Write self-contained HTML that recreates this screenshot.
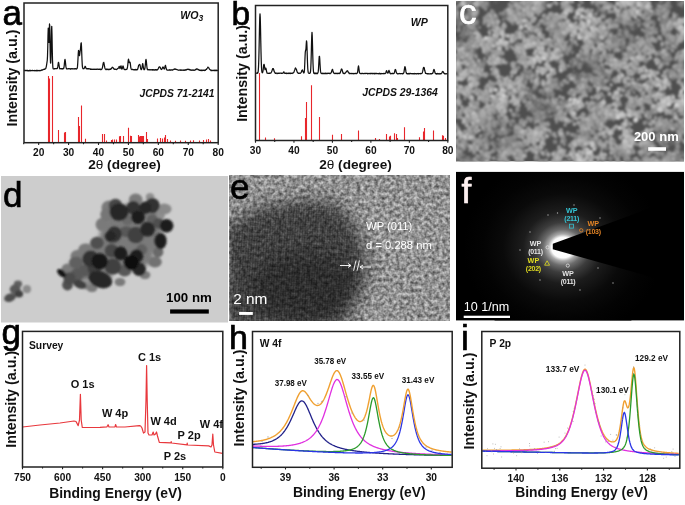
<!DOCTYPE html>
<html><head><meta charset="utf-8"><title>Figure</title>
<style>html,body{margin:0;padding:0;background:#fff;}svg{display:block;}text{font-family:"Liberation Sans", Arial, sans-serif;}</style></head>
<body><svg width="685" height="505" viewBox="0 0 685 505">
<rect width="685" height="505" fill="#fff"/>
<path d="M24.00,70.51 L24.25,70.43 L24.50,70.68 L24.75,70.39 L25.00,70.62 L25.25,70.53 L25.50,70.38 L25.75,70.60 L26.00,70.37 L26.25,70.57 L26.50,70.38 L26.75,70.40 L27.00,70.56 L27.25,70.76 L27.50,70.41 L27.75,70.46 L28.00,70.66 L28.25,70.82 L28.50,70.64 L28.75,70.55 L29.00,70.84 L29.25,70.37 L29.50,70.78 L29.75,70.49 L30.00,70.42 L30.25,70.41 L30.50,70.50 L30.75,70.76 L31.00,70.44 L31.25,70.64 L31.50,70.67 L31.75,70.54 L32.00,70.62 L32.25,70.38 L32.50,70.38 L32.75,70.45 L33.00,70.69 L33.25,70.56 L33.50,70.51 L33.75,70.64 L34.00,70.58 L34.25,70.50 L34.50,70.75 L34.75,70.70 L35.00,70.47 L35.25,70.64 L35.50,70.61 L35.75,70.79 L36.00,70.71 L36.25,70.49 L36.50,70.84 L36.75,70.41 L37.00,70.56 L37.25,70.73 L37.50,70.43 L37.75,70.59 L38.00,70.37 L38.25,70.68 L38.50,70.73 L38.75,70.64 L39.00,70.79 L39.25,70.51 L39.50,70.70 L39.75,70.65 L40.00,70.64 L40.25,70.50 L40.50,70.62 L40.75,70.60 L41.00,70.29 L41.25,70.31 L41.50,69.93 L41.75,70.18 L42.00,70.07 L42.25,70.17 L42.50,70.01 L42.75,69.67 L43.00,69.64 L43.25,69.71 L43.50,69.31 L43.75,69.46 L44.00,69.23 L44.25,69.13 L44.50,69.03 L44.75,69.31 L45.00,68.91 L45.25,68.86 L45.50,68.77 L45.75,68.69 L46.00,67.67 L46.25,66.83 L46.50,65.38 L46.75,63.82 L47.00,62.20 L47.25,60.47 L47.50,56.27 L47.75,47.57 L48.00,35.37 L48.25,28.14 L48.50,31.73 L48.75,40.35 L49.00,42.41 L49.25,33.58 L49.50,23.96 L49.75,26.19 L50.00,40.02 L50.25,54.76 L50.50,62.77 L50.75,63.08 L51.00,55.80 L51.25,42.85 L51.50,30.25 L51.75,26.36 L52.00,34.54 L52.25,48.58 L52.50,60.07 L52.75,65.76 L53.00,68.34 L53.25,68.83 L53.50,68.97 L53.75,68.95 L54.00,68.75 L54.25,68.75 L54.50,68.60 L54.75,68.87 L55.00,68.58 L55.25,68.58 L55.50,68.65 L55.75,68.63 L56.00,68.72 L56.25,68.58 L56.50,68.55 L56.75,68.61 L57.00,68.53 L57.25,68.45 L57.50,67.70 L57.75,66.91 L58.00,64.98 L58.25,62.98 L58.50,62.28 L58.75,63.08 L59.00,64.85 L59.25,66.53 L59.50,68.11 L59.75,68.77 L60.00,68.71 L60.25,68.78 L60.50,68.59 L60.75,68.60 L61.00,68.72 L61.25,68.68 L61.50,68.96 L61.75,68.63 L62.00,68.56 L62.25,69.03 L62.50,68.81 L62.75,68.62 L63.00,68.81 L63.25,68.51 L63.50,68.59 L63.75,68.34 L64.00,67.22 L64.25,65.27 L64.50,62.59 L64.75,60.44 L65.00,59.43 L65.25,60.64 L65.50,62.73 L65.75,65.31 L66.00,66.95 L66.25,67.97 L66.50,68.73 L66.75,68.98 L67.00,68.96 L67.25,68.95 L67.50,68.96 L67.75,68.92 L68.00,68.66 L68.25,68.81 L68.50,68.73 L68.75,68.56 L69.00,68.56 L69.25,68.69 L69.50,68.68 L69.75,68.90 L70.00,69.03 L70.25,68.77 L70.50,69.02 L70.75,69.04 L71.00,69.03 L71.25,68.73 L71.50,68.66 L71.75,68.66 L72.00,68.65 L72.25,68.65 L72.50,68.86 L72.75,69.00 L73.00,68.97 L73.25,68.79 L73.50,68.88 L73.75,68.95 L74.00,68.59 L74.25,68.88 L74.50,69.00 L74.75,68.94 L75.00,68.93 L75.25,68.79 L75.50,68.64 L75.75,68.94 L76.00,68.72 L76.25,68.95 L76.50,69.02 L76.75,68.68 L77.00,68.48 L77.25,68.11 L77.50,66.41 L77.75,63.03 L78.00,58.41 L78.25,53.49 L78.50,50.65 L78.75,50.52 L79.00,52.55 L79.25,55.23 L79.50,55.61 L79.75,53.83 L80.00,51.84 L80.25,50.70 L80.50,48.85 L80.75,45.82 L81.00,43.30 L81.25,42.87 L81.50,46.68 L81.75,53.52 L82.00,59.91 L82.25,64.86 L82.50,67.40 L82.75,68.17 L83.00,68.56 L83.25,68.67 L83.50,68.66 L83.75,68.81 L84.00,68.54 L84.25,68.35 L84.50,67.68 L84.75,67.34 L85.00,66.42 L85.25,66.29 L85.50,66.75 L85.75,67.64 L86.00,68.07 L86.25,68.73 L86.50,68.72 L86.75,68.80 L87.00,68.81 L87.25,68.56 L87.50,68.77 L87.75,68.64 L88.00,68.55 L88.25,68.95 L88.50,68.64 L88.75,68.79 L89.00,68.91 L89.25,68.83 L89.50,68.71 L89.75,68.81 L90.00,68.83 L90.25,69.34 L90.50,69.01 L90.75,69.24 L91.00,69.08 L91.25,69.10 L91.50,69.35 L91.75,69.22 L92.00,69.25 L92.25,69.35 L92.50,69.43 L92.75,69.20 L93.00,69.29 L93.25,69.24 L93.50,69.24 L93.75,69.33 L94.00,69.22 L94.25,69.26 L94.50,69.23 L94.75,69.47 L95.00,69.35 L95.25,69.44 L95.50,69.48 L95.75,69.14 L96.00,69.29 L96.25,69.48 L96.50,69.43 L96.75,69.09 L97.00,69.08 L97.25,69.24 L97.50,69.06 L97.75,69.15 L98.00,69.07 L98.25,69.37 L98.50,69.43 L98.75,69.49 L99.00,69.12 L99.25,69.40 L99.50,69.38 L99.75,69.12 L100.00,69.49 L100.25,69.54 L100.50,69.16 L100.75,69.53 L101.00,69.25 L101.25,69.28 L101.50,69.48 L101.75,69.27 L102.00,68.64 L102.25,68.21 L102.50,67.31 L102.75,65.93 L103.00,64.37 L103.25,63.12 L103.50,62.58 L103.75,62.32 L104.00,63.48 L104.25,64.81 L104.50,66.07 L104.75,67.46 L105.00,68.47 L105.25,68.93 L105.50,68.96 L105.75,69.54 L106.00,69.48 L106.25,69.59 L106.50,69.17 L106.75,69.25 L107.00,69.14 L107.25,69.51 L107.50,69.26 L107.75,69.19 L108.00,69.34 L108.25,69.59 L108.50,69.54 L108.75,69.27 L109.00,69.21 L109.25,69.60 L109.50,69.42 L109.75,69.48 L110.00,69.15 L110.25,69.09 L110.50,69.33 L110.75,69.06 L111.00,68.69 L111.25,68.86 L111.50,68.39 L111.75,68.14 L112.00,67.48 L112.25,67.65 L112.50,67.18 L112.75,67.66 L113.00,67.67 L113.25,67.92 L113.50,68.37 L113.75,68.88 L114.00,68.82 L114.25,68.95 L114.50,69.29 L114.75,69.23 L115.00,69.21 L115.25,69.26 L115.50,69.22 L115.75,69.31 L116.00,69.36 L116.25,69.36 L116.50,69.58 L116.75,69.29 L117.00,69.28 L117.25,68.89 L117.50,68.69 L117.75,68.28 L118.00,68.31 L118.25,68.15 L118.50,68.23 L118.75,67.47 L119.00,66.54 L119.25,66.48 L119.50,67.28 L119.75,67.74 L120.00,68.54 L120.25,67.97 L120.50,66.96 L120.75,66.16 L121.00,65.84 L121.25,66.77 L121.50,68.07 L121.75,69.06 L122.00,68.96 L122.25,68.77 L122.50,67.72 L122.75,66.57 L123.00,65.95 L123.25,66.43 L123.50,67.41 L123.75,68.47 L124.00,69.03 L124.25,69.59 L124.50,69.41 L124.75,69.38 L125.00,69.34 L125.25,69.72 L125.50,69.74 L125.75,69.64 L126.00,69.45 L126.25,69.42 L126.50,69.42 L126.75,69.40 L127.00,68.95 L127.25,68.37 L127.50,66.89 L127.75,65.10 L128.00,62.55 L128.25,60.16 L128.50,59.09 L128.75,60.08 L129.00,61.27 L129.25,62.51 L129.50,62.47 L129.75,62.10 L130.00,62.04 L130.25,63.19 L130.50,65.11 L130.75,67.30 L131.00,68.40 L131.25,69.18 L131.50,69.33 L131.75,69.55 L132.00,69.39 L132.25,69.38 L132.50,69.53 L132.75,69.49 L133.00,69.67 L133.25,69.65 L133.50,69.76 L133.75,69.72 L134.00,69.75 L134.25,69.83 L134.50,69.59 L134.75,69.56 L135.00,69.89 L135.25,69.48 L135.50,69.77 L135.75,69.73 L136.00,69.43 L136.25,69.83 L136.50,69.86 L136.75,69.73 L137.00,69.77 L137.25,69.77 L137.50,69.26 L137.75,69.00 L138.00,68.10 L138.25,67.02 L138.50,65.81 L138.75,65.14 L139.00,64.87 L139.25,64.93 L139.50,64.53 L139.75,64.46 L140.00,64.90 L140.25,66.17 L140.50,67.68 L140.75,68.83 L141.00,69.22 L141.25,69.72 L141.50,69.40 L141.75,68.80 L142.00,67.56 L142.25,65.86 L142.50,64.25 L142.75,63.58 L143.00,64.93 L143.25,66.62 L143.50,68.09 L143.75,69.10 L144.00,69.60 L144.25,69.41 L144.50,69.60 L144.75,68.83 L145.00,67.53 L145.25,65.51 L145.50,62.95 L145.75,60.18 L146.00,59.42 L146.25,60.57 L146.50,62.84 L146.75,65.58 L147.00,67.76 L147.25,69.07 L147.50,69.65 L147.75,69.77 L148.00,69.84 L148.25,69.57 L148.50,69.61 L148.75,69.66 L149.00,69.91 L149.25,69.69 L149.50,69.83 L149.75,69.55 L150.00,69.58 L150.25,69.69 L150.50,69.89 L150.75,69.90 L151.00,69.90 L151.25,69.71 L151.50,69.82 L151.75,69.80 L152.00,69.80 L152.25,69.63 L152.50,70.02 L152.75,69.68 L153.00,70.07 L153.25,70.05 L153.50,69.59 L153.75,69.82 L154.00,70.00 L154.25,70.08 L154.50,69.82 L154.75,69.73 L155.00,69.70 L155.25,70.08 L155.50,69.71 L155.75,69.90 L156.00,69.68 L156.25,69.87 L156.50,70.08 L156.75,69.65 L157.00,69.96 L157.25,69.74 L157.50,69.81 L157.75,69.51 L158.00,68.97 L158.25,68.90 L158.50,68.21 L158.75,67.46 L159.00,66.99 L159.25,66.91 L159.50,66.78 L159.75,66.82 L160.00,67.07 L160.25,67.64 L160.50,68.14 L160.75,68.88 L161.00,68.84 L161.25,69.44 L161.50,69.53 L161.75,69.00 L162.00,69.01 L162.25,68.35 L162.50,67.84 L162.75,67.07 L163.00,66.93 L163.25,67.13 L163.50,67.91 L163.75,68.31 L164.00,68.72 L164.25,68.99 L164.50,68.64 L164.75,67.64 L165.00,66.39 L165.25,65.75 L165.50,65.38 L165.75,66.61 L166.00,67.62 L166.25,68.77 L166.50,69.57 L166.75,69.69 L167.00,69.88 L167.25,70.20 L167.50,70.17 L167.75,70.13 L168.00,70.05 L168.25,70.19 L168.50,70.21 L168.75,70.01 L169.00,70.10 L169.25,69.77 L169.50,70.11 L169.75,69.97 L170.00,70.13 L170.25,70.07 L170.50,69.90 L170.75,69.78 L171.00,70.22 L171.25,69.82 L171.50,69.99 L171.75,69.91 L172.00,69.87 L172.25,70.07 L172.50,70.14 L172.75,69.73 L173.00,69.85 L173.25,69.57 L173.50,69.58 L173.75,69.37 L174.00,69.13 L174.25,69.01 L174.50,68.94 L174.75,69.22 L175.00,69.00 L175.25,68.89 L175.50,69.30 L175.75,69.44 L176.00,69.29 L176.25,69.27 L176.50,69.43 L176.75,69.50 L177.00,69.73 L177.25,69.69 L177.50,69.82 L177.75,69.88 L178.00,70.07 L178.25,70.25 L178.50,70.19 L178.75,70.04 L179.00,70.04 L179.25,70.10 L179.50,70.03 L179.75,70.02 L180.00,69.88 L180.25,69.99 L180.50,70.34 L180.75,69.92 L181.00,70.11 L181.25,70.18 L181.50,70.30 L181.75,69.98 L182.00,70.01 L182.25,70.00 L182.50,70.07 L182.75,70.10 L183.00,70.35 L183.25,70.30 L183.50,70.31 L183.75,69.88 L184.00,69.88 L184.25,70.21 L184.50,70.29 L184.75,70.05 L185.00,70.07 L185.25,69.74 L185.50,69.88 L185.75,70.09 L186.00,69.96 L186.25,69.89 L186.50,69.87 L186.75,69.42 L187.00,69.27 L187.25,69.22 L187.50,69.35 L187.75,69.40 L188.00,69.52 L188.25,69.43 L188.50,69.43 L188.75,69.54 L189.00,69.46 L189.25,69.60 L189.50,69.43 L189.75,69.89 L190.00,69.70 L190.25,70.13 L190.50,70.06 L190.75,69.95 L191.00,69.90 L191.25,70.00 L191.50,70.23 L191.75,70.28 L192.00,70.00 L192.25,69.99 L192.50,70.23 L192.75,70.26 L193.00,70.17 L193.25,70.08 L193.50,70.27 L193.75,69.96 L194.00,70.08 L194.25,70.13 L194.50,70.33 L194.75,70.10 L195.00,70.13 L195.25,69.80 L195.50,69.54 L195.75,69.39 L196.00,69.59 L196.25,69.32 L196.50,69.00 L196.75,68.79 L197.00,69.00 L197.25,69.12 L197.50,69.07 L197.75,69.11 L198.00,69.47 L198.25,69.76 L198.50,69.57 L198.75,69.62 L199.00,69.89 L199.25,70.03 L199.50,70.24 L199.75,70.05 L200.00,70.39 L200.25,70.39 L200.50,70.29 L200.75,70.15 L201.00,70.54 L201.25,70.22 L201.50,70.47 L201.75,70.18 L202.00,70.18 L202.25,70.45 L202.50,70.22 L202.75,70.55 L203.00,70.33 L203.25,70.18 L203.50,70.20 L203.75,70.29 L204.00,70.42 L204.25,70.56 L204.50,70.15 L204.75,70.25 L205.00,70.13 L205.25,70.45 L205.50,69.94 L205.75,69.74 L206.00,69.53 L206.25,69.41 L206.50,69.31 L206.75,68.89 L207.00,68.38 L207.25,68.10 L207.50,67.72 L207.75,67.19 L208.00,67.04 L208.25,67.50 L208.50,67.64 L208.75,67.63 L209.00,68.37 L209.25,68.66 L209.50,69.08 L209.75,69.42 L210.00,69.63 L210.25,69.76 L210.50,70.05 L210.75,70.19 L211.00,70.56 L211.25,70.18 L211.50,70.63 L211.75,70.26 L212.00,70.34 L212.25,70.58 L212.50,70.59 L212.75,70.39 L213.00,70.20 L213.25,70.42 L213.50,70.37 L213.75,70.65 L214.00,70.29 L214.25,70.37 L214.50,70.64 L214.75,70.21 L215.00,70.41 L215.25,70.61 L215.50,70.59 L215.75,70.23 L216.00,70.23 L216.25,70.24 L216.50,70.68 L216.75,70.35 L217.00,70.59 L217.25,70.67 L217.50,70.39 L217.75,70.36 L218.00,70.71" fill="none" stroke="#111" stroke-width="1.25" stroke-linejoin="round"/>
<path d="M48.5,142.7 V76.1 M49.5,142.7 V78.5 M52.5,142.7 V76.1 M58.5,142.7 V130 M64.5,142.7 V132.4 M65.5,142.7 V131.9 M78.5,142.7 V117 M79.5,142.7 V126 M81.5,142.7 V105.4 M85.5,142.7 V138.7 M102.5,142.7 V133.9 M104.5,142.7 V133.9 M106.5,142.7 V140.5 M111.5,142.7 V140 M112.5,142.7 V139.5 M114.5,142.7 V139.5 M116.5,142.7 V139.5 M119.5,142.7 V136.3 M120.5,142.7 V136 M123.5,142.7 V136 M128.5,142.7 V127.7 M130.5,142.7 V135.7 M131.5,142.7 V136 M138.5,142.7 V135 M139.5,142.7 V136.5 M140.5,142.7 V136 M141.5,142.7 V136 M142.5,142.7 V136 M143.5,142.7 V136 M146.5,142.7 V132.1 M147.5,142.7 V139 M157.5,142.7 V138.5 M160.5,142.7 V138 M162.5,142.7 V138.5 M164.5,142.7 V137.5 M165.5,142.7 V135 M167.5,142.7 V139 M170.5,142.7 V140.5 M175.5,142.7 V140.8 M180.5,142.7 V140.5 M185.5,142.7 V140.8 M190.5,142.7 V140.5 M193.5,142.7 V140.2 M199.5,142.7 V140.5 M203.5,142.7 V140 M206.5,142.7 V139.5 M208.5,142.7 V139 M210.5,142.7 V140.5 " stroke="#e8262b" stroke-width="1.1" fill="none"/>
<rect x="24" y="3" width="194.2" height="139.7" fill="none" stroke="#222" stroke-width="1.5"/>
<path d="M38.66,142.7 v2.2 M68.58,142.7 v2.2 M98.50,142.7 v2.2 M128.42,142.7 v2.2 M158.34,142.7 v2.2 M188.26,142.7 v2.2 M218.18,142.7 v2.2 M23.70,142.7 v1.54 M53.62,142.7 v1.54 M83.54,142.7 v1.54 M113.46,142.7 v1.54 M143.38,142.7 v1.54 M173.30,142.7 v1.54 M203.22,142.7 v1.54 " stroke="#222" stroke-width="1.1" fill="none"/>
<text x="38.7" y="156" font-size="10.2" font-weight="bold" fill="#111" text-anchor="middle" >20</text>
<text x="68.6" y="156" font-size="10.2" font-weight="bold" fill="#111" text-anchor="middle" >30</text>
<text x="98.5" y="156" font-size="10.2" font-weight="bold" fill="#111" text-anchor="middle" >40</text>
<text x="128.4" y="156" font-size="10.2" font-weight="bold" fill="#111" text-anchor="middle" >50</text>
<text x="158.3" y="156" font-size="10.2" font-weight="bold" fill="#111" text-anchor="middle" >60</text>
<text x="188.3" y="156" font-size="10.2" font-weight="bold" fill="#111" text-anchor="middle" >70</text>
<text x="218.2" y="156" font-size="10.2" font-weight="bold" fill="#111" text-anchor="middle" >80</text>
<text x="124.5" y="168.5" font-size="13.6" font-weight="bold" fill="#111" text-anchor="middle">2<tspan font-weight="normal">θ</tspan> (degree)</text>
<text x="180.3" y="18.8" font-size="10.6" font-weight="bold" fill="#111" text-anchor="start" font-style="italic" >WO<tspan font-size="8.5" dy="2.2">3</tspan></text>
<text x="139.6" y="97" font-size="10.3" font-weight="bold" fill="#111" text-anchor="start" font-style="italic" >JCPDS 71-2141</text>
<text transform="translate(16.8,78) rotate(-90)" font-size="14.3" font-weight="bold" fill="#111" text-anchor="middle">Intensity (a.u.)</text>
<text x="2.6" y="24.9" font-size="35" fill="#000" stroke="#000" stroke-width="0.7">a</text>
<path d="M256.00,73.26 L256.25,73.08 L256.50,73.31 L256.75,73.11 L257.00,73.09 L257.25,72.93 L257.50,73.23 L257.75,73.08 L258.00,72.27 L258.25,70.83 L258.50,67.00 L258.75,61.04 L259.00,51.82 L259.25,40.03 L259.50,27.48 L259.75,17.51 L260.00,13.78 L260.25,17.53 L260.50,27.25 L260.75,40.02 L261.00,51.68 L261.25,61.33 L261.50,67.37 L261.75,70.77 L262.00,72.32 L262.25,72.81 L262.50,72.64 L262.75,72.08 L263.00,70.90 L263.25,69.23 L263.50,66.64 L263.75,64.80 L264.00,64.32 L264.25,64.78 L264.50,66.45 L264.75,68.29 L265.00,69.55 L265.25,69.26 L265.50,68.70 L265.75,68.09 L266.00,68.61 L266.25,69.62 L266.50,71.06 L266.75,72.17 L267.00,72.94 L267.25,73.26 L267.50,73.19 L267.75,73.10 L268.00,73.20 L268.25,73.30 L268.50,73.33 L268.75,73.37 L269.00,73.42 L269.25,73.32 L269.50,73.05 L269.75,73.41 L270.00,73.12 L270.25,73.23 L270.50,73.08 L270.75,73.16 L271.00,72.70 L271.25,72.40 L271.50,71.94 L271.75,71.26 L272.00,70.88 L272.25,69.93 L272.50,69.09 L272.75,68.63 L273.00,68.75 L273.25,68.68 L273.50,69.05 L273.75,70.05 L274.00,70.77 L274.25,71.69 L274.50,71.87 L274.75,72.53 L275.00,73.02 L275.25,73.22 L275.50,73.37 L275.75,72.99 L276.00,73.14 L276.25,73.07 L276.50,73.11 L276.75,73.50 L277.00,73.31 L277.25,73.48 L277.50,73.20 L277.75,73.45 L278.00,73.24 L278.25,73.15 L278.50,73.41 L278.75,73.49 L279.00,73.07 L279.25,73.32 L279.50,73.33 L279.75,73.13 L280.00,73.21 L280.25,73.10 L280.50,73.13 L280.75,73.15 L281.00,73.33 L281.25,73.35 L281.50,73.13 L281.75,73.04 L282.00,73.19 L282.25,73.37 L282.50,73.12 L282.75,73.15 L283.00,72.98 L283.25,72.97 L283.50,72.41 L283.75,71.89 L284.00,72.04 L284.25,72.61 L284.50,73.06 L284.75,73.29 L285.00,73.07 L285.25,73.12 L285.50,73.39 L285.75,73.25 L286.00,73.18 L286.25,73.20 L286.50,73.52 L286.75,73.20 L287.00,73.33 L287.25,73.23 L287.50,73.26 L287.75,73.48 L288.00,73.55 L288.25,73.23 L288.50,73.15 L288.75,73.42 L289.00,73.15 L289.25,73.06 L289.50,73.50 L289.75,73.27 L290.00,73.47 L290.25,73.26 L290.50,73.50 L290.75,73.29 L291.00,73.14 L291.25,73.07 L291.50,73.33 L291.75,73.38 L292.00,73.51 L292.25,73.09 L292.50,73.33 L292.75,73.16 L293.00,73.14 L293.25,72.81 L293.50,72.63 L293.75,72.38 L294.00,72.08 L294.25,71.02 L294.50,70.46 L294.75,69.83 L295.00,69.19 L295.25,68.26 L295.50,67.94 L295.75,68.38 L296.00,68.74 L296.25,69.09 L296.50,69.62 L296.75,70.84 L297.00,71.31 L297.25,72.19 L297.50,72.53 L297.75,72.97 L298.00,72.87 L298.25,73.32 L298.50,73.11 L298.75,73.25 L299.00,73.49 L299.25,73.49 L299.50,73.17 L299.75,73.19 L300.00,73.27 L300.25,73.30 L300.50,73.16 L300.75,72.86 L301.00,72.62 L301.25,72.37 L301.50,71.80 L301.75,70.66 L302.00,70.32 L302.25,70.14 L302.50,69.90 L302.75,70.79 L303.00,71.13 L303.25,72.06 L303.50,72.60 L303.75,72.97 L304.00,72.79 L304.25,72.02 L304.50,69.52 L304.75,64.33 L305.00,57.81 L305.25,52.51 L305.50,50.67 L305.75,50.12 L306.00,48.32 L306.25,44.08 L306.50,40.79 L306.75,42.03 L307.00,47.57 L307.25,55.34 L307.50,62.69 L307.75,68.19 L308.00,71.04 L308.25,72.44 L308.50,73.11 L308.75,73.10 L309.00,73.32 L309.25,73.36 L309.50,73.13 L309.75,73.40 L310.00,73.00 L310.25,72.90 L310.50,71.71 L310.75,68.71 L311.00,62.95 L311.25,54.66 L311.50,44.43 L311.75,36.12 L312.00,32.32 L312.25,36.08 L312.50,44.74 L312.75,54.78 L313.00,63.34 L313.25,68.56 L313.50,71.82 L313.75,72.79 L314.00,73.45 L314.25,73.55 L314.50,73.20 L314.75,73.52 L315.00,73.60 L315.25,73.16 L315.50,73.31 L315.75,73.51 L316.00,73.21 L316.25,73.58 L316.50,73.27 L316.75,73.54 L317.00,73.21 L317.25,73.38 L317.50,73.55 L317.75,73.05 L318.00,72.58 L318.25,71.42 L318.50,68.69 L318.75,64.41 L319.00,59.73 L319.25,56.27 L319.50,56.31 L319.75,59.12 L320.00,63.89 L320.25,67.90 L320.50,71.16 L320.75,72.34 L321.00,73.16 L321.25,73.41 L321.50,73.32 L321.75,73.58 L322.00,73.43 L322.25,73.44 L322.50,73.59 L322.75,73.21 L323.00,73.65 L323.25,73.47 L323.50,73.35 L323.75,73.56 L324.00,73.29 L324.25,73.65 L324.50,73.45 L324.75,73.34 L325.00,73.54 L325.25,73.38 L325.50,73.25 L325.75,73.53 L326.00,73.19 L326.25,73.57 L326.50,73.29 L326.75,73.48 L327.00,73.66 L327.25,73.46 L327.50,73.50 L327.75,73.32 L328.00,73.17 L328.25,73.19 L328.50,73.25 L328.75,73.48 L329.00,73.39 L329.25,73.43 L329.50,73.62 L329.75,73.24 L330.00,73.29 L330.25,73.50 L330.50,73.16 L330.75,73.09 L331.00,73.09 L331.25,72.59 L331.50,72.05 L331.75,71.05 L332.00,70.24 L332.25,69.57 L332.50,69.31 L332.75,70.09 L333.00,70.98 L333.25,71.77 L333.50,72.90 L333.75,72.99 L334.00,73.15 L334.25,73.20 L334.50,73.50 L334.75,73.62 L335.00,73.58 L335.25,73.39 L335.50,73.32 L335.75,73.20 L336.00,73.52 L336.25,73.47 L336.50,73.37 L336.75,73.52 L337.00,73.42 L337.25,73.67 L337.50,73.56 L337.75,73.32 L338.00,73.65 L338.25,73.22 L338.50,73.47 L338.75,73.40 L339.00,73.32 L339.25,73.22 L339.50,73.54 L339.75,73.07 L340.00,73.15 L340.25,72.97 L340.50,71.95 L340.75,71.13 L341.00,70.35 L341.25,69.44 L341.50,69.02 L341.75,69.16 L342.00,69.43 L342.25,70.40 L342.50,71.37 L342.75,72.05 L343.00,73.04 L343.25,73.32 L343.50,73.46 L343.75,73.18 L344.00,73.62 L344.25,73.57 L344.50,73.42 L344.75,73.52 L345.00,73.31 L345.25,73.07 L345.50,72.81 L345.75,72.58 L346.00,72.10 L346.25,71.80 L346.50,71.55 L346.75,71.12 L347.00,70.94 L347.25,70.81 L347.50,70.73 L347.75,71.20 L348.00,71.58 L348.25,72.22 L348.50,72.51 L348.75,72.73 L349.00,73.18 L349.25,73.51 L349.50,73.24 L349.75,73.62 L350.00,73.22 L350.25,73.36 L350.50,73.35 L350.75,73.61 L351.00,73.71 L351.25,73.61 L351.50,73.40 L351.75,73.68 L352.00,73.41 L352.25,73.36 L352.50,73.70 L352.75,73.56 L353.00,73.59 L353.25,73.58 L353.50,73.74 L353.75,73.48 L354.00,73.67 L354.25,73.60 L354.50,73.68 L354.75,73.47 L355.00,73.61 L355.25,73.54 L355.50,73.41 L355.75,73.36 L356.00,73.56 L356.25,73.29 L356.50,73.71 L356.75,73.31 L357.00,73.19 L357.25,72.99 L357.50,72.73 L357.75,71.06 L358.00,68.90 L358.25,66.82 L358.50,65.97 L358.75,67.16 L359.00,69.14 L359.25,71.24 L359.50,72.64 L359.75,72.98 L360.00,73.48 L360.25,73.43 L360.50,73.67 L360.75,73.68 L361.00,73.71 L361.25,73.30 L361.50,73.70 L361.75,73.73 L362.00,73.74 L362.25,73.33 L362.50,73.38 L362.75,73.33 L363.00,73.29 L363.25,73.70 L363.50,73.68 L363.75,73.59 L364.00,73.69 L364.25,73.59 L364.50,73.42 L364.75,73.33 L365.00,73.33 L365.25,73.66 L365.50,73.38 L365.75,73.44 L366.00,73.49 L366.25,73.29 L366.50,73.41 L366.75,73.43 L367.00,73.64 L367.25,73.47 L367.50,73.45 L367.75,73.77 L368.00,73.54 L368.25,73.72 L368.50,73.60 L368.75,73.31 L369.00,73.50 L369.25,73.51 L369.50,73.68 L369.75,73.47 L370.00,73.65 L370.25,73.56 L370.50,73.40 L370.75,73.73 L371.00,73.34 L371.25,73.71 L371.50,73.38 L371.75,73.30 L372.00,73.40 L372.25,73.68 L372.50,73.79 L372.75,73.31 L373.00,73.55 L373.25,73.55 L373.50,73.70 L373.75,73.40 L374.00,73.55 L374.25,73.48 L374.50,73.72 L374.75,73.44 L375.00,73.78 L375.25,73.45 L375.50,73.42 L375.75,73.66 L376.00,73.56 L376.25,73.37 L376.50,73.63 L376.75,73.36 L377.00,73.71 L377.25,73.67 L377.50,73.71 L377.75,73.63 L378.00,73.50 L378.25,73.52 L378.50,73.52 L378.75,73.77 L379.00,73.37 L379.25,73.77 L379.50,73.34 L379.75,73.43 L380.00,73.46 L380.25,73.78 L380.50,73.58 L380.75,73.52 L381.00,73.77 L381.25,73.45 L381.50,73.56 L381.75,73.60 L382.00,73.71 L382.25,73.71 L382.50,73.66 L382.75,73.51 L383.00,73.50 L383.25,73.41 L383.50,73.76 L383.75,73.67 L384.00,73.71 L384.25,73.42 L384.50,73.56 L384.75,73.72 L385.00,73.61 L385.25,73.33 L385.50,73.32 L385.75,73.10 L386.00,72.05 L386.25,71.17 L386.50,70.66 L386.75,70.93 L387.00,71.66 L387.25,72.17 L387.50,72.82 L387.75,73.13 L388.00,73.04 L388.25,72.59 L388.50,71.55 L388.75,70.78 L389.00,70.34 L389.25,71.10 L389.50,71.84 L389.75,72.40 L390.00,73.42 L390.25,73.27 L390.50,73.51 L390.75,73.84 L391.00,73.75 L391.25,73.73 L391.50,73.58 L391.75,73.46 L392.00,73.68 L392.25,73.42 L392.50,73.47 L392.75,73.56 L393.00,73.38 L393.25,73.56 L393.50,73.73 L393.75,73.62 L394.00,73.34 L394.25,73.01 L394.50,72.23 L394.75,71.09 L395.00,70.29 L395.25,69.48 L395.50,69.58 L395.75,70.27 L396.00,71.03 L396.25,72.11 L396.50,72.96 L396.75,73.25 L397.00,73.37 L397.25,73.70 L397.50,73.81 L397.75,73.76 L398.00,73.73 L398.25,73.81 L398.50,73.72 L398.75,73.70 L399.00,73.61 L399.25,73.54 L399.50,73.70 L399.75,73.43 L400.00,73.59 L400.25,73.78 L400.50,73.74 L400.75,73.70 L401.00,73.51 L401.25,73.60 L401.50,73.62 L401.75,73.70 L402.00,73.60 L402.25,73.73 L402.50,73.86 L402.75,73.48 L403.00,73.69 L403.25,73.68 L403.50,73.28 L403.75,72.84 L404.00,72.13 L404.25,70.19 L404.50,68.69 L404.75,67.02 L405.00,66.74 L405.25,67.41 L405.50,68.68 L405.75,70.23 L406.00,71.93 L406.25,72.87 L406.50,73.45 L406.75,73.56 L407.00,73.70 L407.25,73.82 L407.50,73.67 L407.75,73.61 L408.00,73.88 L408.25,73.51 L408.50,73.75 L408.75,73.61 L409.00,73.79 L409.25,73.47 L409.50,73.91 L409.75,73.59 L410.00,73.44 L410.25,73.55 L410.50,73.62 L410.75,73.42 L411.00,73.63 L411.25,73.63 L411.50,73.77 L411.75,73.60 L412.00,73.55 L412.25,73.53 L412.50,73.79 L412.75,73.89 L413.00,73.69 L413.25,73.53 L413.50,73.83 L413.75,73.62 L414.00,73.53 L414.25,73.49 L414.50,73.82 L414.75,73.83 L415.00,73.75 L415.25,73.67 L415.50,73.71 L415.75,73.55 L416.00,73.91 L416.25,73.61 L416.50,73.75 L416.75,73.84 L417.00,73.84 L417.25,73.67 L417.50,73.58 L417.75,73.71 L418.00,73.50 L418.25,73.86 L418.50,73.62 L418.75,73.87 L419.00,73.58 L419.25,73.63 L419.50,73.57 L419.75,73.66 L420.00,73.54 L420.25,73.45 L420.50,73.81 L420.75,73.58 L421.00,73.56 L421.25,73.56 L421.50,73.58 L421.75,73.42 L422.00,73.24 L422.25,72.77 L422.50,71.87 L422.75,71.13 L423.00,69.87 L423.25,68.27 L423.50,67.71 L423.75,67.32 L424.00,67.45 L424.25,67.89 L424.50,69.37 L424.75,70.51 L425.00,71.32 L425.25,72.19 L425.50,73.25 L425.75,73.45 L426.00,73.44 L426.25,73.45 L426.50,73.51 L426.75,73.57 L427.00,73.85 L427.25,73.64 L427.50,73.54 L427.75,73.92 L428.00,73.86 L428.25,73.55 L428.50,73.92 L428.75,73.78 L429.00,73.86 L429.25,73.81 L429.50,73.92 L429.75,73.87 L430.00,73.89 L430.25,73.57 L430.50,73.82 L430.75,73.74 L431.00,73.85 L431.25,73.70 L431.50,73.92 L431.75,73.75 L432.00,73.60 L432.25,73.54 L432.50,73.36 L432.75,73.23 L433.00,72.43 L433.25,71.73 L433.50,70.49 L433.75,69.76 L434.00,69.40 L434.25,69.78 L434.50,70.86 L434.75,71.51 L435.00,72.83 L435.25,73.23 L435.50,73.58 L435.75,73.76 L436.00,73.90 L436.25,73.68 L436.50,73.70 L436.75,73.98 L437.00,73.53 L437.25,73.82 L437.50,73.82 L437.75,73.51 L438.00,73.80 L438.25,73.84 L438.50,73.97 L438.75,73.67 L439.00,73.99 L439.25,73.76 L439.50,73.75 L439.75,73.95 L440.00,73.52 L440.25,73.86 L440.50,73.81 L440.75,73.65 L441.00,73.86 L441.25,73.50 L441.50,73.34 L441.75,73.04 L442.00,72.72 L442.25,71.95 L442.50,71.67 L442.75,71.47 L443.00,71.62 L443.25,72.09 L443.50,72.29 L443.75,73.03 L444.00,73.20 L444.25,73.50 L444.50,73.54 L444.75,73.73 L445.00,73.99 L445.25,73.84 L445.50,73.92 L445.75,73.69 L446.00,73.68 L446.25,73.67 L446.50,73.82 L446.75,73.84 L447.00,73.92 L447.25,73.55 L447.50,73.89" fill="none" stroke="#111" stroke-width="1.25" stroke-linejoin="round"/>
<path d="M259.5,140.5 V72.9 M265.5,140.5 V137.6 M274.5,140.5 V138.2 M301.5,140.5 V136.3 M305.5,140.5 V118.1 M306.5,140.5 V101.9 M311.5,140.5 V85.3 M319.5,140.5 V117 M332.5,140.5 V134.7 M341.5,140.5 V134.1 M358.5,140.5 V130.5 M375.5,140.5 V138.1 M379.5,140.5 V139 M386.5,140.5 V134.1 M389.5,140.5 V136.5 M390.5,140.5 V135.7 M394.5,140.5 V133.3 M396.5,140.5 V134.1 M397.5,140.5 V138 M404.5,140.5 V127.3 M419.5,140.5 V137.3 M423.5,140.5 V131.6 M424.5,140.5 V128.1 M433.5,140.5 V130.5 M442.5,140.5 V135.2 M443.5,140.5 V135.7 M445.5,140.5 V138 " stroke="#e8262b" stroke-width="1.1" fill="none"/>
<rect x="255.5" y="5.5" width="192.3" height="135.0" fill="none" stroke="#222" stroke-width="1.5"/>
<path d="M255.50,140.5 v2.2 M293.96,140.5 v2.2 M332.42,140.5 v2.2 M370.88,140.5 v2.2 M409.34,140.5 v2.2 M447.80,140.5 v2.2 M274.73,140.5 v1.54 M313.19,140.5 v1.54 M351.65,140.5 v1.54 M390.11,140.5 v1.54 M428.57,140.5 v1.54 " stroke="#222" stroke-width="1.1" fill="none"/>
<text x="255.5" y="153.5" font-size="10.2" font-weight="bold" fill="#111" text-anchor="middle" >30</text>
<text x="294.0" y="153.5" font-size="10.2" font-weight="bold" fill="#111" text-anchor="middle" >40</text>
<text x="332.4" y="153.5" font-size="10.2" font-weight="bold" fill="#111" text-anchor="middle" >50</text>
<text x="370.9" y="153.5" font-size="10.2" font-weight="bold" fill="#111" text-anchor="middle" >60</text>
<text x="409.3" y="153.5" font-size="10.2" font-weight="bold" fill="#111" text-anchor="middle" >70</text>
<text x="447.8" y="153.5" font-size="10.2" font-weight="bold" fill="#111" text-anchor="middle" >80</text>
<text x="355.5" y="168.5" font-size="13.6" font-weight="bold" fill="#111" text-anchor="middle">2<tspan font-weight="normal">θ</tspan> (degree)</text>
<text x="410.7" y="25.7" font-size="10.6" font-weight="bold" fill="#111" text-anchor="start" font-style="italic" >WP</text>
<text x="362.2" y="95.5" font-size="10.4" font-weight="bold" fill="#111" text-anchor="start" font-style="italic" >JCPDS 29-1364</text>
<text transform="translate(247,73.4) rotate(-90)" font-size="14.3" font-weight="bold" fill="#111" text-anchor="middle">Intensity (a.u.)</text>
<text x="231.4" y="25.3" font-size="33.5" fill="#000" stroke="#000" stroke-width="0.7">b</text>
<defs>
<filter id="semf" x="0" y="0" width="100%" height="100%" color-interpolation-filters="sRGB">
<feTurbulence type="fractalNoise" baseFrequency="0.16" numOctaves="3" seed="8" result="n"/>
<feColorMatrix in="n" type="matrix" values="1 0 0 0 0  1 0 0 0 0  1 0 0 0 0  0 0 0 0 1" result="g"/>
<feComponentTransfer in="g"><feFuncR type="linear" slope="1.6" intercept="-0.3"/><feFuncG type="linear" slope="1.6" intercept="-0.3"/><feFuncB type="linear" slope="1.6" intercept="-0.3"/></feComponentTransfer>
<feGaussianBlur stdDeviation="0.8"/>
</filter>
<filter id="lowf" x="0" y="0" width="100%" height="100%" color-interpolation-filters="sRGB">
<feTurbulence type="fractalNoise" baseFrequency="0.035" numOctaves="2" seed="21" result="n"/>
<feColorMatrix in="n" type="matrix" values="0 0 0 0 0  0 0 0 0 0  0 0 0 0 0  -2.2 0 0 0 1.25"/>
</filter>
<filter id="temf" x="0" y="0" width="100%" height="100%" color-interpolation-filters="sRGB">
<feTurbulence type="fractalNoise" baseFrequency="0.28" numOctaves="2" seed="5" result="n"/>
<feColorMatrix in="n" type="matrix" values="1 0 0 0 0  1 0 0 0 0  1 0 0 0 0  0 0 0 0 1" result="g"/>
<feComponentTransfer in="g"><feFuncR type="linear" slope="0.75" intercept="0.2"/><feFuncG type="linear" slope="0.75" intercept="0.2"/><feFuncB type="linear" slope="0.75" intercept="0.2"/></feComponentTransfer>
<feGaussianBlur stdDeviation="0.6"/>
</filter>
<filter id="semblur" x="0" y="0" width="100%" height="100%"><feGaussianBlur stdDeviation="0.9"/></filter>
<filter id="latblur" x="-5%" y="-5%" width="110%" height="110%"><feGaussianBlur stdDeviation="0.45"/></filter>
<filter id="blur1" x="-20%" y="-20%" width="140%" height="140%"><feGaussianBlur stdDeviation="1.2"/></filter>
<filter id="blur6" x="-50%" y="-50%" width="200%" height="200%"><feGaussianBlur stdDeviation="9"/></filter>
<filter id="blur3" x="-50%" y="-50%" width="200%" height="200%"><feGaussianBlur stdDeviation="2"/></filter>
<radialGradient id="glow" cx="563" cy="247.5" r="100" gradientUnits="userSpaceOnUse" gradientTransform="translate(563 247.5) scale(1 0.9) translate(-563 -247.5)">
<stop offset="0" stop-color="#fff"/><stop offset="0.115" stop-color="#fbfbfb"/><stop offset="0.15" stop-color="#a8a8a8"/>
<stop offset="0.2" stop-color="#6c6c6c"/><stop offset="0.28" stop-color="#3c3c3c"/><stop offset="0.4" stop-color="#1c1c1c"/><stop offset="0.6" stop-color="#0a0a0a"/><stop offset="0.8" stop-color="#030303"/><stop offset="1" stop-color="#000"/>
</radialGradient>
<pattern id="latt" x="0" y="0" width="2.5" height="2.2" patternUnits="userSpaceOnUse" patternTransform="rotate(4)">
<rect x="0" y="0" width="0.9" height="2.2" fill="#000" opacity="0.35"/><rect x="0" y="0" width="2.5" height="0.7" fill="#000" opacity="0.15"/></pattern>
<clipPath id="clipc"><rect x="456" y="1" width="228" height="160.5"/></clipPath>
<clipPath id="clipd"><rect x="1" y="176" width="227" height="146.5"/></clipPath>
<clipPath id="clipe"><rect x="229.5" y="175.9" width="219.9" height="145"/></clipPath>
<clipPath id="clipf"><rect x="456" y="171.9" width="228" height="148.5"/></clipPath>
</defs>
<g clip-path="url(#clipc)"><rect x="456" y="1" width="228" height="160.5" fill="#4e4e4e"/><g filter="url(#semblur)" stroke-linecap="round" fill="none"><path stroke="rgb(90,90,90)" stroke-width="4.8" d="M659.7 139.5h0M671.0 144.0h0M537.5 105.5h0M536.3 100.4h0M498.8 143.3h0M613.9 41.9h0M626.0 48.4h0M486.2 123.8h0M685.9 3.1h0M650.8 160.8h0M503.6 133.1h0M581.5 63.1h0M508.4 109.9h0M632.8 24.2h0M572.2 45.1h0M469.3 19.4h0M463.3 161.8h0M524.0 89.1h0M517.7 86.6h0M595.8 64.0h0M546.3 110.5h0M594.2 62.7h0M548.8 109.2h0M495.7 1.7h0M490.8 -3.5h0M494.0 142.5h0M491.5 127.0h0M682.7 63.2h0M683.0 156.2h0M544.1 103.5h0M674.6 137.7h0M623.1 166.7h0M627.4 161.6h0M628.4 161.8h0M629.8 162.9h0M492.4 121.7h0M496.0 131.7h0M486.2 132.5h0M570.6 104.2h0M464.2 162.5h0M580.4 75.0h0M581.3 74.7h0"/><path stroke="rgb(90,90,90)" stroke-width="3.4" d="M585.8 62.6h0M547.5 100.5h0M550.5 116.3h0M498.2 143.0h0M624.2 48.2h0M620.0 45.6h0M624.5 47.5h0M685.3 -2.3h0M504.6 132.4h0M588.4 65.5h0M605.5 76.6h0M453.8 20.8h0M537.1 113.6h0M536.9 111.2h0M620.5 39.2h0M539.4 98.7h0M541.4 99.5h0M540.6 100.3h0M656.1 4.1h0M500.9 119.9h0M501.2 123.1h0M547.6 112.1h0M659.1 11.6h0M670.3 0.5h0M549.1 108.6h0M510.3 139.0h0M597.5 69.5h0M586.6 78.1h0M581.7 74.1h0M582.7 76.0h0M583.2 76.0h0M483.7 137.7h0M674.7 142.1h0M670.7 141.2h0M615.8 40.0h0M463.3 159.2h0M557.1 119.6h0M477.0 1.6h0M473.9 158.9h0M541.8 99.5h0M496.4 126.3h0M577.1 74.1h0M577.6 75.9h0"/><path stroke="rgb(90,90,90)" stroke-width="4.0" d="M671.8 135.4h0M671.8 144.2h0M560.9 98.5h0M479.3 123.6h0M494.7 147.2h0M502.0 146.3h0M499.0 145.1h0M621.3 42.7h0M603.2 73.0h0M687.6 -1.8h0M492.0 133.3h0M640.4 86.9h0M612.6 42.4h0M540.3 100.3h0M539.0 102.2h0M498.0 129.3h0M540.8 78.8h0M465.0 21.5h0M590.6 66.7h0M550.5 104.0h0M509.7 155.9h0M516.9 97.5h0M680.8 69.2h0M675.6 69.1h0M483.7 143.4h0M543.9 108.1h0M635.7 28.3h0M667.5 142.0h0M670.7 140.3h0M493.0 131.4h0M478.1 -0.6h0M462.2 162.1h0M536.3 89.8h0M494.0 126.9h0M577.2 76.3h0M576.9 74.3h0M574.1 71.6h0M573.2 73.5h0"/><path stroke="rgb(100,100,100)" stroke-width="4.8" d="M468.5 44.2h0M594.2 42.1h0M664.0 130.7h0M530.5 102.0h0M454.0 150.7h0M677.6 129.1h0M551.0 93.5h0M597.3 123.4h0M621.6 32.3h0M624.7 25.8h0M626.2 36.6h0M515.1 0.8h0M572.5 59.4h0M549.6 108.5h0M678.2 121.8h0M682.8 131.5h0M688.4 51.6h0M684.2 51.8h0M612.5 24.3h0M556.1 103.4h0M594.8 71.7h0M688.4 2.2h0M687.3 -2.8h0M484.8 134.7h0M590.2 59.6h0M649.3 39.3h0M643.0 39.2h0M650.5 13.4h0M605.8 74.0h0M605.1 73.4h0M568.3 104.0h0M650.5 164.9h0M581.4 62.7h0M578.9 59.1h0M666.2 73.7h0M621.6 41.8h0M579.9 77.8h0M509.6 130.3h0M658.0 8.1h0M632.8 29.2h0M632.5 22.6h0M669.3 6.8h0M463.4 12.1h0M533.1 90.4h0M487.2 141.2h0M661.8 21.9h0M689.0 -2.5h0M457.6 46.1h0M460.8 158.5h0M547.5 101.5h0M542.7 107.6h0M503.6 118.1h0M501.8 117.2h0M504.2 145.1h0M508.4 142.3h0M676.7 67.4h0M501.8 150.1h0M476.1 44.6h0M485.0 142.0h0M481.8 145.8h0M481.5 136.4h0M541.3 99.9h0M544.5 102.9h0M543.3 4.8h0M640.1 23.5h0M507.1 146.1h0M623.0 38.5h0M621.2 31.2h0M611.2 33.4h0M551.7 34.5h0M663.1 55.7h0M508.2 143.0h0M649.4 116.5h0M462.4 169.4h0M488.1 129.6h0M471.8 32.6h0M486.9 128.9h0M648.6 15.4h0M617.5 19.9h0M544.0 100.8h0M542.5 99.8h0M540.9 90.5h0M636.0 161.5h0M500.8 141.6h0M491.9 24.8h0M609.3 166.9h0M525.3 87.7h0"/><path stroke="rgb(100,100,100)" stroke-width="4.0" d="M470.1 43.2h0M666.6 130.8h0M667.5 137.6h0M669.1 141.3h0M680.6 132.5h0M579.7 79.1h0M512.6 -7.8h0M562.5 44.9h0M453.2 94.9h0M496.8 144.0h0M617.4 40.3h0M611.5 38.1h0M448.6 110.6h0M624.0 47.4h0M487.6 123.2h0M685.9 0.5h0M685.3 0.8h0M484.9 137.2h0M676.5 125.2h0M649.3 16.3h0M621.3 19.5h0M661.8 45.4h0M586.5 83.6h0M461.2 151.5h0M634.1 172.9h0M490.9 95.2h0M505.8 130.1h0M630.2 26.9h0M587.4 129.7h0M456.9 46.1h0M659.3 16.5h0M533.5 83.3h0M460.8 159.8h0M629.5 45.4h0M589.5 58.3h0M595.6 64.0h0M595.1 58.9h0M598.2 11.0h0M606.1 12.6h0M514.2 -0.2h0M453.2 4.2h0M545.1 111.5h0M604.2 124.6h0M661.9 137.3h0M589.4 59.0h0M551.6 106.8h0M550.2 111.2h0M490.3 -3.6h0M517.7 127.3h0M549.1 16.3h0M543.8 94.4h0M512.1 142.0h0M504.4 120.0h0M679.0 71.6h0M583.4 74.3h0M687.2 -7.6h0M687.3 153.0h0M472.7 140.4h0M539.7 101.2h0M674.7 142.8h0M674.0 155.3h0M667.4 58.1h0M471.1 28.7h0M470.1 35.4h0M571.7 100.6h0M632.7 82.3h0M494.3 125.6h0M509.7 142.7h0M510.9 139.4h0M501.4 143.2h0M503.6 151.4h0M609.5 47.7h0"/><path stroke="rgb(100,100,100)" stroke-width="3.4" d="M555.3 34.0h0M489.2 5.8h0M507.6 141.3h0M535.2 84.5h0M597.6 84.7h0M459.3 28.7h0M577.9 80.4h0M548.1 90.4h0M550.1 94.8h0M621.8 31.2h0M517.9 0.5h0M556.7 107.0h0M655.3 123.3h0M572.1 53.0h0M644.2 31.9h0M645.7 30.6h0M593.5 68.4h0M661.6 122.0h0M506.2 132.5h0M500.3 132.1h0M588.7 60.2h0M675.4 150.4h0M549.1 18.6h0M478.7 61.1h0M602.7 73.1h0M674.3 66.9h0M676.8 -7.5h0M682.4 7.6h0M590.5 86.5h0M577.4 58.4h0M583.1 62.7h0M535.9 112.0h0M616.4 41.2h0M617.2 37.6h0M612.7 147.7h0M589.5 75.9h0M586.3 115.3h0M633.9 25.3h0M580.2 130.2h0M457.8 31.1h0M631.2 43.4h0M464.9 38.1h0M582.1 56.6h0M532.6 90.0h0M570.4 48.6h0M458.3 23.1h0M453.1 19.1h0M556.5 105.7h0M456.9 44.6h0M665.0 143.9h0M458.0 158.6h0M593.7 62.6h0M593.5 59.6h0M596.3 58.3h0M622.6 18.6h0M548.5 105.6h0M546.2 105.2h0M599.4 8.4h0M595.2 125.6h0M504.8 121.8h0M512.5 130.1h0M507.2 128.8h0M662.7 131.7h0M492.0 -2.6h0M490.0 58.1h0M487.3 135.4h0M466.2 107.6h0M484.2 142.7h0M485.2 147.8h0M469.1 158.7h0M512.3 145.3h0M644.3 47.1h0M538.9 115.0h0M671.3 143.6h0M675.4 143.2h0M498.9 149.5h0M665.1 32.6h0M492.5 121.8h0M491.7 123.5h0M471.6 32.2h0M564.9 100.9h0M471.0 17.5h0M469.8 157.5h0M540.9 89.8h0M654.6 129.5h0M630.2 163.0h0M500.0 140.2h0M487.6 26.6h0M625.8 21.0h0"/><path stroke="rgb(110,110,110)" stroke-width="4.8" d="M580.6 123.8h0M469.4 39.7h0M559.6 35.3h0M536.8 155.1h0M537.5 155.8h0M586.4 58.3h0M473.6 19.7h0M512.5 144.8h0M480.9 140.2h0M547.0 87.3h0M597.6 86.3h0M463.7 32.7h0M618.0 151.5h0M533.3 109.3h0M600.5 57.4h0M626.1 31.4h0M625.9 29.9h0M552.9 93.4h0M596.0 122.7h0M619.8 30.6h0M619.7 31.6h0M513.7 114.5h0M576.4 62.3h0M554.0 110.5h0M671.6 120.8h0M452.0 104.9h0M688.5 127.4h0M685.9 134.7h0M530.3 3.7h0M610.9 20.1h0M614.4 39.1h0M451.7 100.5h0M620.8 49.8h0M473.2 125.3h0M520.5 168.8h0M645.0 25.0h0M559.3 53.6h0M661.2 118.0h0M544.8 87.7h0M487.6 134.4h0M660.6 135.2h0M506.3 132.5h0M529.8 102.1h0M678.5 146.8h0M677.4 147.4h0M647.5 13.7h0M516.6 114.1h0M605.2 74.2h0M678.6 69.7h0M668.8 47.8h0M666.4 51.7h0M632.3 88.3h0M564.1 104.2h0M589.9 90.4h0M504.9 133.0h0M634.8 88.3h0M659.1 136.2h0M658.0 135.0h0M535.8 109.3h0M579.5 86.2h0M585.2 87.0h0M583.2 82.8h0M680.8 156.5h0M617.8 39.0h0M653.2 22.2h0M664.9 26.3h0M577.8 81.8h0M637.2 168.4h0M638.8 166.9h0M648.6 41.1h0M583.7 82.1h0M626.8 163.4h0M488.4 91.5h0M666.3 36.1h0M624.6 149.6h0M510.6 122.6h0M498.4 112.6h0M616.0 24.0h0M658.4 6.9h0M656.8 14.0h0M656.0 9.9h0M561.0 41.2h0M466.9 121.3h0M457.2 20.9h0M530.8 119.6h0M533.4 118.6h0M460.7 43.9h0M576.9 58.8h0M665.1 16.6h0M658.7 13.6h0M668.3 10.6h0M536.2 85.6h0M645.6 163.8h0M669.0 54.5h0M458.4 23.2h0M458.4 17.3h0M631.8 26.9h0M453.6 45.3h0M660.7 52.1h0M634.5 38.8h0M649.8 29.4h0M572.6 66.1h0M571.1 61.9h0M684.0 -4.9h0M594.9 65.9h0M658.3 156.3h0M501.6 125.5h0M592.5 63.2h0M594.3 60.4h0M602.4 9.8h0M602.9 9.5h0M502.2 121.8h0M499.5 122.6h0M518.5 144.8h0M597.9 -6.8h0M584.5 59.4h0M511.1 125.1h0M484.9 141.7h0M488.6 142.6h0M547.5 116.4h0M597.2 128.1h0M666.8 6.6h0M552.6 40.8h0M670.0 6.6h0M635.9 104.7h0M588.3 57.4h0M561.6 49.8h0M520.7 146.9h0M489.2 55.7h0M667.8 38.7h0M463.8 33.5h0M463.2 36.0h0M577.2 60.9h0M544.4 91.1h0M682.1 63.5h0M679.8 63.7h0M503.9 122.4h0M528.5 119.0h0M473.7 44.6h0M474.5 49.8h0M689.0 155.1h0M563.7 139.4h0M478.3 156.3h0M491.4 118.4h0M479.9 140.0h0M539.5 109.1h0M539.3 105.2h0M631.2 53.7h0M508.0 152.1h0M502.3 110.6h0M618.9 33.6h0M619.7 34.1h0M526.7 77.6h0M531.5 76.7h0M523.1 133.1h0M523.4 132.6h0M596.0 67.5h0M577.2 140.1h0M509.4 146.5h0M646.1 122.1h0M650.1 118.9h0M661.2 154.1h0M467.5 33.3h0M470.8 32.9h0M674.4 72.5h0M672.1 71.9h0M516.7 68.4h0M683.0 59.9h0M490.0 -2.0h0M686.7 129.9h0M588.1 139.3h0M491.5 123.1h0M629.4 164.8h0M506.2 137.8h0M511.5 138.4h0M493.6 28.7h0M609.5 43.0h0M527.4 93.2h0M539.2 -3.8h0"/><path stroke="rgb(110,110,110)" stroke-width="3.4" d="M505.5 147.0h0M556.1 33.9h0M488.3 2.2h0M486.0 3.2h0M486.7 7.6h0M491.5 131.1h0M516.2 140.2h0M450.3 160.3h0M682.9 61.0h0M671.6 140.8h0M541.9 81.8h0M547.8 79.8h0M489.5 129.6h0M534.7 100.4h0M535.8 103.5h0M537.0 103.5h0M529.3 107.1h0M563.5 101.6h0M656.8 28.9h0M653.5 27.5h0M625.3 30.6h0M593.2 121.8h0M672.9 138.4h0M517.0 0.2h0M515.4 2.5h0M515.9 -2.4h0M561.0 41.9h0M481.0 115.9h0M622.5 78.9h0M688.3 128.0h0M683.3 129.4h0M553.7 102.1h0M612.6 23.0h0M460.0 153.7h0M608.8 37.6h0M642.7 -0.3h0M647.7 29.6h0M645.6 31.8h0M524.4 13.9h0M486.5 122.8h0M594.7 67.9h0M597.2 69.8h0M659.5 120.0h0M688.5 0.3h0M662.0 137.2h0M673.1 115.4h0M589.2 62.6h0M650.5 44.7h0M453.9 158.5h0M452.9 157.8h0M626.0 150.5h0M672.6 162.3h0M668.0 156.4h0M606.3 72.1h0M641.2 89.5h0M640.7 91.9h0M676.4 68.3h0M646.7 54.2h0M644.7 166.1h0M662.1 7.2h0M454.9 17.2h0M488.7 122.8h0M659.6 133.3h0M674.0 125.6h0M535.8 112.7h0M585.0 82.8h0M582.0 89.5h0M665.2 25.5h0M666.7 33.3h0M664.4 25.5h0M460.6 155.8h0M601.1 70.3h0M654.6 23.0h0M598.9 84.3h0M665.3 24.7h0M575.3 77.9h0M485.0 53.2h0M586.4 74.3h0M588.9 74.3h0M505.3 125.2h0M489.8 18.2h0M610.3 45.7h0M613.4 28.0h0M659.1 5.1h0M596.8 55.9h0M590.0 54.5h0M653.2 79.4h0M630.1 42.7h0M633.1 23.8h0M583.4 132.5h0M553.0 79.3h0M466.1 15.6h0M464.9 17.0h0M465.2 16.3h0M539.4 113.8h0M537.7 120.8h0M551.7 19.4h0M505.1 139.7h0M490.6 119.0h0M482.1 4.1h0M483.9 126.3h0M577.3 57.0h0M665.7 11.7h0M573.0 52.2h0M519.0 157.9h0M687.9 0.6h0M566.1 48.1h0M639.0 163.0h0M662.8 59.7h0M460.7 19.9h0M454.4 43.3h0M663.5 62.7h0M630.1 89.3h0M664.1 149.8h0M660.7 144.9h0M459.2 158.9h0M625.7 34.7h0M635.2 40.8h0M577.3 65.2h0M685.3 1.1h0M685.1 -1.0h0M477.4 40.5h0M585.1 133.3h0M524.0 81.3h0M525.4 84.8h0M597.2 63.7h0M593.1 60.6h0M596.4 60.7h0M596.0 60.7h0M547.4 102.9h0M502.2 122.0h0M505.9 120.0h0M518.1 6.4h0M498.2 134.1h0M516.0 147.7h0M535.9 99.1h0M504.5 139.3h0M504.6 142.2h0M542.3 112.9h0M555.8 29.4h0M623.7 18.0h0M634.0 105.7h0M631.3 97.9h0M662.2 165.3h0M589.3 60.6h0M604.4 96.8h0M550.8 103.3h0M560.6 44.7h0M655.2 31.0h0M499.2 148.4h0M505.0 150.6h0M520.1 133.8h0M493.9 51.9h0M489.9 49.8h0M460.3 35.8h0M466.3 31.9h0M597.4 147.3h0M515.1 95.2h0M521.6 99.4h0M543.5 93.0h0M676.9 67.9h0M680.2 65.5h0M534.9 123.8h0M487.2 128.2h0M597.7 69.3h0M581.4 74.3h0M616.2 164.1h0M621.0 105.2h0M685.0 -2.9h0M473.2 44.8h0M685.4 156.2h0M595.5 73.2h0M663.6 147.4h0M655.2 147.9h0M578.2 85.3h0M590.1 89.6h0M680.2 76.5h0M467.8 167.3h0M491.5 109.4h0M661.7 47.8h0M513.4 138.7h0M510.2 143.0h0M635.6 45.1h0M538.1 107.1h0M534.4 107.3h0M542.7 102.1h0M636.6 19.9h0M581.7 85.8h0M581.6 89.0h0M627.8 159.5h0M627.7 164.0h0M627.8 164.0h0M677.5 156.5h0M676.9 152.5h0M624.7 23.6h0M581.8 90.1h0M578.5 89.2h0M622.4 35.6h0M528.5 77.6h0M524.9 81.1h0M648.0 -0.5h0M522.2 134.9h0M660.6 53.6h0M593.7 64.9h0M660.9 38.4h0M577.3 102.0h0M509.7 10.3h0M463.2 165.9h0M493.1 124.5h0M468.6 33.6h0M470.7 33.1h0M638.7 99.0h0M489.8 124.7h0M562.5 102.9h0M470.4 11.2h0M469.6 8.8h0M689.6 71.6h0M484.6 0.7h0M466.8 160.4h0M464.3 155.1h0M481.3 70.3h0M479.3 74.6h0M540.0 0.9h0M673.9 126.9h0M657.2 129.6h0M495.4 131.2h0M633.4 163.6h0M628.9 159.6h0M634.0 163.4h0M499.8 145.0h0M500.2 142.6h0M622.0 15.7h0M620.1 20.5h0M679.2 59.5h0M616.9 68.0h0M620.7 60.2h0M499.9 118.6h0M499.3 119.2h0M500.6 119.1h0M613.5 120.1h0"/><path stroke="rgb(110,110,110)" stroke-width="4.0" d="M557.2 32.9h0M559.9 39.7h0M486.2 2.0h0M544.3 160.2h0M555.4 19.1h0M631.7 54.2h0M679.9 80.0h0M455.6 155.8h0M561.0 89.6h0M595.8 128.9h0M458.8 29.7h0M534.4 104.1h0M530.2 105.4h0M532.4 111.8h0M449.2 156.9h0M456.1 155.6h0M451.9 157.7h0M515.6 12.9h0M582.3 82.1h0M582.3 78.8h0M563.9 104.1h0M649.2 29.1h0M599.3 59.6h0M501.5 54.9h0M619.6 32.5h0M513.2 120.5h0M553.1 104.8h0M519.6 160.5h0M551.1 110.3h0M680.7 113.1h0M664.3 7.4h0M681.2 125.4h0M534.7 12.6h0M556.0 104.8h0M548.1 98.9h0M455.4 101.5h0M624.2 46.1h0M483.4 141.5h0M485.2 140.2h0M555.7 102.6h0M476.1 112.2h0M631.8 51.6h0M485.2 121.1h0M593.7 71.2h0M659.9 120.1h0M671.7 72.6h0M664.0 139.5h0M507.5 132.6h0M676.8 145.7h0M460.9 161.5h0M552.4 135.0h0M618.8 146.4h0M473.4 147.9h0M674.4 66.8h0M677.0 68.2h0M678.4 68.7h0M662.9 42.3h0M502.8 131.8h0M664.5 -0.2h0M570.5 46.5h0M663.0 143.2h0M659.8 136.9h0M679.3 124.9h0M462.1 150.9h0M601.8 70.7h0M678.7 18.8h0M663.6 22.6h0M586.0 84.0h0M611.1 151.0h0M636.8 163.9h0M636.2 162.9h0M583.2 73.1h0M589.4 79.2h0M587.6 79.3h0M506.8 132.9h0M530.5 91.8h0M501.3 116.8h0M616.7 27.2h0M610.0 157.7h0M602.1 161.1h0M608.8 159.0h0M629.2 153.4h0M632.8 51.9h0M539.4 117.7h0M531.5 119.6h0M463.9 141.2h0M498.0 139.2h0M504.6 142.4h0M506.2 146.5h0M675.5 22.2h0M565.6 51.3h0M665.4 58.5h0M666.7 60.6h0M455.1 23.7h0M576.7 87.9h0M470.4 66.6h0M457.5 43.2h0M550.7 104.4h0M553.0 107.8h0M665.6 142.6h0M464.2 159.1h0M630.6 35.4h0M632.6 36.8h0M506.0 11.1h0M557.6 103.5h0M486.5 18.6h0M643.3 100.4h0M594.4 62.5h0M494.5 124.3h0M499.1 124.0h0M546.8 103.3h0M601.9 15.3h0M516.9 2.2h0M467.7 23.8h0M498.2 132.7h0M461.4 40.3h0M484.2 139.6h0M482.0 140.4h0M601.1 75.8h0M503.7 139.3h0M592.8 124.9h0M599.6 132.4h0M660.0 10.8h0M661.1 9.2h0M661.5 137.0h0M599.4 78.8h0M624.7 15.0h0M680.3 130.4h0M474.9 39.9h0M473.1 39.5h0M516.2 13.7h0M507.2 132.8h0M559.3 46.0h0M650.8 34.6h0M543.9 164.3h0M486.8 54.5h0M548.6 21.0h0M525.1 97.9h0M546.3 90.3h0M680.6 67.8h0M551.2 24.3h0M557.7 23.0h0M558.1 29.6h0M597.8 69.6h0M582.2 75.3h0M529.4 -4.0h0M686.8 -2.8h0M686.1 -2.4h0M472.9 43.0h0M682.5 152.4h0M565.2 140.4h0M579.3 90.1h0M638.4 47.3h0M540.7 36.0h0M537.1 103.8h0M537.6 106.2h0M541.7 103.2h0M625.4 55.9h0M635.5 16.1h0M627.4 164.2h0M501.8 114.0h0M677.7 33.2h0M582.7 81.5h0M644.9 3.7h0M555.2 29.8h0M491.2 142.7h0M506.9 146.1h0M540.8 29.7h0M460.3 165.5h0M462.6 169.3h0M463.3 165.3h0M490.0 128.9h0M551.3 116.6h0M683.2 69.1h0M480.5 -0.4h0M467.8 157.8h0M588.8 134.3h0M542.5 101.0h0M540.1 102.2h0M544.7 8.4h0M658.8 127.0h0M509.5 142.5h0M628.8 162.4h0M501.6 144.9h0M497.4 32.0h0M556.7 116.9h0M561.2 110.9h0M618.3 160.0h0M522.1 87.8h0M528.7 89.3h0M527.8 88.8h0M602.4 34.1h0"/><path stroke="rgb(120,120,120)" stroke-width="4.8" d="M505.4 150.4h0M597.6 35.5h0M596.3 36.1h0M597.7 36.7h0M599.4 36.3h0M471.0 41.9h0M670.8 137.3h0M559.9 32.7h0M605.5 5.6h0M455.4 126.2h0M535.7 157.6h0M539.8 161.1h0M538.0 158.1h0M552.0 21.4h0M585.6 56.8h0M580.3 64.7h0M486.7 152.7h0M660.2 122.7h0M489.4 132.7h0M492.1 133.3h0M477.0 21.6h0M473.2 17.0h0M583.7 90.0h0M583.7 93.4h0M603.0 122.1h0M448.2 163.7h0M452.3 160.1h0M556.2 83.9h0M588.5 48.4h0M681.9 61.2h0M603.6 86.4h0M471.3 81.5h0M683.8 129.5h0M570.6 78.9h0M619.1 154.9h0M633.3 103.6h0M527.0 105.7h0M646.5 156.6h0M508.5 17.6h0M467.7 27.0h0M653.4 29.4h0M681.8 33.6h0M626.6 34.8h0M628.0 36.1h0M548.0 95.3h0M517.1 125.6h0M513.6 -1.6h0M526.3 73.5h0M574.3 90.8h0M557.3 105.0h0M556.5 105.7h0M481.2 121.6h0M519.0 99.8h0M451.8 103.4h0M477.4 81.4h0M630.5 109.1h0M534.4 10.9h0M514.9 38.0h0M517.1 90.2h0M649.1 22.7h0M450.4 105.7h0M453.3 105.4h0M623.5 46.1h0M513.9 166.5h0M516.4 164.4h0M648.0 28.7h0M506.4 161.6h0M673.0 43.5h0M516.8 14.9h0M484.9 123.2h0M596.6 71.0h0M595.4 71.4h0M598.1 71.3h0M659.9 119.0h0M467.9 5.2h0M686.1 -1.7h0M661.7 162.3h0M486.2 137.9h0M527.1 102.7h0M552.6 15.1h0M677.5 143.2h0M553.6 41.3h0M451.5 156.8h0M492.1 108.0h0M489.3 110.8h0M484.5 60.8h0M652.3 14.0h0M595.5 0.0h0M584.8 52.2h0M669.0 152.7h0M467.4 51.0h0M597.7 135.5h0M606.4 74.0h0M604.2 74.9h0M552.3 87.9h0M556.1 85.6h0M639.2 87.6h0M667.8 48.0h0M632.2 107.9h0M471.4 46.9h0M566.9 110.9h0M502.1 131.3h0M573.5 38.3h0M453.1 14.8h0M451.7 18.1h0M456.8 18.1h0M639.2 88.1h0M490.1 119.0h0M593.7 121.0h0M656.9 135.6h0M529.2 39.1h0M551.5 133.5h0M670.8 72.5h0M599.2 66.8h0M535.0 118.9h0M674.8 19.0h0M590.5 108.4h0M599.4 81.1h0M667.3 24.0h0M617.2 46.1h0M584.7 75.3h0M619.1 162.2h0M617.2 164.6h0M489.9 84.0h0M675.3 40.8h0M514.4 4.4h0M508.4 8.6h0M664.8 130.6h0M664.0 130.7h0M664.0 129.4h0M522.1 95.3h0M484.8 101.3h0M660.9 1.2h0M650.2 81.5h0M559.5 38.9h0M557.0 36.2h0M511.5 7.4h0M611.0 158.4h0M467.2 120.6h0M468.2 117.2h0M623.8 154.1h0M626.3 151.7h0M626.8 156.6h0M629.8 44.7h0M634.7 47.4h0M504.0 127.2h0M500.4 133.3h0M504.2 130.7h0M585.2 132.4h0M580.3 131.9h0M462.0 23.6h0M461.3 23.0h0M630.9 42.6h0M612.1 150.6h0M615.1 149.8h0M472.4 64.0h0M623.4 38.9h0M666.2 5.5h0M582.3 142.7h0M582.8 133.3h0M462.4 140.5h0M535.5 86.0h0M550.9 25.5h0M552.4 31.0h0M464.3 44.0h0M485.7 4.9h0M485.3 5.1h0M484.3 5.0h0M671.2 21.5h0M661.1 16.4h0M473.4 149.3h0M568.9 50.6h0M567.3 53.6h0M631.4 89.5h0M688.7 -0.6h0M570.3 48.6h0M637.7 161.8h0M639.4 162.0h0M639.6 162.6h0M545.0 23.3h0M669.2 59.8h0M660.4 54.4h0M598.0 57.3h0M599.1 58.5h0M599.2 55.8h0M536.7 118.4h0M534.9 114.2h0M626.7 152.9h0M626.8 153.0h0M578.7 89.9h0M578.2 87.9h0M627.2 22.6h0M455.0 45.6h0M455.4 48.3h0M523.8 145.8h0M543.7 129.9h0M543.5 127.5h0M553.2 104.9h0M456.6 43.0h0M469.2 94.3h0M470.6 97.9h0M607.8 107.9h0M600.1 110.8h0M523.8 35.8h0M525.1 152.0h0M648.5 36.8h0M476.1 31.6h0M503.3 14.6h0M481.8 112.6h0M479.3 115.4h0M485.4 108.4h0M552.7 95.8h0M492.7 18.9h0M488.1 18.9h0M627.7 48.1h0M630.6 46.9h0M634.8 46.3h0M655.8 32.4h0M571.4 98.7h0M556.2 29.5h0M472.6 10.3h0M620.9 17.3h0M545.0 101.4h0M601.8 10.0h0M591.8 23.5h0M593.0 24.8h0M502.4 121.3h0M500.8 134.0h0M498.9 130.9h0M514.3 146.2h0M510.8 148.9h0M454.2 38.6h0M656.1 111.9h0M602.1 79.3h0M600.7 74.4h0M533.9 75.3h0M504.2 141.3h0M600.8 46.7h0M453.1 11.1h0M564.2 36.2h0M554.2 35.7h0M660.7 10.2h0M659.6 138.0h0M684.3 125.8h0M682.6 123.2h0M684.2 125.4h0M457.1 59.9h0M669.8 29.2h0M515.8 134.7h0M688.5 151.2h0M655.4 31.0h0M523.1 146.1h0M679.9 62.0h0M678.7 138.5h0M503.6 150.0h0M632.3 73.0h0M495.2 59.4h0M671.4 48.0h0M607.2 21.2h0M462.8 33.7h0M467.0 34.4h0M558.5 53.4h0M600.3 140.8h0M605.9 148.3h0M681.7 68.4h0M508.3 141.1h0M507.5 141.0h0M505.1 120.3h0M667.3 156.1h0M679.1 156.5h0M673.5 164.4h0M647.9 24.6h0M562.8 2.0h0M556.0 26.4h0M562.8 62.2h0M557.5 60.5h0M483.0 149.7h0M481.5 161.4h0M666.3 18.5h0M664.3 19.7h0M593.6 78.0h0M591.4 77.5h0M530.0 148.7h0M468.9 161.5h0M568.4 76.6h0M559.2 146.7h0M561.2 152.3h0M501.6 145.9h0M638.7 23.7h0M544.0 113.5h0M497.2 149.4h0M502.3 155.0h0M502.3 151.8h0M675.3 158.1h0M549.9 41.7h0M579.4 85.8h0M618.8 34.8h0M531.3 73.7h0M564.1 4.4h0M521.4 135.6h0M550.5 30.6h0M665.2 56.7h0M530.5 71.5h0M464.3 2.7h0M664.0 31.9h0M603.5 56.1h0M508.7 11.8h0M509.2 147.2h0M657.7 125.9h0M658.8 127.1h0M658.8 128.7h0M647.8 113.0h0M684.9 58.0h0M682.4 59.7h0M638.8 100.8h0M672.9 78.1h0M487.5 124.9h0M489.6 127.3h0M650.4 144.6h0M647.8 143.6h0M469.0 14.0h0M625.9 86.5h0M633.2 86.1h0M644.9 18.1h0M479.2 3.7h0M686.4 122.9h0M617.6 19.7h0M611.2 21.8h0M586.6 135.2h0M588.9 133.2h0M540.8 91.5h0M494.5 126.5h0M633.2 163.1h0M557.1 45.9h0M500.1 140.1h0M511.3 137.9h0M616.5 64.0h0M606.5 41.7h0M623.5 21.9h0M626.9 18.4h0M596.5 114.0h0M616.2 116.2h0"/><path stroke="rgb(120,120,120)" stroke-width="4.0" d="M507.2 153.0h0M470.2 45.0h0M464.8 46.5h0M479.7 142.9h0M485.4 0.4h0M588.7 57.0h0M585.7 92.7h0M602.3 123.7h0M664.7 11.5h0M558.5 44.4h0M548.4 92.9h0M549.3 91.3h0M491.5 132.0h0M487.8 131.1h0M564.5 65.4h0M563.7 81.3h0M632.7 152.7h0M576.7 82.7h0M565.7 102.9h0M653.3 27.8h0M684.0 130.0h0M683.4 130.3h0M681.9 128.6h0M626.9 32.9h0M627.6 31.8h0M550.7 93.4h0M515.6 126.2h0M620.1 31.1h0M520.8 76.4h0M522.4 76.3h0M572.0 90.3h0M512.6 114.2h0M528.1 117.8h0M608.3 115.7h0M623.7 2.9h0M574.4 59.7h0M522.3 120.3h0M661.7 26.1h0M483.6 118.0h0M484.5 116.9h0M483.4 117.5h0M557.8 108.7h0M479.7 118.4h0M477.3 119.5h0M476.9 114.7h0M478.2 119.5h0M559.0 119.0h0M455.8 105.3h0M473.7 85.5h0M484.1 23.4h0M686.4 131.0h0M630.0 17.7h0M530.9 7.1h0M631.4 56.7h0M508.4 16.6h0M467.4 120.6h0M463.8 121.1h0M467.4 119.8h0M645.5 31.8h0M481.9 73.3h0M684.1 128.5h0M554.2 104.6h0M485.4 120.7h0M559.1 52.8h0M457.7 7.0h0M665.8 78.3h0M491.9 137.4h0M506.1 132.6h0M529.0 104.8h0M677.5 146.5h0M677.7 146.4h0M538.4 25.6h0M480.7 98.2h0M479.0 65.3h0M648.2 13.1h0M600.8 2.5h0M598.4 6.8h0M512.7 113.9h0M527.7 135.8h0M639.1 89.6h0M666.3 46.9h0M462.2 43.9h0M467.0 44.6h0M569.9 106.0h0M572.6 40.6h0M638.7 87.8h0M490.7 121.4h0M667.2 163.1h0M472.3 161.5h0M474.9 158.6h0M537.2 46.6h0M549.1 16.5h0M547.8 17.2h0M536.1 111.8h0M537.3 115.0h0M583.1 91.2h0M673.2 73.7h0M598.7 68.7h0M499.5 101.9h0M608.3 80.3h0M617.3 42.9h0M577.7 83.1h0M619.0 150.3h0M483.5 40.2h0M485.2 42.2h0M643.4 167.1h0M635.8 166.2h0M588.2 76.4h0M615.6 165.0h0M486.7 89.8h0M514.3 5.0h0M500.5 13.8h0M528.0 96.7h0M525.5 91.5h0M500.0 116.4h0M595.2 59.0h0M489.8 112.8h0M508.8 9.6h0M592.3 110.3h0M467.4 118.0h0M467.3 117.3h0M621.9 149.2h0M503.7 130.2h0M461.2 23.7h0M631.6 45.9h0M556.8 82.7h0M667.5 4.9h0M668.0 1.9h0M678.9 4.2h0M680.8 5.1h0M555.4 156.0h0M589.4 136.9h0M462.0 134.8h0M464.0 141.4h0M556.3 20.2h0M462.5 44.4h0M462.1 43.9h0M508.2 138.2h0M483.4 124.4h0M582.1 56.4h0M663.3 10.0h0M568.4 49.4h0M522.0 150.2h0M569.7 46.4h0M639.2 162.5h0M547.2 23.7h0M667.2 58.0h0M538.6 112.1h0M543.4 145.5h0M631.3 22.1h0M601.6 81.1h0M472.0 60.2h0M664.0 63.7h0M547.4 122.7h0M542.2 129.3h0M553.1 106.0h0M456.6 44.4h0M456.6 44.9h0M474.3 27.4h0M648.5 43.7h0M631.5 39.7h0M653.2 48.6h0M505.5 10.6h0M488.8 15.2h0M578.3 136.3h0M669.6 29.8h0M615.3 151.5h0M596.0 65.6h0M472.5 14.2h0M472.9 14.4h0M472.2 14.2h0M599.2 128.4h0M516.0 -0.4h0M659.6 97.8h0M478.3 83.5h0M446.3 43.4h0M590.9 61.1h0M683.7 164.2h0M512.1 120.9h0M479.9 145.3h0M486.2 142.4h0M601.4 74.4h0M535.4 97.6h0M530.8 98.2h0M504.4 142.0h0M599.8 127.2h0M599.8 126.4h0M551.0 35.4h0M658.5 52.7h0M537.9 11.5h0M656.5 40.0h0M681.0 71.0h0M667.9 6.3h0M624.7 11.4h0M632.0 97.3h0M685.4 122.5h0M472.2 36.8h0M475.0 38.6h0M473.8 37.8h0M528.8 13.2h0M514.4 136.1h0M517.3 136.3h0M520.5 145.3h0M546.9 160.0h0M681.5 60.8h0M459.3 44.3h0M556.2 48.4h0M561.9 59.8h0M562.9 54.2h0M633.5 110.9h0M602.0 145.1h0M513.9 121.8h0M575.5 63.1h0M575.3 63.8h0M680.1 69.0h0M508.1 141.9h0M503.7 120.4h0M578.7 100.8h0M588.3 15.1h0M488.0 130.7h0M556.4 26.4h0M557.9 26.4h0M560.6 62.2h0M561.8 62.8h0M529.8 139.3h0M619.0 103.4h0M667.6 19.7h0M664.9 18.9h0M593.4 38.7h0M499.4 157.0h0M465.2 108.8h0M684.0 154.9h0M564.4 144.5h0M683.1 74.1h0M570.5 75.4h0M514.1 139.0h0M513.4 140.1h0M515.7 150.1h0M520.0 147.5h0M480.0 138.6h0M634.9 45.7h0M555.3 152.1h0M504.3 143.5h0M504.2 144.6h0M503.6 144.6h0M504.0 143.3h0M593.4 97.9h0M629.6 57.2h0M639.1 25.8h0M505.3 142.0h0M535.2 9.8h0M603.1 11.7h0M584.4 86.9h0M489.1 122.9h0M493.6 118.2h0M566.3 -4.9h0M645.7 8.1h0M621.6 150.1h0M531.6 77.4h0M601.9 147.5h0M466.0 -0.1h0M664.2 31.4h0M483.8 140.3h0M575.4 137.0h0M576.9 139.2h0M576.0 140.6h0M511.7 8.9h0M586.5 51.4h0M675.9 39.6h0M657.2 152.8h0M513.8 0.6h0M512.5 -0.5h0M546.1 150.7h0M638.8 104.6h0M669.2 81.5h0M672.6 77.0h0M675.3 77.6h0M491.8 125.8h0M490.2 124.7h0M593.6 130.5h0M455.3 108.2h0M558.4 119.2h0M650.4 147.1h0M512.9 71.1h0M519.0 67.5h0M673.6 118.8h0M468.8 9.1h0M686.6 69.1h0M481.0 -1.1h0M611.4 21.7h0M591.0 139.5h0M587.5 133.9h0M584.4 135.9h0M542.6 101.3h0M616.0 41.8h0M666.9 127.6h0M501.3 143.2h0M478.3 124.3h0M612.3 40.7h0M473.3 54.6h0M499.1 119.0h0M521.7 88.6h0M613.1 118.3h0"/><path stroke="rgb(120,120,120)" stroke-width="3.4" d="M661.4 126.5h0M665.5 125.5h0M469.8 46.2h0M559.9 -1.4h0M472.5 34.5h0M474.5 131.3h0M605.1 3.3h0M537.8 158.9h0M556.2 20.1h0M581.5 59.1h0M583.9 58.2h0M497.8 159.6h0M495.0 126.1h0M602.9 121.5h0M567.5 42.0h0M513.6 143.8h0M684.0 83.4h0M456.1 161.4h0M527.4 71.7h0M556.8 88.6h0M680.6 63.7h0M548.2 91.0h0M464.0 30.7h0M452.3 6.7h0M619.7 153.6h0M629.8 154.7h0M528.4 109.7h0M450.5 153.0h0M453.8 157.2h0M685.5 130.3h0M687.2 26.8h0M518.8 125.6h0M595.9 122.6h0M600.0 119.9h0M620.0 30.2h0M678.5 137.1h0M679.5 139.2h0M678.6 136.3h0M515.9 -0.3h0M555.8 44.5h0M520.0 130.3h0M691.8 37.7h0M659.6 123.5h0M657.5 124.7h0M574.5 60.2h0M524.7 126.0h0M662.6 25.8h0M672.9 124.8h0M480.5 120.4h0M675.6 112.7h0M615.4 82.6h0M620.8 76.2h0M630.0 111.3h0M632.1 109.5h0M660.0 6.0h0M663.0 8.6h0M685.2 130.2h0M537.0 130.6h0M553.6 99.1h0M674.4 27.0h0M612.3 24.0h0M643.0 8.7h0M644.2 -0.4h0M464.7 122.6h0M519.9 15.4h0M514.9 16.5h0M685.6 128.4h0M610.3 113.9h0M556.9 105.7h0M473.1 108.3h0M627.7 50.1h0M647.5 17.8h0M644.9 17.7h0M673.7 73.7h0M574.6 90.0h0M579.9 92.8h0M660.0 166.8h0M484.7 134.6h0M487.7 134.5h0M682.4 125.7h0M678.9 121.8h0M566.9 5.8h0M503.0 123.1h0M646.3 37.8h0M528.6 104.5h0M528.6 103.5h0M476.6 102.5h0M669.7 33.1h0M518.6 115.7h0M528.1 61.8h0M604.0 76.2h0M653.3 159.9h0M654.8 157.3h0M560.9 82.4h0M640.9 88.3h0M640.0 89.8h0M640.3 89.8h0M681.7 69.2h0M557.3 120.1h0M645.1 166.3h0M663.5 6.1h0M665.7 4.5h0M450.9 15.4h0M451.8 16.1h0M561.4 20.3h0M680.7 121.8h0M536.2 114.7h0M584.7 86.1h0M457.2 154.1h0M494.2 53.1h0M677.0 15.2h0M668.0 23.5h0M669.4 23.1h0M578.4 81.9h0M578.0 81.6h0M576.0 82.9h0M621.6 151.7h0M619.8 149.2h0M482.2 39.1h0M481.5 39.9h0M485.7 42.3h0M491.4 84.9h0M665.7 60.3h0M473.9 14.8h0M502.5 126.9h0M663.5 132.1h0M663.9 129.0h0M617.2 24.9h0M614.4 24.3h0M592.9 52.6h0M655.4 116.8h0M490.7 115.1h0M508.2 12.6h0M593.9 110.1h0M590.1 113.4h0M465.4 53.4h0M610.4 160.6h0M611.0 157.4h0M467.9 117.5h0M632.6 44.8h0M629.7 45.8h0M615.5 150.7h0M680.6 2.8h0M537.5 117.4h0M530.8 120.0h0M458.1 139.5h0M536.0 83.0h0M536.5 82.4h0M550.4 25.0h0M550.5 26.1h0M551.2 24.9h0M551.5 26.6h0M558.6 21.4h0M460.5 43.0h0M639.6 4.0h0M674.9 20.8h0M674.5 18.6h0M486.1 126.4h0M662.8 17.0h0M474.4 147.9h0M537.3 45.9h0M663.5 13.5h0M519.7 148.1h0M520.0 154.5h0M640.2 161.5h0M599.9 57.3h0M594.0 60.5h0M601.4 63.5h0M625.8 157.1h0M459.0 26.2h0M474.5 66.6h0M466.5 61.7h0M479.7 67.9h0M667.4 54.6h0M607.7 118.2h0M604.2 103.5h0M601.1 109.5h0M662.6 145.0h0M462.4 160.4h0M668.6 153.4h0M647.8 51.4h0M649.5 31.4h0M649.8 29.9h0M644.3 42.2h0M507.5 14.6h0M506.8 12.7h0M632.0 47.1h0M646.5 30.7h0M571.5 7.7h0M570.6 8.0h0M617.1 158.7h0M615.6 158.1h0M658.2 165.2h0M655.4 170.3h0M559.5 32.3h0M495.6 122.8h0M473.8 12.6h0M461.5 50.4h0M603.7 10.8h0M602.0 132.3h0M514.7 3.9h0M520.6 153.7h0M507.1 150.6h0M528.7 40.0h0M459.6 42.0h0M552.1 14.5h0M599.1 74.2h0M530.2 74.6h0M453.5 9.3h0M456.9 6.5h0M486.5 116.2h0M539.4 7.9h0M680.2 72.0h0M661.6 139.6h0M600.1 81.7h0M528.1 5.1h0M631.8 98.7h0M685.1 126.4h0M597.2 96.5h0M470.6 32.8h0M557.4 46.9h0M654.0 31.1h0M680.5 60.1h0M676.1 59.7h0M681.8 58.0h0M510.8 124.4h0M669.8 48.6h0M549.9 80.1h0M551.7 22.1h0M467.6 33.8h0M561.2 52.8h0M558.3 56.0h0M601.7 144.5h0M521.7 98.4h0M523.1 98.8h0M520.1 98.9h0M575.5 63.0h0M574.8 64.4h0M675.4 158.3h0M578.8 106.1h0M557.6 25.5h0M665.2 15.4h0M590.9 43.8h0M498.2 150.5h0M687.4 153.5h0M591.1 74.7h0M589.9 77.2h0M482.9 143.2h0M653.4 144.4h0M472.1 160.1h0M585.6 39.4h0M491.2 112.6h0M517.5 146.7h0M480.1 140.3h0M475.8 142.3h0M537.9 27.5h0M642.8 86.2h0M644.0 86.8h0M558.5 149.3h0M472.8 55.2h0M544.1 101.7h0M509.3 144.8h0M597.6 103.3h0M634.7 56.3h0M629.7 55.8h0M631.7 54.9h0M635.5 22.1h0M503.3 142.7h0M540.9 112.4h0M505.5 116.4h0M568.6 3.9h0M626.4 153.6h0M469.1 2.1h0M483.7 143.3h0M484.2 118.3h0M473.7 42.0h0M510.7 9.3h0M509.2 10.1h0M462.5 166.8h0M656.3 152.0h0M657.3 153.9h0M534.6 146.8h0M639.8 100.3h0M668.0 79.0h0M672.4 77.6h0M616.0 43.2h0M453.9 142.9h0M489.2 130.3h0M490.3 124.7h0M593.4 133.4h0M644.9 148.2h0M514.4 70.9h0M518.1 66.9h0M621.6 0.8h0M562.2 103.4h0M480.9 71.8h0M479.4 78.0h0M560.0 118.0h0M616.8 19.3h0M518.7 17.0h0M542.6 101.2h0M619.3 44.6h0M669.3 127.2h0M653.0 128.8h0M482.3 118.3h0M621.3 14.9h0M622.9 18.1h0M614.3 166.1h0M614.2 164.0h0M473.4 60.5h0M601.8 30.6h0M605.9 31.7h0M611.3 118.6h0"/><path stroke="rgb(130,130,130)" stroke-width="4.8" d="M604.7 2.6h0M658.4 9.6h0M654.4 92.6h0M597.0 39.6h0M470.5 40.5h0M457.0 102.9h0M509.1 153.6h0M455.4 124.9h0M474.7 143.1h0M472.8 139.6h0M473.4 146.2h0M486.7 3.7h0M540.4 131.2h0M667.5 63.7h0M667.4 70.6h0M485.9 141.0h0M630.1 57.3h0M634.4 61.8h0M663.2 128.7h0M658.3 129.0h0M627.0 66.1h0M538.6 42.0h0M584.8 92.1h0M663.8 163.2h0M588.7 35.1h0M679.4 82.3h0M679.5 81.8h0M689.0 147.2h0M482.4 144.5h0M547.9 85.5h0M548.2 92.4h0M548.9 91.1h0M595.2 83.7h0M600.2 84.2h0M458.7 29.8h0M495.4 61.6h0M535.6 45.3h0M528.0 41.6h0M616.1 149.7h0M619.8 154.2h0M631.1 106.8h0M529.6 108.3h0M514.1 40.3h0M641.2 154.5h0M645.1 152.7h0M648.7 159.7h0M453.5 154.3h0M521.1 51.6h0M683.1 124.5h0M605.7 56.8h0M490.9 57.6h0M513.1 86.1h0M515.7 127.8h0M534.1 1.6h0M508.1 46.1h0M679.6 135.3h0M522.9 75.5h0M557.9 44.2h0M619.7 62.1h0M613.2 111.1h0M608.5 112.9h0M521.0 120.6h0M522.1 123.4h0M471.4 108.1h0M612.1 45.9h0M521.5 164.8h0M518.6 159.0h0M519.2 160.1h0M663.9 21.6h0M484.0 120.3h0M465.8 137.4h0M468.1 132.9h0M564.1 120.1h0M561.6 118.7h0M663.9 97.4h0M485.9 17.6h0M627.5 104.4h0M664.3 6.2h0M684.9 54.2h0M625.9 12.8h0M458.4 143.8h0M457.4 148.3h0M453.4 104.9h0M644.1 1.2h0M646.4 -0.6h0M640.0 117.0h0M470.8 91.2h0M676.2 44.5h0M681.0 129.7h0M528.6 128.5h0M611.4 111.9h0M556.3 103.2h0M556.1 79.6h0M552.4 81.7h0M473.7 114.9h0M469.7 110.4h0M472.1 105.3h0M630.5 51.3h0M555.9 48.9h0M549.1 88.6h0M465.5 71.1h0M462.0 4.2h0M675.3 74.7h0M510.4 92.9h0M572.7 93.6h0M653.8 164.7h0M552.3 26.6h0M549.5 23.2h0M504.9 106.0h0M504.8 103.9h0M565.4 4.3h0M495.1 124.7h0M649.3 113.5h0M652.0 112.9h0M648.1 114.2h0M562.3 23.7h0M532.3 106.6h0M557.8 38.4h0M453.4 156.0h0M460.7 154.5h0M453.0 154.6h0M486.8 168.3h0M540.4 22.1h0M479.6 117.3h0M679.9 68.7h0M679.9 65.8h0M620.0 151.6h0M479.4 69.0h0M482.5 64.5h0M482.1 66.3h0M571.2 25.3h0M514.3 115.2h0M582.8 78.9h0M587.1 79.7h0M525.6 64.4h0M674.6 160.4h0M487.6 126.2h0M482.7 124.0h0M668.9 153.7h0M671.0 154.4h0M466.9 55.2h0M524.6 132.8h0M561.8 84.9h0M684.0 -2.3h0M517.5 86.9h0M519.8 86.4h0M610.8 5.1h0M602.8 2.6h0M587.7 87.4h0M475.0 28.8h0M672.7 125.9h0M647.3 166.3h0M504.0 132.9h0M455.8 15.9h0M670.1 160.6h0M669.3 162.3h0M477.9 156.3h0M533.0 37.3h0M529.6 36.0h0M582.4 87.7h0M663.6 25.9h0M664.5 27.7h0M495.0 33.7h0M643.4 17.6h0M496.2 55.6h0M497.1 53.0h0M679.2 160.4h0M538.6 118.7h0M516.1 46.1h0M521.0 54.0h0M496.9 101.9h0M501.3 98.2h0M494.3 110.3h0M494.0 112.7h0M617.5 45.0h0M615.1 152.0h0M638.5 166.0h0M635.0 165.2h0M672.3 20.8h0M671.0 19.9h0M650.3 39.5h0M628.6 158.6h0M670.6 43.1h0M667.2 54.4h0M525.6 141.8h0M601.1 87.0h0M595.4 85.8h0M671.1 98.2h0M672.6 96.2h0M505.3 130.9h0M550.5 31.0h0M492.9 12.5h0M496.0 39.8h0M585.5 85.3h0M585.9 82.6h0M616.8 49.2h0M636.4 6.6h0M483.1 152.7h0M489.8 115.1h0M636.5 47.0h0M595.3 53.3h0M635.8 46.3h0M637.9 160.9h0M677.3 149.6h0M447.8 95.1h0M455.6 93.9h0M614.2 150.2h0M550.1 80.6h0M608.6 38.4h0M613.7 141.6h0M465.3 16.5h0M543.9 117.4h0M540.8 118.7h0M487.9 95.4h0M483.4 99.4h0M498.5 29.7h0M555.1 141.8h0M465.2 140.7h0M550.1 27.0h0M634.1 106.4h0M557.6 110.2h0M558.9 107.3h0M480.4 124.6h0M484.5 6.9h0M578.9 56.0h0M659.5 19.3h0M474.3 152.6h0M473.0 149.0h0M604.3 32.0h0M607.5 30.4h0M604.4 32.3h0M611.4 37.5h0M687.6 -0.1h0M534.8 87.0h0M641.2 163.0h0M510.5 81.4h0M473.2 64.9h0M473.1 68.5h0M476.1 68.6h0M457.5 46.6h0M457.6 44.5h0M670.6 58.7h0M665.1 53.0h0M456.0 46.0h0M602.4 120.0h0M643.4 50.1h0M468.0 92.5h0M464.5 92.1h0M666.7 146.6h0M475.9 91.1h0M476.8 93.9h0M464.2 148.4h0M460.0 144.8h0M648.8 33.2h0M648.8 33.0h0M579.6 67.3h0M457.8 66.1h0M475.4 38.7h0M507.9 10.8h0M490.4 17.2h0M685.2 -1.9h0M684.5 -1.5h0M689.5 -0.8h0M646.4 98.5h0M545.7 88.1h0M487.4 85.4h0M492.2 87.5h0M478.0 44.3h0M651.5 28.3h0M646.9 31.0h0M582.8 133.8h0M686.1 115.4h0M688.7 113.4h0M521.1 86.8h0M657.6 161.2h0M658.1 166.1h0M559.3 32.4h0M557.1 37.2h0M473.4 11.8h0M464.0 47.3h0M625.0 6.7h0M618.3 18.9h0M593.6 23.9h0M465.2 18.8h0M597.0 0.4h0M595.5 0.4h0M510.6 149.3h0M510.5 149.6h0M475.8 84.7h0M587.0 59.5h0M493.8 158.4h0M483.7 141.0h0M597.5 72.2h0M534.9 98.5h0M452.8 12.6h0M504.1 141.6h0M603.6 47.2h0M484.8 118.2h0M682.1 64.9h0M681.7 65.9h0M660.8 139.1h0M668.2 3.0h0M628.0 19.0h0M601.7 107.0h0M603.2 112.6h0M464.5 62.5h0M471.3 33.2h0M518.2 134.8h0M555.2 47.8h0M522.8 57.5h0M654.5 32.1h0M653.4 32.1h0M546.2 162.8h0M502.2 150.2h0M651.4 82.4h0M455.3 112.1h0M452.3 113.6h0M562.0 29.4h0M677.5 54.7h0M459.2 52.9h0M458.6 58.7h0M459.3 57.2h0M551.8 85.5h0M549.8 78.6h0M553.8 23.7h0M611.8 24.6h0M609.8 27.2h0M521.5 98.2h0M575.5 63.0h0M676.4 68.6h0M672.8 154.0h0M645.9 24.9h0M563.4 3.9h0M635.6 11.0h0M559.0 24.4h0M598.0 68.1h0M526.7 -3.7h0M617.4 160.8h0M619.2 103.5h0M622.8 149.7h0M487.3 154.9h0M478.7 157.4h0M588.7 41.6h0M644.5 87.7h0M591.3 77.9h0M563.1 141.4h0M651.6 142.7h0M657.8 152.9h0M686.2 72.5h0M491.1 118.0h0M475.3 121.9h0M562.1 152.4h0M561.9 151.7h0M467.3 53.8h0M503.8 145.2h0M502.5 146.7h0M630.4 65.0h0M543.0 8.6h0M587.6 27.6h0M664.1 33.3h0M608.9 59.2h0M613.6 58.6h0M598.7 41.5h0M578.1 89.1h0M685.5 109.4h0M561.2 44.8h0M562.8 43.2h0M558.2 44.9h0M502.4 150.7h0M624.4 12.0h0M668.6 122.8h0M582.5 85.7h0M583.9 85.7h0M645.6 61.5h0M488.2 114.2h0M527.1 78.3h0M566.9 -0.0h0M516.0 131.9h0M625.7 150.3h0M625.5 145.2h0M590.8 62.4h0M531.6 76.7h0M531.2 78.3h0M600.0 141.7h0M662.6 30.4h0M473.5 38.4h0M574.8 135.3h0M572.3 134.8h0M587.7 54.1h0M485.5 75.5h0M657.7 124.7h0M656.9 123.2h0M647.3 112.5h0M623.9 54.0h0M685.4 57.1h0M643.8 99.9h0M517.4 45.8h0M609.0 40.3h0M608.6 47.8h0M649.0 143.6h0M577.1 26.6h0M670.8 110.8h0M628.2 84.4h0M631.1 83.5h0M628.0 84.3h0M559.5 106.9h0M644.4 137.1h0M688.8 126.5h0M616.1 21.2h0M644.8 123.1h0M670.7 125.3h0M670.8 121.7h0M659.5 126.0h0M545.5 -0.0h0M623.3 67.8h0M484.0 121.3h0M614.4 41.4h0M611.9 144.8h0M474.4 124.2h0M473.4 122.0h0M472.4 127.3h0M556.7 119.1h0M470.3 148.6h0M473.5 148.2h0M467.5 145.0h0M475.2 55.1h0M625.0 115.5h0M456.0 127.4h0M617.8 68.1h0M613.5 118.5h0M531.6 -0.4h0M535.0 2.5h0"/><path stroke="rgb(130,130,130)" stroke-width="3.4" d="M606.8 2.0h0M607.3 4.3h0M572.4 120.9h0M577.5 122.9h0M508.0 151.4h0M663.4 120.5h0M557.6 -3.0h0M599.3 36.0h0M520.5 58.3h0M472.2 37.2h0M454.3 102.0h0M510.2 147.6h0M598.3 159.9h0M599.8 2.8h0M455.8 117.9h0M542.9 129.2h0M638.0 79.9h0M535.5 159.8h0M670.1 74.8h0M635.0 65.7h0M642.4 41.2h0M502.7 159.7h0M562.6 29.6h0M555.3 26.1h0M661.7 125.3h0M657.5 125.9h0M530.8 44.6h0M637.8 51.7h0M492.2 131.4h0M477.2 23.8h0M514.1 145.1h0M512.1 143.8h0M679.6 78.8h0M682.8 129.9h0M603.7 108.4h0M601.6 114.6h0M480.7 143.8h0M478.4 144.2h0M525.3 70.6h0M525.3 70.8h0M553.1 85.6h0M581.9 47.5h0M548.5 90.6h0M548.3 90.9h0M630.1 150.0h0M476.1 84.0h0M565.1 68.5h0M621.5 152.9h0M623.4 156.3h0M629.7 100.7h0M514.1 36.6h0M451.8 154.3h0M564.4 103.8h0M467.0 24.1h0M523.1 61.2h0M525.2 54.4h0M526.0 58.0h0M653.7 28.1h0M651.2 28.4h0M653.9 25.1h0M602.3 56.2h0M515.4 128.7h0M596.0 123.8h0M511.4 46.1h0M507.6 48.5h0M523.9 13.0h0M522.0 73.3h0M513.4 115.9h0M602.9 154.7h0M684.4 38.0h0M608.7 47.0h0M608.1 43.5h0M572.9 148.8h0M572.9 156.2h0M519.0 160.6h0M515.6 162.7h0M460.6 102.4h0M457.3 99.0h0M660.4 125.5h0M488.1 51.9h0M524.1 123.9h0M523.9 122.8h0M524.6 0.9h0M628.9 52.0h0M632.6 47.4h0M569.0 -1.7h0M669.2 127.2h0M473.9 134.1h0M562.3 117.0h0M454.1 103.2h0M529.0 17.3h0M474.4 85.8h0M466.4 88.3h0M662.5 6.4h0M533.7 133.7h0M623.8 18.0h0M628.9 24.1h0M528.2 9.9h0M528.7 6.8h0M553.8 101.9h0M552.9 101.9h0M670.3 29.6h0M612.1 25.7h0M644.1 24.3h0M533.3 21.2h0M506.5 18.0h0M503.4 19.4h0M646.5 0.4h0M579.8 162.0h0M470.5 122.1h0M578.8 54.7h0M645.0 30.9h0M457.6 92.1h0M670.2 42.7h0M519.6 14.9h0M515.1 145.3h0M513.3 142.5h0M548.5 80.3h0M552.1 79.3h0M474.6 117.5h0M631.6 54.1h0M535.9 130.7h0M648.2 17.5h0M557.0 49.2h0M556.2 47.9h0M659.4 120.2h0M659.0 118.6h0M549.2 89.1h0M459.5 68.5h0M460.2 5.5h0M670.0 74.1h0M656.5 163.3h0M487.7 134.6h0M659.2 138.2h0M505.6 133.4h0M554.6 23.4h0M496.1 122.1h0M649.2 38.4h0M564.8 22.3h0M601.4 115.5h0M597.1 110.7h0M533.7 88.3h0M538.4 82.3h0M531.7 31.8h0M545.6 18.1h0M541.1 21.6h0M544.4 17.4h0M550.9 24.5h0M675.5 65.4h0M677.7 67.0h0M621.1 153.3h0M670.4 36.7h0M480.3 66.6h0M628.3 93.3h0M483.8 148.2h0M672.2 159.3h0M465.7 50.0h0M592.2 138.7h0M531.1 135.4h0M622.1 18.9h0M619.6 21.7h0M620.3 18.1h0M512.9 94.7h0M644.9 54.4h0M643.0 50.8h0M634.0 92.6h0M518.7 89.9h0M470.8 47.2h0M468.6 47.1h0M556.6 122.3h0M506.5 152.0h0M567.6 108.4h0M604.5 1.1h0M674.2 128.2h0M572.2 43.2h0M575.3 42.5h0M489.8 121.4h0M489.6 122.2h0M489.4 122.6h0M591.5 116.8h0M591.2 119.2h0M471.7 118.9h0M655.8 135.7h0M642.7 6.5h0M475.0 162.5h0M544.8 14.8h0M543.7 16.6h0M609.9 50.2h0M608.1 44.5h0M670.8 73.3h0M671.1 70.5h0M603.3 68.3h0M640.7 12.4h0M680.5 160.3h0M497.3 28.1h0M539.3 119.0h0M500.4 104.2h0M612.7 80.1h0M647.7 21.6h0M610.8 72.9h0M516.1 19.9h0M647.1 40.7h0M468.8 92.9h0M485.4 87.4h0M568.8 5.0h0M564.4 4.0h0M523.4 142.3h0M641.1 101.0h0M597.2 87.7h0M627.3 144.3h0M605.7 120.7h0M504.7 126.9h0M551.0 32.5h0M497.2 18.0h0M492.5 18.4h0M495.8 22.7h0M492.2 43.1h0M530.5 94.4h0M591.1 88.1h0M658.3 9.8h0M618.1 25.5h0M489.8 97.1h0M486.2 101.6h0M488.0 100.7h0M660.0 6.9h0M593.1 55.4h0M660.8 125.3h0M559.1 38.4h0M590.9 107.8h0M513.3 84.5h0M470.2 119.5h0M626.6 154.4h0M504.2 130.2h0M574.0 142.3h0M633.7 159.1h0M677.6 152.6h0M489.4 17.0h0M582.1 128.5h0M582.8 130.7h0M464.1 27.6h0M461.3 23.5h0M452.6 95.0h0M631.6 43.0h0M613.8 149.0h0M537.3 3.4h0M623.0 39.6h0M620.4 41.4h0M609.9 131.1h0M682.1 4.2h0M464.7 16.4h0M528.1 119.2h0M531.0 121.2h0M643.9 146.4h0M644.0 151.7h0M491.6 74.0h0M492.6 72.3h0M497.4 75.9h0M495.1 68.3h0M496.3 70.9h0M492.9 142.1h0M494.3 146.7h0M555.9 17.7h0M554.4 19.4h0M553.7 15.7h0M637.3 103.7h0M518.8 38.1h0M639.9 1.6h0M483.0 129.0h0M483.3 127.0h0M485.6 9.5h0M558.5 45.0h0M663.2 10.7h0M649.1 162.4h0M484.9 58.5h0M606.6 30.2h0M560.8 32.3h0M534.9 87.7h0M496.8 83.2h0M544.5 21.3h0M601.1 61.0h0M537.5 114.4h0M629.9 20.3h0M454.4 44.0h0M620.6 14.3h0M632.0 14.3h0M666.8 58.9h0M623.6 90.7h0M547.6 124.2h0M543.5 122.5h0M479.5 27.4h0M465.0 98.7h0M468.4 57.9h0M663.5 153.4h0M521.9 33.5h0M630.4 38.2h0M482.9 93.0h0M458.4 143.2h0M461.7 147.2h0M645.5 70.3h0M652.9 47.2h0M652.1 50.5h0M455.5 58.8h0M506.8 17.9h0M477.9 110.7h0M479.8 109.1h0M480.8 112.3h0M477.5 113.0h0M489.9 15.9h0M491.7 14.0h0M687.0 1.4h0M517.7 5.2h0M543.4 81.6h0M687.3 119.6h0M572.5 8.2h0M529.6 15.8h0M612.7 66.5h0M611.6 66.2h0M495.5 124.0h0M615.1 -0.4h0M570.7 28.0h0M517.2 149.8h0M517.4 155.9h0M519.4 150.4h0M501.6 61.6h0M511.4 150.9h0M532.0 40.9h0M531.0 39.0h0M531.7 40.1h0M534.7 42.9h0M656.6 98.8h0M655.6 122.6h0M473.2 85.0h0M453.7 40.3h0M684.4 160.6h0M491.7 166.4h0M487.2 158.5h0M484.4 140.2h0M485.5 140.2h0M535.2 99.0h0M532.6 74.0h0M452.8 7.0h0M602.5 48.0h0M453.8 9.8h0M567.6 33.0h0M599.1 124.6h0M600.3 126.3h0M559.6 34.5h0M554.6 43.3h0M680.8 77.6h0M600.3 80.3h0M600.3 80.9h0M530.9 2.1h0M469.8 91.9h0M668.9 162.7h0M607.5 110.8h0M597.9 99.2h0M597.3 96.3h0M472.6 36.6h0M521.0 16.4h0M513.9 18.2h0M656.9 32.4h0M522.4 145.6h0M670.3 88.3h0M542.3 160.9h0M492.0 44.2h0M492.5 53.3h0M552.3 83.8h0M551.8 23.4h0M581.9 90.3h0M681.6 67.3h0M504.5 120.5h0M673.6 156.7h0M579.9 103.5h0M525.5 121.0h0M645.0 23.6h0M645.3 23.1h0M645.5 26.2h0M590.3 16.2h0M587.2 17.5h0M561.1 61.7h0M528.5 -1.1h0M616.6 158.8h0M617.3 102.9h0M486.7 156.3h0M666.0 19.8h0M591.8 44.3h0M498.1 155.5h0M685.3 -2.0h0M463.6 111.4h0M477.8 43.8h0M561.4 142.2h0M584.5 87.1h0M685.8 75.6h0M574.7 77.4h0M538.6 32.6h0M536.4 37.8h0M641.8 87.4h0M642.0 87.2h0M644.8 88.5h0M471.6 131.4h0M518.0 43.2h0M649.2 145.7h0M626.4 65.1h0M631.6 65.7h0M594.5 102.8h0M542.1 10.4h0M629.5 55.4h0M602.8 47.5h0M502.7 143.3h0M504.0 152.1h0M675.5 155.3h0M674.3 155.1h0M674.3 159.1h0M623.5 23.1h0M537.2 42.2h0M674.1 41.2h0M582.4 85.9h0M619.9 34.2h0M488.1 116.7h0M531.6 78.6h0M564.2 5.4h0M602.7 38.3h0M636.7 87.4h0M642.5 86.4h0M592.8 65.6h0M602.4 147.5h0M601.9 149.5h0M668.1 29.3h0M483.8 144.4h0M471.1 38.8h0M471.1 42.4h0M576.6 136.8h0M575.7 135.9h0M483.0 75.9h0M539.5 33.0h0M473.6 78.1h0M630.0 56.8h0M686.4 58.0h0M537.4 150.6h0M640.9 102.5h0M521.6 54.0h0M616.3 39.8h0M455.8 141.2h0M589.8 131.1h0M454.1 113.5h0M647.5 146.9h0M595.7 42.1h0M468.8 9.7h0M505.1 106.2h0M689.1 67.1h0M686.0 66.7h0M651.6 40.8h0M465.8 161.1h0M480.2 95.2h0M481.8 94.4h0M687.1 123.7h0M516.3 14.4h0M520.6 16.4h0M668.9 124.4h0M662.8 155.7h0M507.8 139.3h0M485.1 116.6h0M600.3 26.1h0M594.9 22.3h0M471.6 121.8h0M612.1 163.8h0M469.9 150.8h0M617.8 70.3h0M497.3 121.9h0M527.8 88.6h0M601.7 30.0h0"/><path stroke="rgb(130,130,130)" stroke-width="4.0" d="M602.1 -2.4h0M506.2 149.5h0M661.0 7.9h0M662.0 122.7h0M473.5 45.4h0M554.6 2.0h0M469.6 39.4h0M457.9 100.3h0M558.1 34.9h0M451.5 123.9h0M476.3 139.4h0M533.4 8.9h0M540.1 133.6h0M541.1 123.6h0M634.1 69.2h0M499.1 159.9h0M666.4 130.2h0M638.5 55.8h0M474.7 22.1h0M585.0 92.8h0M585.1 95.0h0M602.7 122.7h0M664.3 163.3h0M515.1 142.5h0M512.2 142.9h0M687.6 145.2h0M479.1 141.8h0M527.9 72.0h0M525.0 70.4h0M554.4 84.9h0M591.3 129.9h0M544.5 83.0h0M545.8 83.8h0M475.2 85.4h0M687.3 136.1h0M471.7 84.1h0M492.8 60.2h0M456.7 10.9h0M568.4 66.1h0M562.8 69.5h0M565.3 82.4h0M619.6 154.3h0M632.6 102.2h0M573.9 75.9h0M512.9 39.5h0M515.0 36.1h0M514.6 63.4h0M503.5 13.1h0M468.0 30.3h0M518.0 57.1h0M602.3 59.2h0M520.1 128.4h0M596.1 122.7h0M680.9 139.0h0M618.3 117.9h0M575.8 92.2h0M610.3 109.9h0M608.9 109.8h0M523.3 124.4h0M609.5 44.2h0M613.4 46.6h0M571.2 151.5h0M522.4 161.4h0M516.8 160.4h0M517.8 162.5h0M661.3 24.6h0M662.6 25.6h0M483.6 118.1h0M482.3 117.1h0M483.3 119.1h0M677.7 125.9h0M468.8 136.7h0M457.0 104.0h0M623.9 80.9h0M484.4 18.3h0M487.5 19.9h0M682.7 54.4h0M530.6 6.4h0M529.4 8.6h0M529.5 7.5h0M553.3 101.6h0M519.7 36.7h0M521.0 84.0h0M609.8 19.6h0M463.3 143.1h0M623.8 58.8h0M535.6 27.1h0M507.9 19.4h0M643.4 2.0h0M569.5 159.8h0M575.2 168.7h0M641.5 111.9h0M643.5 108.5h0M646.5 31.6h0M690.7 27.1h0M502.4 158.7h0M515.8 14.6h0M471.0 69.4h0M680.1 128.5h0M511.7 146.6h0M511.8 148.1h0M516.7 150.7h0M470.0 119.6h0M629.2 51.4h0M582.1 2.2h0M648.4 19.5h0M649.1 16.9h0M555.5 46.7h0M555.7 50.1h0M559.6 49.6h0M461.9 2.5h0M673.3 75.0h0M671.1 74.3h0M509.2 149.9h0M572.7 94.9h0M660.5 142.2h0M660.7 135.3h0M657.7 140.2h0M649.4 103.2h0M553.8 24.4h0M682.4 119.9h0M497.1 122.7h0M648.1 113.3h0M651.7 111.0h0M553.3 17.7h0M557.2 14.8h0M479.0 98.7h0M678.0 146.5h0M559.0 41.3h0M534.6 80.9h0M453.6 156.7h0M634.8 66.4h0M542.2 20.6h0M538.5 24.5h0M551.1 22.4h0M548.7 19.6h0M544.1 128.6h0M667.2 40.8h0M483.9 63.9h0M483.8 64.7h0M596.7 4.6h0M575.4 82.2h0M605.9 70.9h0M661.1 153.2h0M465.1 56.3h0M531.3 136.8h0M557.6 86.4h0M547.9 42.6h0M677.5 -0.5h0M689.1 1.7h0M638.6 85.9h0M503.5 158.2h0M570.0 109.5h0M572.4 109.0h0M485.9 106.9h0M609.1 4.4h0M590.4 89.8h0M454.2 13.7h0M557.4 21.0h0M681.6 125.7h0M533.1 37.0h0M610.3 46.4h0M666.5 30.4h0M537.6 38.5h0M599.9 73.5h0M497.1 55.5h0M676.1 157.3h0M502.1 104.5h0M497.9 101.8h0M609.1 76.5h0M674.7 14.9h0M595.3 107.0h0M594.7 81.9h0M619.8 44.4h0M674.0 14.3h0M648.4 41.2h0M627.1 157.6h0M625.6 160.1h0M624.9 159.7h0M669.1 56.5h0M666.6 54.6h0M519.1 5.1h0M527.6 140.9h0M632.6 149.2h0M630.2 143.9h0M513.0 7.3h0M544.0 58.1h0M555.0 29.3h0M660.5 134.1h0M523.0 91.3h0M525.8 92.5h0M581.8 84.6h0M615.1 49.2h0M659.7 14.1h0M655.8 13.0h0M498.7 116.5h0M616.9 26.7h0M493.4 102.5h0M543.7 154.5h0M592.9 56.5h0M649.8 85.5h0M497.7 103.6h0M530.6 44.4h0M489.6 115.5h0M646.0 43.9h0M640.5 39.9h0M562.8 39.3h0M593.5 109.0h0M524.6 99.9h0M565.2 124.9h0M470.2 119.8h0M620.0 9.8h0M627.5 153.8h0M628.3 152.1h0M637.0 162.0h0M678.4 152.2h0M590.2 120.6h0M583.1 131.1h0M448.8 98.2h0M647.9 8.6h0M556.9 85.5h0M609.4 34.0h0M606.3 136.7h0M681.7 4.3h0M464.9 16.7h0M542.8 118.7h0M483.2 91.6h0M484.1 98.7h0M483.2 97.1h0M492.7 144.0h0M548.5 26.5h0M551.1 26.5h0M555.0 19.2h0M556.8 24.4h0M640.5 100.4h0M644.0 3.6h0M605.6 133.2h0M589.5 116.8h0M533.1 45.4h0M661.6 11.4h0M665.4 8.7h0M569.5 49.2h0M477.2 39.1h0M502.7 52.7h0M552.9 53.8h0M601.3 27.3h0M606.2 34.2h0M633.8 85.8h0M637.5 87.4h0M634.2 86.2h0M555.3 28.3h0M537.9 112.4h0M628.6 149.0h0M577.7 84.6h0M626.8 20.7h0M604.9 82.5h0M599.1 75.7h0M551.4 53.2h0M455.7 46.4h0M621.6 88.5h0M544.6 124.9h0M600.0 106.7h0M525.1 31.6h0M518.0 36.5h0M631.5 38.5h0M649.5 48.3h0M519.4 159.1h0M646.3 98.5h0M644.1 97.8h0M631.9 45.0h0M475.7 45.6h0M651.0 33.0h0M687.9 112.6h0M686.1 115.8h0M572.3 9.7h0M525.7 15.5h0M576.7 106.8h0M578.9 102.9h0M616.8 60.1h0M559.1 33.1h0M471.7 18.2h0M473.7 14.3h0M465.9 48.9h0M618.6 3.5h0M617.7 20.3h0M545.1 102.4h0M604.1 9.1h0M524.8 44.8h0M464.1 16.9h0M470.3 20.2h0M514.5 157.2h0M518.4 151.3h0M506.4 62.8h0M592.5 2.9h0M658.5 97.4h0M475.7 78.0h0M587.9 61.0h0M587.2 59.9h0M686.3 157.0h0M490.3 164.3h0M552.7 20.9h0M554.1 15.6h0M660.1 106.8h0M599.7 74.5h0M538.3 100.4h0M495.8 34.0h0M456.7 10.6h0M603.6 48.6h0M453.1 9.1h0M583.8 46.1h0M565.2 34.6h0M538.6 -2.3h0M598.3 125.9h0M553.7 40.5h0M489.4 117.3h0M546.3 39.9h0M539.2 9.3h0M663.3 139.5h0M661.0 141.1h0M680.0 77.7h0M599.2 78.6h0M599.9 81.4h0M625.4 14.5h0M666.3 166.0h0M667.5 163.4h0M583.3 85.3h0M602.7 107.8h0M595.4 96.2h0M602.4 95.6h0M598.6 96.9h0M596.2 96.5h0M471.4 37.0h0M644.1 6.6h0M512.8 23.6h0M525.3 65.1h0M689.8 154.6h0M687.6 151.3h0M512.3 66.0h0M501.9 152.9h0M457.7 113.4h0M456.8 56.4h0M675.4 47.5h0M672.3 50.4h0M672.3 45.6h0M555.2 21.3h0M636.3 113.3h0M596.6 137.3h0M506.2 121.9h0M542.7 91.2h0M576.3 99.4h0M530.8 118.8h0M526.2 122.3h0M650.8 22.8h0M563.1 3.4h0M562.5 7.8h0M486.3 125.9h0M562.7 62.6h0M561.2 62.5h0M527.8 -1.5h0M619.4 162.3h0M617.3 160.5h0M617.2 147.8h0M476.4 163.4h0M483.3 159.0h0M504.0 149.6h0M501.8 149.3h0M464.3 110.1h0M651.6 88.0h0M592.1 81.7h0M563.9 137.1h0M666.5 43.0h0M570.5 75.0h0M474.4 115.7h0M637.8 47.5h0M537.8 32.6h0M642.3 86.9h0M471.7 55.0h0M641.2 78.5h0M643.3 70.2h0M629.6 64.7h0M593.6 33.8h0M631.9 54.7h0M660.2 36.9h0M545.2 -2.8h0M642.0 99.3h0M637.6 104.4h0M607.5 59.9h0M580.4 89.1h0M542.2 112.4h0M536.3 7.7h0M502.2 150.9h0M627.8 164.0h0M501.9 77.5h0M673.7 160.0h0M504.2 113.2h0M504.1 114.5h0M600.1 28.2h0M623.7 20.3h0M568.1 22.8h0M668.3 35.5h0M645.3 60.6h0M489.3 120.7h0M645.8 2.7h0M526.0 133.2h0M629.2 150.9h0M626.5 147.8h0M605.3 35.6h0M495.3 108.5h0M594.5 -0.9h0M467.7 -0.0h0M469.8 5.9h0M481.7 120.8h0M605.3 54.3h0M473.9 44.7h0M472.1 42.5h0M474.5 40.2h0M509.6 4.6h0M540.1 29.3h0M656.2 126.7h0M647.7 116.3h0M469.2 75.7h0M596.4 140.7h0M541.6 152.2h0M587.6 121.3h0M578.2 131.0h0M598.2 128.6h0M594.5 127.7h0M456.4 108.1h0M555.2 115.2h0M556.0 118.8h0M557.5 117.2h0M473.8 -1.4h0M647.2 147.3h0M538.1 137.0h0M570.0 111.7h0M644.4 17.6h0M646.5 19.5h0M561.4 114.0h0M510.1 92.9h0M481.5 91.7h0M616.4 20.5h0M615.7 21.0h0M537.0 6.2h0M619.6 40.7h0M621.7 39.7h0M668.8 127.5h0M656.5 130.0h0M509.9 141.4h0M510.4 140.7h0M561.1 42.9h0M488.2 110.2h0M480.9 118.1h0M607.9 41.0h0M609.8 43.2h0M602.5 146.3h0M610.2 146.2h0M601.2 22.8h0M621.5 21.8h0M675.4 59.4h0M559.1 116.4h0M613.6 165.5h0M614.2 165.3h0M472.0 53.4h0M453.3 128.9h0M601.5 32.7h0M609.4 118.6h0"/><path stroke="rgb(140,140,140)" stroke-width="3.4" d="M602.9 1.5h0M604.8 1.8h0M579.6 125.1h0M506.4 150.2h0M664.0 11.6h0M658.4 9.7h0M661.9 122.5h0M647.7 96.3h0M650.2 92.4h0M554.5 1.4h0M521.5 57.5h0M472.3 38.5h0M592.6 104.3h0M590.0 104.4h0M559.3 34.7h0M556.7 36.4h0M599.3 1.2h0M453.5 121.9h0M650.5 148.6h0M641.6 71.4h0M535.7 129.5h0M535.3 129.5h0M554.2 19.6h0M555.1 18.6h0M559.0 18.3h0M582.7 59.5h0M488.2 144.6h0M642.9 44.3h0M638.6 43.9h0M622.7 63.9h0M458.3 157.8h0M493.5 135.4h0M566.3 47.4h0M565.3 44.7h0M682.8 126.3h0M601.4 115.6h0M599.1 115.1h0M480.6 135.7h0M586.0 51.6h0M566.0 3.2h0M589.0 124.6h0M547.6 90.7h0M543.6 81.0h0M476.1 83.1h0M686.7 135.1h0M490.7 58.1h0M530.4 46.0h0M533.5 47.2h0M637.0 103.3h0M628.8 150.7h0M645.4 157.1h0M626.3 10.2h0M629.6 11.0h0M608.2 90.1h0M528.2 6.7h0M520.3 6.7h0M497.0 54.2h0M495.3 50.7h0M515.7 128.7h0M531.9 2.4h0M506.6 46.0h0M676.8 140.8h0M523.1 15.9h0M523.3 74.9h0M608.1 109.4h0M605.1 158.7h0M601.1 152.4h0M610.6 39.3h0M475.8 75.6h0M573.0 151.4h0M556.6 106.8h0M624.8 0.8h0M623.7 -3.3h0M520.5 2.2h0M634.5 52.8h0M515.4 103.0h0M515.6 103.8h0M567.3 0.6h0M493.8 73.4h0M497.8 70.7h0M513.0 13.6h0M561.2 16.2h0M472.0 137.2h0M680.7 114.4h0M531.5 20.3h0M535.0 136.3h0M625.5 20.6h0M553.1 102.1h0M520.9 34.2h0M653.3 159.4h0M670.2 25.0h0M623.9 61.4h0M533.8 21.6h0M532.8 20.3h0M644.4 2.4h0M574.1 160.7h0M467.8 121.8h0M474.0 90.7h0M473.4 92.6h0M578.6 57.3h0M581.8 53.5h0M578.9 54.7h0M529.2 57.3h0M562.0 138.2h0M504.4 156.3h0M469.5 65.7h0M680.6 28.9h0M682.4 33.4h0M521.5 128.1h0M555.3 103.4h0M549.3 79.6h0M536.0 12.8h0M578.9 -2.9h0M510.2 17.9h0M679.4 22.7h0M673.9 13.8h0M493.7 27.2h0M545.7 89.4h0M461.6 3.0h0M596.0 50.9h0M496.6 95.5h0M595.5 108.1h0M597.6 108.1h0M592.7 109.3h0M595.8 106.1h0M572.2 95.0h0M658.0 163.0h0M655.2 164.3h0M647.9 97.5h0M646.1 96.4h0M549.6 27.3h0M502.4 62.6h0M529.2 40.9h0M556.4 16.4h0M519.8 150.6h0M520.0 156.1h0M599.8 112.5h0M598.5 108.0h0M537.5 83.3h0M522.8 163.9h0M602.7 123.6h0M530.5 23.2h0M645.5 54.2h0M640.1 144.7h0M560.9 164.5h0M560.7 161.3h0M489.0 113.1h0M666.4 35.8h0M628.0 91.7h0M518.3 109.7h0M516.7 110.3h0M516.7 108.4h0M606.7 71.0h0M610.2 72.3h0M527.0 67.2h0M483.5 127.4h0M594.2 138.2h0M530.3 134.1h0M654.1 157.6h0M558.6 88.1h0M565.4 -1.5h0M519.4 92.6h0M548.6 42.7h0M684.5 -2.1h0M636.2 83.3h0M520.2 85.9h0M628.9 109.1h0M557.9 119.3h0M567.7 8.8h0M503.2 157.8h0M489.0 118.1h0M486.3 113.0h0M619.6 104.5h0M672.8 125.5h0M674.0 127.0h0M575.1 42.6h0M577.1 44.6h0M493.2 122.6h0M477.3 156.1h0M475.2 158.7h0M680.2 122.8h0M681.9 122.5h0M532.7 37.3h0M602.9 146.5h0M603.3 146.5h0M549.0 129.5h0M643.3 16.7h0M494.1 56.0h0M675.8 24.4h0M614.5 81.1h0M590.9 110.8h0M596.6 80.8h0M675.4 22.0h0M647.6 42.4h0M501.0 86.8h0M572.4 -1.2h0M639.7 60.0h0M616.8 163.6h0M585.1 119.4h0M584.9 120.3h0M588.3 120.7h0M665.2 55.2h0M666.8 55.0h0M562.4 4.4h0M566.0 5.5h0M637.9 100.1h0M475.9 16.1h0M474.7 16.8h0M473.7 11.5h0M598.7 86.9h0M600.3 87.9h0M597.4 87.8h0M598.0 124.8h0M616.8 49.4h0M658.7 13.9h0M485.1 99.6h0M678.6 24.5h0M537.2 134.0h0M542.7 136.5h0M494.7 102.5h0M494.7 103.8h0M488.7 100.2h0M641.9 43.0h0M559.3 38.9h0M593.7 110.2h0M514.6 84.9h0M465.5 53.6h0M635.7 46.1h0M576.9 142.9h0M638.2 160.5h0M676.8 152.8h0M576.0 101.5h0M587.2 126.6h0M645.4 11.6h0M650.9 14.5h0M465.9 69.2h0M550.1 79.7h0M549.9 80.3h0M615.1 36.2h0M610.4 36.9h0M485.0 163.2h0M682.9 2.1h0M481.1 97.1h0M482.5 97.3h0M553.0 161.4h0M554.7 133.1h0M554.2 134.7h0M555.4 136.4h0M494.0 73.7h0M495.5 73.4h0M559.5 17.1h0M584.5 160.2h0M589.0 159.5h0M459.2 -4.2h0M481.6 124.4h0M488.2 126.3h0M589.8 119.1h0M586.7 126.1h0M531.4 42.7h0M601.6 93.5h0M645.2 159.9h0M568.4 50.6h0M497.6 55.0h0M491.7 63.2h0M493.0 61.1h0M604.0 30.8h0M635.8 85.8h0M504.6 119.2h0M542.6 22.0h0M543.9 21.2h0M629.0 153.1h0M626.5 149.5h0M540.8 145.8h0M601.9 77.1h0M469.9 106.6h0M519.1 96.9h0M472.8 66.2h0M616.7 12.5h0M632.2 14.4h0M621.6 89.2h0M544.1 139.7h0M473.1 24.6h0M473.7 24.1h0M596.0 118.3h0M603.0 117.4h0M602.0 116.0h0M600.6 118.4h0M598.8 118.7h0M471.1 45.0h0M642.9 42.8h0M469.6 94.7h0M599.6 110.9h0M669.3 157.1h0M518.0 31.2h0M476.7 94.0h0M459.9 145.4h0M459.0 145.4h0M463.2 143.8h0M493.8 106.1h0M648.8 46.9h0M650.1 44.9h0M522.6 158.8h0M478.2 36.9h0M606.6 63.3h0M518.0 5.7h0M542.6 82.7h0M684.4 120.1h0M569.6 8.6h0M614.0 61.9h0M612.7 64.2h0M655.9 168.8h0M665.2 79.8h0M664.5 79.6h0M477.5 9.6h0M642.8 57.3h0M525.7 47.9h0M593.0 22.7h0M465.5 18.6h0M464.7 20.0h0M679.8 38.2h0M658.4 92.3h0M655.4 123.2h0M489.7 30.5h0M587.2 133.6h0M643.9 112.7h0M551.9 15.1h0M455.2 8.3h0M470.1 60.8h0M454.0 11.1h0M629.9 11.1h0M538.2 12.3h0M655.0 39.7h0M655.3 41.4h0M599.4 80.1h0M555.0 155.3h0M581.1 81.4h0M528.5 149.9h0M537.4 149.8h0M557.7 49.0h0M641.9 4.4h0M686.7 148.9h0M521.5 143.0h0M545.9 160.8h0M680.4 60.6h0M681.9 59.8h0M489.1 50.2h0M632.9 71.2h0M516.6 128.8h0M519.5 127.0h0M473.0 78.5h0M476.6 89.0h0M493.5 54.0h0M678.9 52.2h0M678.1 53.8h0M673.0 50.8h0M634.3 111.1h0M651.3 45.2h0M503.4 116.4h0M647.6 136.8h0M582.4 92.5h0M642.4 29.9h0M637.1 14.1h0M562.3 62.4h0M526.4 144.6h0M527.4 137.3h0M526.7 140.4h0M618.4 158.4h0M616.0 164.6h0M591.8 41.5h0M503.4 147.4h0M650.6 93.8h0M652.4 85.4h0M563.8 141.9h0M654.9 146.5h0M582.0 87.8h0M585.8 41.8h0M661.6 43.8h0M570.4 77.6h0M517.3 146.7h0M515.6 150.6h0M474.4 120.7h0M534.6 29.4h0M562.3 151.8h0M468.0 53.8h0M470.6 52.9h0M646.3 149.5h0M646.0 148.9h0M597.8 94.6h0M595.4 97.5h0M601.4 36.7h0M642.2 105.3h0M614.0 61.0h0M612.9 55.0h0M638.6 19.9h0M526.4 60.7h0M602.6 48.9h0M513.9 38.4h0M532.1 -2.8h0M517.5 87.8h0M692.2 107.7h0M537.4 12.3h0M533.3 11.4h0M538.4 14.6h0M528.2 5.6h0M528.6 9.1h0M562.2 43.0h0M602.7 17.2h0M508.4 78.9h0M507.9 77.0h0M496.0 61.6h0M500.5 63.2h0M494.5 61.3h0M493.3 65.5h0M626.6 18.6h0M670.3 39.6h0M615.9 68.5h0M491.5 116.5h0M516.2 80.7h0M512.4 70.9h0M645.8 2.1h0M517.9 132.7h0M493.7 110.0h0M640.7 90.3h0M464.2 0.9h0M662.8 29.0h0M499.9 40.1h0M486.0 73.6h0M678.4 39.9h0M612.5 11.8h0M600.8 142.6h0M654.6 152.3h0M641.0 99.0h0M609.3 41.0h0M612.9 43.6h0M611.3 37.8h0M455.8 142.8h0M454.1 109.7h0M452.7 107.6h0M516.9 69.9h0M590.4 43.2h0M672.2 110.6h0M469.2 13.1h0M469.3 9.7h0M613.3 148.4h0M485.7 76.4h0M509.9 94.4h0M685.9 123.2h0M516.7 14.9h0M650.6 117.1h0M582.1 16.1h0M576.1 15.4h0M631.5 163.0h0M560.8 43.6h0M552.1 4.1h0M663.3 158.6h0M510.2 138.1h0M651.9 70.8h0M595.9 19.2h0M678.6 56.7h0M641.8 85.8h0M678.3 119.4h0M671.4 120.7h0M560.0 114.2h0M559.6 115.6h0M651.2 73.5h0M604.5 114.1h0M613.1 166.5h0M538.4 140.2h0M629.4 115.7h0M455.7 127.5h0M579.1 140.1h0M536.0 0.4h0"/><path stroke="rgb(140,140,140)" stroke-width="4.8" d="M599.4 0.4h0M579.2 123.2h0M581.7 127.1h0M585.1 119.3h0M581.1 117.0h0M528.4 39.4h0M649.8 98.8h0M660.3 89.9h0M450.6 67.4h0M521.2 62.7h0M666.4 140.6h0M587.2 103.3h0M459.4 101.2h0M467.6 133.7h0M472.9 136.1h0M542.9 127.2h0M545.3 124.4h0M544.1 128.9h0M642.8 78.1h0M538.4 127.6h0M486.8 147.9h0M632.4 63.6h0M633.5 57.9h0M637.8 37.7h0M497.9 164.9h0M563.4 27.8h0M564.7 31.6h0M664.9 126.2h0M664.3 123.5h0M637.3 50.3h0M638.8 48.3h0M638.1 50.2h0M459.8 151.6h0M455.6 155.4h0M456.0 150.3h0M491.4 131.6h0M665.6 16.5h0M686.7 128.5h0M684.0 141.1h0M688.7 143.6h0M479.1 141.0h0M553.7 86.3h0M584.1 48.2h0M565.4 17.4h0M519.8 30.7h0M587.8 124.6h0M628.2 148.6h0M475.9 83.1h0M564.5 68.6h0M662.0 85.0h0M656.0 83.8h0M529.9 44.4h0M630.2 104.2h0M624.0 147.6h0M626.1 148.3h0M507.9 84.4h0M502.6 86.5h0M648.7 153.9h0M643.7 159.1h0M452.0 155.3h0M586.4 29.3h0M583.1 33.0h0M513.5 65.9h0M509.4 14.3h0M512.4 11.6h0M483.4 93.4h0M625.9 13.5h0M626.3 13.1h0M683.4 131.9h0M605.9 81.0h0M630.9 146.3h0M601.6 57.0h0M684.7 33.0h0M523.6 1.3h0M525.0 7.1h0M626.4 32.8h0M541.1 7.7h0M506.9 48.6h0M524.0 15.7h0M613.4 117.5h0M614.9 113.9h0M571.4 90.7h0M523.0 123.2h0M479.0 72.9h0M477.7 73.1h0M602.1 156.6h0M689.6 38.3h0M507.1 154.3h0M473.4 76.7h0M573.5 150.7h0M661.3 122.2h0M489.2 48.1h0M626.3 2.2h0M626.8 4.0h0M525.0 3.3h0M634.4 52.4h0M629.0 50.3h0M617.1 96.1h0M468.0 131.2h0M563.3 -1.2h0M516.4 11.5h0M565.9 13.5h0M471.3 136.4h0M524.5 132.0h0M561.4 119.5h0M567.0 121.6h0M620.4 73.6h0M552.9 73.0h0M552.3 73.9h0M662.4 98.3h0M667.5 102.2h0M458.0 129.0h0M477.2 83.4h0M474.3 85.2h0M484.9 21.6h0M633.5 107.8h0M628.6 18.5h0M552.6 103.5h0M522.0 34.9h0M521.2 84.1h0M464.1 144.3h0M628.8 123.6h0M624.4 60.2h0M624.6 66.0h0M625.3 60.4h0M533.8 20.0h0M683.8 73.8h0M690.2 79.3h0M680.1 72.3h0M590.0 41.5h0M468.3 119.8h0M638.3 112.1h0M641.3 111.5h0M515.5 164.4h0M455.1 90.4h0M456.2 89.6h0M660.8 161.4h0M486.3 145.5h0M503.6 164.8h0M561.0 130.3h0M567.8 133.3h0M475.3 68.1h0M476.5 71.2h0M673.2 40.3h0M480.0 64.7h0M514.4 146.2h0M515.3 144.5h0M527.3 134.1h0M608.5 110.8h0M473.7 116.8h0M530.7 12.8h0M511.3 153.0h0M513.2 14.2h0M492.4 19.2h0M488.7 21.9h0M491.7 21.2h0M548.6 89.0h0M549.5 88.9h0M595.6 50.1h0M512.1 153.0h0M509.1 151.8h0M575.3 92.6h0M645.2 101.3h0M520.4 21.8h0M548.8 26.4h0M567.1 5.2h0M648.4 39.9h0M573.1 116.1h0M530.2 103.2h0M529.0 104.6h0M600.0 114.2h0M562.2 41.3h0M601.7 124.6h0M637.4 64.4h0M535.1 28.0h0M639.3 58.4h0M642.5 141.1h0M566.0 165.4h0M480.4 117.4h0M480.9 116.0h0M548.5 23.4h0M477.7 103.6h0M676.2 65.8h0M679.5 68.4h0M664.1 33.2h0M670.3 36.0h0M569.0 27.2h0M499.5 82.4h0M506.3 82.8h0M671.6 155.1h0M673.4 159.3h0M587.9 47.8h0M586.8 51.1h0M577.0 158.1h0M599.3 156.4h0M460.9 91.6h0M674.2 66.9h0M675.6 68.1h0M566.3 -2.3h0M683.9 -3.1h0M472.1 28.1h0M675.8 124.9h0M559.0 18.0h0M493.6 122.0h0M668.5 162.7h0M669.3 160.6h0M470.2 88.4h0M562.8 107.1h0M561.6 111.5h0M472.3 119.5h0M509.8 87.7h0M532.9 36.3h0M549.3 16.3h0M543.8 16.0h0M602.3 145.1h0M582.2 88.4h0M672.9 72.8h0M663.4 28.2h0M663.5 26.2h0M504.2 25.3h0M502.8 29.1h0M495.1 57.7h0M538.5 121.2h0M498.9 102.5h0M673.9 18.1h0M589.8 109.3h0M597.2 79.5h0M595.6 80.7h0M667.1 24.5h0M491.8 108.3h0M674.9 23.4h0M677.0 26.9h0M677.6 28.0h0M501.5 90.2h0M627.3 154.0h0M567.5 -2.6h0M667.1 43.1h0M472.8 16.6h0M659.8 67.6h0M661.3 65.0h0M495.5 16.5h0M494.6 18.3h0M492.7 19.2h0M616.4 50.0h0M616.7 26.0h0M548.6 155.0h0M594.8 58.0h0M539.1 50.6h0M493.0 151.0h0M643.9 41.3h0M460.3 53.6h0M462.9 54.3h0M628.0 18.9h0M636.2 158.9h0M635.3 44.6h0M623.6 42.7h0M611.4 133.0h0M607.4 142.1h0M556.5 155.5h0M515.5 90.2h0M586.5 136.8h0M642.2 151.4h0M639.7 152.4h0M643.3 150.3h0M494.8 72.7h0M463.5 141.7h0M520.0 36.4h0M642.9 5.3h0M643.5 5.2h0M584.8 159.4h0M559.2 147.9h0M462.9 1.6h0M601.6 128.1h0M604.4 136.8h0M483.0 6.0h0M554.4 55.0h0M582.9 120.3h0M578.9 55.6h0M473.7 149.3h0M664.7 9.6h0M500.1 51.4h0M520.0 155.9h0M639.7 85.1h0M634.4 85.2h0M498.8 83.2h0M637.3 165.2h0M545.1 23.2h0M548.2 16.9h0M540.0 147.9h0M508.6 81.2h0M504.8 80.7h0M505.1 82.0h0M584.0 138.2h0M547.1 54.7h0M549.6 45.7h0M471.3 105.3h0M616.4 11.9h0M520.9 144.2h0M517.8 144.1h0M546.8 136.0h0M543.1 138.5h0M473.5 24.2h0M588.3 13.3h0M682.6 20.2h0M466.4 94.9h0M600.8 107.3h0M471.6 55.5h0M518.7 34.1h0M494.9 103.6h0M644.9 68.9h0M645.2 71.5h0M651.7 51.5h0M553.0 99.8h0M685.0 -2.7h0M518.5 7.7h0M517.7 6.9h0M643.4 99.7h0M493.8 84.0h0M653.1 30.6h0M685.5 119.2h0M529.1 9.9h0M582.5 9.0h0M523.6 86.1h0M580.8 103.6h0M612.9 59.1h0M609.4 63.9h0M465.2 47.8h0M641.8 58.2h0M639.6 52.4h0M538.2 70.2h0M547.9 101.3h0M593.3 22.1h0M517.0 152.4h0M500.7 60.2h0M459.3 87.0h0M530.9 40.4h0M655.8 99.8h0M654.3 122.2h0M650.4 124.0h0M451.6 36.5h0M585.1 124.7h0M685.1 163.5h0M686.3 164.4h0M682.3 161.8h0M519.8 136.5h0M567.3 21.7h0M588.6 47.2h0M561.5 36.8h0M556.3 35.2h0M653.1 51.4h0M652.9 50.7h0M542.5 37.3h0M538.2 11.1h0M538.2 12.2h0M654.5 40.7h0M678.1 76.5h0M679.5 77.9h0M574.7 117.6h0M605.1 110.5h0M684.6 127.0h0M671.2 24.7h0M520.7 14.8h0M523.7 14.7h0M521.0 13.7h0M454.4 142.0h0M511.1 21.1h0M520.9 19.2h0M665.9 83.8h0M513.0 63.6h0M492.5 41.4h0M630.4 74.2h0M460.5 113.6h0M460.5 111.2h0M456.1 113.6h0M626.9 108.8h0M564.3 150.8h0M562.7 154.7h0M456.4 55.3h0M613.1 26.3h0M610.6 24.7h0M593.0 132.8h0M602.3 144.9h0M504.1 123.6h0M507.1 120.4h0M680.2 27.6h0M680.4 23.6h0M642.7 133.7h0M646.8 133.9h0M573.1 143.3h0M580.8 105.7h0M582.9 105.9h0M483.8 109.3h0M614.4 128.4h0M634.0 13.1h0M618.2 101.0h0M623.9 151.4h0M487.4 153.4h0M487.4 156.6h0M664.4 16.9h0M647.4 82.5h0M593.1 78.9h0M562.9 140.7h0M654.1 147.6h0M654.3 147.2h0M582.7 86.9h0M580.5 89.4h0M583.8 35.8h0M640.5 86.7h0M641.4 86.4h0M559.6 151.5h0M559.5 151.4h0M640.6 71.6h0M596.3 96.8h0M548.4 56.9h0M543.1 3.8h0M629.9 55.4h0M558.2 30.9h0M603.6 110.6h0M641.9 105.4h0M642.0 102.1h0M611.6 57.4h0M612.1 59.7h0M611.2 57.6h0M518.7 61.6h0M523.8 61.2h0M598.0 50.9h0M504.3 141.9h0M503.3 141.6h0M520.4 84.2h0M689.1 106.7h0M523.7 9.5h0M560.4 45.4h0M556.4 44.7h0M603.7 16.4h0M673.7 155.3h0M494.7 61.0h0M495.8 57.6h0M624.6 23.1h0M625.5 20.2h0M467.7 120.8h0M514.5 69.5h0M530.3 6.4h0M621.9 148.3h0M626.8 150.3h0M552.5 30.7h0M589.3 48.1h0M589.5 45.3h0M465.9 4.8h0M470.0 1.5h0M623.7 -2.8h0M478.2 118.0h0M609.5 55.5h0M603.8 54.0h0M468.7 42.9h0M580.7 97.4h0M585.5 52.7h0M678.6 40.6h0M678.5 40.3h0M647.8 116.6h0M614.8 7.0h0M606.4 141.8h0M626.3 54.5h0M618.1 63.7h0M627.0 57.0h0M512.3 0.3h0M538.1 150.1h0M641.7 99.9h0M517.3 53.4h0M516.0 51.7h0M453.5 112.1h0M644.5 144.3h0M567.7 27.5h0M629.1 84.1h0M647.8 41.6h0M560.1 118.1h0M511.8 92.9h0M480.0 96.8h0M688.6 124.6h0M687.9 121.7h0M569.4 92.8h0M536.8 3.9h0M670.9 127.5h0M664.4 160.9h0M511.0 138.4h0M619.9 64.0h0M613.6 61.5h0M485.6 107.9h0M487.2 104.4h0M482.8 121.2h0M607.7 41.5h0M611.4 146.5h0M604.9 22.8h0M468.6 119.8h0M678.0 57.3h0M676.5 57.8h0M474.7 121.1h0M678.8 120.7h0M558.5 114.5h0M472.0 148.9h0M456.9 128.2h0M570.1 30.3h0M614.5 65.4h0M580.0 144.4h0M524.3 87.4h0M474.7 4.0h0M616.9 93.6h0M537.7 3.8h0"/><path stroke="rgb(140,140,140)" stroke-width="4.0" d="M524.7 42.6h0M664.0 94.1h0M556.6 3.8h0M472.2 39.1h0M665.7 136.2h0M511.4 150.4h0M502.8 106.8h0M599.3 2.8h0M603.9 1.3h0M645.5 76.0h0M487.2 147.7h0M635.2 63.9h0M639.3 45.0h0M639.7 40.3h0M499.5 159.2h0M500.5 160.0h0M453.5 157.4h0M457.0 153.1h0M584.6 92.9h0M664.9 162.2h0M662.5 162.4h0M664.8 164.1h0M667.0 15.2h0M668.2 12.3h0M565.0 49.7h0M563.5 48.6h0M565.6 42.7h0M681.1 83.9h0M682.2 84.5h0M481.9 143.5h0M554.4 85.2h0M552.8 86.9h0M584.6 48.2h0M468.4 108.1h0M588.3 127.5h0M686.7 134.2h0M489.4 129.7h0M493.0 60.0h0M492.8 54.7h0M457.7 12.9h0M455.5 12.6h0M454.7 14.3h0M452.5 13.8h0M655.1 84.0h0M528.9 44.4h0M567.6 82.6h0M513.9 63.6h0M520.1 60.9h0M469.3 25.2h0M525.4 58.0h0M524.7 4.4h0M527.5 2.1h0M513.1 86.8h0M597.6 122.2h0M678.5 137.5h0M613.1 115.6h0M522.0 77.4h0M527.4 76.8h0M572.1 90.0h0M605.2 109.2h0M524.3 123.2h0M471.5 105.9h0M474.1 107.8h0M475.5 104.3h0M609.7 45.2h0M495.9 56.6h0M493.5 57.9h0M497.8 57.4h0M472.6 78.3h0M458.2 98.1h0M631.1 46.9h0M488.5 118.8h0M467.7 132.1h0M549.2 111.4h0M496.6 70.1h0M515.6 14.2h0M515.6 13.2h0M620.9 76.7h0M488.2 20.4h0M520.0 84.7h0M525.7 82.2h0M670.7 23.0h0M625.6 61.5h0M532.3 20.2h0M465.6 120.6h0M469.5 96.6h0M578.3 55.6h0M580.8 51.6h0M534.2 54.0h0M624.1 134.4h0M454.3 91.2h0M458.6 92.7h0M653.6 162.8h0M502.9 159.8h0M505.6 158.1h0M651.2 11.3h0M647.8 5.6h0M646.5 7.1h0M681.6 129.7h0M680.8 128.9h0M513.2 144.6h0M509.6 141.7h0M528.1 133.8h0M544.8 133.3h0M473.9 117.2h0M475.5 115.2h0M470.5 103.5h0M649.1 18.0h0M558.2 47.2h0M679.0 20.0h0M551.2 90.8h0M549.6 87.6h0M546.8 88.9h0M464.2 5.1h0M597.0 50.5h0M513.3 152.4h0M514.8 150.5h0M574.1 95.2h0M578.8 91.8h0M659.6 139.9h0M553.8 23.6h0M552.5 26.7h0M530.9 4.0h0M519.8 7.4h0M565.3 4.4h0M563.3 2.2h0M564.8 1.9h0M502.8 53.4h0M554.8 14.4h0M504.1 100.7h0M558.8 41.3h0M536.7 83.8h0M535.1 86.3h0M514.7 152.8h0M601.5 126.6h0M605.0 127.3h0M635.1 71.8h0M527.4 31.8h0M639.2 58.9h0M641.1 146.5h0M636.4 144.3h0M540.6 21.6h0M491.5 110.5h0M477.3 103.1h0M474.4 102.2h0M679.3 71.6h0M620.6 151.4h0M671.8 37.2h0M647.5 13.3h0M628.4 91.6h0M579.9 85.4h0M608.4 72.6h0M607.9 71.3h0M511.8 76.5h0M510.8 82.6h0M481.8 153.7h0M485.2 154.5h0M482.3 155.1h0M585.6 50.0h0M467.5 53.5h0M468.2 54.2h0M598.6 18.9h0M595.6 134.5h0M529.5 137.1h0M604.3 158.3h0M569.7 -4.2h0M520.1 94.8h0M644.0 50.3h0M635.9 86.2h0M518.4 83.5h0M520.8 84.7h0M630.7 105.4h0M468.8 44.9h0M556.9 116.9h0M503.6 158.7h0M663.6 51.1h0M590.6 116.0h0M572.0 40.2h0M668.3 162.4h0M474.7 119.2h0M644.2 3.9h0M533.9 37.1h0M611.1 47.6h0M603.1 144.1h0M598.3 143.2h0M663.2 28.5h0M539.3 35.3h0M585.7 148.8h0M583.0 146.6h0M644.6 15.0h0M641.3 15.1h0M680.1 20.4h0M498.8 102.8h0M499.4 98.0h0M616.8 81.3h0M651.1 21.9h0M609.3 72.1h0M595.1 86.1h0M492.2 111.0h0M492.0 109.6h0M654.4 82.6h0M516.3 17.6h0M514.3 19.8h0M673.3 22.6h0M633.6 152.2h0M469.4 89.3h0M487.1 86.8h0M517.3 8.2h0M563.3 3.8h0M565.3 6.9h0M525.3 142.6h0M597.6 87.5h0M596.6 119.5h0M599.4 120.7h0M508.5 13.9h0M669.0 101.8h0M494.4 19.6h0M533.7 96.0h0M614.9 51.0h0M658.4 11.0h0M548.4 155.4h0M539.3 132.3h0M659.3 6.2h0M650.3 81.5h0M486.0 155.9h0M594.7 50.8h0M468.8 119.2h0M635.8 46.7h0M636.2 45.9h0M633.4 45.7h0M631.7 24.1h0M675.6 152.4h0M491.7 11.0h0M489.7 18.9h0M589.8 121.8h0M614.6 149.8h0M554.2 80.1h0M488.0 160.0h0M486.0 160.7h0M612.8 139.5h0M611.2 137.9h0M541.6 113.8h0M483.8 98.5h0M558.5 155.5h0M553.4 160.1h0M499.3 31.3h0M555.6 136.6h0M495.0 74.7h0M562.6 104.0h0M555.2 105.6h0M520.7 37.2h0M465.2 1.5h0M600.1 134.7h0M483.0 128.6h0M483.8 129.4h0M552.0 54.0h0M489.5 124.3h0M474.1 151.5h0M530.8 43.4h0M648.4 160.6h0M645.7 160.5h0M647.8 158.7h0M549.9 60.6h0M556.2 31.7h0M555.5 34.3h0M537.3 74.9h0M547.3 23.6h0M663.4 57.3h0M666.0 58.0h0M538.2 116.3h0M626.3 155.3h0M486.6 50.4h0M580.8 144.4h0M633.2 11.5h0M623.8 90.5h0M619.4 89.9h0M623.0 90.6h0M456.3 46.1h0M474.2 22.0h0M602.1 116.3h0M477.4 47.1h0M472.1 50.7h0M640.9 45.8h0M468.6 92.4h0M466.6 94.5h0M469.0 53.0h0M669.2 157.7h0M516.4 33.0h0M518.5 31.9h0M460.5 144.9h0M643.9 68.1h0M642.2 69.0h0M607.7 59.1h0M602.5 65.0h0M481.5 111.5h0M556.8 99.6h0M516.4 2.8h0M648.6 97.5h0M543.4 82.8h0M492.9 83.5h0M651.3 33.8h0M646.5 35.7h0M649.8 32.9h0M667.9 29.3h0M587.0 11.4h0M575.5 108.2h0M568.3 101.6h0M610.9 60.3h0M663.6 80.8h0M625.5 82.4h0M545.4 64.5h0M569.8 28.2h0M601.0 124.7h0M593.5 26.6h0M500.8 62.8h0M497.8 63.1h0M593.1 0.7h0M674.6 38.1h0M680.9 41.2h0M676.7 44.3h0M652.9 122.6h0M453.2 37.4h0M584.6 126.6h0M686.4 166.7h0M683.1 162.0h0M488.3 161.1h0M519.3 84.2h0M532.9 75.9h0M455.1 8.4h0M517.9 8.1h0M511.2 6.0h0M453.7 7.1h0M629.6 10.1h0M556.6 36.2h0M486.8 118.4h0M488.1 117.6h0M545.4 40.9h0M537.4 10.6h0M537.9 11.5h0M654.6 39.6h0M655.7 40.8h0M683.3 72.5h0M596.2 77.9h0M488.7 85.3h0M582.8 85.7h0M607.2 112.4h0M460.5 55.2h0M633.6 58.5h0M460.0 139.0h0M451.8 143.1h0M515.0 136.9h0M642.2 3.9h0M642.8 3.4h0M515.4 19.5h0M617.9 147.7h0M628.6 74.4h0M454.9 112.7h0M522.0 135.3h0M520.6 122.7h0M517.2 127.6h0M554.9 157.2h0M560.8 26.8h0M459.5 54.8h0M551.2 23.7h0M551.7 23.0h0M609.6 24.2h0M556.7 57.0h0M637.1 114.3h0M580.0 88.0h0M672.0 155.0h0M577.6 107.8h0M481.9 121.0h0M590.1 16.7h0M595.9 13.9h0M591.6 18.6h0M586.5 17.6h0M562.1 4.0h0M529.4 -2.3h0M620.9 146.0h0M486.2 156.1h0M666.3 14.6h0M466.1 61.2h0M592.4 43.4h0M499.8 152.4h0M499.1 150.7h0M462.6 109.9h0M650.6 91.2h0M686.7 155.2h0M562.8 141.3h0M582.3 85.2h0M584.3 40.5h0M589.0 37.9h0M570.3 75.8h0M474.0 122.5h0M474.9 121.1h0M482.0 125.8h0M476.9 126.3h0M639.7 69.0h0M648.4 145.0h0M627.5 66.2h0M627.4 64.6h0M597.6 97.8h0M591.9 97.6h0M549.3 57.2h0M594.8 37.4h0M606.8 111.6h0M520.1 87.2h0M522.0 84.5h0M523.2 7.7h0M523.5 8.7h0M559.4 39.9h0M602.2 15.9h0M508.7 80.3h0M501.6 45.5h0M624.6 19.2h0M559.9 31.6h0M543.1 35.5h0M544.3 42.0h0M672.9 38.0h0M648.0 59.2h0M611.8 70.0h0M489.8 120.0h0M560.3 67.3h0M565.1 1.3h0M527.5 9.2h0M640.3 90.6h0M491.5 41.6h0M590.6 44.6h0M589.9 44.8h0M590.0 46.9h0M598.0 2.0h0M595.6 -1.9h0M485.3 143.5h0M577.2 101.4h0M585.7 50.5h0M484.0 74.1h0M484.6 75.3h0M473.4 78.7h0M624.5 59.1h0M526.5 150.7h0M639.9 101.6h0M619.1 113.4h0M456.4 143.4h0M592.9 132.1h0M516.4 69.4h0M636.7 96.7h0M631.4 101.1h0M670.6 113.3h0M542.3 138.7h0M537.6 137.0h0M649.4 40.6h0M651.0 129.8h0M480.7 75.3h0M560.0 118.2h0M508.9 92.9h0M687.0 123.5h0M618.7 42.0h0M618.0 40.0h0M669.3 126.2h0M579.7 18.7h0M580.8 11.0h0M578.5 12.9h0M547.9 5.2h0M667.2 160.2h0M667.6 163.4h0M667.7 163.1h0M503.6 139.5h0M493.6 108.0h0M478.7 123.7h0M599.8 20.4h0M647.1 83.9h0M596.8 115.9h0M534.1 132.8h0M471.8 147.7h0M476.2 57.1h0M455.1 125.5h0M614.9 68.4h0M584.0 144.7h0M618.5 94.1h0M603.5 30.9h0M534.9 4.1h0M535.5 0.6h0M536.5 0.2h0"/><path stroke="rgb(150,150,150)" stroke-width="4.8" d="M604.1 -1.7h0M656.3 60.8h0M583.1 114.4h0M528.9 40.1h0M554.9 167.9h0M554.2 -2.2h0M521.4 57.4h0M588.7 107.1h0M467.0 125.5h0M507.6 152.4h0M683.8 107.6h0M683.9 113.7h0M682.4 109.3h0M505.9 117.8h0M502.0 114.7h0M582.6 90.6h0M472.0 68.4h0M470.2 69.0h0M542.9 127.1h0M647.4 143.6h0M536.2 128.5h0M572.2 27.8h0M479.1 39.2h0M635.3 61.8h0M562.0 29.4h0M624.0 66.8h0M622.6 63.8h0M534.1 39.0h0M531.1 42.6h0M666.6 157.5h0M585.2 41.1h0M480.4 142.4h0M500.4 99.7h0M466.2 112.7h0M468.9 110.4h0M562.8 14.6h0M547.3 90.3h0M628.7 152.9h0M476.2 85.1h0M492.7 55.8h0M456.6 14.2h0M632.4 102.0h0M585.9 33.2h0M510.8 11.8h0M482.8 93.7h0M468.8 24.4h0M463.5 63.1h0M606.9 89.0h0M686.5 28.8h0M537.6 5.4h0M678.0 140.4h0M603.0 154.5h0M687.5 35.8h0M686.3 37.5h0M475.5 81.5h0M611.7 115.2h0M523.9 -0.3h0M624.9 141.0h0M620.5 137.2h0M532.3 16.8h0M550.2 75.1h0M663.8 98.2h0M458.6 131.8h0M458.7 131.4h0M533.6 134.4h0M653.8 163.7h0M655.5 165.0h0M518.1 82.0h0M670.5 23.6h0M647.6 25.5h0M462.5 145.3h0M682.5 71.8h0M591.6 35.2h0M516.0 165.3h0M626.7 138.4h0M684.7 31.6h0M503.7 156.7h0M645.9 1.8h0M473.4 62.2h0M475.1 66.6h0M478.8 61.0h0M524.2 131.5h0M608.9 111.4h0M542.2 138.5h0M540.9 136.4h0M554.6 102.3h0M473.7 116.7h0M531.9 134.8h0M528.7 135.5h0M514.9 153.7h0M655.8 107.3h0M656.4 108.3h0M491.4 21.2h0M459.5 68.4h0M594.1 52.7h0M499.7 94.4h0M499.6 93.7h0M594.4 108.4h0M507.8 153.3h0M647.5 99.5h0M648.0 98.8h0M521.2 24.0h0M506.0 104.7h0M567.1 0.7h0M503.0 60.3h0M530.0 45.5h0M503.7 98.4h0M482.2 98.2h0M517.7 150.6h0M599.6 113.2h0M598.5 106.5h0M601.8 124.8h0M601.9 123.7h0M577.3 13.0h0M535.9 31.3h0M562.9 163.5h0M564.0 164.0h0M482.8 117.0h0M476.8 106.6h0M679.7 70.5h0M573.2 25.1h0M626.7 95.1h0M583.0 80.6h0M607.4 71.2h0M508.4 81.3h0M525.5 66.7h0M523.0 63.2h0M477.1 122.8h0M468.6 55.4h0M531.5 135.0h0M555.0 53.6h0M559.1 16.9h0M514.5 90.2h0M643.9 51.0h0M505.4 100.6h0M637.6 88.1h0M566.1 6.5h0M571.3 10.9h0M545.3 43.5h0M551.1 14.0h0M668.3 163.1h0M668.4 162.2h0M560.8 112.0h0M473.1 118.6h0M511.8 86.2h0M511.7 86.3h0M630.4 71.0h0M548.2 19.0h0M632.5 79.7h0M607.3 46.7h0M548.0 124.3h0M672.3 73.2h0M539.5 35.1h0M490.8 110.5h0M656.8 84.4h0M635.7 68.9h0M639.7 69.5h0M516.4 18.9h0M498.1 82.9h0M570.7 0.9h0M572.4 -1.8h0M585.3 120.2h0M448.0 71.6h0M476.8 12.7h0M543.4 70.1h0M498.6 46.8h0M584.9 84.5h0M524.5 40.5h0M524.4 42.8h0M542.9 153.3h0M659.7 121.7h0M558.2 40.5h0M556.0 38.3h0M508.3 10.9h0M593.3 110.6h0M511.5 84.8h0M564.2 117.3h0M595.0 49.9h0M618.1 15.4h0M502.8 129.6h0M583.5 143.1h0M591.0 124.9h0M535.6 4.4h0M558.3 153.7h0M499.9 29.9h0M585.7 138.6h0M577.3 109.1h0M463.6 142.7h0M558.9 107.8h0M512.8 100.9h0M510.9 101.7h0M488.2 126.2h0M488.6 127.3h0M593.9 118.4h0M530.7 44.1h0M488.7 61.9h0M489.8 63.6h0M626.1 120.3h0M503.5 108.8h0M499.4 81.5h0M487.3 47.0h0M580.1 141.0h0M580.2 141.0h0M548.7 50.2h0M470.7 103.6h0M475.9 107.8h0M475.1 107.5h0M518.5 105.5h0M617.4 11.3h0M639.9 10.1h0M478.9 35.3h0M519.3 142.9h0M587.9 10.6h0M591.2 14.7h0M682.7 20.1h0M553.7 70.2h0M604.0 119.7h0M640.6 45.5h0M603.2 110.5h0M622.0 4.3h0M467.7 55.3h0M573.7 29.5h0M572.9 33.2h0M479.0 99.1h0M631.0 141.8h0M642.4 69.4h0M643.1 68.1h0M675.0 108.2h0M460.3 70.1h0M518.0 8.0h0M518.3 7.5h0M520.0 7.4h0M463.9 77.2h0M482.1 41.3h0M481.3 44.1h0M580.4 137.5h0M663.4 75.9h0M627.1 78.2h0M476.7 11.9h0M580.9 163.2h0M580.4 163.5h0M639.3 57.3h0M570.8 28.2h0M570.2 26.7h0M530.5 42.3h0M457.4 78.5h0M682.2 102.0h0M467.4 17.7h0M467.4 18.2h0M653.9 95.8h0M488.8 25.6h0M589.2 128.7h0M487.4 165.8h0M570.0 25.1h0M568.2 21.1h0M588.8 163.4h0M666.7 112.9h0M503.4 36.0h0M502.6 31.2h0M471.2 58.4h0M470.0 59.1h0M516.3 5.2h0M585.3 46.3h0M587.2 46.6h0M587.2 52.0h0M654.0 51.6h0M683.2 75.9h0M556.8 160.1h0M463.7 90.1h0M467.9 95.3h0M460.2 89.8h0M667.8 166.5h0M489.9 84.3h0M568.9 121.0h0M462.7 57.9h0M462.7 57.4h0M521.2 45.0h0M669.5 28.2h0M519.3 14.0h0M642.0 4.0h0M519.0 22.8h0M523.4 58.5h0M556.6 160.6h0M618.5 147.0h0M679.2 133.4h0M679.7 133.5h0M680.2 136.0h0M491.0 39.4h0M455.1 111.8h0M562.9 155.0h0M562.9 27.3h0M681.2 56.1h0M549.1 82.4h0M613.0 25.4h0M596.3 138.2h0M496.7 59.8h0M646.3 135.8h0M570.3 145.5h0M527.2 63.6h0M578.6 106.2h0M480.1 114.3h0M589.1 16.4h0M631.0 11.9h0M631.1 9.8h0M633.2 14.9h0M470.7 111.5h0M527.5 143.9h0M526.8 141.0h0M529.3 141.4h0M625.1 148.6h0M623.3 147.8h0M624.3 147.0h0M487.4 155.3h0M486.8 156.0h0M649.2 88.7h0M688.6 153.3h0M478.1 118.3h0M547.7 53.8h0M594.4 30.5h0M594.0 26.0h0M606.0 33.0h0M659.3 37.3h0M566.2 32.5h0M516.2 37.8h0M616.3 115.3h0M559.6 43.9h0M505.1 79.3h0M564.8 24.8h0M468.0 116.3h0M666.4 122.8h0M517.1 80.0h0M527.9 8.1h0M528.7 5.1h0M586.8 143.1h0M527.2 46.7h0M575.7 104.5h0M642.7 94.5h0M490.4 46.0h0M468.9 138.4h0M593.1 47.3h0M599.0 -3.2h0M503.0 41.3h0M620.8 -2.8h0M477.5 118.7h0M486.3 74.6h0M610.2 7.1h0M606.1 5.3h0M469.1 80.3h0M533.2 151.0h0M536.7 147.4h0M534.6 150.3h0M523.7 52.1h0M648.1 75.4h0M454.4 110.1h0M454.8 109.0h0M640.5 144.3h0M644.5 144.4h0M478.8 4.3h0M630.8 98.5h0M632.3 99.3h0M573.4 35.6h0M534.1 140.0h0M630.7 -1.0h0M630.3 -0.9h0M567.6 106.2h0M650.5 52.8h0M612.6 152.4h0M607.8 21.4h0M498.3 104.7h0M649.7 39.4h0M480.2 74.0h0M560.5 116.4h0M514.8 16.3h0M586.8 150.1h0M536.8 2.2h0M471.5 146.6h0M477.5 147.2h0M616.0 44.9h0M579.4 12.8h0M579.7 12.0h0M558.2 39.0h0M666.1 159.9h0M614.2 64.6h0M575.0 141.4h0M575.4 144.9h0M650.5 102.3h0M459.2 116.8h0M602.5 111.7h0M604.9 109.0h0M536.0 133.1h0M627.8 114.6h0M454.6 126.5h0M617.1 66.5h0M477.9 0.8h0M609.7 94.2h0"/><path stroke="rgb(150,150,150)" stroke-width="3.4" d="M602.5 0.8h0M658.6 60.0h0M579.7 117.7h0M526.3 40.9h0M650.2 95.3h0M553.9 161.5h0M556.1 2.3h0M592.5 145.6h0M590.1 104.3h0M464.8 131.2h0M468.8 126.6h0M684.1 107.4h0M597.6 162.2h0M586.7 95.7h0M476.6 141.7h0M529.7 11.2h0M649.1 145.8h0M659.9 109.1h0M657.0 126.3h0M625.2 66.2h0M535.3 42.1h0M637.1 50.4h0M585.6 140.8h0M588.6 38.8h0M666.2 13.1h0M500.8 104.3h0M496.5 102.4h0M499.4 102.4h0M585.3 54.1h0M585.2 48.5h0M588.3 50.6h0M467.5 109.6h0M680.3 63.4h0M683.1 39.5h0M520.7 20.9h0M547.8 89.7h0M504.0 34.1h0M657.8 96.1h0M476.6 84.3h0M493.8 55.4h0M493.9 58.6h0M530.8 43.8h0M529.2 40.0h0M565.0 80.4h0M572.4 79.2h0M628.3 149.6h0M639.1 55.5h0M511.8 38.7h0M505.0 81.9h0M507.2 83.2h0M510.6 10.5h0M566.0 104.9h0M458.3 67.8h0M625.5 14.3h0M609.1 88.6h0M629.7 142.9h0M521.8 3.0h0M510.4 86.5h0M538.2 0.5h0M561.2 47.2h0M620.4 67.6h0M608.6 110.3h0M524.0 125.5h0M615.3 110.3h0M492.1 96.4h0M493.0 98.1h0M473.3 110.0h0M606.1 42.3h0M498.8 60.9h0M501.1 156.0h0M475.5 79.1h0M522.1 -4.4h0M625.5 136.3h0M621.7 95.5h0M619.3 97.3h0M514.1 104.6h0M514.2 104.0h0M567.6 -2.2h0M523.2 132.8h0M561.4 118.7h0M680.5 111.8h0M679.5 109.1h0M532.5 16.0h0M458.4 130.3h0M486.0 17.6h0M485.2 19.1h0M486.8 15.7h0M466.9 95.7h0M466.3 92.6h0M529.4 40.1h0M536.3 135.4h0M627.7 16.0h0M655.6 159.5h0M521.0 83.9h0M602.2 49.6h0M602.0 43.5h0M647.7 25.9h0M629.1 128.3h0M631.2 124.3h0M654.9 83.1h0M532.6 21.5h0M533.1 20.5h0M533.4 20.7h0M636.9 0.1h0M593.0 36.8h0M594.0 34.6h0M594.3 36.5h0M645.6 2.1h0M641.7 108.4h0M578.0 55.2h0M526.2 57.0h0M627.5 136.9h0M486.5 147.8h0M503.1 155.5h0M560.8 134.0h0M477.2 77.8h0M482.8 69.1h0M645.0 7.3h0M475.2 66.8h0M677.5 35.7h0M537.1 134.7h0M550.0 79.3h0M475.0 120.6h0M532.6 130.7h0M536.7 140.4h0M515.3 153.3h0M510.3 20.2h0M510.6 15.2h0M512.1 14.5h0M511.6 15.8h0M651.5 107.1h0M456.9 65.9h0M596.0 50.0h0M597.4 48.1h0M512.2 152.8h0M526.1 21.9h0M505.2 62.5h0M553.9 15.8h0M519.3 150.6h0M536.0 83.1h0M519.3 158.9h0M486.5 50.9h0M453.7 154.8h0M635.2 66.3h0M531.7 30.2h0M533.5 29.8h0M641.3 142.5h0M640.0 145.3h0M541.5 20.4h0M481.2 116.6h0M683.4 70.6h0M489.7 91.1h0M573.7 27.1h0M574.0 27.6h0M629.2 93.8h0M507.6 80.0h0M586.6 46.8h0M468.4 55.2h0M596.5 20.5h0M593.1 20.0h0M596.2 20.7h0M556.4 48.8h0M557.7 15.8h0M500.6 99.0h0M462.6 92.4h0M458.6 96.1h0M516.0 92.3h0M626.8 2.0h0M506.4 98.8h0M507.0 101.4h0M627.5 -3.1h0M469.7 47.9h0M555.7 119.1h0M535.1 46.0h0M540.6 48.5h0M540.7 48.3h0M661.9 52.1h0M604.9 2.4h0M473.1 23.1h0M470.5 27.2h0M673.9 129.3h0M672.0 126.6h0M575.7 41.7h0M593.4 157.3h0M581.5 124.0h0M471.2 84.9h0M469.6 87.7h0M560.3 111.9h0M594.8 118.5h0M595.2 117.6h0M474.6 120.1h0M511.5 86.0h0M642.1 9.2h0M477.5 161.9h0M476.4 161.5h0M681.7 121.2h0M678.7 119.6h0M533.2 40.7h0M603.8 100.2h0M600.0 103.5h0M601.3 102.6h0M548.1 129.9h0M672.4 73.4h0M498.4 27.1h0M535.9 121.8h0M516.5 47.5h0M512.1 47.7h0M610.9 70.5h0M551.4 57.6h0M553.7 55.6h0M553.1 58.9h0M598.4 83.5h0M484.4 44.6h0M641.5 68.9h0M513.1 17.7h0M500.9 87.8h0M640.1 60.5h0M638.8 59.7h0M664.0 53.8h0M566.9 4.6h0M659.4 61.9h0M671.6 97.6h0M493.5 44.6h0M663.9 130.4h0M526.7 93.1h0M486.5 101.2h0M539.3 134.5h0M537.1 129.4h0M592.7 58.6h0M491.5 100.8h0M641.9 38.3h0M639.9 45.4h0M509.4 9.2h0M519.3 99.3h0M506.4 83.1h0M624.7 18.4h0M488.7 13.8h0M490.2 14.0h0M490.1 23.8h0M589.4 124.9h0M590.5 124.9h0M651.1 7.0h0M535.8 6.9h0M681.5 83.8h0M683.1 85.3h0M683.9 88.8h0M522.0 91.0h0M497.5 24.3h0M501.1 31.8h0M554.3 134.4h0M463.5 140.8h0M520.5 34.3h0M523.8 37.5h0M642.8 4.8h0M560.4 151.7h0M456.7 0.6h0M550.7 52.7h0M590.5 121.1h0M471.5 147.4h0M528.2 42.4h0M599.2 95.2h0M598.3 95.9h0M647.9 163.2h0M499.4 53.8h0M494.3 68.0h0M646.0 144.2h0M646.1 138.6h0M643.3 142.8h0M504.2 79.7h0M506.2 82.5h0M579.8 136.4h0M585.6 141.6h0M495.5 59.1h0M493.0 59.9h0M602.2 77.1h0M548.3 49.4h0M470.6 105.5h0M617.5 11.9h0M639.4 13.1h0M635.2 7.2h0M478.5 34.5h0M477.6 38.2h0M542.5 139.2h0M575.6 28.5h0M492.3 105.6h0M675.5 105.2h0M460.5 67.8h0M480.8 111.8h0M646.3 98.3h0M490.0 81.6h0M483.1 42.1h0M477.9 46.4h0M671.4 27.9h0M615.1 156.0h0M526.2 11.1h0M586.2 12.8h0M657.4 166.7h0M666.0 76.1h0M579.4 156.0h0M642.2 56.6h0M644.2 56.8h0M621.2 4.6h0M541.6 51.0h0M466.1 4.4h0M678.5 38.8h0M654.5 95.1h0M655.4 118.4h0M489.0 32.2h0M584.4 127.8h0M682.2 160.4h0M639.4 112.1h0M635.5 112.7h0M637.3 114.1h0M570.9 39.2h0M549.8 13.6h0M665.5 111.2h0M469.8 58.8h0M586.0 48.2h0M628.9 10.0h0M543.8 39.0h0M563.3 154.7h0M556.0 158.1h0M462.7 92.1h0M488.5 86.4h0M488.5 85.0h0M634.2 58.5h0M673.0 24.8h0M533.5 144.5h0M534.1 145.2h0M454.1 140.4h0M455.9 141.7h0M641.7 4.0h0M520.8 53.0h0M514.7 63.4h0M677.9 131.9h0M627.7 73.0h0M647.2 90.4h0M566.6 27.5h0M560.4 26.1h0M540.0 57.6h0M673.3 46.4h0M543.4 81.4h0M610.7 26.8h0M558.1 54.7h0M646.3 46.2h0M648.2 48.8h0M645.7 47.1h0M621.1 138.6h0M582.1 88.1h0M581.2 89.4h0M529.7 60.4h0M611.4 131.7h0M613.0 130.1h0M632.4 12.7h0M632.7 12.9h0M609.8 131.9h0M610.2 138.7h0M525.9 -2.2h0M625.6 149.8h0M469.7 63.2h0M466.8 65.6h0M591.3 80.0h0M536.0 156.7h0M475.5 121.2h0M539.6 32.1h0M475.2 126.9h0M477.0 131.4h0M646.9 149.6h0M646.9 149.6h0M660.7 39.1h0M667.3 36.6h0M599.6 111.5h0M521.8 62.5h0M624.6 67.6h0M626.0 64.2h0M602.7 16.4h0M510.2 82.1h0M505.9 79.7h0M500.3 43.3h0M561.9 26.2h0M562.8 25.2h0M468.0 114.1h0M667.0 123.0h0M650.1 56.5h0M562.3 67.0h0M511.3 73.0h0M606.7 106.7h0M522.7 131.7h0M592.9 141.3h0M588.6 143.9h0M524.0 45.4h0M605.6 34.9h0M638.6 89.1h0M492.0 38.8h0M489.5 37.9h0M597.0 -3.8h0M476.7 117.9h0M605.0 53.6h0M472.1 41.9h0M657.2 152.6h0M624.5 57.1h0M581.4 130.3h0M651.7 75.6h0M652.8 75.0h0M609.5 40.7h0M652.1 146.5h0M453.0 111.0h0M643.5 142.7h0M644.7 144.1h0M478.7 1.6h0M646.0 147.7h0M586.1 44.5h0M636.2 100.5h0M569.5 28.7h0M572.6 28.8h0M670.9 112.6h0M538.8 138.1h0M635.3 -1.5h0M570.1 103.5h0M496.4 107.9h0M498.8 104.8h0M652.0 40.6h0M456.2 47.6h0M465.4 45.3h0M653.3 128.7h0M479.4 92.0h0M560.8 102.0h0M647.9 117.2h0M648.8 115.5h0M579.6 10.5h0M579.2 5.2h0M559.3 41.8h0M610.5 141.2h0M614.7 143.6h0M597.7 21.5h0M599.5 21.2h0M678.8 57.7h0M644.8 85.0h0M675.9 117.8h0M676.5 115.8h0M572.3 31.4h0M575.9 26.8h0M543.1 -1.5h0"/><path stroke="rgb(150,150,150)" stroke-width="4.0" d="M656.1 61.1h0M568.9 26.3h0M473.8 80.8h0M471.8 77.5h0M526.9 41.2h0M554.2 165.6h0M451.9 66.5h0M522.4 57.4h0M593.3 103.7h0M462.0 107.1h0M590.5 164.2h0M471.0 131.9h0M510.9 110.6h0M503.1 109.6h0M601.9 2.3h0M533.3 10.2h0M535.2 130.9h0M541.4 124.9h0M540.1 127.7h0M664.7 72.2h0M477.1 39.0h0M660.2 107.3h0M490.1 152.8h0M633.7 63.9h0M638.3 42.8h0M561.7 28.6h0M562.5 30.6h0M619.7 65.6h0M622.7 64.1h0M532.6 42.8h0M537.0 43.3h0M455.1 153.6h0M454.2 154.6h0M665.2 162.0h0M588.2 37.1h0M564.0 49.6h0M683.7 122.0h0M685.9 142.6h0M686.1 36.0h0M629.1 152.8h0M633.5 151.7h0M477.5 84.0h0M686.9 136.0h0M649.1 92.2h0M635.5 104.7h0M572.1 79.3h0M573.8 79.7h0M589.8 32.5h0M513.9 36.3h0M510.6 10.0h0M524.9 53.3h0M630.3 12.3h0M626.4 14.1h0M606.6 88.0h0M600.4 60.6h0M684.9 32.9h0M683.2 34.3h0M523.9 3.9h0M496.1 54.4h0M524.7 15.0h0M613.8 117.4h0M612.1 113.6h0M474.9 69.8h0M611.7 116.3h0M617.3 110.7h0M601.5 154.3h0M602.9 155.0h0M687.4 36.8h0M687.6 42.0h0M609.6 42.7h0M500.3 59.7h0M572.8 148.5h0M611.3 115.1h0M610.5 115.6h0M459.1 101.0h0M662.0 121.0h0M662.0 121.5h0M486.4 44.8h0M625.2 0.4h0M613.9 98.6h0M570.1 7.0h0M495.5 72.5h0M570.6 153.1h0M566.9 156.1h0M573.1 157.2h0M562.5 16.8h0M561.2 16.1h0M561.3 17.6h0M519.4 132.8h0M519.8 132.5h0M561.7 118.7h0M679.2 111.1h0M453.4 104.6h0M664.5 100.4h0M458.5 131.6h0M525.9 42.7h0M628.1 18.6h0M609.7 115.2h0M519.1 36.0h0M519.9 35.1h0M652.4 158.2h0M521.4 85.5h0M547.4 65.3h0M670.3 22.5h0M615.0 78.4h0M598.2 43.3h0M684.6 73.5h0M642.1 111.3h0M627.5 136.6h0M559.4 132.3h0M508.3 161.2h0M505.0 158.7h0M476.5 72.2h0M647.3 3.7h0M475.2 64.2h0M475.4 65.8h0M681.3 34.2h0M526.4 131.0h0M526.4 131.5h0M555.0 103.6h0M549.6 78.8h0M631.6 50.0h0M534.8 18.2h0M577.7 -4.2h0M509.3 19.1h0M648.9 17.8h0M491.2 24.1h0M508.4 149.9h0M658.7 138.6h0M528.7 7.3h0M527.0 9.9h0M560.1 23.8h0M562.1 27.8h0M565.2 114.1h0M482.6 99.9h0M633.5 67.4h0M537.7 30.4h0M492.3 165.0h0M640.2 57.8h0M639.0 55.6h0M643.2 143.8h0M564.9 163.0h0M490.0 113.7h0M546.8 136.4h0M549.7 131.1h0M487.2 93.2h0M488.2 95.6h0M484.0 46.0h0M487.1 47.1h0M667.5 35.2h0M569.6 29.0h0M616.6 95.3h0M583.1 79.2h0M606.7 70.5h0M508.2 80.8h0M506.7 80.7h0M673.3 158.9h0M541.7 69.4h0M537.6 70.4h0M462.5 88.2h0M567.6 -7.7h0M550.3 43.1h0M505.5 106.2h0M629.3 2.0h0M518.9 87.3h0M627.5 107.0h0M473.8 46.6h0M489.6 110.6h0M615.8 105.3h0M472.5 27.7h0M491.4 122.4h0M468.2 90.1h0M594.9 118.6h0M471.3 118.6h0M474.8 159.4h0M633.0 67.1h0M626.1 65.3h0M680.5 122.3h0M636.1 83.9h0M603.6 146.2h0M540.6 35.5h0M503.1 26.5h0M494.5 26.2h0M521.9 47.8h0M616.0 81.0h0M609.9 72.7h0M560.9 65.4h0M560.1 51.5h0M493.5 108.6h0M494.0 111.1h0M657.5 81.2h0M656.4 78.6h0M516.0 20.5h0M515.4 17.6h0M501.8 85.5h0M627.1 152.8h0M571.5 -2.5h0M635.9 58.2h0M639.6 58.8h0M638.9 59.6h0M588.5 122.1h0M588.5 120.0h0M518.4 9.9h0M520.1 8.5h0M597.8 91.1h0M661.1 65.9h0M629.5 147.4h0M510.7 7.7h0M547.2 29.1h0M602.1 24.7h0M600.9 33.2h0M618.2 50.6h0M680.0 23.9h0M538.8 134.7h0M542.5 49.1h0M543.8 44.7h0M485.2 155.3h0M487.0 155.3h0M512.7 11.8h0M510.4 9.6h0M592.8 109.5h0M566.7 119.1h0M647.6 129.7h0M647.7 131.0h0M535.9 130.4h0M580.1 139.4h0M495.3 15.2h0M592.4 124.9h0M592.0 122.6h0M648.9 9.5h0M650.8 11.5h0M539.2 5.7h0M611.1 35.2h0M685.8 80.6h0M557.2 154.9h0M558.5 155.3h0M635.5 98.6h0M519.2 35.3h0M643.6 7.8h0M592.1 157.9h0M562.0 149.8h0M562.1 151.4h0M514.6 98.0h0M459.8 4.7h0M602.1 132.9h0M602.3 132.2h0M482.9 127.5h0M589.7 119.1h0M473.0 148.6h0M652.4 158.8h0M495.1 51.6h0M645.8 142.2h0M531.8 81.3h0M687.4 -1.6h0M503.6 109.1h0M499.4 81.0h0M500.4 81.5h0M663.8 86.9h0M488.0 46.7h0M486.2 49.8h0M579.0 87.3h0M509.6 82.4h0M580.9 140.2h0M494.7 60.1h0M552.0 46.1h0M472.0 102.3h0M524.0 101.6h0M515.7 100.1h0M639.4 12.8h0M477.0 33.6h0M543.2 138.6h0M473.3 23.8h0M591.9 10.5h0M685.6 21.8h0M680.2 19.6h0M685.1 22.0h0M468.7 43.9h0M639.2 46.8h0M621.6 7.1h0M468.6 57.0h0M520.0 32.8h0M459.9 145.1h0M494.9 108.1h0M678.7 104.2h0M525.1 156.1h0M521.9 159.0h0M477.8 37.8h0M606.2 63.5h0M466.1 73.5h0M459.1 72.5h0M461.6 78.3h0M543.3 83.2h0M583.5 140.2h0M685.5 116.3h0M684.9 119.4h0M667.3 27.3h0M585.3 11.3h0M557.5 33.9h0M625.3 130.9h0M473.2 9.6h0M475.7 14.2h0M644.1 57.9h0M621.8 3.6h0M623.8 2.4h0M538.2 67.5h0M596.8 23.8h0M679.9 105.7h0M555.5 58.4h0M462.3 87.6h0M530.3 39.5h0M680.6 38.4h0M677.3 43.0h0M659.4 95.9h0M651.1 124.6h0M535.9 59.8h0M539.2 59.6h0M523.5 134.5h0M522.9 138.0h0M523.7 132.9h0M486.4 162.3h0M637.6 113.2h0M635.9 114.3h0M588.0 164.1h0M454.9 8.5h0M629.0 133.7h0M604.1 46.6h0M630.2 14.4h0M554.9 37.3h0M656.2 54.3h0M656.5 52.9h0M539.9 10.0h0M678.4 81.9h0M527.4 4.2h0M529.3 -1.9h0M463.7 91.5h0M488.7 85.2h0M583.6 85.0h0M569.0 120.5h0M460.6 57.1h0M670.6 24.7h0M641.1 4.5h0M519.6 18.7h0M519.4 18.4h0M553.8 155.8h0M514.1 63.4h0M617.0 148.2h0M616.4 146.1h0M488.4 42.2h0M494.9 40.3h0M491.8 50.4h0M471.3 84.9h0M634.4 112.8h0M562.6 151.5h0M562.5 26.9h0M681.1 56.7h0M682.6 55.1h0M549.4 80.9h0M611.2 25.5h0M639.0 113.7h0M645.2 51.8h0M646.7 49.0h0M620.1 148.3h0M622.1 145.4h0M644.1 132.5h0M646.0 134.9h0M581.2 89.1h0M572.4 144.2h0M574.2 144.8h0M532.4 63.8h0M674.2 154.2h0M479.8 120.7h0M563.1 4.8h0M607.8 131.0h0M664.4 16.7h0M465.1 61.9h0M592.1 43.7h0M582.5 87.7h0M585.2 40.8h0M662.5 44.2h0M476.9 121.5h0M473.6 123.4h0M539.9 33.4h0M644.8 85.6h0M475.1 130.2h0M640.5 152.4h0M627.7 66.8h0M561.5 31.7h0M608.4 112.1h0M607.5 111.2h0M539.2 6.5h0M601.1 47.5h0M534.5 0.4h0M687.3 107.0h0M523.7 11.5h0M562.7 46.9h0M467.6 118.1h0M666.1 120.0h0M541.0 44.5h0M673.5 36.7h0M516.0 80.9h0M513.6 71.4h0M612.0 105.2h0M584.5 11.0h0M682.1 51.4h0M628.0 149.8h0M590.4 142.6h0M522.6 49.0h0M530.7 46.8h0M605.9 34.6h0M570.8 105.2h0M492.1 107.5h0M639.9 90.5h0M463.3 136.2h0M464.1 134.5h0M596.5 -0.2h0M596.8 -1.9h0M664.2 30.6h0M622.6 -0.8h0M604.0 54.1h0M486.4 74.5h0M609.6 11.8h0M608.2 8.5h0M625.8 55.0h0M511.7 -0.0h0M683.8 58.7h0M582.8 124.9h0M658.7 104.9h0M651.8 146.6h0M644.0 139.5h0M588.4 41.4h0M632.0 98.9h0M629.6 101.5h0M629.3 97.6h0M568.9 31.1h0M669.6 112.3h0M630.1 1.9h0M628.9 84.8h0M567.1 106.6h0M652.8 38.0h0M651.9 39.6h0M649.7 41.5h0M651.6 129.5h0M650.8 132.2h0M563.7 118.6h0M512.9 94.5h0M479.2 90.3h0M485.6 92.3h0M685.8 125.8h0M518.9 15.5h0M563.0 98.1h0M471.7 146.7h0M474.4 145.1h0M558.7 41.2h0M620.9 63.0h0M621.2 64.0h0M491.4 24.1h0M486.8 107.2h0M656.1 105.4h0M610.5 142.9h0M674.8 113.4h0M603.0 109.4h0M599.5 110.6h0M603.1 109.0h0M602.9 109.5h0M631.9 112.3h0M617.1 93.3h0M602.0 31.1h0M540.0 -0.7h0M539.8 2.1h0"/><path stroke="rgb(160,160,160)" stroke-width="3.4" d="M655.2 59.7h0M657.5 61.4h0M525.6 40.2h0M661.2 97.4h0M660.7 96.9h0M504.8 112.7h0M499.8 111.6h0M592.8 157.4h0M596.0 157.1h0M584.2 94.6h0M543.4 127.9h0M643.7 75.7h0M576.1 22.7h0M588.8 142.7h0M565.3 45.6h0M496.0 98.2h0M503.4 100.9h0M469.2 109.6h0M691.5 32.2h0M687.2 34.0h0M521.9 27.2h0M573.2 78.5h0M585.1 37.3h0M588.1 35.5h0M637.0 62.0h0M582.4 26.6h0M687.4 101.4h0M511.8 63.7h0M484.4 94.8h0M611.2 84.9h0M623.7 146.7h0M685.4 34.8h0M518.2 128.4h0M471.0 98.8h0M541.5 148.0h0M617.0 60.9h0M612.0 110.0h0M617.2 111.3h0M491.1 96.1h0M491.6 96.4h0M494.3 99.9h0M473.3 107.5h0M503.8 154.0h0M457.0 102.5h0M515.4 104.6h0M515.9 104.4h0M566.7 0.4h0M520.1 130.4h0M539.6 132.9h0M538.6 133.5h0M537.0 131.6h0M547.5 77.6h0M527.9 41.1h0M607.9 112.5h0M520.5 34.6h0M547.5 60.9h0M547.4 65.9h0M619.2 79.0h0M620.3 75.5h0M618.8 70.5h0M619.7 77.4h0M600.0 46.8h0M462.9 146.6h0M625.9 122.9h0M651.9 87.4h0M665.1 87.6h0M577.5 55.9h0M528.7 57.4h0M657.3 161.9h0M560.5 134.7h0M619.1 103.6h0M615.8 102.6h0M505.9 159.5h0M475.5 65.5h0M482.1 70.6h0M648.4 6.6h0M682.3 33.4h0M526.3 130.6h0M498.0 73.3h0M543.5 129.9h0M580.0 -0.1h0M581.1 -2.5h0M511.1 15.5h0M533.5 137.5h0M547.6 136.6h0M665.3 100.6h0M525.3 19.6h0M524.3 9.2h0M565.3 4.2h0M560.3 25.0h0M528.8 42.0h0M529.4 47.3h0M572.3 111.5h0M502.0 98.2h0M483.4 100.7h0M538.1 83.9h0M516.5 158.2h0M487.2 44.5h0M537.6 30.4h0M530.3 29.9h0M530.1 27.2h0M529.5 28.5h0M497.6 165.7h0M642.7 59.8h0M564.7 162.6h0M565.6 162.0h0M490.0 88.7h0M670.6 36.9h0M570.7 29.5h0M567.4 26.9h0M613.7 96.5h0M480.6 151.6h0M581.7 165.8h0M580.4 163.7h0M578.3 159.0h0M555.0 53.6h0M557.9 17.1h0M603.9 156.2h0M548.5 -1.3h0M546.7 -1.1h0M625.5 6.5h0M506.7 103.3h0M505.0 100.5h0M625.4 0.7h0M569.4 9.4h0M662.6 52.8h0M596.3 118.1h0M616.1 105.9h0M473.7 22.9h0M576.8 118.7h0M648.5 8.3h0M645.2 7.5h0M647.3 8.1h0M628.9 78.7h0M538.6 40.5h0M503.9 23.8h0M503.8 25.5h0M514.0 49.0h0M619.4 81.5h0M674.3 16.2h0M558.7 57.5h0M576.0 103.9h0M657.0 78.7h0M639.1 72.5h0M543.2 -6.7h0M617.1 114.0h0M571.0 -3.9h0M639.7 103.0h0M494.7 46.0h0M681.4 26.2h0M659.1 122.4h0M593.6 48.4h0M622.6 16.1h0M624.1 16.4h0M625.8 12.5h0M646.5 129.1h0M534.6 131.8h0M537.0 130.0h0M534.8 132.6h0M658.6 103.4h0M491.0 16.2h0M466.6 69.6h0M619.9 -7.2h0M620.4 -0.5h0M535.4 4.2h0M537.4 -0.7h0M534.5 2.3h0M557.0 158.3h0M519.4 89.2h0M521.2 93.2h0M641.8 152.1h0M557.4 107.9h0M517.8 103.7h0M463.6 2.1h0M464.8 5.0h0M462.1 2.0h0M600.4 129.6h0M599.8 133.7h0M555.5 51.2h0M480.7 41.4h0M498.4 51.5h0M491.5 63.8h0M552.1 58.3h0M502.8 83.7h0M662.7 75.9h0M639.2 11.0h0M477.3 34.5h0M549.5 68.9h0M475.5 42.3h0M623.2 2.2h0M650.3 49.5h0M544.2 82.9h0M625.0 82.4h0M578.1 155.6h0M583.0 160.6h0M622.3 1.7h0M620.3 6.3h0M545.5 71.1h0M592.2 1.3h0M531.6 37.6h0M654.0 122.1h0M493.3 30.4h0M586.1 129.9h0M568.0 20.9h0M591.2 159.2h0M627.2 137.3h0M631.5 136.0h0M626.6 140.1h0M516.9 5.1h0M538.3 -1.8h0M561.1 158.0h0M557.6 158.7h0M583.1 84.6h0M582.3 84.8h0M518.6 48.8h0M516.6 50.7h0M532.8 139.3h0M535.7 139.9h0M455.1 140.7h0M453.3 138.2h0M554.1 163.0h0M680.5 60.2h0M643.9 92.4h0M454.9 112.2h0M472.5 84.2h0M561.1 152.7h0M537.7 56.2h0M547.9 83.6h0M595.7 137.2h0M574.5 95.2h0M496.5 60.4h0M494.4 58.2h0M625.7 145.4h0M591.3 41.7h0M574.4 142.7h0M529.0 63.3h0M480.7 115.5h0M590.6 17.4h0M474.1 114.4h0M561.3 61.9h0M465.7 62.7h0M645.5 84.8h0M536.9 54.6h0M662.5 110.3h0M477.2 127.7h0M476.4 132.3h0M543.5 55.1h0M593.0 29.2h0M604.7 110.7h0M527.8 63.0h0M461.6 62.8h0M533.9 0.0h0M519.2 86.5h0M625.7 67.1h0M467.8 118.4h0M539.9 42.2h0M639.2 3.0h0M615.2 66.2h0M490.3 118.8h0M513.0 72.9h0M512.8 71.1h0M609.3 105.1h0M528.3 6.0h0M528.0 7.6h0M575.5 101.9h0M572.5 108.3h0M640.9 90.2h0M621.1 -2.3h0M622.3 -3.1h0M617.4 -1.9h0M497.1 32.9h0M489.8 33.5h0M579.8 98.1h0M470.8 77.0h0M627.1 59.5h0M519.5 51.7h0M519.2 50.4h0M619.8 114.9h0M583.7 23.3h0M580.3 24.9h0M464.8 71.7h0M592.2 41.9h0M632.3 102.6h0M571.5 30.3h0M535.2 143.2h0M568.1 106.8h0M499.2 105.7h0M648.4 53.8h0M610.6 148.7h0M610.9 153.2h0M594.4 19.7h0M597.6 18.8h0M498.7 104.5h0M498.6 104.1h0M581.9 155.6h0M536.5 2.3h0M664.7 160.4h0M668.0 160.9h0M574.8 146.4h0M576.1 142.8h0M651.4 72.0h0M654.3 74.4h0M598.9 21.2h0M535.8 59.7h0M465.1 120.2h0M647.7 86.3h0M644.9 85.8h0M602.6 112.0h0M573.5 30.2h0M574.6 25.3h0M575.0 28.6h0M459.2 135.3h0M475.3 6.0h0M540.9 -1.6h0M538.7 2.0h0"/><path stroke="rgb(160,160,160)" stroke-width="4.8" d="M656.3 59.6h0M570.3 26.9h0M470.7 78.6h0M583.2 118.6h0M662.9 100.9h0M594.0 145.8h0M592.8 146.2h0M459.2 103.8h0M469.3 129.5h0M681.8 106.2h0M470.7 69.4h0M471.0 71.6h0M467.6 64.3h0M472.9 138.0h0M535.5 9.8h0M543.4 128.5h0M642.3 76.6h0M568.0 22.3h0M480.0 37.1h0M473.8 46.2h0M455.5 155.3h0M663.9 163.6h0M686.4 127.5h0M625.1 140.7h0M626.4 143.1h0M639.7 57.7h0M506.6 85.1h0M581.9 24.5h0M510.5 13.5h0M484.5 94.4h0M682.3 34.8h0M686.2 30.7h0M508.4 88.3h0M476.9 71.7h0M496.9 60.6h0M474.8 72.5h0M573.6 152.8h0M523.2 -1.3h0M522.1 -7.9h0M624.8 134.5h0M615.4 94.6h0M567.4 1.1h0M496.3 71.0h0M562.8 16.0h0M468.7 135.7h0M529.3 15.4h0M458.6 131.5h0M464.7 94.1h0M533.8 136.2h0M650.8 160.4h0M548.9 66.6h0M602.3 44.9h0M599.9 45.5h0M601.3 49.3h0M600.6 46.7h0M594.5 33.6h0M575.1 164.4h0M627.1 136.5h0M685.3 32.7h0M656.6 161.1h0M561.8 133.9h0M560.7 134.5h0M614.1 104.1h0M649.1 3.3h0M684.6 31.7h0M497.6 77.1h0M681.5 91.3h0M653.5 107.3h0M684.9 19.5h0M665.9 100.4h0M667.4 103.8h0M529.6 23.8h0M525.3 20.9h0M552.0 26.1h0M504.5 101.9h0M524.3 10.2h0M528.8 44.2h0M530.8 44.4h0M506.8 96.8h0M520.6 152.7h0M575.5 17.6h0M488.4 44.5h0M481.5 45.0h0M616.7 94.2h0M616.6 98.0h0M520.5 61.6h0M596.7 22.1h0M556.4 50.9h0M497.9 100.2h0M601.7 155.2h0M566.9 -1.9h0M522.9 93.5h0M517.8 88.8h0M632.7 3.2h0M549.0 41.0h0M569.5 10.3h0M664.1 51.0h0M593.4 115.5h0M590.1 14.1h0M616.4 106.0h0M585.9 151.5h0M473.6 115.6h0M631.0 64.7h0M582.5 17.1h0M604.7 145.1h0M545.5 129.5h0M539.3 34.6h0M504.6 26.4h0M583.2 152.9h0M582.9 152.4h0M497.3 28.4h0M498.2 21.8h0M518.8 48.2h0M579.6 102.5h0M655.3 83.2h0M518.0 22.8h0M501.0 85.8h0M501.6 88.7h0M577.1 161.8h0M581.8 164.1h0M542.2 -0.2h0M540.1 0.8h0M617.6 115.7h0M468.5 89.8h0M572.2 -4.3h0M641.6 99.3h0M452.7 71.0h0M452.5 72.7h0M474.3 14.7h0M546.4 69.3h0M597.7 121.3h0M539.9 61.2h0M493.2 46.0h0M492.3 45.6h0M609.3 27.0h0M604.4 27.7h0M599.9 28.8h0M524.7 40.0h0M540.7 133.1h0M635.1 9.7h0M632.8 7.6h0M660.4 124.1h0M538.4 44.3h0M512.1 83.7h0M580.6 28.9h0M577.2 27.7h0M579.6 141.0h0M659.9 81.2h0M666.2 84.0h0M621.3 -1.1h0M520.5 37.3h0M663.6 88.6h0M508.7 85.5h0M552.4 54.3h0M587.4 119.5h0M483.5 40.1h0M482.2 40.1h0M647.1 141.9h0M645.1 143.0h0M536.4 80.7h0M502.6 110.1h0M504.0 111.9h0M500.9 108.0h0M499.9 83.7h0M486.8 49.1h0M471.0 105.1h0M513.3 96.6h0M516.6 101.0h0M615.7 9.5h0M618.4 11.3h0M477.3 33.5h0M632.3 141.8h0M637.9 135.0h0M632.1 140.1h0M523.7 156.2h0M457.1 67.6h0M478.4 35.2h0M462.6 78.4h0M543.3 84.2h0M623.9 135.3h0M627.0 131.9h0M623.3 126.5h0M625.0 81.7h0M474.7 12.1h0M473.9 13.1h0M641.5 58.8h0M639.9 55.6h0M537.5 71.5h0M541.5 68.9h0M458.0 78.6h0M536.1 51.2h0M675.8 101.1h0M460.4 87.0h0M679.3 40.2h0M637.2 116.2h0M579.4 34.4h0M568.1 22.6h0M592.8 163.3h0M664.8 107.4h0M521.6 78.6h0M517.8 78.2h0M587.6 47.5h0M467.4 73.8h0M618.1 -5.0h0M679.8 101.5h0M530.2 1.5h0M556.6 156.9h0M583.6 87.3h0M566.6 120.4h0M464.9 55.5h0M531.0 148.7h0M455.5 140.8h0M512.4 19.9h0M553.5 154.0h0M558.2 159.7h0M669.0 84.4h0M490.1 41.9h0M632.1 73.8h0M647.6 86.6h0M472.6 85.3h0M562.2 151.8h0M563.6 152.5h0M562.8 24.2h0M548.8 82.2h0M667.1 103.4h0M645.3 47.4h0M624.5 148.6h0M611.9 130.8h0M472.5 114.7h0M474.0 113.7h0M528.2 141.4h0M688.9 31.5h0M647.9 87.2h0M511.6 39.3h0M502.1 106.1h0M602.3 38.1h0M564.8 32.9h0M606.2 113.7h0M524.0 10.3h0M622.2 112.7h0M620.5 116.1h0M623.4 114.3h0M623.6 14.9h0M467.7 116.5h0M542.4 43.5h0M639.5 1.8h0M642.1 5.7h0M611.7 65.5h0M562.3 68.5h0M520.0 81.0h0M514.4 72.2h0M608.8 106.7h0M526.3 47.3h0M527.5 44.8h0M523.7 49.1h0M489.8 39.6h0M475.2 117.9h0M477.8 117.2h0M539.7 33.4h0M604.2 8.0h0M608.1 7.8h0M454.8 81.4h0M599.9 143.6h0M629.3 1.4h0M582.2 128.5h0M619.9 113.0h0M657.5 72.8h0M581.7 22.5h0M585.1 26.1h0M464.0 74.8h0M465.1 74.9h0M652.5 149.6h0M624.3 130.2h0M667.3 110.7h0M537.1 139.0h0M630.3 1.7h0M653.2 51.2h0M458.9 50.7h0M586.8 150.6h0M591.7 155.2h0M559.5 41.6h0M559.5 42.2h0M549.5 5.9h0M574.4 144.1h0M488.8 106.6h0M653.3 105.8h0M533.5 63.6h0M465.3 119.5h0M463.8 122.0h0M473.2 123.5h0M675.9 117.4h0M675.8 117.3h0M651.0 79.9h0M648.4 74.6h0M601.5 106.7h0M606.8 110.8h0M630.7 115.3h0M571.9 28.2h0M579.3 152.2h0M455.6 134.7h0M460.7 134.6h0M476.9 5.2h0M616.1 92.4h0M615.4 93.0h0M539.1 0.2h0M537.4 -0.6h0"/><path stroke="rgb(160,160,160)" stroke-width="4.0" d="M555.2 163.3h0M552.1 162.3h0M661.2 98.9h0M451.5 68.8h0M456.0 70.3h0M591.6 102.4h0M682.8 108.9h0M598.3 158.2h0M583.0 96.1h0M472.5 70.7h0M538.6 9.0h0M540.1 11.6h0M642.8 76.4h0M537.3 129.7h0M567.7 22.1h0M478.3 41.0h0M658.6 106.9h0M662.0 109.4h0M658.5 109.6h0M662.0 108.1h0M583.6 37.0h0M499.8 100.1h0M467.5 108.8h0M565.7 11.8h0M520.1 27.6h0M520.8 27.7h0M625.7 150.8h0M500.6 33.0h0M476.8 83.5h0M489.9 59.0h0M657.3 85.3h0M505.8 84.0h0M683.7 96.9h0M513.2 66.5h0M460.3 67.9h0M524.6 54.6h0M626.2 16.2h0M604.0 88.4h0M470.4 98.2h0M537.1 2.8h0M542.8 141.5h0M621.7 63.4h0M606.0 114.6h0M478.4 72.0h0M605.5 154.7h0M602.5 155.1h0M487.1 46.1h0M523.4 -0.4h0M629.0 48.2h0M614.6 94.9h0M515.6 103.5h0M497.8 74.7h0M569.6 154.8h0M573.5 157.9h0M565.3 17.4h0M523.6 133.2h0M523.8 133.1h0M537.9 133.4h0M529.0 40.0h0M535.8 136.3h0M612.4 112.9h0M653.0 161.3h0M669.9 22.2h0M668.4 25.2h0M669.9 23.0h0M599.0 47.6h0M638.0 4.5h0M637.1 3.1h0M686.7 77.2h0M685.0 75.9h0M686.1 31.0h0M657.9 161.6h0M560.4 134.6h0M478.8 69.0h0M530.4 130.2h0M498.0 77.8h0M578.8 -2.5h0M514.2 154.3h0M655.2 111.4h0M681.1 20.8h0M493.6 22.9h0M459.9 67.6h0M673.9 75.3h0M510.1 150.9h0M648.0 101.8h0M526.9 21.1h0M528.7 9.4h0M527.3 10.2h0M567.0 8.0h0M504.0 62.3h0M529.6 45.0h0M529.3 44.7h0M570.6 110.6h0M574.5 113.4h0M500.3 99.3h0M504.2 100.3h0M484.8 99.4h0M483.8 51.8h0M602.0 125.0h0M537.5 30.2h0M531.5 27.1h0M491.1 165.0h0M491.7 89.1h0M570.3 26.7h0M613.3 97.6h0M585.0 81.3h0M506.7 78.6h0M524.4 63.5h0M477.5 149.4h0M467.3 55.4h0M533.0 66.9h0M594.4 18.3h0M593.6 21.5h0M558.4 16.3h0M556.8 14.6h0M605.2 163.6h0M603.1 158.3h0M544.1 -1.3h0M630.5 -0.4h0M505.5 101.2h0M505.0 102.4h0M628.5 -1.3h0M629.7 -0.8h0M627.4 1.6h0M540.5 45.2h0M672.3 128.9h0M574.4 124.3h0M630.9 63.9h0M601.0 145.0h0M546.0 130.1h0M540.7 37.1h0M584.3 150.1h0M680.3 19.8h0M618.3 80.8h0M516.3 19.9h0M501.2 85.9h0M541.4 -2.2h0M624.1 116.0h0M620.1 115.6h0M470.8 91.0h0M474.9 91.2h0M572.4 1.4h0M473.5 14.5h0M545.0 71.6h0M540.1 61.9h0M599.0 31.4h0M487.3 98.5h0M548.0 154.0h0M678.2 25.6h0M679.2 21.0h0M678.2 22.9h0M659.4 125.1h0M661.2 124.1h0M521.3 95.3h0M521.8 95.3h0M646.9 131.5h0M648.4 131.9h0M664.1 101.1h0M577.4 102.3h0M578.2 101.2h0M579.1 101.8h0M578.3 100.8h0M588.8 125.0h0M651.7 11.4h0M463.1 71.7h0M618.8 4.2h0M537.9 -2.2h0M486.9 162.1h0M611.3 138.9h0M497.5 29.4h0M579.6 106.3h0M579.9 105.4h0M599.1 97.5h0M482.0 41.2h0M482.4 39.8h0M535.8 83.5h0M537.2 78.6h0M501.5 109.9h0M488.8 48.7h0M540.8 145.8h0M510.0 80.9h0M494.9 62.0h0M494.0 62.5h0M515.7 100.1h0M516.0 99.9h0M475.0 33.5h0M554.6 72.9h0M551.0 68.7h0M475.3 43.3h0M624.8 3.3h0M466.1 56.4h0M477.3 93.6h0M494.9 106.4h0M492.3 105.0h0M524.8 156.0h0M611.2 60.5h0M665.0 80.6h0M627.5 133.3h0M631.4 131.0h0M625.1 79.3h0M456.4 77.8h0M456.1 80.2h0M462.1 4.6h0M462.8 5.1h0M682.5 104.4h0M462.1 91.1h0M653.4 96.6h0M653.2 121.5h0M497.1 27.6h0M535.1 53.0h0M524.1 132.6h0M569.9 25.8h0M568.6 23.1h0M591.8 158.7h0M518.0 77.9h0M502.9 31.3h0M503.8 34.5h0M682.1 75.1h0M681.2 75.8h0M682.1 97.2h0M557.1 159.2h0M464.0 52.9h0M637.7 57.1h0M529.9 138.6h0M641.1 3.5h0M558.3 160.7h0M669.0 84.9h0M669.4 84.5h0M647.0 89.5h0M473.7 80.0h0M630.0 115.2h0M562.6 151.5h0M681.5 55.5h0M561.6 55.8h0M496.4 60.8h0M678.9 28.5h0M572.6 142.5h0M527.1 62.8h0M632.6 13.0h0M472.9 115.0h0M524.8 141.0h0M489.2 156.9h0M466.0 61.3h0M647.7 88.1h0M647.5 87.2h0M535.7 152.6h0M536.6 152.7h0M635.2 120.9h0M632.8 115.2h0M511.1 41.7h0M544.3 54.9h0M592.6 30.4h0M603.5 36.6h0M606.2 111.3h0M601.1 48.4h0M604.7 51.2h0M512.7 41.3h0M519.6 86.4h0M520.0 86.2h0M622.4 117.1h0M625.0 67.5h0M627.3 69.9h0M682.2 102.3h0M684.3 95.2h0M683.1 100.0h0M594.0 30.9h0M595.3 30.5h0M591.5 36.5h0M561.8 67.3h0M562.4 68.5h0M512.6 72.5h0M683.1 51.5h0M683.8 55.8h0M528.6 6.7h0M491.9 39.4h0M464.7 136.0h0M467.6 134.6h0M598.7 -0.2h0M500.7 42.0h0M618.7 -2.3h0M620.2 -2.9h0M615.3 -4.3h0M477.4 117.8h0M497.2 34.9h0M646.1 115.8h0M454.0 88.1h0M581.9 128.3h0M582.2 128.9h0M617.8 114.9h0M617.4 114.7h0M652.1 74.6h0M465.4 76.2h0M651.3 151.5h0M622.8 124.2h0M616.3 126.6h0M477.6 4.3h0M482.0 1.6h0M588.5 42.2h0M629.0 -0.2h0M632.3 -0.1h0M567.2 106.3h0M497.9 105.8h0M650.4 57.8h0M498.4 104.5h0M462.3 50.9h0M651.3 129.9h0M586.3 158.5h0M537.3 2.9h0M470.5 146.3h0M650.7 71.2h0M654.0 71.9h0M620.6 65.1h0M611.3 143.5h0M465.9 118.0h0M464.0 122.3h0M651.4 74.6h0M650.2 75.8h0M471.8 147.2h0M455.6 126.7h0M576.0 144.7h0M505.2 91.2h0M475.7 3.2h0M477.4 2.2h0M538.5 -2.5h0"/><path stroke="rgb(170,170,170)" stroke-width="3.4" d="M657.0 63.7h0M648.1 96.5h0M661.2 94.4h0M456.8 64.7h0M587.9 165.1h0M590.8 164.8h0M681.1 111.0h0M505.2 109.4h0M580.8 99.7h0M473.5 68.0h0M473.4 72.6h0M624.8 63.0h0M533.5 43.7h0M564.1 12.6h0M525.3 25.4h0M502.4 34.1h0M657.3 97.4h0M626.7 143.1h0M571.3 78.5h0M588.9 32.9h0M684.1 101.8h0M684.2 100.7h0M479.3 97.7h0M628.3 147.9h0M544.1 143.6h0M629.3 136.3h0M625.1 139.6h0M495.7 70.9h0M491.5 69.1h0M523.1 130.7h0M550.4 73.9h0M606.2 117.8h0M546.9 65.8h0M656.3 86.0h0M639.9 3.8h0M684.1 31.9h0M617.6 99.2h0M682.2 33.4h0M498.8 76.4h0M579.1 -2.4h0M580.1 -2.1h0M682.8 95.4h0M680.2 100.1h0M537.3 136.3h0M499.2 94.3h0M666.5 103.8h0M575.0 113.8h0M601.1 111.0h0M489.5 165.7h0M486.1 90.4h0M538.1 71.7h0M545.4 -3.9h0M548.3 40.1h0M497.7 94.1h0M588.0 17.3h0M586.9 153.6h0M588.2 157.4h0M578.4 122.4h0M511.7 88.1h0M511.9 86.4h0M681.0 21.1h0M579.7 102.1h0M580.1 101.7h0M642.0 70.6h0M543.5 -1.0h0M541.1 59.3h0M539.4 61.1h0M600.2 26.8h0M680.4 23.1h0M541.8 45.8h0M540.7 47.4h0M538.1 47.8h0M646.2 130.9h0M663.1 102.7h0M662.8 102.3h0M664.7 82.8h0M665.3 82.6h0M578.8 103.3h0M577.8 102.3h0M513.5 89.7h0M515.5 90.4h0M576.4 104.9h0M559.9 151.5h0M509.5 85.2h0M554.0 52.2h0M621.9 115.9h0M478.5 34.8h0M550.9 68.8h0M633.5 138.0h0M528.0 13.3h0M585.3 128.6h0M578.6 38.1h0M591.2 159.1h0M502.6 32.1h0M535.8 -3.9h0M466.0 75.0h0M466.3 87.0h0M517.7 47.7h0M640.3 4.4h0M494.0 46.4h0M536.5 57.9h0M666.2 103.3h0M666.9 101.9h0M574.0 103.9h0M498.9 62.2h0M494.0 56.6h0M622.9 143.1h0M592.9 33.1h0M612.2 133.3h0M605.1 131.7h0M584.6 38.8h0M665.6 77.9h0M670.6 76.6h0M479.2 130.5h0M591.7 28.9h0M538.5 1.7h0M525.2 64.1h0M458.2 61.2h0M459.6 64.3h0M457.9 61.7h0M530.9 3.2h0M534.4 0.7h0M627.9 67.1h0M502.2 43.1h0M682.9 100.9h0M601.4 32.7h0M594.2 30.4h0M639.5 2.3h0M561.3 66.8h0M560.4 67.3h0M582.0 16.8h0M685.5 53.8h0M527.4 47.4h0M491.8 108.9h0M492.1 38.7h0M466.0 137.7h0M500.7 33.7h0M628.4 2.9h0M519.4 52.2h0M651.0 74.4h0M467.1 74.8h0M463.2 74.9h0M622.9 128.6h0M619.5 128.9h0M589.9 41.9h0M567.7 29.7h0M537.9 140.6h0M498.6 109.3h0M612.6 149.7h0M559.9 96.6h0M560.8 41.0h0M650.4 70.5h0M650.1 70.9h0M653.6 105.9h0M462.2 118.1h0M676.1 118.5h0M629.5 114.8h0M575.5 29.8h0M459.7 133.9h0M460.4 136.4h0M458.5 133.0h0M474.1 3.6h0"/><path stroke="rgb(170,170,170)" stroke-width="4.8" d="M571.1 26.2h0M567.2 30.2h0M460.8 78.5h0M462.9 76.9h0M593.2 143.9h0M592.0 164.9h0M683.5 104.2h0M533.6 8.8h0M645.1 76.7h0M585.8 144.2h0M588.3 142.8h0M588.0 37.1h0M687.8 34.5h0M521.4 27.3h0M502.8 35.6h0M653.9 83.1h0M624.8 140.8h0M624.2 142.4h0M627.9 141.5h0M587.4 35.7h0M586.0 32.0h0M631.9 58.6h0M583.5 26.9h0M458.2 62.2h0M625.5 12.8h0M472.1 98.4h0M536.3 2.3h0M615.3 60.3h0M493.6 97.2h0M626.2 136.8h0M571.6 155.0h0M522.4 132.4h0M531.8 13.9h0M547.6 65.9h0M618.8 76.9h0M625.4 125.0h0M625.2 123.4h0M680.4 29.8h0M680.7 29.8h0M680.8 37.4h0M540.0 134.6h0M535.1 7.7h0M535.6 132.2h0M500.7 93.1h0M503.0 92.3h0M505.6 100.6h0M573.7 114.8h0M502.3 103.1h0M504.0 100.7h0M484.6 49.4h0M578.1 12.8h0M526.4 25.9h0M491.1 165.0h0M491.3 89.6h0M491.0 91.1h0M594.5 19.8h0M457.8 90.8h0M548.6 -1.5h0M548.4 39.9h0M502.5 95.4h0M568.7 10.5h0M590.4 16.3h0M482.8 111.2h0M488.7 110.3h0M555.4 19.8h0M587.8 152.9h0M647.2 6.6h0M680.7 21.9h0M581.8 104.5h0M657.5 79.5h0M640.1 69.2h0M578.2 158.4h0M628.9 152.0h0M616.4 115.1h0M639.8 101.1h0M639.4 103.5h0M452.0 70.8h0M598.6 88.6h0M524.8 40.3h0M642.2 42.3h0M581.7 30.5h0M582.3 30.3h0M646.5 132.0h0M646.5 131.5h0M665.2 103.1h0M578.7 140.7h0M577.8 102.1h0M684.6 88.6h0M515.2 90.9h0M463.1 2.3h0M510.5 85.6h0M558.0 50.1h0M499.8 49.0h0M624.1 115.6h0M664.5 82.5h0M551.6 70.4h0M624.1 4.1h0M665.7 98.1h0M458.9 66.1h0M590.6 162.5h0M584.8 160.7h0M624.7 5.0h0M541.8 68.8h0M530.9 45.3h0M540.5 52.9h0M542.8 48.8h0M552.2 58.4h0M555.4 57.9h0M557.9 57.5h0M679.1 40.2h0M579.6 37.3h0M661.1 107.4h0M662.0 107.1h0M631.6 139.5h0M628.4 137.2h0M625.7 141.9h0M535.7 -3.0h0M464.9 72.2h0M680.2 103.1h0M467.0 89.9h0M518.1 48.5h0M558.2 158.0h0M472.4 84.0h0M532.0 58.5h0M668.7 101.1h0M578.0 102.8h0M495.9 63.2h0M498.3 59.1h0M592.2 28.9h0M529.3 63.4h0M610.1 133.7h0M622.4 1.3h0M617.6 3.5h0M508.0 35.9h0M501.7 107.8h0M512.4 35.7h0M470.0 85.0h0M504.0 43.0h0M684.4 102.2h0M596.3 29.3h0M465.7 111.5h0M467.6 116.0h0M638.4 3.2h0M560.9 70.5h0M563.4 65.1h0M514.8 71.7h0M585.7 17.6h0M684.7 51.3h0M570.2 105.3h0M497.4 43.7h0M478.1 121.1h0M496.7 36.3h0M494.4 35.5h0M455.8 84.4h0M454.8 81.6h0M630.8 -0.1h0M628.1 1.3h0M609.5 42.7h0M631.7 -0.9h0M499.6 104.2h0M588.0 21.6h0M588.5 24.8h0M472.0 147.2h0M465.0 121.1h0M644.7 85.2h0M533.5 132.7h0"/><path stroke="rgb(170,170,170)" stroke-width="4.0" d="M469.4 78.8h0M663.3 100.1h0M668.9 103.3h0M661.2 94.6h0M454.8 67.8h0M591.3 143.4h0M592.8 144.9h0M592.8 163.2h0M505.0 152.3h0M679.9 107.5h0M505.1 111.4h0M471.4 70.4h0M652.3 147.3h0M573.5 26.9h0M571.7 24.2h0M588.5 35.7h0M656.0 95.6h0M625.7 143.3h0M633.5 59.0h0M584.4 27.8h0M684.1 102.4h0M541.7 142.8h0M616.5 63.8h0M615.4 109.8h0M457.5 101.1h0M534.7 18.6h0M536.7 134.5h0M611.0 115.1h0M545.0 69.2h0M633.9 0.8h0M594.4 35.0h0M578.7 -1.8h0M534.9 136.6h0M679.6 95.9h0M541.8 132.5h0M539.9 133.9h0M500.4 93.3h0M666.2 103.2h0M523.6 20.8h0M528.6 45.2h0M571.4 113.2h0M502.7 100.0h0M483.2 48.1h0M577.1 11.2h0M529.0 28.4h0M640.0 14.7h0M635.3 17.0h0M540.6 71.3h0M557.4 50.1h0M501.3 95.4h0M602.4 158.0h0M465.1 93.0h0M462.4 92.2h0M550.0 40.0h0M627.0 1.0h0M626.7 2.6h0M628.4 3.7h0M501.9 94.6h0M569.5 7.9h0M594.3 114.1h0M590.3 14.7h0M586.5 156.1h0M513.8 83.6h0M511.1 86.2h0M647.7 8.4h0M649.5 6.7h0M603.4 103.9h0M603.3 103.0h0M604.4 102.6h0M539.9 33.7h0M586.7 149.3h0M644.2 67.0h0M617.8 115.3h0M666.2 55.1h0M508.5 10.2h0M540.6 60.6h0M678.6 22.7h0M633.4 9.5h0M538.9 49.3h0M536.2 132.5h0M665.1 87.2h0M621.4 2.3h0M682.7 86.7h0M517.5 84.4h0M580.1 107.2h0M559.6 151.4h0M661.2 88.8h0M603.3 133.8h0M645.5 161.3h0M498.6 48.8h0M622.7 116.1h0M551.1 59.0h0M536.4 80.8h0M665.4 83.6h0M582.1 140.5h0M471.5 106.3h0M477.8 37.6h0M590.6 15.4h0M623.7 3.3h0M571.7 35.6h0M572.7 27.5h0M584.6 161.2h0M581.6 158.0h0M454.6 76.1h0M544.8 53.8h0M680.2 105.7h0M575.5 33.7h0M518.4 83.3h0M626.9 135.9h0M466.1 70.8h0M617.4 111.5h0M678.9 100.9h0M529.8 2.9h0M632.0 145.0h0M640.1 57.6h0M639.0 58.0h0M533.0 142.1h0M629.2 114.7h0M535.5 59.3h0M535.9 58.4h0M575.0 100.0h0M625.3 148.2h0M593.3 30.4h0M530.4 62.0h0M484.7 112.9h0M481.1 114.2h0M484.3 116.2h0M476.2 115.6h0M607.2 128.8h0M610.5 130.8h0M683.6 31.5h0M684.3 31.5h0M618.7 -2.0h0M620.7 -0.4h0M647.7 87.3h0M666.9 82.3h0M489.7 37.5h0M601.1 37.3h0M539.7 3.5h0M472.1 85.9h0M625.4 67.3h0M594.4 28.8h0M641.7 6.2h0M685.9 50.9h0M573.2 103.8h0M496.2 31.4h0M585.9 50.2h0M627.5 3.8h0M652.4 73.4h0M654.4 75.8h0M662.6 103.0h0M641.1 143.4h0M647.8 142.2h0M570.1 25.3h0M599.5 18.7h0M589.8 21.8h0M536.0 4.6h0M575.1 144.8h0M629.0 114.8h0M574.7 29.1h0M460.9 133.1h0M618.7 89.0h0M537.5 0.2h0"/><path stroke="rgb(180,180,180)" stroke-width="3.4" d="M462.2 74.1h0M460.0 74.8h0M663.9 101.8h0M669.3 102.3h0M687.4 33.4h0M590.5 34.7h0M683.0 98.1h0M471.3 97.9h0M471.9 96.6h0M608.0 115.3h0M678.6 28.5h0M682.9 32.4h0M681.5 94.9h0M637.2 13.4h0M503.3 97.5h0M539.2 49.1h0M587.7 153.1h0M633.5 82.9h0M603.2 103.2h0M604.1 102.7h0M602.0 28.8h0M675.2 23.9h0M663.9 106.4h0M579.1 101.8h0M659.3 84.5h0M660.1 86.0h0M511.3 86.4h0M502.7 110.5h0M665.7 83.1h0M575.8 31.1h0M537.7 59.2h0M538.7 57.4h0M537.3 57.9h0M579.3 38.4h0M616.5 115.7h0M556.9 157.7h0M630.0 114.4h0M624.8 145.3h0M680.2 27.5h0M573.9 143.8h0M683.5 31.3h0M543.6 58.3h0M544.1 57.9h0M665.4 80.0h0M513.6 38.9h0M502.9 109.6h0M501.4 42.6h0M503.7 42.8h0M504.0 43.6h0M569.8 104.7h0M503.0 39.0h0M665.7 100.5h0M619.6 127.1h0M498.0 106.2h0M499.4 103.7h0M498.9 102.8h0M459.3 49.5h0M588.8 20.6h0M530.1 133.1h0M459.8 132.2h0M462.4 136.4h0"/><path stroke="rgb(180,180,180)" stroke-width="4.8" d="M460.9 79.2h0M592.5 145.7h0M660.4 105.8h0M534.4 43.6h0M501.3 99.2h0M566.4 13.4h0M626.3 142.0h0M457.6 64.2h0M510.3 86.5h0M502.4 154.9h0M495.4 71.9h0M470.8 137.5h0M546.8 64.4h0M619.4 77.2h0M682.6 27.5h0M683.6 30.6h0M681.8 27.3h0M681.9 27.4h0M680.6 27.5h0M647.7 6.2h0M495.8 89.9h0M671.6 101.6h0M501.8 96.3h0M630.0 4.4h0M589.7 153.3h0M602.7 102.7h0M580.4 103.1h0M579.6 160.3h0M542.6 -1.3h0M542.6 73.1h0M603.8 27.7h0M661.8 103.4h0M662.8 102.6h0M513.5 99.5h0M623.3 115.2h0M590.3 15.0h0M665.1 99.3h0M664.0 102.9h0M624.6 132.6h0M626.6 131.2h0M577.2 155.2h0M543.3 53.1h0M463.7 4.8h0M677.9 105.6h0M635.3 113.9h0M579.5 37.4h0M622.5 -2.0h0M623.6 -2.6h0M632.8 142.0h0M628.7 110.8h0M629.5 115.4h0M630.0 112.2h0M536.7 57.0h0M683.2 31.4h0M623.9 1.4h0M660.9 109.7h0M488.5 38.8h0M544.7 57.0h0M506.7 42.6h0M582.1 16.5h0M685.7 51.0h0M465.4 137.2h0M501.0 42.1h0M500.6 40.4h0M627.0 0.6h0M462.2 48.6h0M534.5 62.1h0M534.3 59.9h0M534.8 61.0h0M502.5 89.9h0"/><path stroke="rgb(180,180,180)" stroke-width="4.0" d="M592.6 143.3h0M590.8 170.5h0M591.2 165.7h0M568.5 28.8h0M503.3 100.6h0M594.4 149.2h0M565.5 10.8h0M502.3 33.4h0M658.1 93.9h0M623.8 142.1h0M586.8 38.3h0M683.7 104.6h0M457.2 63.2h0M492.6 96.2h0M566.4 1.4h0M608.0 113.2h0M519.8 33.7h0M622.6 75.5h0M638.8 2.9h0M682.9 21.9h0M681.6 90.9h0M680.6 93.1h0M540.3 135.1h0M524.8 21.1h0M574.1 113.1h0M578.2 13.9h0M540.2 49.1h0M591.1 17.0h0M579.3 9.4h0M579.7 10.3h0M582.0 10.2h0M554.0 55.9h0M565.9 119.4h0M662.8 102.5h0M621.3 -2.0h0M554.5 52.1h0M518.1 102.0h0M551.9 70.3h0M668.9 97.5h0M579.1 156.3h0M543.0 69.0h0M457.5 78.5h0M536.8 -2.4h0M616.9 117.7h0M624.8 0.2h0M678.2 105.2h0M468.7 92.1h0M630.8 146.5h0M638.1 57.7h0M667.9 104.9h0M496.5 60.0h0M622.2 -0.1h0M621.4 0.1h0M542.2 56.9h0M635.2 119.5h0M661.6 109.2h0M514.0 38.4h0M487.4 38.5h0M563.4 32.8h0M458.9 63.8h0M470.2 86.9h0M469.9 85.3h0M505.2 44.9h0M525.9 46.5h0M499.2 43.2h0M661.6 101.6h0M619.4 128.1h0M644.7 85.2h0M650.0 76.4h0M617.1 92.8h0"/><path stroke="rgb(190,190,190)" stroke-width="4.8" d="M471.7 78.7h0M683.0 101.3h0M669.3 104.3h0M578.5 159.2h0M581.6 162.7h0M618.4 117.5h0M620.7 115.1h0M621.9 -5.0h0M630.3 145.2h0M667.6 101.5h0M574.7 100.0h0M621.1 -0.4h0M619.0 -2.5h0M544.2 58.5h0M486.0 38.3h0M628.5 1.8h0M662.3 100.1h0M589.3 22.0h0"/><path stroke="rgb(190,190,190)" stroke-width="4.0" d="M570.5 25.7h0M587.8 149.7h0M658.0 85.1h0M535.0 133.3h0M577.3 13.5h0M637.6 11.8h0M628.5 3.5h0M579.0 102.8h0M673.3 97.3h0M676.4 105.1h0M675.9 105.4h0M570.3 99.7h0M591.7 28.0h0M474.2 113.3h0M609.2 132.1h0M660.4 111.1h0M546.0 54.8h0M639.1 5.3h0M583.7 23.5h0"/><path stroke="rgb(190,190,190)" stroke-width="3.4" d="M591.1 151.6h0M521.5 27.1h0M547.5 75.4h0M538.8 133.3h0M504.1 90.0h0M502.8 98.1h0M504.7 95.7h0M578.2 102.9h0M580.3 159.5h0M578.9 160.0h0M623.2 114.6h0M501.5 109.9h0M666.3 80.1h0M573.8 31.6h0M635.1 139.1h0M668.3 98.0h0M668.7 96.9h0M666.4 101.4h0M580.8 38.2h0M578.9 37.0h0M617.9 115.6h0M622.3 -3.6h0M627.8 145.5h0M574.1 102.9h0M593.2 30.2h0M544.9 58.8h0M660.3 108.8h0M659.0 108.6h0M502.9 106.6h0M501.1 42.4h0M583.0 23.6h0M662.5 101.8h0M620.2 128.3h0M646.8 70.5h0M502.5 94.8h0"/><path stroke="rgb(200,200,200)" stroke-width="3.4" d="M665.3 100.9h0M588.5 153.4h0M669.7 98.3h0M617.8 117.4h0M659.1 110.0h0M501.8 89.9h0"/><path stroke="rgb(200,200,200)" stroke-width="4.0" d="M590.9 151.8h0M503.7 95.9h0M621.3 -1.9h0"/><path stroke="rgb(200,200,200)" stroke-width="4.8" d="M579.5 160.6h0M677.2 105.0h0M636.0 119.9h0"/><path stroke="rgb(112,112,112)" stroke-width="2.4" d="M659.2 139.0h0M535.8 99.9h0M625.5 47.9h0M571.7 44.6h0M468.8 18.9h0M517.2 86.1h0M595.3 63.5h0M545.8 110.0h0M548.3 108.7h0M490.3 -4.0h0M493.5 142.0h0M622.6 166.2h0M626.9 161.1h0M491.9 121.2h0M485.7 132.0h0M463.7 162.0h0M579.9 74.5h0M580.8 74.2h0"/><path stroke="rgb(112,112,112)" stroke-width="2.0" d="M560.4 98.0h0M501.5 145.8h0M498.5 144.6h0M620.8 42.2h0M612.1 41.9h0M538.5 101.7h0M464.5 21.0h0M590.1 66.2h0M680.3 68.7h0M483.2 142.9h0M543.4 107.6h0M492.5 130.9h0M573.6 71.1h0"/><path stroke="rgb(112,112,112)" stroke-width="1.6" d="M547.0 100.0h0M623.7 47.7h0M619.5 45.1h0M624.0 47.0h0M504.1 131.9h0M587.9 65.0h0M453.3 20.3h0M620.0 38.7h0M538.9 98.2h0M655.6 3.6h0M500.4 119.4h0M547.1 111.6h0M669.8 -0.0h0M509.8 138.5h0M597.0 69.0h0M586.1 77.6h0M582.2 75.5h0M483.2 137.2h0M462.8 158.7h0M541.3 99.0h0M576.6 73.6h0M577.1 75.4h0"/><path stroke="rgb(122,122,122)" stroke-width="2.4" d="M468.0 43.7h0M593.7 41.6h0M453.5 150.2h0M677.1 128.6h0M624.2 25.3h0M549.1 108.0h0M677.7 121.3h0M682.3 131.0h0M612.0 23.8h0M687.9 1.7h0M686.8 -3.3h0M484.3 134.2h0M589.7 59.1h0M648.8 38.8h0M650.0 12.9h0M605.3 73.5h0M650.0 164.4h0M578.4 58.6h0M621.1 41.3h0M579.4 77.3h0M509.1 129.8h0M657.5 7.6h0M632.3 28.7h0M632.0 22.1h0M668.8 6.3h0M462.9 11.6h0M661.3 21.4h0M688.5 -3.0h0M457.1 45.6h0M542.2 107.1h0M503.1 117.6h0M503.7 144.6h0M540.8 99.4h0M542.8 4.3h0M622.5 38.0h0M610.7 32.9h0M648.9 116.0h0M487.6 129.1h0M471.3 32.1h0M543.5 100.3h0M542.0 99.3h0M540.4 90.0h0M635.5 161.0h0M491.4 24.3h0M608.8 166.4h0"/><path stroke="rgb(122,122,122)" stroke-width="2.0" d="M469.6 42.7h0M666.1 130.3h0M667.0 137.1h0M579.2 78.6h0M452.7 94.4h0M496.3 143.5h0M616.9 39.8h0M623.5 46.9h0M685.4 0.0h0M648.8 15.8h0M620.8 19.0h0M586.0 83.1h0M533.0 82.8h0M460.3 159.3h0M629.0 44.9h0M595.1 63.5h0M594.6 58.4h0M597.7 10.5h0M513.7 -0.7h0M544.6 111.0h0M603.7 124.1h0M549.7 110.7h0M543.3 93.9h0M511.6 141.5h0M582.9 73.8h0M686.7 -8.1h0M472.2 139.9h0M539.2 100.7h0M666.9 57.6h0M469.6 34.9h0M632.2 81.8h0M500.9 142.7h0M503.1 150.9h0"/><path stroke="rgb(122,122,122)" stroke-width="1.6" d="M534.7 84.0h0M577.4 79.9h0M549.6 94.3h0M517.4 -0.0h0M556.2 106.5h0M571.6 52.5h0M643.7 31.4h0M645.2 30.1h0M593.0 67.9h0M661.1 121.5h0M505.7 132.0h0M674.9 149.9h0M548.6 18.1h0M602.2 72.6h0M676.3 -8.0h0M582.6 62.2h0M615.9 40.7h0M616.7 37.1h0M589.0 75.4h0M579.7 129.7h0M457.3 30.6h0M581.6 56.1h0M457.8 22.6h0M556.0 105.2h0M456.4 44.1h0M664.5 143.4h0M457.5 158.1h0M545.7 104.7h0M504.3 121.3h0M662.2 131.2h0M491.5 -3.1h0M489.5 57.6h0M486.8 134.9h0M465.7 107.1h0M468.6 158.2h0M511.8 144.8h0M643.8 46.6h0M538.4 114.5h0M674.9 142.7h0M498.4 149.0h0M491.2 123.0h0M471.1 31.7h0M564.4 100.4h0M629.7 162.5h0M625.3 20.5h0"/><path stroke="rgb(132,132,132)" stroke-width="2.4" d="M580.1 123.3h0M537.0 155.3h0M597.1 85.8h0M617.5 151.0h0M532.8 108.8h0M600.0 56.9h0M552.4 92.9h0M619.3 30.1h0M513.2 114.0h0M575.9 61.8h0M553.5 110.0h0M688.0 126.9h0M529.8 3.2h0M660.7 117.5h0M487.1 133.9h0M660.1 134.7h0M676.9 146.9h0M631.8 87.8h0M563.6 103.7h0M589.4 89.9h0M504.4 132.5h0M658.6 135.7h0M535.3 108.8h0M579.0 85.7h0M584.7 86.5h0M582.7 82.3h0M680.3 156.0h0M652.7 21.7h0M664.4 25.8h0M577.3 81.3h0M638.3 166.4h0M648.1 40.6h0M583.2 81.6h0M626.3 162.9h0M665.8 35.6h0M624.1 149.1h0M510.1 122.1h0M497.9 112.1h0M656.3 13.5h0M466.4 120.8h0M530.3 119.1h0M658.2 13.1h0M667.8 10.1h0M645.1 163.3h0M668.5 54.0h0M457.9 16.8h0M660.2 51.6h0M649.3 28.9h0M570.6 61.4h0M683.5 -5.4h0M594.4 65.4h0M657.8 155.8h0M593.8 59.9h0M602.4 9.0h0M501.7 121.3h0M518.0 144.3h0M584.0 58.9h0M510.6 124.6h0M484.4 141.2h0M596.7 127.6h0M666.3 6.1h0M552.1 40.3h0M635.4 104.2h0M587.8 56.9h0M520.2 146.4h0M667.3 38.2h0M543.9 90.6h0M681.6 63.0h0M503.4 121.9h0M563.2 138.9h0M479.4 139.5h0M538.8 104.7h0M507.5 151.6h0M501.8 110.1h0M619.2 33.6h0M526.2 77.1h0M522.6 132.6h0M522.9 132.1h0M595.5 67.0h0M508.9 146.0h0M649.6 118.4h0M467.0 32.8h0M470.3 32.4h0M682.5 59.4h0M686.2 129.4h0M505.7 137.3h0M511.0 137.9h0M493.1 28.2h0"/><path stroke="rgb(132,132,132)" stroke-width="2.0" d="M485.7 1.5h0M631.2 53.7h0M455.1 155.3h0M531.9 111.3h0M448.7 156.4h0M515.1 12.4h0M581.8 81.6h0M581.8 78.3h0M563.4 103.6h0M648.7 28.6h0M512.7 120.0h0M552.6 104.3h0M550.6 109.8h0M680.2 112.6h0M680.7 124.9h0M534.2 12.1h0M547.6 98.4h0M482.9 141.0h0M475.6 111.7h0M631.3 51.1h0M671.2 72.1h0M676.3 145.2h0M460.4 161.0h0M618.3 145.9h0M472.9 147.4h0M673.9 66.3h0M677.9 68.2h0M664.0 -0.7h0M570.0 46.0h0M585.5 83.5h0M610.6 150.5h0M636.3 163.4h0M635.7 162.4h0M582.7 72.6h0M588.9 78.7h0M506.3 132.4h0M609.5 157.2h0M628.7 152.9h0M538.9 117.2h0M497.5 138.7h0M505.7 146.0h0M675.0 21.7h0M565.1 50.8h0M664.9 58.0h0M454.6 23.2h0M576.2 87.4h0M457.0 42.7h0M550.2 103.9h0M552.5 107.3h0M630.1 34.9h0M632.1 36.3h0M505.5 10.6h0M557.1 103.0h0M486.0 18.1h0M498.6 123.5h0M546.3 102.8h0M467.2 23.3h0M483.7 139.1h0M600.6 75.3h0M503.2 138.8h0M659.5 10.3h0M661.0 136.5h0M624.2 14.5h0M679.8 129.9h0M515.7 13.2h0M506.7 132.3h0M558.8 45.5h0M650.3 34.1h0M543.4 163.8h0M486.3 54.0h0M548.1 20.5h0M545.8 89.8h0M557.2 22.5h0M557.6 29.1h0M597.3 69.1h0M581.7 74.8h0M685.6 -2.9h0M472.4 42.5h0M564.7 139.9h0M637.9 46.8h0M624.9 55.4h0M626.9 163.7h0M501.3 113.5h0M459.8 165.0h0M550.8 116.1h0M682.7 68.6h0M467.3 157.3h0M539.6 101.7h0M544.2 7.9h0M509.0 142.0h0M501.1 144.4h0M496.9 31.5h0M556.2 116.4h0M560.7 110.4h0M617.8 159.5h0M528.2 88.8h0"/><path stroke="rgb(132,132,132)" stroke-width="1.6" d="M449.8 159.8h0M682.4 60.5h0M541.4 81.3h0M535.3 103.0h0M563.0 101.1h0M656.3 28.4h0M653.0 27.0h0M624.8 30.1h0M672.4 137.9h0M516.5 -0.3h0M514.9 2.0h0M560.5 41.4h0M480.5 115.4h0M687.8 127.5h0M682.8 128.9h0M553.2 101.6h0M612.1 22.5h0M645.1 31.3h0M486.0 122.3h0M594.2 67.4h0M672.6 114.9h0M588.7 62.1h0M453.4 158.0h0M452.4 157.3h0M625.5 150.0h0M672.1 161.8h0M667.5 155.9h0M605.8 71.6h0M640.2 91.4h0M675.9 67.8h0M646.2 53.7h0M644.2 165.6h0M661.6 6.7h0M454.4 16.7h0M488.2 122.3h0M659.1 132.8h0M673.5 125.1h0M666.2 32.8h0M600.6 69.8h0M654.1 22.5h0M664.8 24.2h0M588.4 73.8h0M504.8 124.7h0M609.8 45.2h0M658.6 4.6h0M652.7 78.9h0M552.5 78.8h0M465.6 15.1h0M537.2 120.3h0M551.2 18.9h0M481.6 3.6h0M483.4 125.8h0M572.5 51.7h0M518.5 157.4h0M460.2 19.4h0M663.0 62.2h0M458.7 158.4h0M634.7 40.3h0M684.6 -1.5h0M476.9 40.0h0M592.6 60.1h0M595.9 60.2h0M595.5 60.2h0M546.9 102.4h0M501.7 121.5h0M505.4 119.5h0M515.5 147.2h0M535.4 98.6h0M623.2 17.5h0M630.8 97.4h0M654.7 30.5h0M519.6 133.3h0M596.9 146.8h0M514.6 94.7h0M543.0 92.5h0M676.4 67.4h0M534.4 123.3h0M597.2 68.8h0M580.9 73.8h0M615.7 163.6h0M620.5 104.7h0M472.7 44.3h0M684.9 155.7h0M595.0 72.7h0M663.1 146.9h0M654.7 147.4h0M679.7 76.0h0M512.9 138.2h0M509.7 142.5h0M635.1 44.6h0M537.6 106.6h0M533.9 106.8h0M542.2 101.6h0M581.2 85.3h0M627.2 163.5h0M627.3 163.5h0M624.2 23.1h0M581.3 89.6h0M621.9 35.1h0M524.4 80.6h0M660.1 53.1h0M593.2 64.4h0M660.4 37.9h0M509.2 9.8h0M492.6 124.0h0M468.1 33.1h0M470.2 32.6h0M562.0 102.4h0M469.9 10.7h0M689.1 71.1h0M466.3 159.9h0M539.5 0.4h0M673.4 126.4h0M494.9 130.7h0M628.4 159.1h0M633.5 162.9h0M499.3 144.5h0M499.7 142.1h0M621.5 15.2h0M619.6 20.0h0M678.7 59.0h0M499.4 118.1h0M500.1 118.6h0M613.0 119.6h0"/><path stroke="rgb(142,142,142)" stroke-width="2.0" d="M506.7 152.5h0M469.7 44.5h0M588.2 56.5h0M585.2 92.2h0M601.8 123.2h0M558.0 43.9h0M548.8 90.8h0M564.0 64.9h0M563.2 80.8h0M632.2 152.2h0M515.1 125.7h0M619.6 30.6h0M520.3 75.9h0M571.5 89.8h0M512.1 113.7h0M527.6 117.3h0M607.8 115.2h0M573.9 59.2h0M521.8 119.8h0M661.2 25.6h0M483.1 117.5h0M482.9 117.0h0M557.3 108.2h0M479.2 117.9h0M483.6 22.9h0M629.5 17.2h0M530.4 6.6h0M630.9 56.2h0M466.9 119.3h0M645.0 31.3h0M481.4 72.8h0M683.6 128.0h0M558.6 52.3h0M457.2 6.5h0M491.4 136.9h0M528.5 104.3h0M537.9 25.1h0M478.5 64.8h0M512.2 113.4h0M461.7 43.4h0M666.7 162.6h0M598.2 68.2h0M499.0 101.4h0M607.8 79.8h0M616.8 42.4h0M635.3 165.7h0M615.1 164.5h0M486.2 89.3h0M513.8 4.5h0M500.0 13.3h0M525.0 91.0h0M594.7 58.5h0M489.3 112.3h0M508.3 9.1h0M591.8 109.8h0M466.8 116.8h0M621.4 148.7h0M503.2 129.7h0M460.7 23.2h0M631.1 45.4h0M554.9 155.5h0M588.9 136.4h0M555.8 19.7h0M462.0 43.9h0M507.7 137.7h0M638.7 162.0h0M546.7 23.2h0M538.1 111.6h0M601.1 80.6h0M663.5 63.2h0M552.6 105.5h0M473.8 26.9h0M648.0 43.2h0M652.7 48.1h0M505.0 10.1h0M669.1 29.3h0M614.8 151.0h0M595.5 65.1h0M472.0 13.7h0M445.8 42.9h0M511.6 120.4h0M479.4 144.8h0M485.7 141.9h0M534.9 97.1h0M530.3 97.7h0M503.9 141.5h0M599.3 125.9h0M550.5 34.9h0M667.4 5.8h0M624.2 10.9h0M471.7 36.3h0M473.3 37.3h0M513.9 135.6h0M546.4 159.5h0M458.8 43.8h0M555.7 47.9h0M561.4 59.3h0M633.0 110.4h0M513.4 121.3h0M575.0 62.6h0M679.6 68.5h0M503.2 119.9h0M487.5 130.2h0M561.3 62.3h0M618.5 102.9h0M464.7 108.3h0M563.9 144.0h0M682.6 73.6h0M515.2 149.6h0M519.5 147.0h0M479.5 138.1h0M634.4 45.2h0M503.1 144.1h0M629.1 56.7h0M638.6 25.3h0M504.8 141.5h0M583.9 86.4h0M565.8 -5.4h0M531.1 76.9h0M465.5 -0.6h0M574.9 136.5h0M511.2 8.4h0M586.0 50.9h0M656.7 152.3h0M513.3 0.1h0M512.0 -1.0h0M638.3 104.1h0M668.7 81.0h0M672.1 76.5h0M674.8 77.1h0M491.3 125.3h0M489.7 124.2h0M518.5 67.0h0M468.3 8.6h0M480.5 -1.6h0M610.9 21.2h0M590.5 139.0h0M587.0 133.4h0M542.1 100.8h0M477.8 123.8h0M472.8 54.1h0M498.6 118.5h0M521.2 88.1h0M612.6 117.8h0"/><path stroke="rgb(142,142,142)" stroke-width="1.6" d="M469.3 45.7h0M604.6 2.8h0M537.3 158.4h0M555.7 19.6h0M581.0 58.6h0M497.3 159.1h0M602.4 121.0h0M567.0 41.5h0M513.1 143.3h0M683.5 82.9h0M455.6 160.9h0M526.9 71.2h0M556.3 88.1h0M680.1 63.2h0M463.5 30.2h0M451.8 6.2h0M629.3 154.2h0M527.9 109.2h0M453.3 156.7h0M619.5 29.7h0M678.1 135.8h0M515.4 -0.8h0M691.3 37.2h0M659.1 123.0h0M657.0 124.2h0M524.2 125.5h0M662.1 25.3h0M480.0 119.9h0M675.1 112.2h0M620.3 75.7h0M659.5 5.5h0M662.5 8.1h0M684.7 129.7h0M536.5 130.1h0M553.1 98.6h0M673.9 26.5h0M642.5 8.2h0M464.2 122.1h0M519.4 14.9h0M472.6 107.8h0M627.2 49.6h0M673.2 73.2h0M574.1 89.5h0M579.4 92.3h0M659.5 166.3h0M487.2 134.0h0M528.1 104.0h0M476.1 102.0h0M669.2 32.6h0M652.8 159.4h0M639.8 89.3h0M681.2 68.7h0M556.8 119.6h0M644.6 165.8h0M450.4 14.9h0M535.7 114.2h0M456.7 153.6h0M676.5 14.7h0M667.5 23.0h0M577.9 81.4h0M577.5 81.1h0M575.5 82.4h0M481.0 39.4h0M490.9 84.4h0M665.2 59.8h0M502.0 126.4h0M616.7 24.4h0M613.9 23.8h0M592.4 52.1h0M490.2 114.6h0M609.9 160.1h0M610.5 156.9h0M632.1 44.3h0M629.2 45.3h0M537.0 116.9h0M530.3 119.5h0M457.6 139.0h0M535.5 82.5h0M550.0 25.6h0M551.0 26.1h0M639.1 3.5h0M674.0 18.1h0M485.6 125.9h0M593.5 60.0h0M458.5 25.7h0M474.0 66.1h0M466.0 61.2h0M479.2 67.4h0M607.2 117.7h0M600.6 109.0h0M662.1 144.5h0M461.9 159.9h0M668.1 152.9h0M507.0 14.1h0M506.3 12.2h0M570.1 7.5h0M616.6 158.2h0M654.9 169.8h0M495.1 122.3h0M603.2 10.3h0M514.2 3.4h0M520.1 153.2h0M506.6 150.1h0M528.2 39.5h0M529.7 74.1h0M453.0 8.8h0M456.4 6.0h0M538.9 7.4h0M527.6 4.6h0M631.3 98.2h0M684.6 125.9h0M596.7 96.0h0M556.9 46.4h0M653.5 30.6h0M680.0 59.6h0M510.3 123.9h0M560.7 52.3h0M557.8 55.5h0M521.2 97.9h0M522.6 98.3h0M574.3 63.9h0M578.3 105.6h0M664.7 14.9h0M590.4 43.3h0M497.7 150.0h0M686.9 153.0h0M590.6 74.2h0M652.9 143.9h0M490.7 112.1h0M479.6 139.8h0M537.4 27.0h0M642.3 85.7h0M558.0 148.8h0M634.2 55.8h0M631.2 54.4h0M635.0 21.6h0M502.8 142.2h0M568.1 3.4h0M483.7 117.8h0M510.2 8.8h0M656.8 153.4h0M667.5 78.5h0M671.9 77.1h0M615.5 42.7h0M488.7 129.8h0M489.8 124.2h0M513.9 70.4h0M621.1 0.3h0M480.4 71.3h0M616.3 18.8h0M518.2 16.5h0M542.1 100.7h0M618.8 44.1h0M668.8 126.7h0M652.5 128.3h0M620.8 14.4h0M622.4 17.6h0M472.9 60.0h0M610.8 118.1h0"/><path stroke="rgb(142,142,142)" stroke-width="2.4" d="M597.1 35.0h0M595.8 35.6h0M470.5 41.4h0M670.3 136.8h0M535.2 157.1h0M539.3 160.6h0M537.5 157.6h0M551.5 20.9h0M579.8 64.2h0M488.9 132.2h0M476.5 21.1h0M583.2 89.5h0M447.7 163.2h0M451.8 159.6h0M555.7 83.4h0M588.0 47.9h0M681.4 60.7h0M470.8 81.0h0M632.8 103.1h0M526.5 105.2h0M652.9 28.9h0M627.5 35.6h0M516.6 125.1h0M513.1 -2.1h0M573.8 90.3h0M556.8 104.5h0M480.7 121.1h0M476.9 80.9h0M514.4 37.5h0M516.6 89.7h0M648.6 22.2h0M513.4 166.0h0M505.9 161.1h0M516.3 14.4h0M484.4 122.7h0M594.9 70.9h0M659.4 118.5h0M485.7 137.4h0M526.6 102.2h0M451.0 156.3h0M491.6 107.5h0M651.8 13.5h0M584.3 51.7h0M668.5 152.2h0M597.2 135.0h0M551.8 87.4h0M555.6 85.1h0M638.7 87.1h0M667.3 47.5h0M566.4 110.4h0M501.6 130.8h0M573.0 37.8h0M452.6 14.3h0M451.2 17.6h0M456.3 17.6h0M638.7 87.6h0M656.4 135.1h0M528.7 38.6h0M590.0 107.9h0M616.7 45.6h0M584.2 74.8h0M618.6 161.7h0M489.4 83.5h0M513.9 3.9h0M663.5 130.2h0M663.5 128.9h0M484.3 100.8h0M559.0 38.4h0M623.3 153.6h0M625.8 151.2h0M503.5 126.7h0M499.9 132.8h0M584.7 131.9h0M611.6 150.1h0M471.9 63.5h0M665.7 5.0h0M461.9 140.0h0M550.4 25.0h0M551.9 30.5h0M463.8 43.5h0M483.8 4.5h0M568.4 50.1h0M566.8 53.1h0M688.2 -1.1h0M569.8 48.1h0M637.2 161.3h0M544.5 22.8h0M668.7 59.3h0M659.9 53.9h0M536.2 117.9h0M534.4 113.7h0M577.7 87.4h0M626.7 22.1h0M454.9 47.8h0M523.3 145.3h0M543.2 129.4h0M543.0 127.0h0M470.1 97.4h0M599.6 110.3h0M475.6 31.1h0M478.8 114.9h0M484.9 107.9h0M552.2 95.3h0M487.6 18.4h0M630.1 46.4h0M655.3 31.9h0M472.1 9.8h0M620.4 16.8h0M601.3 9.5h0M591.3 23.0h0M501.9 120.8h0M513.8 145.7h0M655.6 111.4h0M600.2 73.9h0M600.3 46.2h0M659.1 137.5h0M456.6 59.4h0M688.0 150.7h0M679.4 61.5h0M678.2 138.0h0M503.1 149.5h0M494.7 58.9h0M606.7 20.7h0M466.5 33.9h0M599.8 140.3h0M504.6 119.8h0M673.0 163.9h0M555.5 25.9h0M562.3 61.7h0M593.1 77.5h0M590.9 77.0h0M529.5 148.2h0M468.4 161.0h0M543.5 113.0h0M501.8 154.5h0M549.4 41.2h0M520.9 135.1h0M664.7 56.2h0M530.0 71.0h0M663.5 31.4h0M508.7 146.7h0M657.2 125.4h0M658.3 128.2h0M647.3 112.5h0M684.4 57.5h0M647.3 143.1h0M625.4 86.0h0M644.4 17.6h0M478.7 3.2h0M685.9 122.4h0M610.7 21.3h0M540.3 91.0h0M494.0 126.0h0M632.7 162.6h0M623.0 21.4h0M596.0 113.5h0M615.7 115.7h0"/><path stroke="rgb(152,152,152)" stroke-width="2.4" d="M604.2 2.1h0M508.6 153.1h0M474.2 142.6h0M472.9 145.7h0M486.2 3.2h0M539.9 130.7h0M667.0 63.2h0M666.9 70.1h0M629.6 56.8h0M662.7 128.2h0M584.3 91.6h0M663.3 162.7h0M678.9 81.8h0M679.0 81.3h0M688.5 146.7h0M548.4 90.6h0M494.9 61.1h0M630.6 106.3h0M529.1 107.8h0M513.6 39.8h0M640.7 154.0h0M644.6 152.2h0M682.6 124.0h0M605.2 56.3h0M490.4 57.1h0M512.6 85.6h0M515.2 127.3h0M679.1 134.8h0M522.4 75.0h0M557.4 43.7h0M619.2 61.6h0M608.0 112.4h0M470.9 107.6h0M611.6 45.4h0M521.0 164.3h0M518.7 159.6h0M483.5 119.8h0M465.3 136.9h0M563.6 119.6h0M663.4 96.9h0M684.4 53.7h0M452.9 104.4h0M639.5 116.5h0M470.3 90.7h0M680.5 129.2h0M528.1 128.0h0M610.9 111.4h0M555.8 102.7h0M473.2 114.4h0M471.6 104.8h0M674.8 74.2h0M564.9 3.8h0M494.6 124.2h0M561.8 23.2h0M531.8 106.1h0M452.9 155.5h0M452.5 154.1h0M486.3 167.8h0M679.4 68.2h0M679.4 65.3h0M478.9 68.5h0M513.8 114.7h0M586.6 79.2h0M525.1 63.9h0M674.1 159.9h0M487.1 125.7h0M482.2 123.5h0M668.4 153.2h0M670.5 153.9h0M524.1 132.3h0M561.3 84.4h0M587.2 86.9h0M646.8 165.8h0M455.3 15.4h0M669.6 160.1h0M581.9 87.2h0M642.9 17.1h0M515.6 45.6h0M520.5 53.5h0M500.8 97.7h0M493.8 109.8h0M614.6 151.5h0M628.1 158.1h0M600.6 86.5h0M670.6 97.7h0M672.1 95.7h0M504.8 130.4h0M585.0 84.8h0M482.6 152.2h0M489.3 114.6h0M636.0 46.5h0M594.8 52.8h0M635.3 45.8h0M637.4 160.4h0M613.7 149.7h0M549.6 80.1h0M543.4 116.9h0M487.4 94.9h0M498.0 29.2h0M549.6 26.5h0M633.6 105.9h0M558.4 106.8h0M659.0 18.8h0M473.8 152.1h0M687.1 -0.6h0M510.0 80.9h0M472.7 64.4h0M472.6 68.0h0M475.6 68.1h0M457.1 44.0h0M601.9 119.5h0M642.9 49.6h0M475.4 90.6h0M463.7 147.9h0M648.3 32.7h0M474.9 38.2h0M684.7 -2.4h0M689.0 -1.3h0M477.5 43.8h0M651.0 27.8h0M582.3 133.3h0M657.1 160.7h0M657.6 165.6h0M558.8 31.9h0M556.6 36.7h0M624.5 6.2h0M464.7 18.3h0M596.5 -0.1h0M595.0 -0.1h0M510.0 149.1h0M586.5 59.0h0M493.3 157.9h0M483.2 140.5h0M597.0 71.7h0M534.4 98.0h0M503.6 141.1h0M681.2 65.4h0M627.5 18.5h0M602.7 112.1h0M464.0 62.0h0M470.8 32.7h0M554.7 47.3h0M652.9 31.6h0M650.9 81.9h0M454.8 111.6h0M451.8 113.1h0M561.5 28.9h0M677.0 54.2h0M458.1 58.2h0M551.3 85.0h0M549.3 78.1h0M553.3 23.2h0M521.0 97.7h0M575.0 62.5h0M675.9 68.1h0M672.3 153.5h0M562.9 3.4h0M558.5 23.9h0M616.9 160.3h0M622.3 149.2h0M588.2 41.1h0M644.0 87.2h0M651.1 142.2h0M657.3 152.4h0M490.6 117.5h0M542.5 8.1h0M663.6 32.8h0M613.1 58.1h0M557.7 44.4h0M623.9 11.5h0M566.4 -0.5h0M515.5 131.4h0M531.1 76.2h0M599.5 141.2h0M571.8 134.3h0M587.2 53.6h0M657.2 124.2h0M656.4 122.7h0M684.9 56.6h0M643.3 99.4h0M516.9 45.3h0M608.5 39.8h0M670.3 110.3h0M630.6 83.0h0M644.3 122.6h0M670.2 124.8h0M545.0 -0.5h0M483.5 120.8h0M611.4 144.3h0M472.9 121.5h0M471.9 126.8h0M556.2 118.6h0M473.0 147.7h0M617.3 67.6h0M531.1 -0.9h0"/><path stroke="rgb(152,152,152)" stroke-width="1.6" d="M577.0 122.4h0M507.5 150.9h0M662.9 120.0h0M520.0 57.8h0M471.7 36.7h0M453.8 101.5h0M509.7 147.1h0M599.3 2.3h0M455.3 117.4h0M637.5 79.4h0M535.0 159.3h0M634.5 65.2h0M641.9 40.7h0M562.1 29.1h0M554.8 25.6h0M657.0 125.4h0M637.3 51.2h0M491.7 130.9h0M511.6 143.3h0M603.2 107.9h0M601.1 114.1h0M477.9 143.7h0M524.8 70.3h0M548.0 90.1h0M547.8 90.4h0M629.6 149.5h0M564.6 68.0h0M621.0 152.4h0M513.6 36.1h0M451.3 153.8h0M466.5 23.6h0M522.6 60.7h0M525.5 57.5h0M653.2 27.6h0M650.7 27.9h0M514.9 128.2h0M507.1 48.0h0M608.2 46.5h0M607.6 43.0h0M572.4 155.7h0M518.5 160.1h0M456.8 98.5h0M487.6 51.4h0M523.6 123.4h0M523.4 122.3h0M568.5 -2.2h0M561.8 116.5h0M453.6 102.7h0M528.5 16.8h0M473.9 85.3h0M465.9 87.8h0M662.0 5.9h0M628.4 23.6h0M552.4 101.4h0M669.8 29.1h0M611.6 25.2h0M643.6 23.8h0M646.0 -0.1h0M578.3 54.2h0M644.5 30.4h0M669.7 42.2h0M548.0 79.8h0M551.6 78.8h0M474.1 117.0h0M535.4 130.2h0M556.5 48.7h0M658.9 119.7h0M658.5 118.1h0M459.0 68.0h0M669.5 73.6h0M656.0 162.8h0M487.2 134.1h0M505.1 132.9h0M554.1 22.9h0M495.6 121.6h0M564.3 21.8h0M600.9 115.0h0M596.6 110.2h0M540.6 21.1h0M677.2 66.5h0M669.9 36.2h0M671.7 158.8h0M465.2 49.5h0M512.4 94.2h0M644.4 53.9h0M642.5 50.3h0M518.2 89.4h0M556.1 121.8h0M506.0 151.5h0M567.1 107.9h0M574.8 42.0h0M489.3 120.9h0M489.1 121.7h0M488.9 122.1h0M591.0 116.3h0M642.2 6.0h0M609.4 49.7h0M670.3 72.8h0M670.6 70.0h0M640.2 11.9h0M496.8 27.6h0M612.2 79.6h0M515.6 19.4h0M468.3 92.4h0M484.9 86.9h0M568.3 4.5h0M640.6 100.5h0M596.7 87.2h0M605.2 120.2h0M495.3 22.2h0M530.0 93.9h0M590.6 87.6h0M489.3 96.6h0M487.5 100.2h0M659.5 6.4h0M592.6 54.9h0M660.3 124.8h0M512.8 84.0h0M626.1 153.9h0M503.7 129.7h0M677.1 152.1h0M488.9 16.5h0M460.8 23.0h0M452.1 94.5h0M613.3 148.5h0M536.8 2.9h0M609.4 130.6h0M464.2 15.9h0M527.6 118.7h0M530.5 120.7h0M643.4 145.9h0M496.9 75.4h0M495.8 70.4h0M493.8 146.2h0M482.5 128.5h0M485.1 9.0h0M662.7 10.2h0M484.4 58.0h0M606.1 29.7h0M560.3 31.8h0M534.4 87.2h0M496.3 82.7h0M600.6 60.5h0M537.0 113.9h0M629.4 19.8h0M453.9 43.5h0M631.5 13.8h0M666.3 58.4h0M623.1 90.2h0M464.5 98.2h0M467.9 57.4h0M663.0 152.9h0M482.4 92.5h0M457.9 142.7h0M645.0 69.8h0M651.6 50.0h0M479.3 108.6h0M477.0 112.5h0M489.4 15.4h0M491.2 13.5h0M686.5 0.9h0M517.2 4.7h0M686.8 119.1h0M612.2 66.0h0M614.6 -0.9h0M570.2 27.5h0M518.9 149.9h0M501.1 61.1h0M510.9 150.4h0M531.2 39.6h0M534.2 42.4h0M656.1 98.3h0M655.1 122.1h0M453.2 39.8h0M683.9 160.1h0M486.7 158.0h0M483.9 139.7h0M485.0 139.7h0M452.3 6.5h0M602.0 47.5h0M567.1 32.5h0M559.1 34.0h0M530.4 1.6h0M607.0 110.3h0M597.4 98.7h0M520.5 15.9h0M513.4 17.7h0M656.4 31.9h0M521.9 145.1h0M669.8 87.8h0M541.8 160.4h0M492.0 52.8h0M551.3 22.9h0M581.4 89.8h0M681.1 66.8h0M504.0 120.0h0M579.4 103.0h0M644.8 22.6h0M586.7 17.0h0M560.6 61.2h0M463.1 110.9h0M477.3 43.3h0M560.9 141.7h0M584.0 86.6h0M535.9 37.3h0M644.3 88.0h0M471.1 130.9h0M648.7 145.2h0M625.9 64.6h0M631.1 65.2h0M594.0 102.3h0M541.6 9.9h0M602.3 47.0h0M673.8 154.6h0M581.9 85.4h0M619.4 33.7h0M531.1 78.1h0M563.7 4.9h0M636.2 86.9h0M601.4 149.0h0M667.6 28.8h0M470.6 41.9h0M482.5 75.4h0M629.5 56.3h0M536.9 150.1h0M615.8 39.3h0M455.3 140.7h0M453.6 113.0h0M647.0 146.4h0M651.1 40.3h0M465.3 160.6h0M520.1 15.9h0M668.4 123.9h0M507.3 138.8h0M484.6 116.1h0M599.8 25.6h0M469.4 150.3h0M617.3 69.8h0M496.8 121.4h0M527.3 88.1h0M601.2 29.5h0"/><path stroke="rgb(152,152,152)" stroke-width="2.0" d="M505.7 149.0h0M660.5 7.4h0M457.4 99.8h0M475.8 138.9h0M539.6 133.1h0M540.6 123.1h0M665.9 129.7h0M474.2 21.6h0M663.8 162.8h0M687.1 144.7h0M553.9 84.4h0M590.8 129.4h0M471.2 83.6h0M492.3 59.7h0M456.2 10.4h0M567.9 65.6h0M562.3 69.0h0M619.1 153.8h0M514.5 35.6h0M503.0 12.6h0M517.5 56.6h0M601.8 58.7h0M680.4 138.5h0M609.8 109.4h0M522.8 123.9h0M609.0 43.7h0M612.9 46.1h0M521.9 160.9h0M516.3 159.9h0M483.1 117.6h0M481.8 116.6h0M482.8 118.6h0M677.2 125.4h0M468.3 136.2h0M456.5 103.5h0M623.4 80.4h0M483.9 17.8h0M487.0 19.4h0M530.1 5.9h0M528.9 8.1h0M529.0 7.0h0M520.5 83.5h0M609.3 19.1h0M569.0 159.3h0M574.7 168.2h0M643.0 108.0h0M690.2 26.6h0M501.9 158.2h0M470.5 68.9h0M511.3 147.6h0M469.5 119.1h0M647.9 19.0h0M555.2 49.6h0M672.8 74.5h0M508.7 149.4h0M660.0 141.7h0M648.9 102.7h0M681.9 119.4h0M647.6 112.8h0M651.2 110.5h0M552.8 17.2h0M556.7 14.3h0M677.5 146.0h0M453.1 156.2h0M541.7 20.1h0M538.0 24.0h0M550.6 21.9h0M548.2 19.1h0M543.6 128.1h0M596.2 4.1h0M574.9 81.7h0M605.4 70.4h0M660.6 152.7h0M464.6 55.8h0M530.8 136.3h0M688.6 1.2h0M638.1 85.4h0M503.0 157.7h0M569.5 109.0h0M485.4 106.4h0M608.6 3.9h0M453.7 13.2h0M681.1 125.2h0M532.6 36.5h0M609.8 45.9h0M666.0 29.9h0M537.1 38.0h0M599.4 73.0h0M647.9 40.7h0M626.6 157.1h0M625.1 159.6h0M518.6 4.6h0M527.1 140.4h0M632.1 148.7h0M629.7 143.4h0M660.0 133.6h0M522.5 90.8h0M581.3 84.1h0M498.2 116.0h0M616.4 26.2h0M492.9 102.0h0M592.4 56.0h0M489.1 115.0h0M645.5 43.4h0M640.0 39.4h0M562.3 38.8h0M593.0 108.5h0M564.7 124.4h0M469.7 119.3h0M627.0 153.3h0M636.5 161.5h0M677.9 151.7h0M556.4 85.0h0M483.6 98.2h0M482.7 96.6h0M492.2 143.5h0M550.6 26.0h0M643.5 3.1h0M605.1 132.7h0M589.0 116.3h0M661.1 10.9h0M569.0 48.7h0M502.2 52.2h0M600.8 26.8h0M633.7 85.7h0M628.1 148.5h0M626.3 20.2h0M550.9 52.7h0M599.5 106.2h0M524.6 31.1h0M517.5 36.0h0M518.9 158.6h0M631.4 44.5h0M687.4 112.1h0M571.8 9.2h0M576.2 106.3h0M578.4 102.4h0M473.2 13.8h0M465.4 48.4h0M617.2 19.8h0M544.6 101.9h0M517.9 150.8h0M505.9 62.3h0M658.0 96.9h0M475.2 77.5h0M586.7 59.4h0M489.8 163.8h0M552.2 20.4h0M553.6 15.1h0M659.6 106.3h0M599.2 74.0h0M537.8 99.9h0M495.3 33.5h0M456.2 10.1h0M452.6 8.6h0M597.8 125.4h0M553.2 40.0h0M538.7 8.8h0M660.5 140.6h0M598.7 78.1h0M624.9 14.0h0M665.8 165.5h0M667.0 162.9h0M582.8 84.8h0M602.2 107.3h0M594.9 95.7h0M643.6 6.1h0M689.3 154.1h0M501.4 152.4h0M674.9 47.0h0M671.8 49.9h0M554.7 20.8h0M635.8 112.8h0M505.7 121.4h0M530.3 118.3h0M525.7 121.8h0M562.0 7.3h0M562.2 62.1h0M560.7 62.0h0M618.9 161.8h0M475.9 162.9h0M503.5 149.1h0M501.3 148.8h0M463.8 109.6h0M591.6 81.2h0M563.4 136.6h0M666.0 42.5h0M473.9 115.2h0M637.3 47.0h0M537.3 32.1h0M641.8 86.4h0M593.1 33.3h0M631.4 54.2h0M637.1 103.9h0M607.0 59.4h0M541.7 111.9h0M627.3 163.5h0M501.4 77.0h0M503.7 112.7h0M503.6 114.0h0M599.6 27.7h0M623.2 19.8h0M667.8 35.0h0M644.8 60.1h0M645.3 2.2h0M628.7 150.4h0M604.8 35.1h0M494.8 108.0h0M594.0 -1.4h0M469.3 5.4h0M481.2 120.3h0M473.4 44.2h0M509.1 4.1h0M655.7 126.2h0M647.2 115.8h0M468.7 75.2h0M595.9 140.2h0M541.1 151.7h0M587.1 120.8h0M594.0 127.2h0M557.0 116.7h0M473.3 -1.9h0M646.7 146.8h0M537.6 136.5h0M569.5 111.2h0M646.0 19.0h0M509.6 92.4h0M481.0 91.2h0M615.2 20.5h0M536.5 5.7h0M619.1 40.2h0M621.2 39.2h0M668.3 127.0h0M656.0 129.5h0M487.7 109.7h0M602.0 145.8h0M600.7 22.3h0M613.7 164.8h0M452.8 128.4h0M601.0 32.2h0M608.9 118.1h0"/><path stroke="rgb(162,162,162)" stroke-width="1.6" d="M602.4 1.0h0M649.7 91.9h0M592.1 103.8h0M589.5 103.9h0M558.8 34.2h0M556.2 35.9h0M554.6 18.1h0M558.5 17.8h0M582.2 59.0h0M642.4 43.8h0M638.1 43.4h0M622.2 63.4h0M682.3 125.8h0M598.6 114.6h0M480.1 135.2h0M565.5 2.7h0M547.1 90.2h0M686.2 134.6h0M490.2 57.6h0M529.9 45.5h0M533.0 46.7h0M636.5 102.8h0M644.9 156.6h0M625.8 9.7h0M629.1 10.5h0M527.7 6.2h0M519.8 6.2h0M496.5 53.7h0M494.8 50.2h0M515.2 128.2h0M604.6 158.2h0M600.6 151.9h0M623.2 -3.8h0M520.0 1.7h0M566.8 0.1h0M512.5 13.1h0M471.5 136.7h0M552.6 101.6h0M520.4 33.7h0M652.8 158.9h0M669.7 24.5h0M533.3 21.1h0M643.9 1.9h0M573.6 160.2h0M467.3 121.3h0M472.9 92.1h0M528.7 56.8h0M521.0 127.6h0M554.8 102.9h0M548.8 79.1h0M535.5 12.3h0M509.7 17.4h0M493.2 26.7h0M545.2 88.9h0M461.1 2.5h0M595.5 50.4h0M496.1 95.0h0M592.2 108.8h0M657.5 162.5h0M654.7 163.8h0M647.4 97.0h0M645.6 95.9h0M549.1 26.8h0M528.7 40.4h0M519.3 150.1h0M537.0 82.8h0M602.2 123.1h0M639.6 144.2h0M560.4 164.0h0M560.2 160.8h0M488.5 112.6h0M606.2 70.5h0M526.5 66.7h0M483.0 126.9h0M529.8 133.6h0M653.6 157.1h0M518.9 92.1h0M548.1 42.2h0M628.4 108.6h0M557.4 118.8h0M567.2 8.3h0M502.7 157.3h0M488.5 117.6h0M485.8 112.5h0M492.7 122.1h0M476.8 155.6h0M681.4 122.0h0M602.8 146.0h0M590.4 110.3h0M674.9 21.5h0M500.5 86.3h0M639.2 59.5h0M616.3 163.1h0M584.6 118.9h0M584.4 119.8h0M587.8 120.2h0M637.4 99.6h0M598.2 86.4h0M599.8 87.4h0M596.9 87.3h0M616.3 48.9h0M658.2 13.4h0M484.6 99.1h0M678.1 24.0h0M542.2 136.0h0M494.2 102.0h0M494.2 103.3h0M488.2 99.7h0M641.4 42.5h0M558.8 38.4h0M635.2 45.6h0M644.9 11.1h0M465.4 68.7h0M614.6 35.7h0M609.9 36.4h0M682.4 1.6h0M480.6 96.6h0M482.0 96.8h0M552.5 160.9h0M553.7 134.2h0M554.9 135.9h0M559.0 16.6h0M588.5 159.0h0M481.1 123.9h0M530.9 42.2h0M601.1 93.0h0M644.7 159.4h0M603.5 30.3h0M635.3 85.3h0M504.1 118.7h0M543.4 20.7h0M628.5 152.6h0M601.4 76.6h0M472.3 65.7h0M616.2 12.0h0M472.6 24.1h0M473.2 23.6h0M595.5 117.8h0M602.5 116.9h0M470.6 44.5h0M642.4 42.3h0M668.8 156.6h0M476.2 93.5h0M458.5 144.9h0M648.3 46.4h0M477.7 36.4h0M517.5 5.2h0M542.1 82.2h0M683.9 119.6h0M655.4 168.3h0M664.7 79.3h0M664.0 79.1h0M642.3 56.8h0M592.5 22.2h0M465.0 18.1h0M464.2 19.5h0M551.4 14.6h0M454.7 7.8h0M469.6 60.3h0M654.5 39.2h0M654.8 40.9h0M598.9 79.6h0M528.0 149.4h0M536.9 149.3h0M641.4 3.9h0M681.4 59.3h0M632.4 70.7h0M516.1 128.3h0M519.0 126.5h0M472.5 78.0h0M476.1 88.5h0M678.4 51.7h0M650.8 44.7h0M502.9 115.9h0M641.9 29.4h0M561.8 61.9h0M526.9 136.8h0M526.2 139.9h0M617.9 157.9h0M615.5 164.1h0M591.3 41.0h0M502.9 146.9h0M581.5 87.3h0M516.8 146.2h0M515.1 150.1h0M473.9 120.2h0M561.8 151.3h0M470.1 52.4h0M645.8 149.0h0M597.3 94.1h0M613.5 60.5h0M612.4 54.5h0M525.9 60.2h0M517.0 87.3h0M691.7 107.2h0M532.8 10.9h0M528.1 8.6h0M561.7 42.5h0M602.2 16.7h0M500.0 62.7h0M494.0 60.8h0M492.8 65.0h0M669.8 39.1h0M615.4 68.0h0M511.9 70.4h0M640.2 89.8h0M463.7 0.4h0M662.3 28.5h0M499.4 39.6h0M677.9 39.4h0M612.0 11.3h0M640.5 98.5h0M455.3 142.3h0M453.6 109.2h0M516.4 69.4h0M589.9 42.7h0M468.8 9.2h0M612.8 147.9h0M485.2 75.9h0M509.4 93.9h0M516.2 14.4h0M650.1 116.6h0M560.3 43.1h0M651.4 70.3h0M595.4 18.7h0M670.9 120.2h0M559.5 113.7h0M650.7 73.0h0M612.6 166.0h0M537.9 139.7h0M628.9 115.2h0M455.2 127.0h0"/><path stroke="rgb(162,162,162)" stroke-width="2.4" d="M598.9 -0.1h0M578.7 122.7h0M581.2 126.6h0M584.6 118.8h0M659.8 89.4h0M586.7 102.8h0M458.9 100.7h0M467.1 133.2h0M544.8 123.9h0M486.3 147.4h0M631.9 63.1h0M637.3 37.2h0M562.9 27.3h0M664.4 125.7h0M636.8 49.8h0M459.3 151.1h0M455.5 149.8h0M478.6 140.5h0M583.6 47.7h0M564.9 16.9h0M587.3 124.1h0M629.7 103.7h0M623.5 147.1h0M648.2 153.4h0M451.5 154.8h0M582.6 32.5h0M511.9 11.1h0M482.9 92.9h0M625.8 12.6h0M682.9 131.4h0M605.4 80.5h0M630.4 145.8h0M601.1 56.5h0M540.6 7.2h0M506.4 48.1h0M523.5 15.2h0M612.9 117.0h0M614.4 113.4h0M570.9 90.2h0M573.0 150.2h0M488.7 47.6h0M625.8 1.7h0M626.3 3.5h0M524.5 2.8h0M633.9 51.9h0M616.6 95.6h0M565.4 13.0h0M470.8 135.9h0M524.0 131.5h0M560.9 119.0h0M566.5 121.1h0M661.9 97.8h0M667.0 101.7h0M476.7 82.9h0M484.4 21.1h0M628.1 18.0h0M521.5 34.4h0M623.9 59.7h0M624.8 59.9h0M533.3 19.5h0M455.7 89.1h0M485.8 145.0h0M503.1 164.3h0M560.5 129.8h0M672.7 39.8h0M513.9 145.7h0M514.8 144.0h0M608.0 110.3h0M510.8 152.5h0M512.7 13.7h0M491.9 18.7h0M488.2 21.4h0M491.2 20.7h0M548.1 88.5h0M549.0 88.4h0M511.6 152.5h0M574.8 92.1h0M644.7 100.8h0M519.9 21.3h0M647.9 39.4h0M572.6 115.6h0M529.7 102.7h0M599.5 113.7h0M561.7 40.8h0M601.2 124.1h0M636.9 63.9h0M638.8 57.9h0M565.5 164.9h0M480.4 115.5h0M548.0 22.9h0M477.2 103.1h0M675.7 65.3h0M568.5 26.7h0M505.8 82.3h0M672.9 158.8h0M587.4 47.3h0M586.3 50.6h0M673.7 66.4h0M683.4 -3.6h0M558.5 17.5h0M668.0 162.2h0M532.4 35.8h0M548.8 15.8h0M543.3 15.5h0M581.7 87.9h0M662.9 27.7h0M663.0 25.7h0M503.7 24.8h0M538.0 120.7h0M498.4 102.0h0M491.3 107.8h0M674.4 22.9h0M676.5 26.4h0M677.1 27.5h0M666.6 42.6h0M659.3 67.1h0M660.8 64.5h0M495.0 16.0h0M616.2 25.5h0M538.6 50.1h0M459.8 53.1h0M627.5 18.4h0M635.7 158.4h0M606.9 141.6h0M556.0 155.0h0M641.7 150.9h0M639.2 151.9h0M494.3 72.2h0M519.5 35.9h0M558.7 147.4h0M462.4 1.1h0M601.1 127.6h0M603.9 136.3h0M578.4 55.1h0M664.2 9.1h0M499.6 50.9h0M519.5 155.4h0M639.2 84.6h0M636.8 164.7h0M539.5 147.4h0M504.3 80.2h0M583.5 137.7h0M470.8 104.8h0M520.4 143.7h0M517.3 143.6h0M587.8 12.8h0M465.9 94.4h0M600.3 106.8h0M471.1 55.0h0M651.2 51.0h0M552.5 99.3h0M517.2 6.4h0M528.6 9.4h0M523.1 85.6h0M580.3 103.1h0M608.9 63.4h0M639.1 51.9h0M537.7 69.7h0M547.4 100.8h0M592.8 21.6h0M500.2 59.7h0M530.4 39.9h0M655.3 99.3h0M649.9 123.5h0M451.1 36.0h0M684.6 163.0h0M685.8 163.9h0M519.3 136.0h0M566.8 21.2h0M555.8 34.7h0M652.6 50.9h0M537.7 11.7h0M654.0 40.2h0M574.2 117.1h0M684.1 126.5h0M520.2 14.3h0M520.5 13.2h0M510.6 20.6h0M512.5 63.1h0M492.0 40.9h0M629.9 73.7h0M460.0 113.1h0M460.0 110.7h0M455.6 113.1h0M562.2 154.2h0M455.9 54.8h0M612.6 25.8h0M601.8 144.4h0M506.6 119.9h0M679.7 27.1h0M642.2 133.2h0M646.3 133.4h0M572.6 142.8h0M613.9 127.9h0M633.5 12.6h0M623.4 150.9h0M486.9 152.9h0M486.9 156.1h0M663.9 16.4h0M582.2 86.4h0M580.0 88.9h0M640.9 85.9h0M559.0 150.9h0M595.8 96.3h0M547.9 56.4h0M603.1 110.1h0M641.5 101.6h0M611.1 56.9h0M611.6 59.2h0M518.2 61.1h0M523.3 60.7h0M502.8 141.1h0M519.9 83.7h0M688.6 106.2h0M523.2 9.0h0M559.9 44.9h0M555.9 44.2h0M495.3 57.1h0M624.1 22.6h0M625.0 19.7h0M621.4 147.8h0M626.3 149.8h0M589.0 44.8h0M477.7 117.5h0M603.3 53.5h0M585.0 52.2h0M678.1 40.1h0M678.0 39.8h0M614.3 6.5h0M625.8 54.0h0M626.5 56.5h0M628.6 83.6h0M511.3 92.4h0M479.5 96.3h0M688.1 124.1h0M687.4 121.2h0M613.1 61.0h0M485.1 107.4h0M486.7 103.9h0M607.2 41.0h0M610.9 146.0h0M677.5 56.8h0M676.0 57.3h0M474.2 120.6h0M558.0 114.0h0M614.0 64.9h0M579.5 143.9h0M523.8 86.9h0M474.2 3.5h0"/><path stroke="rgb(162,162,162)" stroke-width="2.0" d="M556.1 3.3h0M665.2 135.7h0M502.3 106.3h0M603.4 0.8h0M500.0 159.5h0M453.0 156.9h0M456.5 152.6h0M584.1 92.4h0M664.4 161.7h0M662.0 161.9h0M664.3 163.6h0M666.5 14.7h0M563.0 48.1h0M565.1 42.2h0M552.3 86.4h0M584.1 47.7h0M467.9 107.6h0M587.8 127.0h0M488.9 129.2h0M492.5 59.5h0M457.2 12.4h0M454.2 13.8h0M654.6 83.5h0M528.4 43.9h0M519.6 60.4h0M524.9 57.5h0M524.2 3.9h0M527.0 1.6h0M512.6 86.3h0M678.0 137.0h0M612.6 115.1h0M526.9 76.3h0M571.6 89.5h0M523.8 122.7h0M473.6 107.3h0M493.0 57.4h0M497.3 56.9h0M472.1 77.8h0M630.6 46.4h0M496.1 69.6h0M620.4 76.2h0M487.7 19.9h0M519.5 84.2h0M670.2 22.5h0M531.8 19.7h0M469.0 96.1h0M577.8 55.1h0M580.3 51.1h0M533.7 53.5h0M623.6 133.9h0M453.8 90.7h0M653.1 162.3h0M502.4 159.3h0M505.1 157.6h0M650.7 10.8h0M512.7 144.1h0M527.6 133.3h0M473.4 116.7h0M475.0 114.7h0M470.0 103.0h0M678.5 19.5h0M550.7 90.3h0M463.7 4.6h0M596.5 50.0h0M573.6 94.7h0M578.3 91.3h0M659.1 139.4h0M553.3 23.1h0M552.0 26.2h0M519.3 6.9h0M562.8 1.7h0M502.3 52.9h0M601.0 126.1h0M604.5 126.8h0M640.6 146.0h0M635.9 143.8h0M491.0 110.0h0M579.4 84.9h0M607.9 72.1h0M511.3 76.0h0M510.3 82.1h0M484.7 154.0h0M585.1 49.5h0M467.0 53.0h0M467.7 53.7h0M529.0 136.6h0M603.8 157.8h0M569.2 -4.7h0M643.5 49.8h0M635.4 85.7h0M520.3 84.2h0M630.2 104.9h0M571.5 39.7h0M667.8 161.9h0M533.4 36.6h0M538.8 34.8h0M644.1 14.5h0M640.8 14.6h0M498.3 102.3h0M498.9 97.5h0M616.3 80.8h0M594.6 85.6h0M491.7 110.5h0M515.8 17.1h0M513.8 19.3h0M468.9 88.8h0M486.6 86.3h0M564.8 6.4h0M524.8 142.1h0M533.2 95.5h0M657.9 10.5h0M547.9 154.9h0M658.8 5.7h0M485.5 155.4h0M594.2 50.3h0M632.9 45.2h0M589.3 121.3h0M614.1 149.3h0M610.7 137.4h0M483.3 98.0h0M558.0 155.0h0M552.9 159.6h0M498.8 30.8h0M494.5 74.2h0M489.0 123.8h0M473.6 151.0h0M647.9 160.1h0M645.2 160.0h0M647.3 158.2h0M555.7 31.2h0M555.0 33.8h0M536.8 74.4h0M662.9 56.8h0M486.1 49.9h0M580.3 143.9h0M623.3 90.0h0M618.9 89.4h0M622.5 90.1h0M473.7 21.5h0M476.9 46.6h0M471.6 50.2h0M466.1 94.0h0M668.7 157.2h0M515.9 32.5h0M643.4 67.6h0M602.0 64.5h0M556.3 99.1h0M648.1 97.0h0M492.4 83.0h0M650.8 33.3h0M667.4 28.8h0M586.5 10.9h0M575.0 107.7h0M610.4 59.8h0M663.1 80.3h0M569.3 27.7h0M600.5 124.2h0M497.3 62.6h0M680.4 40.7h0M584.1 126.1h0M487.8 160.6h0M518.8 83.7h0M532.4 75.4h0M454.6 7.9h0M517.4 7.6h0M453.2 6.6h0M487.6 117.1h0M544.9 40.4h0M488.2 84.8h0M582.3 85.2h0M460.0 54.7h0M459.5 138.5h0M514.9 19.0h0M617.4 147.2h0M454.4 112.2h0M521.5 134.8h0M520.1 122.2h0M516.7 127.1h0M554.4 156.7h0M459.0 54.3h0M550.7 23.2h0M551.2 22.5h0M609.1 23.7h0M556.2 56.5h0M579.5 87.5h0M671.5 154.5h0M481.4 120.5h0M589.6 16.2h0M561.6 3.5h0M528.9 -2.8h0M620.4 145.5h0M465.6 60.7h0M591.9 42.9h0M499.3 151.9h0M462.1 109.4h0M650.1 90.7h0M562.3 140.8h0M588.5 37.4h0M569.8 75.3h0M474.4 120.6h0M627.0 65.7h0M597.1 97.3h0M591.4 97.1h0M594.3 36.9h0M558.9 39.4h0M501.1 45.0h0M624.1 18.7h0M647.5 58.7h0M489.3 119.5h0M559.8 66.8h0M564.6 0.8h0M590.1 44.1h0M589.4 44.3h0M589.5 46.4h0M595.1 -2.4h0M483.5 73.6h0M484.1 74.8h0M526.0 150.2h0M618.6 112.9h0M455.9 142.9h0M592.4 131.6h0M630.9 100.6h0M670.1 112.8h0M537.1 136.5h0M650.5 129.3h0M480.2 74.8h0M559.5 117.7h0M508.4 92.4h0M686.5 123.0h0M580.3 10.5h0M547.4 4.7h0M503.1 139.0h0M533.6 132.3h0M475.7 56.6h0M614.4 67.9h0M583.5 144.2h0M603.0 30.4h0M534.4 3.6h0M535.0 0.1h0M536.0 -0.3h0"/><path stroke="rgb(172,172,172)" stroke-width="2.4" d="M603.6 -2.2h0M655.8 60.3h0M466.5 125.0h0M507.1 151.9h0M681.9 108.8h0M505.4 117.3h0M501.5 114.2h0M542.4 126.6h0M646.9 143.1h0M571.7 27.3h0M478.6 38.7h0M634.8 61.3h0M584.7 40.6h0M465.7 112.2h0M546.8 89.8h0M475.7 84.6h0M631.9 101.5h0M585.4 32.7h0M510.3 11.3h0M468.3 23.9h0M463.0 62.6h0M475.0 81.0h0M611.2 114.7h0M523.4 -0.8h0M531.8 16.3h0M655.0 164.5h0M462.0 144.8h0M515.5 164.8h0M626.2 137.9h0M472.9 61.7h0M474.6 66.1h0M478.3 60.5h0M523.7 131.0h0M540.4 135.9h0M554.1 101.8h0M473.2 116.2h0M528.2 135.0h0M514.4 153.2h0M655.3 106.8h0M593.6 52.2h0M593.9 107.9h0M507.3 152.8h0M566.6 0.2h0M529.5 45.0h0M481.7 97.7h0M517.2 150.1h0M599.1 112.7h0M601.3 124.3h0M601.4 123.2h0M535.4 30.8h0M482.3 116.5h0M679.2 70.0h0M572.7 24.6h0M582.5 80.1h0M606.9 70.7h0M525.0 66.2h0M522.5 62.7h0M468.1 54.9h0M531.0 134.5h0M554.5 53.1h0M514.0 89.7h0M570.8 10.4h0M544.8 43.0h0M560.3 111.5h0M472.6 118.1h0M511.3 85.7h0M629.9 70.5h0M547.7 18.5h0M656.3 83.9h0M635.2 68.4h0M639.2 69.0h0M515.9 18.4h0M447.5 71.1h0M476.3 12.2h0M542.4 152.8h0M659.2 121.2h0M592.8 110.1h0M594.5 49.4h0M617.6 14.9h0M502.3 129.1h0M499.4 29.4h0M558.4 107.3h0M512.3 100.4h0M510.4 101.2h0M593.4 117.9h0M488.2 61.4h0M489.3 63.1h0M625.6 119.8h0M503.0 108.3h0M498.9 81.0h0M579.6 140.5h0M579.7 140.5h0M474.6 107.0h0M616.9 10.8h0M587.4 10.1h0M682.2 19.6h0M553.2 69.7h0M640.1 45.0h0M621.5 3.8h0M467.2 54.8h0M573.2 29.0h0M572.4 32.7h0M478.5 98.6h0M630.5 141.3h0M642.6 67.6h0M519.5 6.9h0M481.6 40.8h0M480.8 43.6h0M476.2 11.4h0M579.9 163.0h0M638.8 56.8h0M570.3 27.7h0M569.7 26.2h0M530.0 41.8h0M681.7 101.5h0M466.9 17.7h0M653.4 95.3h0M488.3 25.1h0M588.7 128.2h0M569.5 24.6h0M567.7 20.6h0M588.3 162.9h0M502.9 35.5h0M502.1 30.7h0M470.7 57.9h0M515.8 4.7h0M586.7 46.1h0M586.7 51.5h0M653.5 51.1h0M682.7 75.4h0M556.3 159.6h0M459.7 89.3h0M667.3 166.0h0M568.4 120.5h0M462.2 57.4h0M462.2 56.9h0M518.8 13.5h0M518.5 22.3h0M679.7 135.5h0M490.5 38.9h0M454.6 111.3h0M496.2 59.3h0M645.8 135.3h0M588.6 15.9h0M630.5 11.4h0M632.7 14.4h0M470.2 111.0h0M528.8 140.9h0M624.6 148.1h0M622.8 147.3h0M623.8 146.5h0M486.3 155.5h0M547.2 53.3h0M593.5 25.5h0M605.5 32.5h0M565.7 32.0h0M504.6 78.8h0M564.3 24.3h0M467.5 115.8h0M527.4 7.6h0M526.7 46.2h0M575.2 104.0h0M592.6 46.8h0M620.3 -3.3h0M609.7 6.6h0M536.2 146.9h0M534.1 149.8h0M523.2 51.6h0M454.3 108.5h0M640.0 143.8h0M478.3 3.8h0M630.3 98.0h0M631.8 98.8h0M533.6 139.5h0M629.8 -1.4h0M650.0 52.3h0M607.3 20.9h0M479.7 73.5h0M514.3 15.8h0M477.0 146.7h0M579.2 11.5h0M557.7 38.5h0M613.7 64.1h0M574.5 140.9h0M574.9 144.4h0M616.6 66.0h0M477.4 0.3h0M609.2 93.7h0"/><path stroke="rgb(172,172,172)" stroke-width="2.0" d="M655.6 60.6h0M471.3 77.0h0M521.9 56.9h0M461.5 106.6h0M510.4 110.1h0M601.4 1.8h0M664.2 71.7h0M476.6 38.5h0M659.7 106.8h0M637.8 42.3h0M619.2 65.1h0M622.2 63.6h0M536.5 42.8h0M453.7 154.1h0M664.7 161.5h0M563.5 49.1h0M685.4 142.1h0M477.0 83.5h0M513.4 35.8h0M510.1 9.5h0M524.4 52.8h0M625.9 13.6h0M606.1 87.5h0M684.4 32.4h0M682.7 33.8h0M523.4 3.4h0M495.6 53.9h0M613.3 116.9h0M611.6 113.1h0M611.2 115.8h0M616.8 110.2h0M601.0 153.8h0M686.9 36.3h0M499.8 59.2h0M572.3 148.0h0M610.0 115.1h0M458.6 100.5h0M624.7 -0.1h0M613.4 98.1h0M570.1 152.6h0M572.6 156.7h0M562.0 16.3h0M560.8 17.1h0M519.3 132.0h0M678.7 110.6h0M664.0 99.9h0M627.6 18.1h0M520.9 85.0h0M546.9 64.8h0M669.8 22.0h0M641.6 110.8h0M627.0 136.1h0M558.9 131.8h0M474.7 63.7h0M554.5 103.1h0M549.1 78.3h0M631.1 49.5h0M508.8 18.6h0M507.9 149.4h0M526.5 9.4h0M559.6 23.3h0M564.7 113.6h0M633.0 66.9h0M489.5 113.2h0M546.3 135.9h0M549.2 130.6h0M486.7 92.7h0M486.6 46.6h0M582.6 78.7h0M506.2 80.2h0M672.8 158.4h0M628.8 1.5h0M518.4 86.8h0M489.1 110.1h0M632.5 66.6h0M680.0 121.8h0M635.6 83.4h0M603.1 145.7h0M540.1 35.0h0M502.6 26.0h0M521.4 47.3h0M609.4 72.2h0M655.9 78.1h0M514.9 17.1h0M501.3 85.0h0M626.6 152.3h0M571.0 -3.0h0M639.1 58.3h0M638.4 59.1h0M588.0 121.6h0M597.3 90.6h0M660.6 65.4h0M617.7 50.1h0M679.5 23.4h0M538.3 134.2h0M543.3 44.2h0M647.1 129.2h0M535.4 129.9h0M579.6 138.9h0M494.8 14.7h0M650.3 11.0h0M610.6 34.7h0M556.7 154.4h0M558.0 154.8h0M561.5 149.3h0M561.6 150.9h0M482.4 127.0h0M589.2 118.6h0M472.5 148.1h0M645.3 141.7h0M498.9 80.5h0M499.9 81.0h0M663.3 86.4h0M487.5 46.2h0M578.5 86.8h0M509.1 81.9h0M580.4 139.7h0M551.5 45.6h0M515.2 99.6h0M476.5 33.1h0M542.7 138.1h0M472.8 23.3h0M679.7 19.1h0M684.6 21.5h0M468.2 43.4h0M524.6 155.6h0M521.4 158.5h0M477.3 37.3h0M605.7 63.0h0M465.6 73.0h0M461.1 77.8h0M542.8 82.7h0M583.0 139.7h0M685.0 115.8h0M684.4 118.9h0M666.8 26.8h0M584.8 10.8h0M472.7 9.1h0M475.2 13.7h0M643.6 57.4h0M537.7 67.0h0M679.4 105.2h0M461.8 87.1h0M680.1 37.9h0M658.9 95.4h0M535.4 59.3h0M522.4 137.5h0M523.2 132.4h0M485.9 161.8h0M637.1 112.7h0M554.4 36.8h0M677.9 81.4h0M528.8 -2.4h0M463.2 91.0h0M553.3 155.3h0M615.9 145.6h0M562.1 151.0h0M680.6 56.2h0M548.9 80.4h0M646.2 48.5h0M619.6 147.8h0M580.7 88.6h0M573.7 144.3h0M531.9 63.3h0M673.7 153.7h0M479.3 120.2h0M562.6 4.3h0M663.9 16.2h0M464.6 61.4h0M584.7 40.3h0M662.0 43.7h0M473.1 122.9h0M539.4 32.9h0M474.6 129.7h0M607.9 111.6h0M607.0 110.7h0M538.7 6.0h0M534.0 -0.1h0M562.2 46.4h0M540.5 44.0h0M627.5 149.3h0M589.9 142.1h0M522.1 48.5h0M530.2 46.3h0M605.4 34.1h0M570.3 104.7h0M596.3 -2.4h0M663.7 30.1h0M603.5 53.6h0M607.7 8.0h0M625.3 54.5h0M511.2 -0.5h0M683.3 58.2h0M658.2 104.4h0M651.3 146.1h0M643.5 139.0h0M587.9 40.9h0M629.1 101.0h0M628.8 97.1h0M568.4 30.6h0M669.1 111.8h0M629.6 1.4h0M628.4 84.3h0M566.6 106.1h0M651.4 39.1h0M563.2 118.1h0M685.3 125.3h0M562.5 97.6h0M471.2 146.2h0M473.9 144.6h0M558.2 40.7h0M490.9 23.6h0M486.3 106.7h0M602.5 108.9h0M602.4 109.0h0M539.3 1.6h0"/><path stroke="rgb(172,172,172)" stroke-width="1.6" d="M579.2 117.2h0M525.8 40.4h0M649.7 94.8h0M589.6 103.8h0M464.3 130.7h0M468.3 126.1h0M683.6 106.9h0M586.2 95.2h0M476.1 141.2h0M648.6 145.3h0M656.5 125.8h0M585.1 140.3h0M496.0 101.9h0M520.2 20.4h0M547.3 89.2h0M493.3 54.9h0M493.4 58.1h0M528.7 39.5h0M564.5 79.9h0M571.9 78.7h0M627.8 149.1h0M638.6 55.0h0M504.5 81.4h0M510.1 10.0h0M608.6 88.1h0M521.3 2.5h0M509.9 86.0h0M537.7 0.0h0M619.9 67.1h0M523.5 125.0h0M614.8 109.8h0M498.3 60.4h0M475.0 78.6h0M521.6 -4.9h0M625.0 135.8h0M621.2 95.0h0M513.7 103.5h0M567.1 -2.7h0M679.0 108.6h0M532.0 15.5h0M466.4 95.2h0M528.9 39.6h0M535.8 134.9h0M520.5 83.4h0M601.7 49.1h0M601.5 43.0h0M647.2 25.4h0M630.7 123.8h0M532.1 21.0h0M532.6 20.0h0M636.4 -0.4h0M592.5 36.3h0M645.1 1.6h0M525.7 56.5h0M627.0 136.4h0M502.6 155.0h0M560.3 133.5h0M644.5 6.8h0M677.0 35.2h0M549.5 78.8h0M474.5 120.1h0M536.2 139.9h0M511.6 14.0h0M456.4 65.4h0M595.5 49.5h0M525.6 21.4h0M504.7 62.0h0M518.8 150.1h0M535.5 82.6h0M518.8 158.4h0M639.5 144.8h0M541.0 19.9h0M586.1 46.3h0M555.9 48.3h0M515.5 91.8h0M626.3 1.5h0M505.9 98.3h0M627.0 -3.6h0M534.6 45.5h0M540.2 47.8h0M604.4 1.9h0M470.0 26.7h0M575.2 41.2h0M592.9 156.8h0M470.7 84.4h0M559.8 111.4h0M594.7 117.1h0M511.0 85.5h0M477.0 161.4h0M681.2 120.7h0M678.2 119.1h0M532.7 40.2h0M603.3 99.7h0M600.8 102.1h0M547.6 129.4h0M535.4 121.3h0M610.4 70.0h0M550.9 57.1h0M552.6 58.4h0M597.9 83.0h0M483.9 44.1h0M512.6 17.2h0M639.6 60.0h0M663.5 53.3h0M566.4 4.1h0M658.9 61.4h0M671.1 97.1h0M493.0 44.1h0M526.2 92.6h0M538.8 134.0h0M536.6 128.9h0M592.2 58.1h0M508.9 8.7h0M518.8 98.8h0M505.9 82.6h0M624.2 17.9h0M590.0 124.4h0M650.6 6.5h0M535.3 6.4h0M681.0 83.3h0M683.4 88.3h0M497.0 23.8h0M500.6 31.3h0M520.0 33.8h0M523.3 37.0h0M559.9 151.2h0M456.2 0.1h0M590.0 120.6h0M471.0 146.9h0M527.7 41.9h0M598.7 94.7h0M647.4 162.7h0M498.9 53.3h0M642.8 142.3h0M505.7 82.0h0M579.3 135.9h0M585.1 141.1h0M495.0 58.6h0M547.8 48.9h0M470.1 105.0h0M617.0 11.4h0M638.9 12.6h0M477.1 37.7h0M542.0 138.7h0M491.8 105.1h0M645.8 97.8h0M489.5 81.1h0M482.6 41.6h0M477.4 45.9h0M614.6 155.5h0M525.7 10.6h0M585.7 12.3h0M665.5 75.6h0M641.7 56.1h0M541.1 50.5h0M678.0 38.3h0M654.0 94.6h0M583.9 127.3h0M681.7 159.9h0M638.9 111.6h0M635.0 112.2h0M636.8 113.6h0M549.3 13.1h0M665.0 110.7h0M585.5 47.7h0M462.2 91.6h0M488.0 84.5h0M672.5 24.3h0M520.3 52.5h0M677.4 131.4h0M627.2 72.5h0M566.1 27.0h0M672.8 45.9h0M542.9 80.9h0M610.2 26.3h0M557.6 54.2h0M645.8 45.7h0M647.7 48.3h0M620.6 138.1h0M631.9 12.2h0M632.2 12.4h0M609.3 131.4h0M525.4 -2.7h0M625.1 149.3h0M469.2 62.7h0M590.8 79.5h0M535.5 156.2h0M475.0 120.7h0M646.4 149.1h0M660.2 38.6h0M624.1 67.1h0M625.5 63.7h0M505.4 79.2h0M499.8 42.8h0M467.5 113.6h0M561.8 66.5h0M510.8 72.5h0M522.2 131.2h0M523.5 44.9h0M489.0 37.4h0M476.2 117.4h0M471.6 41.4h0M656.7 152.1h0M652.3 74.5h0M651.6 146.0h0M452.5 110.5h0M644.2 143.6h0M478.2 1.1h0M585.6 44.0h0M635.7 100.0h0M569.0 28.2h0M572.1 28.3h0M538.3 137.6h0M634.8 -2.0h0M569.6 103.0h0M495.9 107.4h0M498.3 104.3h0M455.7 47.1h0M464.9 44.8h0M579.1 10.0h0M558.8 41.3h0M610.0 140.7h0M597.2 21.0h0M599.0 20.7h0M571.8 30.9h0"/><path stroke="rgb(182,182,182)" stroke-width="2.0" d="M554.7 162.8h0M455.5 69.8h0M597.8 157.7h0M472.0 70.2h0M538.1 8.5h0M642.3 75.9h0M477.8 40.5h0M499.3 99.6h0M519.6 27.1h0M476.3 83.0h0M489.4 58.5h0M656.8 84.8h0M505.3 83.5h0M524.1 54.1h0M625.7 15.7h0M536.6 2.3h0M605.5 114.1h0M477.9 71.5h0M605.0 154.2h0M602.0 154.6h0M522.9 -0.9h0M628.5 47.7h0M515.1 103.0h0M573.0 157.4h0M564.8 16.9h0M523.3 132.6h0M537.4 132.9h0M528.5 39.5h0M535.3 135.8h0M667.9 24.7h0M669.4 22.5h0M598.5 47.1h0M657.4 161.1h0M559.9 134.1h0M478.3 68.5h0M529.9 129.7h0M578.3 -3.0h0M680.6 20.3h0M493.1 22.4h0M503.5 61.8h0M528.8 44.2h0M574.0 112.9h0M499.8 98.8h0M503.7 99.8h0M483.3 51.3h0M601.5 124.5h0M537.0 29.7h0M569.8 26.2h0M612.8 97.1h0M506.2 78.1h0M523.9 63.0h0M466.8 54.9h0M532.5 66.4h0M593.9 17.8h0M556.3 14.1h0M630.0 -0.9h0M505.0 100.7h0M628.0 -1.8h0M629.2 -1.3h0M626.9 1.1h0M671.8 128.4h0M630.4 63.4h0M679.8 19.3h0M515.8 19.4h0M540.9 -2.7h0M619.6 115.1h0M473.0 14.0h0M539.6 61.4h0M598.5 30.9h0M677.7 25.1h0M678.7 20.5h0M658.9 124.6h0M660.7 123.6h0M647.9 131.4h0M663.6 100.6h0M576.9 101.8h0M577.7 100.7h0M578.6 101.3h0M577.8 100.3h0M651.2 10.9h0M486.4 161.6h0M497.0 28.9h0M579.1 105.8h0M535.3 83.0h0M488.3 48.2h0M540.3 145.3h0M509.5 80.4h0M493.5 62.0h0M474.5 33.0h0M491.8 104.5h0M610.7 60.0h0M664.5 80.1h0M627.0 132.8h0M630.9 130.5h0M624.6 78.8h0M455.6 79.7h0M461.6 4.1h0M462.3 4.6h0M682.0 103.9h0M652.9 96.1h0M652.7 121.0h0M534.6 52.5h0M568.1 22.6h0M503.3 34.0h0M556.6 158.7h0M463.5 52.4h0M529.4 138.1h0M668.5 84.4h0M646.5 89.0h0M629.5 114.7h0M562.1 151.0h0M561.1 55.3h0M495.9 60.3h0M632.1 12.5h0M472.4 114.5h0M647.2 87.6h0M647.0 86.7h0M536.1 152.2h0M510.6 41.2h0M603.0 36.1h0M605.7 110.8h0M600.6 47.9h0M512.2 40.8h0M519.5 85.7h0M621.9 116.6h0M682.6 99.5h0M593.5 30.4h0M594.8 30.0h0M683.3 55.3h0M464.2 135.5h0M467.1 134.1h0M500.2 41.5h0M618.2 -2.8h0M619.7 -3.4h0M614.8 -4.8h0M476.9 117.3h0M496.7 34.4h0M645.6 115.3h0M453.5 87.6h0M617.3 114.4h0M616.9 114.2h0M650.8 151.0h0M615.8 126.1h0M477.1 3.8h0M631.8 -0.6h0M566.7 105.8h0M650.8 129.4h0M585.8 158.0h0M536.8 2.4h0M470.0 145.8h0M650.2 70.7h0M620.1 64.6h0M610.8 143.0h0M463.5 121.8h0M650.9 74.1h0M649.7 75.3h0M575.5 144.2h0M475.2 2.7h0M476.9 1.7h0M538.0 -3.0h0"/><path stroke="rgb(182,182,182)" stroke-width="2.4" d="M662.4 100.4h0M593.5 145.3h0M458.7 103.3h0M470.5 71.1h0M467.1 63.8h0M472.4 137.5h0M535.0 9.3h0M641.8 76.1h0M567.5 21.8h0M473.3 45.7h0M455.0 154.8h0M663.4 163.1h0M624.6 140.2h0M625.9 142.6h0M639.2 57.2h0M510.0 13.0h0M681.8 34.3h0M685.7 30.2h0M522.7 -1.8h0M521.6 -8.4h0M624.3 134.0h0M614.9 94.1h0M464.2 93.6h0M548.4 66.1h0M601.8 44.4h0M599.4 45.0h0M626.6 136.0h0M684.8 32.2h0M656.1 160.6h0M561.3 133.4h0M613.6 103.6h0M648.6 2.8h0M681.0 90.8h0M653.0 106.8h0M684.4 19.0h0M551.5 25.6h0M504.0 101.4h0M523.8 9.7h0M528.3 43.7h0M481.0 44.5h0M596.2 21.6h0M555.9 50.4h0M601.2 154.7h0M522.4 93.0h0M632.2 2.7h0M569.0 9.8h0M663.6 50.5h0M615.9 105.5h0M473.1 115.1h0M582.0 16.6h0M545.0 129.0h0M538.8 34.1h0M582.7 152.4h0M496.8 27.9h0M497.7 21.3h0M579.1 102.0h0M500.5 85.3h0M576.6 161.3h0M541.7 -0.7h0M468.0 89.3h0M571.7 -4.8h0M641.1 98.8h0M452.2 70.5h0M492.7 45.5h0M634.6 9.2h0M580.1 28.4h0M576.7 27.2h0M579.1 140.5h0M659.4 80.7h0M620.8 -1.6h0M520.0 36.8h0M551.9 53.8h0M586.9 119.0h0M483.0 39.6h0M644.6 142.5h0M503.5 111.4h0M500.4 107.5h0M512.8 96.1h0M516.1 100.5h0M615.2 9.0h0M617.9 10.8h0M476.8 33.0h0M631.8 141.3h0M637.4 134.5h0M523.2 155.7h0M456.6 67.1h0M477.9 34.7h0M542.8 83.7h0M623.4 134.8h0M473.4 12.6h0M641.0 58.3h0M537.0 71.0h0M535.6 50.7h0M675.3 100.6h0M459.9 86.5h0M636.7 115.7h0M578.9 33.9h0M592.3 162.8h0M664.3 106.9h0M617.6 -5.5h0M679.3 101.0h0M583.1 86.8h0M566.1 119.9h0M455.0 140.3h0M553.0 153.5h0M489.6 41.4h0M647.1 86.1h0M561.7 151.3h0M548.3 81.7h0M472.0 114.2h0M688.4 31.0h0M647.4 86.7h0M511.1 38.8h0M601.8 37.6h0M564.3 32.4h0M605.7 113.2h0M621.7 112.2h0M622.9 113.8h0M467.2 116.0h0M541.9 43.0h0M641.6 5.2h0M611.2 65.0h0M519.5 80.5h0M527.0 44.3h0M474.7 117.4h0M607.6 7.3h0M454.3 80.9h0M628.8 0.9h0M581.2 22.0h0M584.6 25.6h0M464.6 74.4h0M652.0 149.1h0M666.8 110.2h0M591.2 154.7h0M559.0 41.1h0M549.0 5.4h0M488.3 106.1h0M652.8 105.3h0M463.3 121.5h0M472.7 123.0h0M675.4 116.9h0M675.3 116.8h0M601.0 106.2h0M606.3 110.3h0M630.2 114.8h0M571.4 27.7h0M460.2 134.1h0M476.4 4.7h0M615.6 91.9h0M538.6 -0.3h0"/><path stroke="rgb(182,182,182)" stroke-width="1.6" d="M660.2 96.4h0M504.3 112.2h0M499.3 111.1h0M595.5 156.6h0M643.2 75.2h0M575.6 22.2h0M495.5 97.7h0M521.4 26.7h0M572.7 78.0h0M587.6 35.0h0M610.7 84.4h0M684.9 34.3h0M541.0 147.5h0M616.7 110.8h0M490.6 95.6h0M493.8 99.4h0M456.5 102.0h0M514.9 104.1h0M515.4 103.9h0M566.2 -0.1h0M539.1 132.4h0M538.1 133.0h0M536.5 131.1h0M527.4 40.6h0M607.4 112.0h0M520.0 34.1h0M619.2 76.9h0M599.5 46.3h0M462.4 146.1h0M664.6 87.1h0M560.0 134.2h0M475.0 65.0h0M481.6 70.1h0M647.9 6.1h0M681.8 32.9h0M543.0 129.4h0M579.5 -0.6h0M580.6 -3.0h0M533.0 137.0h0M547.1 136.1h0M524.8 19.1h0M564.8 3.7h0M559.8 24.5h0M528.3 41.5h0M571.8 111.0h0M516.0 157.7h0M486.7 44.0h0M529.0 28.0h0M642.2 59.3h0M489.5 88.2h0M570.2 29.0h0M613.2 96.0h0M480.1 151.1h0M581.2 165.3h0M577.8 158.5h0M546.2 -1.6h0M624.9 0.2h0M662.1 52.3h0M595.8 117.6h0M615.6 105.4h0M576.3 118.2h0M644.7 7.0h0M628.4 78.2h0M538.1 40.0h0M618.9 81.0h0M673.8 15.7h0M558.2 57.0h0M638.6 72.0h0M542.7 -7.2h0M616.6 113.5h0M570.5 -4.4h0M680.9 25.7h0M623.6 15.9h0M625.3 12.0h0M646.0 128.6h0M534.3 132.1h0M658.1 102.9h0M490.5 15.7h0M466.1 69.1h0M536.9 -1.2h0M534.0 1.8h0M556.5 157.8h0M518.9 88.7h0M641.3 151.6h0M556.9 107.4h0M517.3 103.2h0M461.6 1.5h0M599.9 129.1h0M599.3 133.2h0M555.0 50.7h0M491.0 63.3h0M551.6 57.8h0M502.3 83.2h0M638.7 10.5h0M476.8 34.0h0M549.0 68.4h0M622.7 1.7h0M649.8 49.0h0M543.7 82.4h0M624.5 81.9h0M577.6 155.1h0M619.8 5.8h0M591.7 0.8h0M531.1 37.1h0M653.5 121.6h0M492.8 29.9h0M585.6 129.4h0M626.7 136.8h0M631.0 135.5h0M516.4 4.6h0M560.6 157.5h0M582.6 84.1h0M516.1 50.2h0M532.3 138.8h0M535.2 139.4h0M454.6 140.2h0M452.8 137.7h0M553.6 162.5h0M680.0 59.7h0M454.4 111.7h0M472.0 83.7h0M547.4 83.1h0M574.0 94.7h0M496.0 59.9h0M590.1 16.9h0M560.8 61.4h0M465.2 62.2h0M662.0 109.8h0M476.7 127.2h0M543.0 54.6h0M527.3 62.5h0M461.1 62.3h0M518.7 86.0h0M625.2 66.6h0M638.7 2.5h0M489.8 118.3h0M527.5 7.1h0M640.4 89.7h0M620.6 -2.8h0M621.8 -3.6h0M616.9 -2.4h0M496.6 32.4h0M489.3 33.0h0M579.3 97.6h0M626.6 59.0h0M519.0 51.2h0M583.2 22.8h0M579.8 24.4h0M464.3 71.2h0M631.8 102.1h0M567.6 106.3h0M647.9 53.3h0M610.4 152.7h0M593.9 19.2h0M498.2 104.0h0M536.0 1.8h0M664.2 159.9h0M575.6 142.3h0M650.9 71.5h0M574.5 28.1h0M538.2 1.5h0"/><path stroke="rgb(192,192,192)" stroke-width="1.6" d="M656.5 63.2h0M590.3 164.3h0M580.3 99.2h0M472.9 72.1h0M624.3 62.5h0M533.0 43.2h0M563.6 12.1h0M524.8 24.9h0M656.8 96.9h0M626.2 142.6h0M570.8 78.0h0M588.4 32.4h0M478.8 97.2h0M628.8 135.8h0M624.6 139.1h0M495.2 70.4h0M522.6 130.2h0M549.9 73.4h0M605.7 117.3h0M655.8 85.5h0M639.4 3.3h0M683.6 31.4h0M617.1 98.7h0M498.3 75.9h0M578.6 -2.9h0M579.6 -2.6h0M485.6 89.9h0M537.6 71.2h0M544.9 -4.4h0M497.2 93.6h0M587.5 16.8h0M586.4 153.1h0M587.7 156.9h0M511.4 85.9h0M680.5 20.6h0M579.2 101.6h0M641.5 70.1h0M543.0 -1.5h0M540.6 58.8h0M538.9 60.6h0M599.7 26.3h0M679.9 22.6h0M537.6 47.3h0M662.6 102.2h0M662.3 101.8h0M664.8 82.1h0M578.3 102.8h0M577.3 101.8h0M515.0 89.9h0M559.4 151.0h0M509.0 84.7h0M621.4 115.4h0M478.0 34.3h0M633.0 137.5h0M527.5 12.8h0M578.1 37.6h0M502.1 31.6h0M535.3 -4.4h0M465.5 74.5h0M465.8 86.5h0M517.2 47.2h0M493.5 45.9h0M573.5 103.4h0M498.4 61.7h0M493.5 56.1h0M592.4 32.6h0M611.7 132.8h0M604.6 131.2h0M584.1 38.3h0M478.7 130.0h0M591.2 28.4h0M538.0 1.2h0M459.1 63.8h0M457.4 61.2h0M533.9 0.2h0M627.4 66.6h0M501.7 42.6h0M682.4 100.4h0M685.0 53.3h0M465.5 137.2h0M627.9 2.4h0M650.5 73.9h0M462.7 74.4h0M619.0 128.4h0M589.4 41.4h0M537.4 140.1h0M498.1 108.8h0M612.1 149.2h0M649.6 70.4h0M653.1 105.4h0M675.6 118.0h0M629.0 114.3h0M459.2 133.4h0M459.9 135.9h0M473.6 3.1h0"/><path stroke="rgb(192,192,192)" stroke-width="2.4" d="M570.6 25.7h0M460.3 78.0h0M592.7 143.4h0M683.0 103.7h0M533.1 8.3h0M644.6 76.2h0M585.3 143.7h0M587.5 36.6h0M687.3 34.0h0M502.3 35.1h0M624.3 140.3h0M586.9 35.2h0M631.4 58.1h0M583.0 26.4h0M614.8 59.8h0M493.1 96.7h0M625.7 136.3h0M571.1 154.5h0M521.9 131.9h0M624.9 124.5h0M624.7 122.9h0M679.9 29.3h0M680.2 29.3h0M535.1 131.7h0M500.2 92.6h0M573.2 114.3h0M501.8 102.6h0M577.6 12.3h0M525.9 25.4h0M490.5 90.6h0M594.0 19.3h0M548.1 -2.0h0M502.0 94.9h0M568.2 10.0h0M589.9 15.8h0M587.3 152.4h0M657.0 79.0h0M577.7 157.9h0M628.4 151.5h0M598.1 88.1h0M581.2 30.0h0M581.8 29.8h0M646.0 131.0h0M577.3 101.6h0M684.1 88.1h0M514.7 90.4h0M462.6 1.8h0M557.5 49.6h0M499.3 48.5h0M664.0 82.0h0M551.1 69.9h0M623.6 3.6h0M590.1 162.0h0M584.3 160.2h0M624.2 4.5h0M530.4 44.8h0M540.0 52.4h0M542.3 48.3h0M551.7 57.9h0M554.9 57.4h0M557.4 57.0h0M660.6 106.9h0M631.1 139.0h0M627.9 136.7h0M625.2 141.4h0M464.4 71.7h0M679.7 102.6h0M471.9 83.5h0M668.2 100.6h0M495.4 62.7h0M497.8 58.6h0M609.6 133.2h0M617.1 3.0h0M507.5 35.4h0M501.2 107.3h0M503.5 42.5h0M595.8 28.8h0M637.9 2.7h0M560.4 70.0h0M569.7 104.8h0M496.9 43.2h0M477.6 120.6h0M493.9 35.0h0M454.3 81.1h0M630.3 -0.6h0M588.0 24.3h0M464.5 120.6h0"/><path stroke="rgb(192,192,192)" stroke-width="2.0" d="M468.9 78.3h0M668.4 102.8h0M660.7 94.1h0M454.3 67.3h0M590.8 142.9h0M592.3 144.4h0M504.5 151.8h0M573.0 26.4h0M655.5 95.1h0M633.0 58.5h0M583.9 27.3h0M541.2 142.3h0M614.9 109.3h0M457.0 100.6h0M536.2 134.0h0M610.5 114.6h0M633.4 0.3h0M578.2 -2.3h0M541.3 132.0h0M499.9 92.8h0M665.7 102.7h0M523.1 20.3h0M528.1 44.7h0M502.2 99.5h0M528.5 27.9h0M556.9 49.6h0M500.8 94.9h0M549.5 39.5h0M626.5 0.5h0M626.2 2.1h0M501.4 94.1h0M510.6 85.7h0M647.2 7.9h0M649.0 6.2h0M602.8 102.5h0M603.9 102.1h0M508.0 9.7h0M678.1 22.2h0M535.7 132.0h0M664.6 86.7h0M620.9 1.8h0M579.6 106.7h0M660.7 88.3h0M602.8 133.3h0M498.1 48.3h0M535.9 80.3h0M471.0 105.8h0M477.3 37.1h0M571.2 35.1h0M572.2 27.0h0M584.1 160.7h0M454.1 75.6h0M544.3 53.3h0M679.7 105.2h0M575.0 33.2h0M517.9 82.8h0M626.4 135.4h0M616.9 111.0h0M678.4 100.4h0M638.5 57.5h0M535.0 58.8h0M574.5 99.5h0M624.8 147.7h0M592.8 29.9h0M529.9 61.5h0M475.7 115.1h0M683.8 31.0h0M647.2 86.8h0M666.4 81.8h0M600.6 36.8h0M471.6 85.4h0M685.4 50.4h0M572.7 103.3h0M495.7 30.9h0M627.0 3.3h0M651.9 72.9h0M640.6 142.9h0M589.3 21.3h0M535.5 4.1h0M574.6 144.3h0M460.4 132.6h0M618.2 88.5h0M537.0 -0.3h0"/><path stroke="rgb(202,202,202)" stroke-width="1.6" d="M461.7 73.6h0M663.4 101.3h0M668.8 101.8h0M686.9 32.9h0M590.0 34.2h0M682.5 97.6h0M470.8 97.4h0M471.4 96.1h0M607.5 114.8h0M678.1 28.0h0M682.4 31.9h0M636.7 12.9h0M502.8 97.0h0M538.7 48.6h0M587.2 152.6h0M633.0 82.4h0M603.6 102.2h0M674.7 23.4h0M663.4 105.9h0M578.6 101.3h0M658.8 84.0h0M659.6 85.5h0M665.2 82.6h0M538.2 56.9h0M536.8 57.4h0M616.0 115.2h0M624.3 144.8h0M679.7 27.0h0M683.0 30.8h0M543.6 57.4h0M619.1 126.6h0M497.5 105.7h0M588.3 20.1h0M459.3 131.7h0"/><path stroke="rgb(202,202,202)" stroke-width="2.4" d="M592.0 145.2h0M533.9 43.1h0M500.8 98.7h0M565.9 12.9h0M625.8 141.5h0M457.1 63.7h0M470.3 137.0h0M681.4 26.9h0M680.1 27.0h0M647.2 5.7h0M495.3 89.4h0M662.3 102.1h0M622.8 114.7h0M589.8 14.5h0M663.5 102.4h0M576.7 154.7h0M463.2 4.3h0M579.0 36.9h0M629.0 114.9h0M623.4 0.9h0M660.4 109.2h0M506.2 42.1h0M581.6 16.0h0M464.9 136.7h0M500.5 41.6h0M500.1 39.9h0M626.5 0.1h0M533.8 59.4h0M534.3 60.5h0"/><path stroke="rgb(202,202,202)" stroke-width="2.0" d="M592.1 142.8h0M590.3 170.0h0M590.7 165.2h0M502.8 100.1h0M593.9 148.7h0M501.8 32.9h0M657.6 93.4h0M623.3 141.6h0M586.3 37.8h0M456.7 62.7h0M492.1 95.7h0M622.1 75.0h0M681.1 90.4h0M680.1 92.6h0M524.3 20.6h0M573.6 112.6h0M577.7 13.4h0M590.6 16.5h0M578.8 8.9h0M581.5 9.7h0M553.5 55.4h0M620.8 -2.5h0M551.4 69.8h0M668.4 97.0h0M578.6 155.8h0M677.7 104.7h0M630.3 146.0h0M637.6 57.2h0M667.4 104.4h0M621.7 -0.6h0M620.9 -0.4h0M634.7 119.0h0M661.1 108.7h0M486.9 38.0h0M469.4 84.8h0M525.4 46.0h0M498.7 42.7h0M644.2 84.7h0M649.5 75.9h0M616.6 92.3h0"/><path stroke="rgb(212,212,212)" stroke-width="2.0" d="M570.0 25.2h0M637.1 11.3h0M578.5 102.3h0M675.9 104.6h0M675.4 104.9h0M569.8 99.2h0M591.2 27.5h0M473.7 112.8h0M638.6 4.8h0"/><path stroke="rgb(212,212,212)" stroke-width="1.6" d="M590.6 151.1h0M521.0 26.6h0M504.2 95.2h0M577.7 102.4h0M579.8 159.0h0M622.7 114.1h0M665.8 79.6h0M634.6 138.6h0M578.4 36.5h0M617.4 115.1h0M573.6 102.4h0M544.4 58.3h0M659.8 108.3h0M646.3 70.0h0"/><path stroke="rgb(212,212,212)" stroke-width="2.4" d="M682.5 100.8h0M668.8 103.8h0M581.1 162.2h0M617.9 117.0h0M620.2 114.6h0M574.2 99.5h0M543.7 58.0h0M485.5 37.8h0M588.8 21.5h0"/><path stroke="rgb(215,215,215)" stroke-width="1.6" d="M664.8 100.4h0M588.0 152.9h0M617.3 116.9h0M658.6 109.5h0"/><path stroke="rgb(215,215,215)" stroke-width="2.0" d="M503.2 95.4h0"/><path stroke="rgb(215,215,215)" stroke-width="2.4" d="M676.7 104.5h0M635.5 119.4h0"/></g></g>
<text x="459" y="24.1" font-size="35" fill="#fff" stroke="#fff" stroke-width="0.7">c</text>
<text x="633.9" y="140.7" font-size="13" font-weight="bold" fill="#fff" text-anchor="start" >200 nm</text>
<rect x="648.2" y="147.2" width="17.8" height="3.6" fill="#fff"/>
<rect x="1" y="176" width="227" height="146.5" fill="#cdcdcd"/>
<g clip-path="url(#clipd)"><path d="M65.6,268.5 L78.1,252.2 L87.6,245.5 L98.1,240.7 L101.0,229.2 L104.8,223.5 L106.8,214.9 L109.7,208.1 L120.2,206.3 L131.7,202.4 L147.0,202.4 L160.4,211.0 L164.2,227.3 L160.4,235.0 L159.5,246.5 L152.8,254.1 L153.8,261.8 L145.1,265.7 L137.5,269.4 L112.5,271.4 L110.6,281.0 L99.1,281.9 L87.6,281.0 L74.2,282.9 L68.5,277.1 Z" fill="#7a7a7a" filter="url(#blur3)"/></g>
<g clip-path="url(#clipd)"><g filter="url(#blur1)"><ellipse cx="150" cy="197.1" rx="4.3" ry="4.1" transform="rotate(0 150 197.1)" fill="rgb(143,143,143)"/><ellipse cx="160.6" cy="215" rx="4.1" ry="3.8" transform="rotate(0 160.6 215)" fill="rgb(141,141,141)"/><ellipse cx="86.5" cy="285" rx="4.7" ry="4.7" transform="rotate(0 86.5 285)" fill="rgb(139,139,139)"/><ellipse cx="26.9" cy="289.2" rx="4.1" ry="4.1" transform="rotate(0 26.9 289.2)" fill="rgb(139,139,139)"/><ellipse cx="164.2" cy="209" rx="7.4" ry="5.4" transform="rotate(0 164.2 209)" fill="rgb(137,137,137)"/><ellipse cx="109.5" cy="207.8" rx="8.1" ry="7.4" transform="rotate(0 109.5 207.8)" fill="rgb(122,122,122)"/><ellipse cx="135.7" cy="199.5" rx="6.8" ry="6.1" transform="rotate(0 135.7 199.5)" fill="rgb(122,122,122)"/><ellipse cx="102.4" cy="224.5" rx="6.8" ry="6.8" transform="rotate(0 102.4 224.5)" fill="rgb(122,122,122)"/><ellipse cx="66.8" cy="269.2" rx="5.4" ry="5.4" transform="rotate(0 66.8 269.2)" fill="rgb(122,122,122)"/><ellipse cx="77.3" cy="256" rx="6.8" ry="6.1" transform="rotate(0 77.3 256)" fill="rgb(122,122,122)"/><ellipse cx="85.2" cy="249.5" rx="6.8" ry="6.1" transform="rotate(0 85.2 249.5)" fill="rgb(122,122,122)"/><ellipse cx="132.5" cy="248.1" rx="5.4" ry="5.4" transform="rotate(0 132.5 248.1)" fill="rgb(122,122,122)"/><ellipse cx="145" cy="275" rx="5.4" ry="4.1" transform="rotate(0 145 275)" fill="rgb(122,122,122)"/><ellipse cx="120" cy="282" rx="5.4" ry="4.1" transform="rotate(0 120 282)" fill="rgb(122,122,122)"/><ellipse cx="92" cy="288" rx="5.4" ry="4.1" transform="rotate(0 92 288)" fill="rgb(122,122,122)"/><ellipse cx="107.1" cy="214.5" rx="6.8" ry="6.8" transform="rotate(0 107.1 214.5)" fill="rgb(118,118,118)"/><ellipse cx="155" cy="262" rx="6.8" ry="5.4" transform="rotate(0 155 262)" fill="rgb(114,114,114)"/><ellipse cx="127.3" cy="219.7" rx="5.4" ry="5.4" transform="rotate(0 127.3 219.7)" fill="rgb(105,105,105)"/><ellipse cx="158" cy="252" rx="5.4" ry="5.4" transform="rotate(0 158 252)" fill="rgb(105,105,105)"/><ellipse cx="152.3" cy="219.7" rx="5.4" ry="5.4" transform="rotate(0 152.3 219.7)" fill="rgb(97,97,97)"/><ellipse cx="76" cy="262.6" rx="6.8" ry="6.1" transform="rotate(0 76 262.6)" fill="rgb(97,97,97)"/><ellipse cx="141.7" cy="249.5" rx="5.4" ry="5.4" transform="rotate(0 141.7 249.5)" fill="rgb(97,97,97)"/><ellipse cx="18" cy="284" rx="4.1" ry="3.4" transform="rotate(0 18 284)" fill="rgb(97,97,97)"/><ellipse cx="126.2" cy="231.6" rx="6.8" ry="5.4" transform="rotate(0 126.2 231.6)" fill="rgb(88,88,88)"/><ellipse cx="77.3" cy="274.4" rx="6.8" ry="6.1" transform="rotate(0 77.3 274.4)" fill="rgb(88,88,88)"/><ellipse cx="85.2" cy="270.5" rx="6.8" ry="6.1" transform="rotate(0 85.2 270.5)" fill="rgb(88,88,88)"/><ellipse cx="124.6" cy="270.5" rx="6.8" ry="6.1" transform="rotate(0 124.6 270.5)" fill="rgb(88,88,88)"/><ellipse cx="15.1" cy="289.2" rx="5.4" ry="4.7" transform="rotate(0 15.1 289.2)" fill="rgb(88,88,88)"/><ellipse cx="67.5" cy="285" rx="5.4" ry="5.4" transform="rotate(0 67.5 285)" fill="rgb(80,80,80)"/><ellipse cx="97" cy="242.9" rx="6.8" ry="6.1" transform="rotate(0 97 242.9)" fill="rgb(80,80,80)"/><ellipse cx="112.8" cy="237.6" rx="6.8" ry="5.4" transform="rotate(0 112.8 237.6)" fill="rgb(80,80,80)"/><ellipse cx="158.3" cy="223.3" rx="5.4" ry="5.4" transform="rotate(0 158.3 223.3)" fill="rgb(80,80,80)"/><ellipse cx="10" cy="297.6" rx="6.1" ry="4.1" transform="rotate(-20 10 297.6)" fill="rgb(80,80,80)"/><ellipse cx="69.5" cy="278.4" rx="6.1" ry="6.1" transform="rotate(0 69.5 278.4)" fill="rgb(75,75,75)"/><ellipse cx="115.5" cy="205.5" rx="6.8" ry="6.8" transform="rotate(0 115.5 205.5)" fill="rgb(71,71,71)"/><ellipse cx="111.5" cy="250.8" rx="6.8" ry="6.8" transform="rotate(0 111.5 250.8)" fill="rgb(71,71,71)"/><ellipse cx="135.7" cy="235.2" rx="8.1" ry="8.1" transform="rotate(0 135.7 235.2)" fill="rgb(63,63,63)"/><ellipse cx="112.8" cy="266.5" rx="8.1" ry="8.1" transform="rotate(0 112.8 266.5)" fill="rgb(63,63,63)"/><ellipse cx="80" cy="284.3" rx="6.8" ry="4.1" transform="rotate(20 80 284.3)" fill="rgb(63,63,63)"/><ellipse cx="19" cy="294" rx="4.1" ry="3.4" transform="rotate(0 19 294)" fill="rgb(63,63,63)"/><ellipse cx="94.4" cy="267.9" rx="6.8" ry="6.8" transform="rotate(0 94.4 267.9)" fill="rgb(60,60,60)"/><ellipse cx="133.3" cy="207.8" rx="6.8" ry="6.8" transform="rotate(0 133.3 207.8)" fill="rgb(50,50,50)"/><ellipse cx="152.3" cy="205.5" rx="7.4" ry="7.4" transform="rotate(0 152.3 205.5)" fill="rgb(50,50,50)"/><ellipse cx="114.3" cy="234" rx="7.4" ry="7.4" transform="rotate(0 114.3 234)" fill="rgb(50,50,50)"/><ellipse cx="90.5" cy="258.7" rx="8.1" ry="8.1" transform="rotate(0 90.5 258.7)" fill="rgb(50,50,50)"/><ellipse cx="139.1" cy="269.2" rx="6.8" ry="6.8" transform="rotate(0 139.1 269.2)" fill="rgb(40,40,40)"/><ellipse cx="119" cy="212" rx="9.5" ry="8.8" transform="rotate(0 119 212)" fill="rgb(40,40,40)"/><ellipse cx="145.2" cy="207.8" rx="6.1" ry="6.1" transform="rotate(0 145.2 207.8)" fill="rgb(40,40,40)"/><ellipse cx="147.6" cy="229.2" rx="7.4" ry="7.4" transform="rotate(0 147.6 229.2)" fill="rgb(40,40,40)"/><ellipse cx="100.3" cy="279.7" rx="12.2" ry="8.1" transform="rotate(20 100.3 279.7)" fill="rgb(40,40,40)"/><ellipse cx="110.2" cy="236.3" rx="5.4" ry="5.4" transform="rotate(0 110.2 236.3)" fill="rgb(40,40,40)"/><ellipse cx="138" cy="217.3" rx="6.8" ry="6.8" transform="rotate(0 138 217.3)" fill="rgb(30,30,30)"/><ellipse cx="166.6" cy="225.7" rx="6.8" ry="6.8" transform="rotate(0 166.6 225.7)" fill="rgb(30,30,30)"/><ellipse cx="160.6" cy="241.1" rx="6.1" ry="8.1" transform="rotate(0 160.6 241.1)" fill="rgb(30,30,30)"/><ellipse cx="120.7" cy="253.4" rx="6.8" ry="6.8" transform="rotate(0 120.7 253.4)" fill="rgb(30,30,30)"/><ellipse cx="136.5" cy="256" rx="6.8" ry="6.8" transform="rotate(0 136.5 256)" fill="rgb(30,30,30)"/><ellipse cx="61.6" cy="273.1" rx="5.4" ry="3.0" transform="rotate(40 61.6 273.1)" fill="rgb(20,20,20)"/><ellipse cx="99.7" cy="261.3" rx="8.1" ry="8.1" transform="rotate(0 99.7 261.3)" fill="rgb(20,20,20)"/><ellipse cx="131.2" cy="262.6" rx="7.4" ry="7.4" transform="rotate(0 131.2 262.6)" fill="rgb(15,15,15)"/></g></g>
<text x="3" y="207" font-size="35" fill="#000" stroke="#000" stroke-width="0.7">d</text>
<text x="166" y="301.8" font-size="13.3" font-weight="bold" fill="#000" text-anchor="start" >100 nm</text>
<rect x="170.1" y="309.4" width="38.7" height="4.2" fill="#000"/>
<rect x="229.5" y="175.9" width="219.9" height="145" fill="#808080" filter="url(#temf)"/>
<g clip-path="url(#clipe)"><path d="M222,226 L261,206 L310,199 L337,203 L356,225 L369,259 L365,282 L352,305 L342,330 L222,330 Z" fill="#000" opacity="0.5" filter="url(#blur6)"/><ellipse cx="305" cy="288" rx="55" ry="35" fill="#000" opacity="0.28" filter="url(#blur6)"/><path d="M232,232 L262,212 L305,204 L336,208 L352,228 L362,260 L358,285 L347,305 L340,321 L232,321 Z" fill="url(#latt)" filter="url(#latblur)" opacity="0.55"/></g>
<text x="230" y="198.9" font-size="35" fill="#000" stroke="#000" stroke-width="0.7">e</text>
<text x="366.1" y="229.8" font-size="11.2" font-weight="normal" fill="#fff" text-anchor="start" >WP (011)</text>
<text x="366.1" y="248.5" font-size="11.2" font-weight="normal" fill="#fff" text-anchor="start" >d = 0.288 nm</text>
<path d="M340,265.5 H351 M348,263.5 L351,265.5 L348,267.5 M371,267 H360 M363,265 L360,267 L363,269 M353.6,270.8 L356,260.5 M357,270.8 L359.4,260.5" stroke="#fff" stroke-width="0.9" fill="none"/>
<text x="233.2" y="304.1" font-size="15.4" font-weight="normal" fill="#fff" text-anchor="start" >2 nm</text>
<rect x="239.1" y="312" width="13.7" height="2.9" fill="#fff"/>
<rect x="456" y="171.9" width="228" height="148.5" fill="#000"/>
<g clip-path="url(#clipf)"><circle cx="563" cy="247.5" r="100" fill="url(#glow)"/><path d="M552.8,243.8 L684,196 L684,286 L552.8,249.3 Z" fill="#000"/></g>
<circle cx="557.5" cy="213" r="0.7" fill="#aaa"/>
<circle cx="574" cy="205" r="0.7" fill="#aaa"/>
<circle cx="600" cy="218" r="0.7" fill="#aaa"/>
<circle cx="530" cy="232" r="0.7" fill="#aaa"/>
<circle cx="540" cy="280" r="0.7" fill="#aaa"/>
<circle cx="598" cy="268" r="0.7" fill="#aaa"/>
<circle cx="580" cy="290" r="0.7" fill="#aaa"/>
<circle cx="520" cy="250" r="0.7" fill="#aaa"/>
<circle cx="613" cy="283" r="0.7" fill="#aaa"/>
<circle cx="548" cy="215" r="0.7" fill="#aaa"/>
<text x="461.4" y="202.6" font-size="35" fill="#fdf0f0" stroke="#fdf0f0" stroke-width="0.7">f</text>
<text x="571.7" y="212.5" font-size="7.2" font-weight="bold" fill="#35c4d4" text-anchor="middle" >WP</text>
<text x="571.7" y="220.5" font-size="7.0" font-weight="bold" fill="#35c4d4" text-anchor="middle" letter-spacing="-0.25">(211)</text>
<text x="593.3" y="226.4" font-size="7.2" font-weight="bold" fill="#e38426" text-anchor="middle" >WP</text>
<text x="593.3" y="234.4" font-size="7.0" font-weight="bold" fill="#e38426" text-anchor="middle" letter-spacing="-0.25">(103)</text>
<text x="535.5" y="245.5" font-size="7.2" font-weight="bold" fill="#e6e6e6" text-anchor="middle" >WP</text>
<text x="535.5" y="253.5" font-size="7.0" font-weight="bold" fill="#e6e6e6" text-anchor="middle" letter-spacing="-0.25">(011)</text>
<text x="533.4" y="263.3" font-size="7.2" font-weight="bold" fill="#e0dc20" text-anchor="middle" >WP</text>
<text x="533.4" y="271.3" font-size="7.0" font-weight="bold" fill="#e0dc20" text-anchor="middle" letter-spacing="-0.25">(202)</text>
<text x="568.1" y="275.8" font-size="7.2" font-weight="bold" fill="#e6e6e6" text-anchor="middle" >WP</text>
<text x="568.1" y="283.8" font-size="7.0" font-weight="bold" fill="#e6e6e6" text-anchor="middle" letter-spacing="-0.25">(011)</text>
<rect x="569.6" y="224.2" width="3.9" height="3.9" fill="none" stroke="#35c4d4" stroke-width="0.8"/>
<circle cx="581.2" cy="230.3" r="1.7" fill="none" stroke="#e38426" stroke-width="0.8"/>
<circle cx="547.6" cy="247.3" r="1.6" fill="none" stroke="#ddd" stroke-width="0.8"/>
<circle cx="567.8" cy="265.6" r="1.6" fill="none" stroke="#ddd" stroke-width="0.8"/>
<path d="M547.1,260.8 L549.6,265.2 L544.6,265.2 Z" fill="none" stroke="#e0dc20" stroke-width="0.8"/>
<text x="463.8" y="311.1" font-size="12.6" font-weight="normal" fill="#fff" text-anchor="start" >10 1/nm</text>
<rect x="463.7" y="315.7" width="46.3" height="2.3" fill="#fff"/>
<path d="M22.60,427.00 L40.00,425.00 L60.00,423.00 L74.00,421.00 L76.00,421.50 L78.20,425.60 L79.50,420.00 L80.40,394.30 L81.20,420.00 L82.30,427.50 L90.00,427.50 L100.00,427.30 L107.00,426.80 L108.10,424.70 L109.00,427.00 L115.00,426.80 L115.60,424.50 L116.50,427.00 L125.00,427.00 L139.40,425.60 L140.70,426.00 L142.00,428.00 L143.50,433.10 L145.00,432.00 L146.00,400.00 L146.60,365.50 L147.20,400.00 L148.00,433.00 L149.00,435.00 L152.00,435.00 L153.20,432.00 L154.00,435.00 L155.50,434.00 L156.50,432.00 L157.50,436.00 L159.30,442.30 L171.00,442.80 L171.20,441.50 L171.50,443.00 L187.00,444.80 L187.20,443.00 L187.50,445.00 L208.70,445.90 L211.00,447.00 L212.00,445.00 L212.80,434.00 L213.50,445.00 L214.80,452.00 L222.50,453.40" fill="none" stroke="#e8383d" stroke-width="1.2" stroke-linejoin="round"/>
<rect x="22.5" y="331.4" width="200.3" height="135.60000000000002" fill="none" stroke="#222" stroke-width="1.5"/>
<path d="M22.50,467 v2.2 M62.56,467 v2.2 M102.62,467 v2.2 M142.68,467 v2.2 M182.74,467 v2.2 M222.80,467 v2.2 M42.53,467 v1.54 M82.59,467 v1.54 M122.65,467 v1.54 M162.71,467 v1.54 M202.77,467 v1.54 " stroke="#222" stroke-width="1.1" fill="none"/>
<text x="22.5" y="481" font-size="10.2" font-weight="bold" fill="#111" text-anchor="middle" >750</text>
<text x="62.6" y="481" font-size="10.2" font-weight="bold" fill="#111" text-anchor="middle" >600</text>
<text x="102.6" y="481" font-size="10.2" font-weight="bold" fill="#111" text-anchor="middle" >450</text>
<text x="142.7" y="481" font-size="10.2" font-weight="bold" fill="#111" text-anchor="middle" >300</text>
<text x="182.7" y="481" font-size="10.2" font-weight="bold" fill="#111" text-anchor="middle" >150</text>
<text x="222.8" y="481" font-size="10.2" font-weight="bold" fill="#111" text-anchor="middle" >0</text>
<text x="115.5" y="498" font-size="13.9" font-weight="bold" fill="#111" text-anchor="middle" >Binding Energy (eV)</text>
<text x="29" y="348.8" font-size="10.3" font-weight="bold" fill="#111" text-anchor="start" >Survey</text>
<text x="70.7" y="388.2" font-size="11" font-weight="bold" fill="#111" text-anchor="start" >O 1s</text>
<text x="101.9" y="417.3" font-size="11" font-weight="bold" fill="#111" text-anchor="start" >W 4p</text>
<text x="138" y="360.5" font-size="11" font-weight="bold" fill="#111" text-anchor="start" >C 1s</text>
<text x="150.4" y="425.1" font-size="11" font-weight="bold" fill="#111" text-anchor="start" >W 4d</text>
<text x="177.6" y="438.7" font-size="11" font-weight="bold" fill="#111" text-anchor="start" >P 2p</text>
<text x="199.8" y="428.4" font-size="11" font-weight="bold" fill="#111" text-anchor="start" >W 4f</text>
<text x="163.8" y="459.7" font-size="11" font-weight="bold" fill="#111" text-anchor="start" >P 2s</text>
<text transform="translate(16.3,399.3) rotate(-90)" font-size="14.3" font-weight="bold" fill="#111" text-anchor="middle">Intensity (a.u.)</text>
<text x="1.5" y="344.3" font-size="35" fill="#000" stroke="#000" stroke-width="0.7">g</text>
<path d="M253.00,444.34 L253.50,444.32 L254.00,444.29 L254.50,444.27 L255.00,444.24 L255.50,444.21 L256.00,444.17 L256.50,444.14 L257.00,444.10 L257.50,444.06 L258.00,444.02 L258.50,443.97 L259.00,443.92 L259.50,443.87 L260.00,443.82 L260.50,443.76 L261.00,443.70 L261.50,443.63 L262.00,443.56 L262.50,443.49 L263.00,443.42 L263.50,443.33 L264.00,443.25 L264.50,443.16 L265.00,443.07 L265.50,442.97 L266.00,442.86 L266.50,442.75 L267.00,442.64 L267.50,442.51 L268.00,442.39 L268.50,442.25 L269.00,442.11 L269.50,441.96 L270.00,441.80 L270.50,441.63 L271.00,441.46 L271.50,441.27 L272.00,441.08 L272.50,440.87 L273.00,440.66 L273.50,440.43 L274.00,440.19 L274.50,439.94 L275.00,439.67 L275.50,439.39 L276.00,439.10 L276.50,438.79 L277.00,438.47 L277.50,438.12 L278.00,437.76 L278.50,437.39 L279.00,436.99 L279.50,436.57 L280.00,436.13 L280.50,435.68 L281.00,435.19 L281.50,434.69 L282.00,434.16 L282.50,433.60 L283.00,433.02 L283.50,432.41 L284.00,431.77 L284.50,431.11 L285.00,430.41 L285.50,429.69 L286.00,428.93 L286.50,428.15 L287.00,427.33 L287.50,426.48 L288.00,425.59 L288.50,424.68 L289.00,423.73 L289.50,422.76 L290.00,421.75 L290.50,420.71 L291.00,419.65 L291.50,418.57 L292.00,417.46 L292.50,416.33 L293.00,415.19 L293.50,414.04 L294.00,412.89 L294.50,411.74 L295.00,410.61 L295.50,409.49 L296.00,408.39 L296.50,407.33 L297.00,406.32 L297.50,405.37 L298.00,404.48 L298.50,403.67 L299.00,402.95 L299.50,402.32 L300.00,401.80 L300.50,401.40 L301.00,401.11 L301.50,400.95 L302.00,400.92 L302.50,401.01 L303.00,401.23 L303.50,401.58 L304.00,402.05 L304.50,402.63 L305.00,403.31 L305.50,404.10 L306.00,404.97 L306.50,405.92 L307.00,406.93 L307.50,408.01 L308.00,409.12 L308.50,410.28 L309.00,411.46 L309.50,412.66 L310.00,413.87 L310.50,415.08 L311.00,416.29 L311.50,417.49 L312.00,418.68 L312.50,419.85 L313.00,420.99 L313.50,422.12 L314.00,423.21 L314.50,424.28 L315.00,425.32 L315.50,426.33 L316.00,427.30 L316.50,428.25 L317.00,429.16 L317.50,430.04 L318.00,430.89 L318.50,431.70 L319.00,432.49 L319.50,433.24 L320.00,433.97 L320.50,434.67 L321.00,435.34 L321.50,435.98 L322.00,436.60 L322.50,437.19 L323.00,437.76 L323.50,438.30 L324.00,438.82 L324.50,439.32 L325.00,439.80 L325.50,440.25 L326.00,440.69 L326.50,441.11 L327.00,441.52 L327.50,441.90 L328.00,442.27 L328.50,442.63 L329.00,442.97 L329.50,443.29 L330.00,443.61 L330.50,443.91 L331.00,444.19 L331.50,444.47 L332.00,444.74 L332.50,444.99 L333.00,445.24 L333.50,445.48 L334.00,445.70 L334.50,445.92 L335.00,446.13 L335.50,446.34 L336.00,446.53 L336.50,446.72 L337.00,446.91 L337.50,447.08 L338.00,447.26 L338.50,447.42 L339.00,447.58 L339.50,447.74 L340.00,447.89 L340.50,448.03 L341.00,448.17 L341.50,448.31 L342.00,448.44 L342.50,448.57 L343.00,448.70 L343.50,448.82 L344.00,448.94 L344.50,449.06 L345.00,449.17 L345.50,449.28 L346.00,449.39 L346.50,449.49 L347.00,449.59 L347.50,449.69 L348.00,449.79 L348.50,449.88 L349.00,449.97 L349.50,450.06 L350.00,450.15 L350.50,450.24 L351.00,450.32 L351.50,450.40 L352.00,450.48 L352.50,450.56 L353.00,450.64 L353.50,450.71 L354.00,450.79 L354.50,450.86 L355.00,450.93 L355.50,451.00 L356.00,451.07 L356.50,451.14 L357.00,451.20 L357.50,451.27 L358.00,451.33 L358.50,451.39 L359.00,451.45 L359.50,451.51 L360.00,451.57 L360.50,451.63 L361.00,451.68 L361.50,451.74 L362.00,451.79 L362.50,451.85 L363.00,451.90 L363.50,451.95 L364.00,452.00 L364.50,452.05 L365.00,452.10 L365.50,452.15 L366.00,452.20 L366.50,452.24 L367.00,452.29 L367.50,452.34 L368.00,452.38 L368.50,452.42 L369.00,452.47 L369.50,452.51 L370.00,452.55 L370.50,452.59 L371.00,452.64 L371.50,452.68 L372.00,452.72 L372.50,452.75 L373.00,452.79 L373.50,452.83 L374.00,452.87 L374.50,452.91 L375.00,452.94 L375.50,452.98 L376.00,453.01 L376.50,453.05 L377.00,453.08 L377.50,453.12 L378.00,453.15 L378.50,453.18 L379.00,453.22 L379.50,453.25 L380.00,453.28 L380.50,453.31 L381.00,453.34 L381.50,453.37 L382.00,453.40 L382.50,453.43 L383.00,453.46 L383.50,453.49 L384.00,453.52 L384.50,453.55 L385.00,453.58 L385.50,453.60 L386.00,453.63 L386.50,453.66 L387.00,453.68 L387.50,453.71 L388.00,453.74 L388.50,453.76 L389.00,453.79 L389.50,453.81 L390.00,453.84 L390.50,453.86 L391.00,453.89 L391.50,453.91 L392.00,453.93 L392.50,453.96 L393.00,453.98 L393.50,454.00 L394.00,454.02 L394.50,454.05 L395.00,454.07 L395.50,454.09 L396.00,454.11 L396.50,454.13 L397.00,454.15 L397.50,454.17 L398.00,454.20 L398.50,454.22 L399.00,454.24 L399.50,454.25 L400.00,454.27 L400.50,454.29 L401.00,454.31 L401.50,454.33 L402.00,454.35 L402.50,454.37 L403.00,454.39 L403.50,454.40 L404.00,454.42 L404.50,454.44 L405.00,454.46 L405.50,454.47 L406.00,454.49 L406.50,454.51 L407.00,454.52 L407.50,454.54 L408.00,454.56 L408.50,454.57 L409.00,454.59 L409.50,454.60 L410.00,454.62 L410.50,454.63 L411.00,454.65 L411.50,454.66 L412.00,454.68 L412.50,454.69 L413.00,454.71 L413.50,454.72 L414.00,454.73 L414.50,454.75 L415.00,454.76 L415.50,454.77 L416.00,454.79 L416.50,454.80 L417.00,454.81 L417.50,454.82 L418.00,454.84 L418.50,454.85 L419.00,454.86 L419.50,454.87 L420.00,454.88 L420.50,454.90 L421.00,454.91 L421.50,454.92 L422.00,454.93 L422.50,454.94 L423.00,454.95 L423.50,454.96 L424.00,454.97 L424.50,454.98 L425.00,454.99 L425.50,455.00 L426.00,455.01 L426.50,455.02 L427.00,455.03 L427.50,455.04 L428.00,455.05 L428.50,455.06 L429.00,455.07 L429.50,455.08 L430.00,455.08 L430.50,455.09 L431.00,455.10 L431.50,455.11 L432.00,455.12 L432.50,455.13 L433.00,455.13 L433.50,455.14 L434.00,455.15 L434.50,455.16 L435.00,455.16 L435.50,455.17 L436.00,455.18 L436.50,455.18 L437.00,455.19 L437.50,455.20 L438.00,455.20 L438.50,455.21 L439.00,455.21 L439.50,455.22 L440.00,455.23 L440.50,455.23 L441.00,455.24 L441.50,455.24 L442.00,455.25 L442.50,455.25 L443.00,455.26 L443.50,455.26 L444.00,455.27 L444.50,455.27 L445.00,455.28 L445.50,455.28 L446.00,455.28 L446.50,455.29 L447.00,455.29 L447.50,455.30 L448.00,455.30 L448.50,455.30 L449.00,455.31 L449.50,455.31 L450.00,455.31 L450.50,455.32 L451.00,455.32 L451.50,455.32" fill="none" stroke="#22228a" stroke-width="1.3"/>
<path d="M253.00,445.98 L253.50,446.00 L254.00,446.02 L254.50,446.04 L255.00,446.06 L255.50,446.08 L256.00,446.10 L256.50,446.12 L257.00,446.14 L257.50,446.16 L258.00,446.17 L258.50,446.19 L259.00,446.20 L259.50,446.22 L260.00,446.23 L260.50,446.25 L261.00,446.26 L261.50,446.27 L262.00,446.29 L262.50,446.30 L263.00,446.31 L263.50,446.32 L264.00,446.33 L264.50,446.34 L265.00,446.35 L265.50,446.36 L266.00,446.36 L266.50,446.37 L267.00,446.37 L267.50,446.38 L268.00,446.38 L268.50,446.39 L269.00,446.39 L269.50,446.39 L270.00,446.39 L270.50,446.39 L271.00,446.39 L271.50,446.39 L272.00,446.39 L272.50,446.38 L273.00,446.38 L273.50,446.37 L274.00,446.36 L274.50,446.36 L275.00,446.35 L275.50,446.34 L276.00,446.32 L276.50,446.31 L277.00,446.30 L277.50,446.28 L278.00,446.27 L278.50,446.25 L279.00,446.23 L279.50,446.21 L280.00,446.19 L280.50,446.16 L281.00,446.14 L281.50,446.11 L282.00,446.08 L282.50,446.05 L283.00,446.02 L283.50,445.99 L284.00,445.95 L284.50,445.91 L285.00,445.87 L285.50,445.83 L286.00,445.79 L286.50,445.74 L287.00,445.70 L287.50,445.64 L288.00,445.59 L288.50,445.54 L289.00,445.48 L289.50,445.42 L290.00,445.35 L290.50,445.29 L291.00,445.22 L291.50,445.14 L292.00,445.07 L292.50,444.99 L293.00,444.90 L293.50,444.82 L294.00,444.73 L294.50,444.63 L295.00,444.53 L295.50,444.43 L296.00,444.32 L296.50,444.21 L297.00,444.09 L297.50,443.96 L298.00,443.84 L298.50,443.70 L299.00,443.56 L299.50,443.41 L300.00,443.26 L300.50,443.10 L301.00,442.93 L301.50,442.75 L302.00,442.57 L302.50,442.38 L303.00,442.17 L303.50,441.96 L304.00,441.74 L304.50,441.51 L305.00,441.27 L305.50,441.01 L306.00,440.75 L306.50,440.47 L307.00,440.17 L307.50,439.86 L308.00,439.54 L308.50,439.20 L309.00,438.84 L309.50,438.47 L310.00,438.08 L310.50,437.67 L311.00,437.23 L311.50,436.78 L312.00,436.30 L312.50,435.80 L313.00,435.27 L313.50,434.72 L314.00,434.14 L314.50,433.53 L315.00,432.89 L315.50,432.22 L316.00,431.52 L316.50,430.78 L317.00,430.01 L317.50,429.20 L318.00,428.35 L318.50,427.46 L319.00,426.53 L319.50,425.56 L320.00,424.55 L320.50,423.49 L321.00,422.38 L321.50,421.23 L322.00,420.03 L322.50,418.79 L323.00,417.49 L323.50,416.15 L324.00,414.76 L324.50,413.31 L325.00,411.83 L325.50,410.30 L326.00,408.72 L326.50,407.11 L327.00,405.46 L327.50,403.78 L328.00,402.07 L328.50,400.34 L329.00,398.60 L329.50,396.86 L330.00,395.13 L330.50,393.42 L331.00,391.74 L331.50,390.10 L332.00,388.53 L332.50,387.03 L333.00,385.63 L333.50,384.33 L334.00,383.16 L334.50,382.13 L335.00,381.26 L335.50,380.55 L336.00,380.02 L336.50,379.67 L337.00,379.52 L337.50,379.56 L338.00,379.80 L338.50,380.23 L339.00,380.84 L339.50,381.63 L340.00,382.59 L340.50,383.69 L341.00,384.94 L341.50,386.30 L342.00,387.77 L342.50,389.33 L343.00,390.97 L343.50,392.66 L344.00,394.39 L344.50,396.16 L345.00,397.94 L345.50,399.73 L346.00,401.51 L346.50,403.28 L347.00,405.03 L347.50,406.75 L348.00,408.44 L348.50,410.10 L349.00,411.71 L349.50,413.28 L350.00,414.80 L350.50,416.28 L351.00,417.71 L351.50,419.09 L352.00,420.42 L352.50,421.71 L353.00,422.94 L353.50,424.13 L354.00,425.27 L354.50,426.37 L355.00,427.42 L355.50,428.43 L356.00,429.40 L356.50,430.32 L357.00,431.21 L357.50,432.06 L358.00,432.87 L358.50,433.65 L359.00,434.39 L359.50,435.10 L360.00,435.78 L360.50,436.43 L361.00,437.06 L361.50,437.65 L362.00,438.22 L362.50,438.76 L363.00,439.28 L363.50,439.78 L364.00,440.25 L364.50,440.71 L365.00,441.14 L365.50,441.56 L366.00,441.96 L366.50,442.34 L367.00,442.71 L367.50,443.06 L368.00,443.40 L368.50,443.72 L369.00,444.04 L369.50,444.33 L370.00,444.62 L370.50,444.90 L371.00,445.16 L371.50,445.42 L372.00,445.67 L372.50,445.91 L373.00,446.13 L373.50,446.36 L374.00,446.57 L374.50,446.78 L375.00,446.97 L375.50,447.17 L376.00,447.35 L376.50,447.53 L377.00,447.71 L377.50,447.88 L378.00,448.04 L378.50,448.20 L379.00,448.35 L379.50,448.50 L380.00,448.65 L380.50,448.79 L381.00,448.93 L381.50,449.06 L382.00,449.19 L382.50,449.31 L383.00,449.44 L383.50,449.56 L384.00,449.67 L384.50,449.78 L385.00,449.89 L385.50,450.00 L386.00,450.11 L386.50,450.21 L387.00,450.31 L387.50,450.40 L388.00,450.50 L388.50,450.59 L389.00,450.68 L389.50,450.77 L390.00,450.85 L390.50,450.94 L391.00,451.02 L391.50,451.10 L392.00,451.18 L392.50,451.26 L393.00,451.33 L393.50,451.40 L394.00,451.47 L394.50,451.54 L395.00,451.61 L395.50,451.68 L396.00,451.75 L396.50,451.81 L397.00,451.87 L397.50,451.93 L398.00,452.00 L398.50,452.05 L399.00,452.11 L399.50,452.17 L400.00,452.22 L400.50,452.28 L401.00,452.33 L401.50,452.39 L402.00,452.44 L402.50,452.49 L403.00,452.54 L403.50,452.58 L404.00,452.63 L404.50,452.68 L405.00,452.72 L405.50,452.77 L406.00,452.81 L406.50,452.86 L407.00,452.90 L407.50,452.94 L408.00,452.98 L408.50,453.02 L409.00,453.06 L409.50,453.10 L410.00,453.14 L410.50,453.18 L411.00,453.21 L411.50,453.25 L412.00,453.29 L412.50,453.32 L413.00,453.35 L413.50,453.39 L414.00,453.42 L414.50,453.45 L415.00,453.49 L415.50,453.52 L416.00,453.55 L416.50,453.58 L417.00,453.61 L417.50,453.64 L418.00,453.67 L418.50,453.69 L419.00,453.72 L419.50,453.75 L420.00,453.78 L420.50,453.80 L421.00,453.83 L421.50,453.85 L422.00,453.88 L422.50,453.90 L423.00,453.93 L423.50,453.95 L424.00,453.98 L424.50,454.00 L425.00,454.02 L425.50,454.04 L426.00,454.07 L426.50,454.09 L427.00,454.11 L427.50,454.13 L428.00,454.15 L428.50,454.17 L429.00,454.19 L429.50,454.21 L430.00,454.23 L430.50,454.25 L431.00,454.27 L431.50,454.28 L432.00,454.30 L432.50,454.32 L433.00,454.34 L433.50,454.35 L434.00,454.37 L434.50,454.39 L435.00,454.40 L435.50,454.42 L436.00,454.43 L436.50,454.45 L437.00,454.46 L437.50,454.48 L438.00,454.49 L438.50,454.51 L439.00,454.52 L439.50,454.53 L440.00,454.55 L440.50,454.56 L441.00,454.57 L441.50,454.59 L442.00,454.60 L442.50,454.61 L443.00,454.62 L443.50,454.63 L444.00,454.65 L444.50,454.66 L445.00,454.67 L445.50,454.68 L446.00,454.69 L446.50,454.70 L447.00,454.71 L447.50,454.72 L448.00,454.73 L448.50,454.74 L449.00,454.75 L449.50,454.76 L450.00,454.76 L450.50,454.77 L451.00,454.78 L451.50,454.79" fill="none" stroke="#e030e0" stroke-width="1.3"/>
<path d="M253.00,447.49 L253.50,447.53 L254.00,447.57 L254.50,447.61 L255.00,447.65 L255.50,447.69 L256.00,447.73 L256.50,447.76 L257.00,447.80 L257.50,447.84 L258.00,447.88 L258.50,447.92 L259.00,447.95 L259.50,447.99 L260.00,448.03 L260.50,448.07 L261.00,448.10 L261.50,448.14 L262.00,448.18 L262.50,448.22 L263.00,448.25 L263.50,448.29 L264.00,448.33 L264.50,448.36 L265.00,448.40 L265.50,448.44 L266.00,448.47 L266.50,448.51 L267.00,448.54 L267.50,448.58 L268.00,448.62 L268.50,448.65 L269.00,448.69 L269.50,448.72 L270.00,448.76 L270.50,448.79 L271.00,448.83 L271.50,448.86 L272.00,448.90 L272.50,448.93 L273.00,448.96 L273.50,449.00 L274.00,449.03 L274.50,449.07 L275.00,449.10 L275.50,449.13 L276.00,449.17 L276.50,449.20 L277.00,449.23 L277.50,449.27 L278.00,449.30 L278.50,449.33 L279.00,449.37 L279.50,449.40 L280.00,449.43 L280.50,449.46 L281.00,449.50 L281.50,449.53 L282.00,449.56 L282.50,449.59 L283.00,449.62 L283.50,449.65 L284.00,449.69 L284.50,449.72 L285.00,449.75 L285.50,449.78 L286.00,449.81 L286.50,449.84 L287.00,449.87 L287.50,449.90 L288.00,449.93 L288.50,449.96 L289.00,449.99 L289.50,450.02 L290.00,450.05 L290.50,450.08 L291.00,450.11 L291.50,450.14 L292.00,450.16 L292.50,450.19 L293.00,450.22 L293.50,450.25 L294.00,450.28 L294.50,450.30 L295.00,450.33 L295.50,450.36 L296.00,450.39 L296.50,450.41 L297.00,450.44 L297.50,450.47 L298.00,450.49 L298.50,450.52 L299.00,450.55 L299.50,450.57 L300.00,450.60 L300.50,450.62 L301.00,450.65 L301.50,450.67 L302.00,450.70 L302.50,450.72 L303.00,450.75 L303.50,450.77 L304.00,450.80 L304.50,450.82 L305.00,450.84 L305.50,450.87 L306.00,450.89 L306.50,450.91 L307.00,450.93 L307.50,450.96 L308.00,450.98 L308.50,451.00 L309.00,451.02 L309.50,451.04 L310.00,451.06 L310.50,451.08 L311.00,451.10 L311.50,451.12 L312.00,451.14 L312.50,451.16 L313.00,451.18 L313.50,451.20 L314.00,451.22 L314.50,451.23 L315.00,451.25 L315.50,451.27 L316.00,451.29 L316.50,451.30 L317.00,451.32 L317.50,451.33 L318.00,451.35 L318.50,451.36 L319.00,451.38 L319.50,451.39 L320.00,451.41 L320.50,451.42 L321.00,451.43 L321.50,451.44 L322.00,451.45 L322.50,451.46 L323.00,451.47 L323.50,451.48 L324.00,451.49 L324.50,451.50 L325.00,451.51 L325.50,451.52 L326.00,451.52 L326.50,451.53 L327.00,451.53 L327.50,451.54 L328.00,451.54 L328.50,451.54 L329.00,451.55 L329.50,451.55 L330.00,451.55 L330.50,451.55 L331.00,451.54 L331.50,451.54 L332.00,451.54 L332.50,451.53 L333.00,451.53 L333.50,451.52 L334.00,451.51 L334.50,451.50 L335.00,451.49 L335.50,451.48 L336.00,451.46 L336.50,451.45 L337.00,451.43 L337.50,451.41 L338.00,451.39 L338.50,451.36 L339.00,451.34 L339.50,451.31 L340.00,451.28 L340.50,451.25 L341.00,451.21 L341.50,451.18 L342.00,451.14 L342.50,451.09 L343.00,451.05 L343.50,451.00 L344.00,450.94 L344.50,450.89 L345.00,450.83 L345.50,450.76 L346.00,450.69 L346.50,450.62 L347.00,450.54 L347.50,450.45 L348.00,450.36 L348.50,450.26 L349.00,450.16 L349.50,450.04 L350.00,449.92 L350.50,449.79 L351.00,449.66 L351.50,449.51 L352.00,449.35 L352.50,449.18 L353.00,448.99 L353.50,448.79 L354.00,448.58 L354.50,448.35 L355.00,448.10 L355.50,447.83 L356.00,447.53 L356.50,447.21 L357.00,446.86 L357.50,446.48 L358.00,446.07 L358.50,445.61 L359.00,445.11 L359.50,444.56 L360.00,443.96 L360.50,443.29 L361.00,442.56 L361.50,441.75 L362.00,440.86 L362.50,439.87 L363.00,438.79 L363.50,437.59 L364.00,436.28 L364.50,434.84 L365.00,433.26 L365.50,431.54 L366.00,429.66 L366.50,427.62 L367.00,425.42 L367.50,423.06 L368.00,420.55 L368.50,417.91 L369.00,415.17 L369.50,412.37 L370.00,409.57 L370.50,406.85 L371.00,404.29 L371.50,402.02 L372.00,400.14 L372.50,398.74 L373.00,397.93 L373.50,397.76 L374.00,398.22 L374.50,399.31 L375.00,400.94 L375.50,403.02 L376.00,405.45 L376.50,408.12 L377.00,410.92 L377.50,413.76 L378.00,416.57 L378.50,419.31 L379.00,421.93 L379.50,424.41 L380.00,426.74 L380.50,428.91 L381.00,430.91 L381.50,432.76 L382.00,434.46 L382.50,436.02 L383.00,437.44 L383.50,438.73 L384.00,439.91 L384.50,440.99 L385.00,441.97 L385.50,442.85 L386.00,443.66 L386.50,444.40 L387.00,445.07 L387.50,445.69 L388.00,446.25 L388.50,446.76 L389.00,447.24 L389.50,447.67 L390.00,448.07 L390.50,448.44 L391.00,448.78 L391.50,449.10 L392.00,449.39 L392.50,449.67 L393.00,449.92 L393.50,450.16 L394.00,450.39 L394.50,450.60 L395.00,450.80 L395.50,450.98 L396.00,451.16 L396.50,451.32 L397.00,451.48 L397.50,451.63 L398.00,451.77 L398.50,451.91 L399.00,452.03 L399.50,452.16 L400.00,452.27 L400.50,452.38 L401.00,452.49 L401.50,452.59 L402.00,452.68 L402.50,452.77 L403.00,452.86 L403.50,452.94 L404.00,453.02 L404.50,453.10 L405.00,453.18 L405.50,453.25 L406.00,453.32 L406.50,453.38 L407.00,453.44 L407.50,453.51 L408.00,453.56 L408.50,453.62 L409.00,453.67 L409.50,453.73 L410.00,453.78 L410.50,453.83 L411.00,453.87 L411.50,453.92 L412.00,453.96 L412.50,454.01 L413.00,454.05 L413.50,454.09 L414.00,454.13 L414.50,454.17 L415.00,454.20 L415.50,454.24 L416.00,454.27 L416.50,454.31 L417.00,454.34 L417.50,454.37 L418.00,454.40 L418.50,454.43 L419.00,454.46 L419.50,454.49 L420.00,454.52 L420.50,454.54 L421.00,454.57 L421.50,454.59 L422.00,454.62 L422.50,454.64 L423.00,454.67 L423.50,454.69 L424.00,454.71 L424.50,454.73 L425.00,454.75 L425.50,454.77 L426.00,454.79 L426.50,454.81 L427.00,454.83 L427.50,454.85 L428.00,454.87 L428.50,454.89 L429.00,454.90 L429.50,454.92 L430.00,454.94 L430.50,454.95 L431.00,454.97 L431.50,454.98 L432.00,455.00 L432.50,455.01 L433.00,455.03 L433.50,455.04 L434.00,455.05 L434.50,455.07 L435.00,455.08 L435.50,455.09 L436.00,455.10 L436.50,455.11 L437.00,455.13 L437.50,455.14 L438.00,455.15 L438.50,455.16 L439.00,455.17 L439.50,455.18 L440.00,455.19 L440.50,455.20 L441.00,455.21 L441.50,455.22 L442.00,455.22 L442.50,455.23 L443.00,455.24 L443.50,455.25 L444.00,455.26 L444.50,455.26 L445.00,455.27 L445.50,455.28 L446.00,455.29 L446.50,455.29 L447.00,455.30 L447.50,455.31 L448.00,455.31 L448.50,455.32 L449.00,455.32 L449.50,455.33 L450.00,455.33 L450.50,455.34 L451.00,455.34 L451.50,455.35" fill="none" stroke="#2a9a2a" stroke-width="1.3"/>
<path d="M253.00,447.54 L253.50,447.58 L254.00,447.62 L254.50,447.66 L255.00,447.70 L255.50,447.74 L256.00,447.78 L256.50,447.82 L257.00,447.86 L257.50,447.90 L258.00,447.94 L258.50,447.98 L259.00,448.02 L259.50,448.05 L260.00,448.09 L260.50,448.13 L261.00,448.17 L261.50,448.21 L262.00,448.24 L262.50,448.28 L263.00,448.32 L263.50,448.36 L264.00,448.40 L264.50,448.43 L265.00,448.47 L265.50,448.51 L266.00,448.54 L266.50,448.58 L267.00,448.62 L267.50,448.65 L268.00,448.69 L268.50,448.73 L269.00,448.76 L269.50,448.80 L270.00,448.84 L270.50,448.87 L271.00,448.91 L271.50,448.94 L272.00,448.98 L272.50,449.02 L273.00,449.05 L273.50,449.09 L274.00,449.12 L274.50,449.16 L275.00,449.19 L275.50,449.23 L276.00,449.26 L276.50,449.30 L277.00,449.33 L277.50,449.37 L278.00,449.40 L278.50,449.44 L279.00,449.47 L279.50,449.50 L280.00,449.54 L280.50,449.57 L281.00,449.60 L281.50,449.64 L282.00,449.67 L282.50,449.71 L283.00,449.74 L283.50,449.77 L284.00,449.80 L284.50,449.84 L285.00,449.87 L285.50,449.90 L286.00,449.94 L286.50,449.97 L287.00,450.00 L287.50,450.03 L288.00,450.06 L288.50,450.10 L289.00,450.13 L289.50,450.16 L290.00,450.19 L290.50,450.22 L291.00,450.25 L291.50,450.29 L292.00,450.32 L292.50,450.35 L293.00,450.38 L293.50,450.41 L294.00,450.44 L294.50,450.47 L295.00,450.50 L295.50,450.53 L296.00,450.56 L296.50,450.59 L297.00,450.62 L297.50,450.65 L298.00,450.68 L298.50,450.71 L299.00,450.74 L299.50,450.77 L300.00,450.80 L300.50,450.83 L301.00,450.86 L301.50,450.89 L302.00,450.91 L302.50,450.94 L303.00,450.97 L303.50,451.00 L304.00,451.03 L304.50,451.06 L305.00,451.08 L305.50,451.11 L306.00,451.14 L306.50,451.17 L307.00,451.19 L307.50,451.22 L308.00,451.25 L308.50,451.27 L309.00,451.30 L309.50,451.33 L310.00,451.35 L310.50,451.38 L311.00,451.41 L311.50,451.43 L312.00,451.46 L312.50,451.49 L313.00,451.51 L313.50,451.54 L314.00,451.56 L314.50,451.59 L315.00,451.61 L315.50,451.64 L316.00,451.66 L316.50,451.69 L317.00,451.71 L317.50,451.74 L318.00,451.76 L318.50,451.78 L319.00,451.81 L319.50,451.83 L320.00,451.85 L320.50,451.88 L321.00,451.90 L321.50,451.92 L322.00,451.95 L322.50,451.97 L323.00,451.99 L323.50,452.02 L324.00,452.04 L324.50,452.06 L325.00,452.08 L325.50,452.10 L326.00,452.13 L326.50,452.15 L327.00,452.17 L327.50,452.19 L328.00,452.21 L328.50,452.23 L329.00,452.25 L329.50,452.27 L330.00,452.29 L330.50,452.31 L331.00,452.33 L331.50,452.35 L332.00,452.37 L332.50,452.39 L333.00,452.41 L333.50,452.43 L334.00,452.45 L334.50,452.46 L335.00,452.48 L335.50,452.50 L336.00,452.52 L336.50,452.53 L337.00,452.55 L337.50,452.57 L338.00,452.59 L338.50,452.60 L339.00,452.62 L339.50,452.63 L340.00,452.65 L340.50,452.67 L341.00,452.68 L341.50,452.70 L342.00,452.71 L342.50,452.72 L343.00,452.74 L343.50,452.75 L344.00,452.77 L344.50,452.78 L345.00,452.79 L345.50,452.80 L346.00,452.82 L346.50,452.83 L347.00,452.84 L347.50,452.85 L348.00,452.86 L348.50,452.87 L349.00,452.88 L349.50,452.89 L350.00,452.90 L350.50,452.91 L351.00,452.92 L351.50,452.93 L352.00,452.94 L352.50,452.94 L353.00,452.95 L353.50,452.96 L354.00,452.96 L354.50,452.97 L355.00,452.97 L355.50,452.98 L356.00,452.98 L356.50,452.99 L357.00,452.99 L357.50,452.99 L358.00,452.99 L358.50,452.99 L359.00,452.99 L359.50,452.99 L360.00,452.99 L360.50,452.99 L361.00,452.99 L361.50,452.99 L362.00,452.98 L362.50,452.98 L363.00,452.97 L363.50,452.96 L364.00,452.96 L364.50,452.95 L365.00,452.94 L365.50,452.93 L366.00,452.92 L366.50,452.90 L367.00,452.89 L367.50,452.88 L368.00,452.86 L368.50,452.84 L369.00,452.82 L369.50,452.80 L370.00,452.78 L370.50,452.76 L371.00,452.73 L371.50,452.70 L372.00,452.67 L372.50,452.64 L373.00,452.61 L373.50,452.58 L374.00,452.54 L374.50,452.50 L375.00,452.46 L375.50,452.41 L376.00,452.36 L376.50,452.31 L377.00,452.26 L377.50,452.20 L378.00,452.14 L378.50,452.08 L379.00,452.01 L379.50,451.93 L380.00,451.86 L380.50,451.77 L381.00,451.69 L381.50,451.59 L382.00,451.50 L382.50,451.39 L383.00,451.28 L383.50,451.16 L384.00,451.03 L384.50,450.90 L385.00,450.75 L385.50,450.60 L386.00,450.44 L386.50,450.26 L387.00,450.07 L387.50,449.87 L388.00,449.65 L388.50,449.42 L389.00,449.17 L389.50,448.90 L390.00,448.60 L390.50,448.29 L391.00,447.94 L391.50,447.57 L392.00,447.16 L392.50,446.72 L393.00,446.23 L393.50,445.70 L394.00,445.11 L394.50,444.47 L395.00,443.77 L395.50,442.99 L396.00,442.14 L396.50,441.20 L397.00,440.16 L397.50,439.02 L398.00,437.76 L398.50,436.38 L399.00,434.86 L399.50,433.19 L400.00,431.38 L400.50,429.40 L401.00,427.25 L401.50,424.93 L402.00,422.44 L402.50,419.78 L403.00,416.99 L403.50,414.07 L404.00,411.08 L404.50,408.08 L405.00,405.14 L405.50,402.36 L406.00,399.86 L406.50,397.75 L407.00,396.14 L407.50,395.14 L408.00,394.80 L408.50,395.16 L409.00,396.18 L409.50,397.80 L410.00,399.93 L410.50,402.45 L411.00,405.25 L411.50,408.20 L412.00,411.22 L412.50,414.23 L413.00,417.17 L413.50,419.98 L414.00,422.65 L414.50,425.16 L415.00,427.50 L415.50,429.67 L416.00,431.66 L416.50,433.50 L417.00,435.18 L417.50,436.72 L418.00,438.12 L418.50,439.39 L419.00,440.55 L419.50,441.61 L420.00,442.57 L420.50,443.44 L421.00,444.23 L421.50,444.96 L422.00,445.62 L422.50,446.22 L423.00,446.77 L423.50,447.27 L424.00,447.73 L424.50,448.16 L425.00,448.55 L425.50,448.91 L426.00,449.25 L426.50,449.56 L427.00,449.85 L427.50,450.12 L428.00,450.37 L428.50,450.61 L429.00,450.83 L429.50,451.03 L430.00,451.23 L430.50,451.41 L431.00,451.58 L431.50,451.74 L432.00,451.90 L432.50,452.04 L433.00,452.18 L433.50,452.31 L434.00,452.43 L434.50,452.55 L435.00,452.66 L435.50,452.76 L436.00,452.86 L436.50,452.96 L437.00,453.05 L437.50,453.13 L438.00,453.22 L438.50,453.30 L439.00,453.37 L439.50,453.44 L440.00,453.51 L440.50,453.58 L441.00,453.64 L441.50,453.70 L442.00,453.76 L442.50,453.81 L443.00,453.87 L443.50,453.92 L444.00,453.97 L444.50,454.01 L445.00,454.06 L445.50,454.10 L446.00,454.14 L446.50,454.18 L447.00,454.22 L447.50,454.26 L448.00,454.30 L448.50,454.33 L449.00,454.36 L449.50,454.39 L450.00,454.43 L450.50,454.45 L451.00,454.48 L451.50,454.51" fill="none" stroke="#2b35e6" stroke-width="1.3"/>
<path d="M253.00,441.64 L253.50,441.60 L254.00,441.55 L254.50,441.50 L255.00,441.45 L255.50,441.40 L256.00,441.34 L256.50,441.28 L257.00,441.22 L257.50,441.15 L258.00,441.09 L258.50,441.01 L259.00,440.94 L259.50,440.86 L260.00,440.78 L260.50,440.70 L261.00,440.61 L261.50,440.51 L262.00,440.42 L262.50,440.32 L263.00,440.21 L263.50,440.10 L264.00,439.98 L264.50,439.86 L265.00,439.74 L265.50,439.61 L266.00,439.47 L266.50,439.32 L267.00,439.17 L267.50,439.01 L268.00,438.85 L268.50,438.68 L269.00,438.50 L269.50,438.31 L270.00,438.11 L270.50,437.90 L271.00,437.69 L271.50,437.46 L272.00,437.22 L272.50,436.98 L273.00,436.72 L273.50,436.44 L274.00,436.16 L274.50,435.86 L275.00,435.54 L275.50,435.22 L276.00,434.87 L276.50,434.51 L277.00,434.13 L277.50,433.74 L278.00,433.32 L278.50,432.89 L279.00,432.43 L279.50,431.96 L280.00,431.46 L280.50,430.94 L281.00,430.39 L281.50,429.82 L282.00,429.22 L282.50,428.60 L283.00,427.95 L283.50,427.27 L284.00,426.55 L284.50,425.81 L285.00,425.04 L285.50,424.24 L286.00,423.40 L286.50,422.53 L287.00,421.62 L287.50,420.68 L288.00,419.71 L288.50,418.70 L289.00,417.66 L289.50,416.58 L290.00,415.47 L290.50,414.33 L291.00,413.16 L291.50,411.97 L292.00,410.74 L292.50,409.50 L293.00,408.24 L293.50,406.97 L294.00,405.69 L294.50,404.40 L295.00,403.13 L295.50,401.87 L296.00,400.63 L296.50,399.42 L297.00,398.25 L297.50,397.14 L298.00,396.08 L298.50,395.10 L299.00,394.20 L299.50,393.39 L300.00,392.67 L300.50,392.07 L301.00,391.58 L301.50,391.20 L302.00,390.95 L302.50,390.81 L303.00,390.79 L303.50,390.89 L304.00,391.10 L304.50,391.41 L305.00,391.81 L305.50,392.30 L306.00,392.87 L306.50,393.50 L307.00,394.18 L307.50,394.90 L308.00,395.66 L308.50,396.44 L309.00,397.22 L309.50,398.01 L310.00,398.78 L310.50,399.55 L311.00,400.28 L311.50,400.99 L312.00,401.66 L312.50,402.28 L313.00,402.86 L313.50,403.39 L314.00,403.87 L314.50,404.29 L315.00,404.64 L315.50,404.94 L316.00,405.17 L316.50,405.34 L317.00,405.43 L317.50,405.46 L318.00,405.42 L318.50,405.30 L319.00,405.12 L319.50,404.86 L320.00,404.53 L320.50,404.12 L321.00,403.64 L321.50,403.09 L322.00,402.46 L322.50,401.76 L323.00,400.99 L323.50,400.14 L324.00,399.22 L324.50,398.23 L325.00,397.17 L325.50,396.05 L326.00,394.87 L326.50,393.62 L327.00,392.33 L327.50,390.98 L328.00,389.59 L328.50,388.17 L329.00,386.72 L329.50,385.25 L330.00,383.77 L330.50,382.31 L331.00,380.86 L331.50,379.44 L332.00,378.08 L332.50,376.78 L333.00,375.56 L333.50,374.44 L334.00,373.43 L334.50,372.56 L335.00,371.83 L335.50,371.26 L336.00,370.86 L336.50,370.63 L337.00,370.59 L337.50,370.74 L338.00,371.08 L338.50,371.59 L339.00,372.29 L339.50,373.15 L340.00,374.18 L340.50,375.34 L341.00,376.64 L341.50,378.05 L342.00,379.57 L342.50,381.16 L343.00,382.82 L343.50,384.53 L344.00,386.28 L344.50,388.05 L345.00,389.83 L345.50,391.61 L346.00,393.38 L346.50,395.12 L347.00,396.84 L347.50,398.52 L348.00,400.17 L348.50,401.76 L349.00,403.31 L349.50,404.80 L350.00,406.24 L350.50,407.63 L351.00,408.95 L351.50,410.21 L352.00,411.41 L352.50,412.55 L353.00,413.62 L353.50,414.63 L354.00,415.58 L354.50,416.46 L355.00,417.28 L355.50,418.04 L356.00,418.72 L356.50,419.34 L357.00,419.89 L357.50,420.36 L358.00,420.77 L358.50,421.09 L359.00,421.34 L359.50,421.51 L360.00,421.58 L360.50,421.57 L361.00,421.45 L361.50,421.23 L362.00,420.91 L362.50,420.46 L363.00,419.89 L363.50,419.18 L364.00,418.33 L364.50,417.34 L365.00,416.18 L365.50,414.86 L366.00,413.36 L366.50,411.69 L367.00,409.83 L367.50,407.81 L368.00,405.61 L368.50,403.27 L369.00,400.82 L369.50,398.29 L370.00,395.74 L370.50,393.26 L371.00,390.94 L371.50,388.89 L372.00,387.21 L372.50,386.02 L373.00,385.39 L373.50,385.39 L374.00,386.02 L374.50,387.26 L375.00,389.04 L375.50,391.26 L376.00,393.82 L376.50,396.60 L377.00,399.51 L377.50,402.45 L378.00,405.36 L378.50,408.18 L379.00,410.87 L379.50,413.42 L380.00,415.80 L380.50,418.02 L381.00,420.06 L381.50,421.94 L382.00,423.65 L382.50,425.21 L383.00,426.63 L383.50,427.92 L384.00,429.07 L384.50,430.11 L385.00,431.04 L385.50,431.87 L386.00,432.61 L386.50,433.26 L387.00,433.83 L387.50,434.32 L388.00,434.75 L388.50,435.11 L389.00,435.41 L389.50,435.64 L390.00,435.82 L390.50,435.94 L391.00,436.01 L391.50,436.02 L392.00,435.97 L392.50,435.86 L393.00,435.70 L393.50,435.46 L394.00,435.16 L394.50,434.79 L395.00,434.34 L395.50,433.80 L396.00,433.18 L396.50,432.45 L397.00,431.62 L397.50,430.68 L398.00,429.61 L398.50,428.41 L399.00,427.06 L399.50,425.57 L400.00,423.91 L400.50,422.08 L401.00,420.08 L401.50,417.90 L402.00,415.54 L402.50,413.02 L403.00,410.34 L403.50,407.55 L404.00,404.68 L404.50,401.78 L405.00,398.95 L405.50,396.28 L406.00,393.88 L406.50,391.87 L407.00,390.35 L407.50,389.44 L408.00,389.20 L408.50,389.64 L409.00,390.74 L409.50,392.44 L410.00,394.65 L410.50,397.25 L411.00,400.12 L411.50,403.15 L412.00,406.24 L412.50,409.31 L413.00,412.31 L413.50,415.19 L414.00,417.92 L414.50,420.49 L415.00,422.89 L415.50,425.12 L416.00,427.17 L416.50,429.06 L417.00,430.79 L417.50,432.38 L418.00,433.83 L418.50,435.16 L419.00,436.37 L419.50,437.47 L420.00,438.48 L420.50,439.39 L421.00,440.23 L421.50,441.00 L422.00,441.70 L422.50,442.34 L423.00,442.93 L423.50,443.48 L424.00,443.98 L424.50,444.44 L425.00,444.87 L425.50,445.27 L426.00,445.64 L426.50,445.98 L427.00,446.31 L427.50,446.61 L428.00,446.90 L428.50,447.16 L429.00,447.41 L429.50,447.65 L430.00,447.88 L430.50,448.09 L431.00,448.29 L431.50,448.48 L432.00,448.66 L432.50,448.83 L433.00,449.00 L433.50,449.15 L434.00,449.30 L434.50,449.44 L435.00,449.58 L435.50,449.71 L436.00,449.83 L436.50,449.95 L437.00,450.07 L437.50,450.18 L438.00,450.28 L438.50,450.38 L439.00,450.48 L439.50,450.58 L440.00,450.67 L440.50,450.75 L441.00,450.84 L441.50,450.92 L442.00,450.99 L442.50,451.07 L443.00,451.14 L443.50,451.21 L444.00,451.28 L444.50,451.34 L445.00,451.41 L445.50,451.47 L446.00,451.53 L446.50,451.58 L447.00,451.64 L447.50,451.69 L448.00,451.75 L448.50,451.80 L449.00,451.85 L449.50,451.89 L450.00,451.94 L450.50,451.98 L451.00,452.03 L451.50,452.07" fill="none" stroke="#f0a030" stroke-width="1.4"/>
<circle cx="258" cy="444.2" r="0.6" fill="#999"/>
<circle cx="262" cy="441.5" r="0.6" fill="#999"/>
<circle cx="268" cy="436.9" r="0.6" fill="#999"/>
<circle cx="308" cy="395.3" r="0.6" fill="#999"/>
<circle cx="318" cy="403.3" r="0.6" fill="#999"/>
<circle cx="322" cy="401.4" r="0.6" fill="#999"/>
<circle cx="346" cy="396.7" r="0.6" fill="#999"/>
<circle cx="352" cy="412.9" r="0.6" fill="#999"/>
<circle cx="364" cy="420.1" r="0.6" fill="#999"/>
<circle cx="392" cy="438.5" r="0.6" fill="#999"/>
<circle cx="400" cy="427.2" r="0.6" fill="#999"/>
<circle cx="418" cy="435.3" r="0.6" fill="#999"/>
<circle cx="426" cy="447.1" r="0.6" fill="#999"/>
<circle cx="432" cy="450.2" r="0.6" fill="#999"/>
<circle cx="440" cy="452.6" r="0.6" fill="#999"/>
<rect x="252.5" y="331.5" width="199.7" height="135.8" fill="none" stroke="#222" stroke-width="1.5"/>
<path d="M285.50,467.3 v2.2 M334.10,467.3 v2.2 M382.70,467.3 v2.2 M431.30,467.3 v2.2 M261.20,467.3 v1.54 M309.80,467.3 v1.54 M358.40,467.3 v1.54 M407.00,467.3 v1.54 " stroke="#222" stroke-width="1.1" fill="none"/>
<text x="285.5" y="481" font-size="10.2" font-weight="bold" fill="#111" text-anchor="middle" >39</text>
<text x="334.1" y="481" font-size="10.2" font-weight="bold" fill="#111" text-anchor="middle" >36</text>
<text x="382.7" y="481" font-size="10.2" font-weight="bold" fill="#111" text-anchor="middle" >33</text>
<text x="431.3" y="481" font-size="10.2" font-weight="bold" fill="#111" text-anchor="middle" >30</text>
<text x="359.3" y="497" font-size="13.9" font-weight="bold" fill="#111" text-anchor="middle" >Binding Energy (eV)</text>
<text x="259.7" y="347.2" font-size="10.3" font-weight="bold" fill="#111" text-anchor="start" >W 4f</text>
<text x="274.8" y="386.2" font-size="8.8" font-weight="bold" fill="#111" text-anchor="start" textLength="32" lengthAdjust="spacingAndGlyphs">37.98 eV</text>
<text x="314.2" y="364.2" font-size="8.8" font-weight="bold" fill="#111" text-anchor="start" textLength="32" lengthAdjust="spacingAndGlyphs">35.78 eV</text>
<text x="351.6" y="379" font-size="8.8" font-weight="bold" fill="#111" text-anchor="start" textLength="32.5" lengthAdjust="spacingAndGlyphs">33.55 eV</text>
<text x="401.8" y="383.4" font-size="8.8" font-weight="bold" fill="#111" text-anchor="start" textLength="32.5" lengthAdjust="spacingAndGlyphs">31.43 eV</text>
<text transform="translate(244.3,398) rotate(-90)" font-size="14.3" font-weight="bold" fill="#111" text-anchor="middle">Intensity (a.u.)</text>
<text x="229" y="349" font-size="34" fill="#000" stroke="#000" stroke-width="0.7">h</text>
<path d="M482.30,450.08 L482.80,450.08 L483.30,450.08 L483.80,450.09 L484.30,450.09 L484.80,450.09 L485.30,450.10 L485.80,450.10 L486.30,450.10 L486.80,450.11 L487.30,450.11 L487.80,450.11 L488.30,450.12 L488.80,450.12 L489.30,450.12 L489.80,450.12 L490.30,450.13 L490.80,450.13 L491.30,450.13 L491.80,450.13 L492.30,450.13 L492.80,450.14 L493.30,450.14 L493.80,450.14 L494.30,450.14 L494.80,450.14 L495.30,450.14 L495.80,450.14 L496.30,450.14 L496.80,450.14 L497.30,450.15 L497.80,450.15 L498.30,450.15 L498.80,450.15 L499.30,450.15 L499.80,450.15 L500.30,450.14 L500.80,450.14 L501.30,450.14 L501.80,450.14 L502.30,450.14 L502.80,450.14 L503.30,450.14 L503.80,450.14 L504.30,450.13 L504.80,450.13 L505.30,450.13 L505.80,450.13 L506.30,450.12 L506.80,450.12 L507.30,450.12 L507.80,450.11 L508.30,450.11 L508.80,450.11 L509.30,450.10 L509.80,450.10 L510.30,450.09 L510.80,450.09 L511.30,450.08 L511.80,450.07 L512.30,450.07 L512.80,450.06 L513.30,450.06 L513.80,450.05 L514.30,450.04 L514.80,450.03 L515.30,450.02 L515.80,450.02 L516.30,450.01 L516.80,450.00 L517.30,449.99 L517.80,449.98 L518.30,449.97 L518.80,449.96 L519.30,449.94 L519.80,449.93 L520.30,449.92 L520.80,449.91 L521.30,449.89 L521.80,449.88 L522.30,449.86 L522.80,449.85 L523.30,449.83 L523.80,449.82 L524.30,449.80 L524.80,449.78 L525.30,449.76 L525.80,449.75 L526.30,449.73 L526.80,449.71 L527.30,449.68 L527.80,449.66 L528.30,449.64 L528.80,449.62 L529.30,449.59 L529.80,449.57 L530.30,449.54 L530.80,449.51 L531.30,449.49 L531.80,449.46 L532.30,449.43 L532.80,449.40 L533.30,449.36 L533.80,449.33 L534.30,449.30 L534.80,449.26 L535.30,449.22 L535.80,449.18 L536.30,449.14 L536.80,449.10 L537.30,449.06 L537.80,449.02 L538.30,448.97 L538.80,448.92 L539.30,448.87 L539.80,448.82 L540.30,448.77 L540.80,448.71 L541.30,448.66 L541.80,448.60 L542.30,448.54 L542.80,448.47 L543.30,448.41 L543.80,448.34 L544.30,448.26 L544.80,448.19 L545.30,448.11 L545.80,448.03 L546.30,447.95 L546.80,447.86 L547.30,447.77 L547.80,447.68 L548.30,447.58 L548.80,447.47 L549.30,447.36 L549.80,447.25 L550.30,447.13 L550.80,447.01 L551.30,446.88 L551.80,446.74 L552.30,446.60 L552.80,446.45 L553.30,446.29 L553.80,446.12 L554.30,445.95 L554.80,445.76 L555.30,445.56 L555.80,445.35 L556.30,445.12 L556.80,444.88 L557.30,444.63 L557.80,444.36 L558.30,444.07 L558.80,443.76 L559.30,443.42 L559.80,443.07 L560.30,442.68 L560.80,442.27 L561.30,441.83 L561.80,441.36 L562.30,440.85 L562.80,440.30 L563.30,439.71 L563.80,439.07 L564.30,438.39 L564.80,437.66 L565.30,436.88 L565.80,436.03 L566.30,435.13 L566.80,434.17 L567.30,433.14 L567.80,432.03 L568.30,430.86 L568.80,429.61 L569.30,428.29 L569.80,426.88 L570.30,425.39 L570.80,423.82 L571.30,422.17 L571.80,420.43 L572.30,418.60 L572.80,416.69 L573.30,414.69 L573.80,412.61 L574.30,410.45 L574.80,408.22 L575.30,405.92 L575.80,403.56 L576.30,401.14 L576.80,398.68 L577.30,396.18 L577.80,393.67 L578.30,391.15 L578.80,388.65 L579.30,386.18 L579.80,383.78 L580.30,381.47 L580.80,379.27 L581.30,377.21 L581.80,375.33 L582.30,373.65 L582.80,372.20 L583.30,371.02 L583.80,370.12 L584.30,369.51 L584.80,369.23 L585.30,369.26 L585.80,369.60 L586.30,370.26 L586.80,371.22 L587.30,372.45 L587.80,373.94 L588.30,375.66 L588.80,377.57 L589.30,379.65 L589.80,381.87 L590.30,384.20 L590.80,386.61 L591.30,389.08 L591.80,391.58 L592.30,394.09 L592.80,396.59 L593.30,399.07 L593.80,401.52 L594.30,403.91 L594.80,406.25 L595.30,408.53 L595.80,410.73 L596.30,412.86 L596.80,414.90 L597.30,416.87 L597.80,418.74 L598.30,420.53 L598.80,422.23 L599.30,423.85 L599.80,425.38 L600.30,426.82 L600.80,428.18 L601.30,429.46 L601.80,430.66 L602.30,431.78 L602.80,432.82 L603.30,433.80 L603.80,434.70 L604.30,435.54 L604.80,436.32 L605.30,437.03 L605.80,437.69 L606.30,438.29 L606.80,438.83 L607.30,439.33 L607.80,439.78 L608.30,440.19 L608.80,440.54 L609.30,440.86 L609.80,441.14 L610.30,441.37 L610.80,441.56 L611.30,441.72 L611.80,441.83 L612.30,441.89 L612.80,441.91 L613.30,441.88 L613.80,441.79 L614.30,441.63 L614.80,441.39 L615.30,441.05 L615.80,440.59 L616.30,439.98 L616.80,439.18 L617.30,438.17 L617.80,436.91 L618.30,435.36 L618.80,433.48 L619.30,431.24 L619.80,428.64 L620.30,425.67 L620.80,422.35 L621.30,418.75 L621.80,414.97 L622.30,411.18 L622.80,407.60 L623.30,404.52 L623.80,402.23 L624.30,400.97 L624.80,400.78 L625.30,401.54 L625.80,402.95 L626.30,404.62 L626.80,406.19 L627.30,407.36 L627.80,407.88 L628.30,407.60 L628.80,406.39 L629.30,404.22 L629.80,401.07 L630.30,397.03 L630.80,392.22 L631.30,386.89 L631.80,381.36 L632.30,376.10 L632.80,371.67 L633.30,368.66 L633.80,367.59 L634.30,368.71 L634.80,371.93 L635.30,376.88 L635.80,383.00 L636.30,389.76 L636.80,396.69 L637.30,403.44 L637.80,409.79 L638.30,415.60 L638.80,420.79 L639.30,425.34 L639.80,429.26 L640.30,432.58 L640.80,435.37 L641.30,437.69 L641.80,439.60 L642.30,441.17 L642.80,442.46 L643.30,443.53 L643.80,444.42 L644.30,445.17 L644.80,445.80 L645.30,446.35 L645.80,446.83 L646.30,447.26 L646.80,447.64 L647.30,447.98 L647.80,448.29 L648.30,448.58 L648.80,448.84 L649.30,449.08 L649.80,449.30 L650.30,449.51 L650.80,449.70 L651.30,449.88 L651.80,450.04 L652.30,450.20 L652.80,450.35 L653.30,450.49 L653.80,450.62 L654.30,450.74 L654.80,450.86 L655.30,450.97 L655.80,451.08 L656.30,451.18 L656.80,451.28 L657.30,451.37 L657.80,451.45 L658.30,451.54 L658.80,451.62 L659.30,451.69 L659.80,451.77 L660.30,451.84 L660.80,451.91 L661.30,451.97 L661.80,452.04 L662.30,452.10 L662.80,452.16 L663.30,452.21 L663.80,452.27 L664.30,452.32 L664.80,452.37 L665.30,452.42 L665.80,452.47 L666.30,452.52 L666.80,452.57 L667.30,452.61 L667.80,452.65 L668.30,452.70 L668.80,452.74 L669.30,452.78 L669.80,452.82 L670.30,452.86 L670.80,452.89 L671.30,452.93 L671.80,452.97 L672.30,453.00 L672.80,453.04 L673.30,453.07 L673.80,453.10 L674.30,453.13 L674.80,453.17 L675.30,453.20 L675.80,453.23 L676.30,453.26 L676.80,453.29 L677.30,453.32 L677.80,453.35 L678.30,453.37 L678.80,453.40" fill="none" stroke="#f0a030" stroke-width="1.4"/>
<path d="M482.30,450.63 L482.80,450.63 L483.30,450.63 L483.80,450.64 L484.30,450.64 L484.80,450.65 L485.30,450.65 L485.80,450.65 L486.30,450.66 L486.80,450.66 L487.30,450.66 L487.80,450.67 L488.30,450.67 L488.80,450.67 L489.30,450.68 L489.80,450.68 L490.30,450.68 L490.80,450.68 L491.30,450.69 L491.80,450.69 L492.30,450.69 L492.80,450.69 L493.30,450.70 L493.80,450.70 L494.30,450.70 L494.80,450.70 L495.30,450.70 L495.80,450.70 L496.30,450.70 L496.80,450.71 L497.30,450.71 L497.80,450.71 L498.30,450.71 L498.80,450.71 L499.30,450.71 L499.80,450.71 L500.30,450.71 L500.80,450.71 L501.30,450.71 L501.80,450.71 L502.30,450.71 L502.80,450.71 L503.30,450.71 L503.80,450.70 L504.30,450.70 L504.80,450.70 L505.30,450.70 L505.80,450.70 L506.30,450.69 L506.80,450.69 L507.30,450.69 L507.80,450.69 L508.30,450.68 L508.80,450.68 L509.30,450.68 L509.80,450.67 L510.30,450.67 L510.80,450.66 L511.30,450.66 L511.80,450.65 L512.30,450.65 L512.80,450.64 L513.30,450.63 L513.80,450.63 L514.30,450.62 L514.80,450.61 L515.30,450.61 L515.80,450.60 L516.30,450.59 L516.80,450.58 L517.30,450.57 L517.80,450.56 L518.30,450.55 L518.80,450.54 L519.30,450.53 L519.80,450.52 L520.30,450.51 L520.80,450.50 L521.30,450.48 L521.80,450.47 L522.30,450.46 L522.80,450.44 L523.30,450.43 L523.80,450.41 L524.30,450.40 L524.80,450.38 L525.30,450.36 L525.80,450.34 L526.30,450.33 L526.80,450.31 L527.30,450.29 L527.80,450.27 L528.30,450.24 L528.80,450.22 L529.30,450.20 L529.80,450.17 L530.30,450.15 L530.80,450.12 L531.30,450.10 L531.80,450.07 L532.30,450.04 L532.80,450.01 L533.30,449.98 L533.80,449.95 L534.30,449.91 L534.80,449.88 L535.30,449.84 L535.80,449.81 L536.30,449.77 L536.80,449.73 L537.30,449.69 L537.80,449.64 L538.30,449.60 L538.80,449.55 L539.30,449.50 L539.80,449.45 L540.30,449.40 L540.80,449.35 L541.30,449.29 L541.80,449.24 L542.30,449.18 L542.80,449.11 L543.30,449.05 L543.80,448.98 L544.30,448.91 L544.80,448.84 L545.30,448.76 L545.80,448.68 L546.30,448.60 L546.80,448.52 L547.30,448.43 L547.80,448.33 L548.30,448.24 L548.80,448.14 L549.30,448.03 L549.80,447.92 L550.30,447.80 L550.80,447.68 L551.30,447.55 L551.80,447.42 L552.30,447.28 L552.80,447.13 L553.30,446.97 L553.80,446.81 L554.30,446.63 L554.80,446.45 L555.30,446.25 L555.80,446.04 L556.30,445.82 L556.80,445.59 L557.30,445.33 L557.80,445.06 L558.30,444.78 L558.80,444.47 L559.30,444.14 L559.80,443.79 L560.30,443.41 L560.80,443.00 L561.30,442.56 L561.80,442.09 L562.30,441.58 L562.80,441.04 L563.30,440.45 L563.80,439.82 L564.30,439.14 L564.80,438.41 L565.30,437.63 L565.80,436.80 L566.30,435.90 L566.80,434.94 L567.30,433.91 L567.80,432.81 L568.30,431.64 L568.80,430.40 L569.30,429.08 L569.80,427.68 L570.30,426.20 L570.80,424.63 L571.30,422.98 L571.80,421.24 L572.30,419.42 L572.80,417.52 L573.30,415.53 L573.80,413.45 L574.30,411.30 L574.80,409.08 L575.30,406.78 L575.80,404.43 L576.30,402.01 L576.80,399.56 L577.30,397.07 L577.80,394.56 L578.30,392.05 L578.80,389.56 L579.30,387.10 L579.80,384.71 L580.30,382.40 L580.80,380.21 L581.30,378.16 L581.80,376.29 L582.30,374.62 L582.80,373.19 L583.30,372.01 L583.80,371.12 L584.30,370.53 L584.80,370.25 L585.30,370.30 L585.80,370.66 L586.30,371.33 L586.80,372.30 L587.30,373.55 L587.80,375.05 L588.30,376.78 L588.80,378.71 L589.30,380.81 L589.80,383.04 L590.30,385.39 L590.80,387.82 L591.30,390.30 L591.80,392.82 L592.30,395.35 L592.80,397.88 L593.30,400.38 L593.80,402.85 L594.30,405.27 L594.80,407.63 L595.30,409.93 L595.80,412.16 L596.30,414.32 L596.80,416.39 L597.30,418.39 L597.80,420.30 L598.30,422.12 L598.80,423.86 L599.30,425.51 L599.80,427.08 L600.30,428.57 L600.80,429.97 L601.30,431.30 L601.80,432.55 L602.30,433.72 L602.80,434.82 L603.30,435.85 L603.80,436.82 L604.30,437.73 L604.80,438.57 L605.30,439.36 L605.80,440.10 L606.30,440.79 L606.80,441.43 L607.30,442.03 L607.80,442.58 L608.30,443.10 L608.80,443.59 L609.30,444.04 L609.80,444.46 L610.30,444.86 L610.80,445.22 L611.30,445.57 L611.80,445.89 L612.30,446.20 L612.80,446.48 L613.30,446.75 L613.80,447.00 L614.30,447.24 L614.80,447.47 L615.30,447.68 L615.80,447.88 L616.30,448.08 L616.80,448.26 L617.30,448.43 L617.80,448.60 L618.30,448.76 L618.80,448.91 L619.30,449.06 L619.80,449.20 L620.30,449.33 L620.80,449.46 L621.30,449.59 L621.80,449.71 L622.30,449.82 L622.80,449.93 L623.30,450.04 L623.80,450.15 L624.30,450.25 L624.80,450.35 L625.30,450.44 L625.80,450.53 L626.30,450.62 L626.80,450.71 L627.30,450.79 L627.80,450.87 L628.30,450.95 L628.80,451.03 L629.30,451.10 L629.80,451.18 L630.30,451.25 L630.80,451.32 L631.30,451.39 L631.80,451.45 L632.30,451.51 L632.80,451.58 L633.30,451.64 L633.80,451.70 L634.30,451.76 L634.80,451.81 L635.30,451.87 L635.80,451.92 L636.30,451.97 L636.80,452.03 L637.30,452.08 L637.80,452.13 L638.30,452.17 L638.80,452.22 L639.30,452.27 L639.80,452.31 L640.30,452.36 L640.80,452.40 L641.30,452.44 L641.80,452.49 L642.30,452.53 L642.80,452.57 L643.30,452.61 L643.80,452.65 L644.30,452.68 L644.80,452.72 L645.30,452.76 L645.80,452.79 L646.30,452.83 L646.80,452.87 L647.30,452.90 L647.80,452.93 L648.30,452.97 L648.80,453.00 L649.30,453.03 L649.80,453.06 L650.30,453.10 L650.80,453.13 L651.30,453.16 L651.80,453.19 L652.30,453.22 L652.80,453.25 L653.30,453.27 L653.80,453.30 L654.30,453.33 L654.80,453.36 L655.30,453.38 L655.80,453.41 L656.30,453.44 L656.80,453.46 L657.30,453.49 L657.80,453.52 L658.30,453.54 L658.80,453.57 L659.30,453.59 L659.80,453.61 L660.30,453.64 L660.80,453.66 L661.30,453.69 L661.80,453.71 L662.30,453.73 L662.80,453.75 L663.30,453.78 L663.80,453.80 L664.30,453.82 L664.80,453.84 L665.30,453.86 L665.80,453.89 L666.30,453.91 L666.80,453.93 L667.30,453.95 L667.80,453.97 L668.30,453.99 L668.80,454.01 L669.30,454.03 L669.80,454.05 L670.30,454.07 L670.80,454.09 L671.30,454.11 L671.80,454.13 L672.30,454.15 L672.80,454.17 L673.30,454.18 L673.80,454.20 L674.30,454.22 L674.80,454.24 L675.30,454.26 L675.80,454.28 L676.30,454.29 L676.80,454.31 L677.30,454.33 L677.80,454.35 L678.30,454.36 L678.80,454.38" fill="none" stroke="#e030e0" stroke-width="1.3"/>
<path d="M482.30,451.18 L482.80,451.19 L483.30,451.20 L483.80,451.21 L484.30,451.22 L484.80,451.23 L485.30,451.24 L485.80,451.25 L486.30,451.26 L486.80,451.26 L487.30,451.27 L487.80,451.28 L488.30,451.29 L488.80,451.30 L489.30,451.31 L489.80,451.32 L490.30,451.33 L490.80,451.34 L491.30,451.35 L491.80,451.36 L492.30,451.37 L492.80,451.38 L493.30,451.39 L493.80,451.40 L494.30,451.41 L494.80,451.42 L495.30,451.43 L495.80,451.44 L496.30,451.45 L496.80,451.46 L497.30,451.47 L497.80,451.48 L498.30,451.49 L498.80,451.49 L499.30,451.50 L499.80,451.51 L500.30,451.52 L500.80,451.53 L501.30,451.54 L501.80,451.55 L502.30,451.56 L502.80,451.57 L503.30,451.58 L503.80,451.59 L504.30,451.60 L504.80,451.61 L505.30,451.62 L505.80,451.63 L506.30,451.64 L506.80,451.65 L507.30,451.66 L507.80,451.67 L508.30,451.68 L508.80,451.69 L509.30,451.69 L509.80,451.70 L510.30,451.71 L510.80,451.72 L511.30,451.73 L511.80,451.74 L512.30,451.75 L512.80,451.76 L513.30,451.77 L513.80,451.78 L514.30,451.79 L514.80,451.80 L515.30,451.81 L515.80,451.82 L516.30,451.83 L516.80,451.84 L517.30,451.85 L517.80,451.85 L518.30,451.86 L518.80,451.87 L519.30,451.88 L519.80,451.89 L520.30,451.90 L520.80,451.91 L521.30,451.92 L521.80,451.93 L522.30,451.94 L522.80,451.95 L523.30,451.96 L523.80,451.97 L524.30,451.98 L524.80,451.99 L525.30,451.99 L525.80,452.00 L526.30,452.01 L526.80,452.02 L527.30,452.03 L527.80,452.04 L528.30,452.05 L528.80,452.06 L529.30,452.07 L529.80,452.08 L530.30,452.09 L530.80,452.10 L531.30,452.11 L531.80,452.11 L532.30,452.12 L532.80,452.13 L533.30,452.14 L533.80,452.15 L534.30,452.16 L534.80,452.17 L535.30,452.18 L535.80,452.19 L536.30,452.20 L536.80,452.21 L537.30,452.22 L537.80,452.22 L538.30,452.23 L538.80,452.24 L539.30,452.25 L539.80,452.26 L540.30,452.27 L540.80,452.28 L541.30,452.29 L541.80,452.30 L542.30,452.30 L542.80,452.31 L543.30,452.32 L543.80,452.33 L544.30,452.34 L544.80,452.35 L545.30,452.36 L545.80,452.37 L546.30,452.38 L546.80,452.38 L547.30,452.39 L547.80,452.40 L548.30,452.41 L548.80,452.42 L549.30,452.43 L549.80,452.44 L550.30,452.45 L550.80,452.45 L551.30,452.46 L551.80,452.47 L552.30,452.48 L552.80,452.49 L553.30,452.50 L553.80,452.50 L554.30,452.51 L554.80,452.52 L555.30,452.53 L555.80,452.54 L556.30,452.55 L556.80,452.55 L557.30,452.56 L557.80,452.57 L558.30,452.58 L558.80,452.59 L559.30,452.60 L559.80,452.60 L560.30,452.61 L560.80,452.62 L561.30,452.63 L561.80,452.64 L562.30,452.64 L562.80,452.65 L563.30,452.66 L563.80,452.67 L564.30,452.67 L564.80,452.68 L565.30,452.69 L565.80,452.70 L566.30,452.71 L566.80,452.71 L567.30,452.72 L567.80,452.73 L568.30,452.73 L568.80,452.74 L569.30,452.75 L569.80,452.76 L570.30,452.76 L570.80,452.77 L571.30,452.78 L571.80,452.78 L572.30,452.79 L572.80,452.80 L573.30,452.80 L573.80,452.81 L574.30,452.82 L574.80,452.82 L575.30,452.83 L575.80,452.84 L576.30,452.84 L576.80,452.85 L577.30,452.85 L577.80,452.86 L578.30,452.87 L578.80,452.87 L579.30,452.88 L579.80,452.88 L580.30,452.89 L580.80,452.89 L581.30,452.90 L581.80,452.90 L582.30,452.91 L582.80,452.91 L583.30,452.92 L583.80,452.92 L584.30,452.92 L584.80,452.93 L585.30,452.93 L585.80,452.93 L586.30,452.94 L586.80,452.94 L587.30,452.94 L587.80,452.95 L588.30,452.95 L588.80,452.95 L589.30,452.95 L589.80,452.95 L590.30,452.96 L590.80,452.96 L591.30,452.96 L591.80,452.96 L592.30,452.96 L592.80,452.96 L593.30,452.96 L593.80,452.96 L594.30,452.95 L594.80,452.95 L595.30,452.95 L595.80,452.95 L596.30,452.94 L596.80,452.94 L597.30,452.94 L597.80,452.93 L598.30,452.93 L598.80,452.92 L599.30,452.91 L599.80,452.90 L600.30,452.90 L600.80,452.89 L601.30,452.88 L601.80,452.87 L602.30,452.85 L602.80,452.84 L603.30,452.83 L603.80,452.81 L604.30,452.79 L604.80,452.78 L605.30,452.76 L605.80,452.74 L606.30,452.71 L606.80,452.69 L607.30,452.66 L607.80,452.63 L608.30,452.60 L608.80,452.57 L609.30,452.53 L609.80,452.50 L610.30,452.46 L610.80,452.41 L611.30,452.36 L611.80,452.31 L612.30,452.26 L612.80,452.19 L613.30,452.13 L613.80,452.06 L614.30,451.98 L614.80,451.90 L615.30,451.81 L615.80,451.71 L616.30,451.60 L616.80,451.49 L617.30,451.36 L617.80,451.22 L618.30,451.06 L618.80,450.90 L619.30,450.71 L619.80,450.50 L620.30,450.27 L620.80,450.02 L621.30,449.73 L621.80,449.40 L622.30,449.02 L622.80,448.59 L623.30,448.07 L623.80,447.46 L624.30,446.73 L624.80,445.83 L625.30,444.74 L625.80,443.39 L626.30,441.74 L626.80,439.71 L627.30,437.25 L627.80,434.28 L628.30,430.74 L628.80,426.60 L629.30,421.83 L629.80,416.44 L630.30,410.48 L630.80,404.07 L631.30,397.40 L631.80,390.77 L632.30,384.60 L632.80,379.43 L633.30,375.81 L633.80,374.24 L634.30,374.94 L634.80,377.80 L635.30,382.44 L635.80,388.29 L636.30,394.82 L636.80,401.53 L637.30,408.10 L637.80,414.27 L638.30,419.92 L638.80,424.96 L639.30,429.38 L639.80,433.17 L640.30,436.38 L640.80,439.06 L641.30,441.27 L641.80,443.08 L642.30,444.57 L642.80,445.77 L643.30,446.76 L643.80,447.57 L644.30,448.25 L644.80,448.82 L645.30,449.31 L645.80,449.72 L646.30,450.09 L646.80,450.41 L647.30,450.70 L647.80,450.96 L648.30,451.20 L648.80,451.41 L649.30,451.61 L649.80,451.78 L650.30,451.95 L650.80,452.10 L651.30,452.24 L651.80,452.37 L652.30,452.49 L652.80,452.61 L653.30,452.71 L653.80,452.81 L654.30,452.91 L654.80,452.99 L655.30,453.07 L655.80,453.15 L656.30,453.22 L656.80,453.29 L657.30,453.36 L657.80,453.42 L658.30,453.48 L658.80,453.54 L659.30,453.59 L659.80,453.64 L660.30,453.69 L660.80,453.74 L661.30,453.78 L661.80,453.83 L662.30,453.87 L662.80,453.91 L663.30,453.94 L663.80,453.98 L664.30,454.02 L664.80,454.05 L665.30,454.09 L665.80,454.12 L666.30,454.15 L666.80,454.18 L667.30,454.21 L667.80,454.24 L668.30,454.26 L668.80,454.29 L669.30,454.32 L669.80,454.34 L670.30,454.37 L670.80,454.39 L671.30,454.42 L671.80,454.44 L672.30,454.46 L672.80,454.48 L673.30,454.51 L673.80,454.53 L674.30,454.55 L674.80,454.57 L675.30,454.59 L675.80,454.61 L676.30,454.63 L676.80,454.65 L677.30,454.67 L677.80,454.68 L678.30,454.70 L678.80,454.72" fill="none" stroke="#2a9a2a" stroke-width="1.3"/>
<path d="M482.30,451.19 L482.80,451.20 L483.30,451.21 L483.80,451.22 L484.30,451.23 L484.80,451.24 L485.30,451.25 L485.80,451.26 L486.30,451.27 L486.80,451.28 L487.30,451.29 L487.80,451.30 L488.30,451.31 L488.80,451.32 L489.30,451.33 L489.80,451.34 L490.30,451.35 L490.80,451.36 L491.30,451.37 L491.80,451.38 L492.30,451.39 L492.80,451.40 L493.30,451.41 L493.80,451.42 L494.30,451.42 L494.80,451.43 L495.30,451.44 L495.80,451.45 L496.30,451.46 L496.80,451.47 L497.30,451.48 L497.80,451.49 L498.30,451.50 L498.80,451.51 L499.30,451.52 L499.80,451.53 L500.30,451.54 L500.80,451.55 L501.30,451.56 L501.80,451.57 L502.30,451.58 L502.80,451.59 L503.30,451.60 L503.80,451.61 L504.30,451.62 L504.80,451.63 L505.30,451.64 L505.80,451.65 L506.30,451.66 L506.80,451.67 L507.30,451.68 L507.80,451.69 L508.30,451.70 L508.80,451.70 L509.30,451.71 L509.80,451.72 L510.30,451.73 L510.80,451.74 L511.30,451.75 L511.80,451.76 L512.30,451.77 L512.80,451.78 L513.30,451.79 L513.80,451.80 L514.30,451.81 L514.80,451.82 L515.30,451.83 L515.80,451.84 L516.30,451.85 L516.80,451.86 L517.30,451.87 L517.80,451.88 L518.30,451.89 L518.80,451.90 L519.30,451.91 L519.80,451.92 L520.30,451.93 L520.80,451.93 L521.30,451.94 L521.80,451.95 L522.30,451.96 L522.80,451.97 L523.30,451.98 L523.80,451.99 L524.30,452.00 L524.80,452.01 L525.30,452.02 L525.80,452.03 L526.30,452.04 L526.80,452.05 L527.30,452.06 L527.80,452.07 L528.30,452.08 L528.80,452.09 L529.30,452.10 L529.80,452.11 L530.30,452.11 L530.80,452.12 L531.30,452.13 L531.80,452.14 L532.30,452.15 L532.80,452.16 L533.30,452.17 L533.80,452.18 L534.30,452.19 L534.80,452.20 L535.30,452.21 L535.80,452.22 L536.30,452.23 L536.80,452.24 L537.30,452.25 L537.80,452.26 L538.30,452.26 L538.80,452.27 L539.30,452.28 L539.80,452.29 L540.30,452.30 L540.80,452.31 L541.30,452.32 L541.80,452.33 L542.30,452.34 L542.80,452.35 L543.30,452.36 L543.80,452.37 L544.30,452.38 L544.80,452.38 L545.30,452.39 L545.80,452.40 L546.30,452.41 L546.80,452.42 L547.30,452.43 L547.80,452.44 L548.30,452.45 L548.80,452.46 L549.30,452.47 L549.80,452.47 L550.30,452.48 L550.80,452.49 L551.30,452.50 L551.80,452.51 L552.30,452.52 L552.80,452.53 L553.30,452.54 L553.80,452.55 L554.30,452.55 L554.80,452.56 L555.30,452.57 L555.80,452.58 L556.30,452.59 L556.80,452.60 L557.30,452.61 L557.80,452.62 L558.30,452.62 L558.80,452.63 L559.30,452.64 L559.80,452.65 L560.30,452.66 L560.80,452.67 L561.30,452.68 L561.80,452.68 L562.30,452.69 L562.80,452.70 L563.30,452.71 L563.80,452.72 L564.30,452.73 L564.80,452.73 L565.30,452.74 L565.80,452.75 L566.30,452.76 L566.80,452.77 L567.30,452.77 L567.80,452.78 L568.30,452.79 L568.80,452.80 L569.30,452.81 L569.80,452.81 L570.30,452.82 L570.80,452.83 L571.30,452.84 L571.80,452.84 L572.30,452.85 L572.80,452.86 L573.30,452.86 L573.80,452.87 L574.30,452.88 L574.80,452.89 L575.30,452.89 L575.80,452.90 L576.30,452.91 L576.80,452.91 L577.30,452.92 L577.80,452.93 L578.30,452.93 L578.80,452.94 L579.30,452.94 L579.80,452.95 L580.30,452.96 L580.80,452.96 L581.30,452.97 L581.80,452.97 L582.30,452.98 L582.80,452.98 L583.30,452.99 L583.80,452.99 L584.30,453.00 L584.80,453.00 L585.30,453.00 L585.80,453.01 L586.30,453.01 L586.80,453.02 L587.30,453.02 L587.80,453.02 L588.30,453.02 L588.80,453.03 L589.30,453.03 L589.80,453.03 L590.30,453.03 L590.80,453.03 L591.30,453.03 L591.80,453.03 L592.30,453.03 L592.80,453.03 L593.30,453.03 L593.80,453.03 L594.30,453.02 L594.80,453.02 L595.30,453.02 L595.80,453.01 L596.30,453.00 L596.80,453.00 L597.30,452.99 L597.80,452.98 L598.30,452.97 L598.80,452.96 L599.30,452.95 L599.80,452.94 L600.30,452.93 L600.80,452.91 L601.30,452.89 L601.80,452.87 L602.30,452.85 L602.80,452.83 L603.30,452.80 L603.80,452.78 L604.30,452.75 L604.80,452.71 L605.30,452.67 L605.80,452.63 L606.30,452.59 L606.80,452.54 L607.30,452.49 L607.80,452.43 L608.30,452.36 L608.80,452.29 L609.30,452.21 L609.80,452.12 L610.30,452.02 L610.80,451.91 L611.30,451.79 L611.80,451.64 L612.30,451.48 L612.80,451.30 L613.30,451.09 L613.80,450.83 L614.30,450.53 L614.80,450.17 L615.30,449.72 L615.80,449.17 L616.30,448.50 L616.80,447.66 L617.30,446.62 L617.80,445.35 L618.30,443.81 L618.80,441.97 L619.30,439.79 L619.80,437.27 L620.30,434.41 L620.80,431.25 L621.30,427.83 L621.80,424.28 L622.30,420.77 L622.80,417.53 L623.30,414.88 L623.80,413.12 L624.30,412.51 L624.80,413.14 L625.30,414.92 L625.80,417.59 L626.30,420.85 L626.80,424.38 L627.30,427.95 L627.80,431.38 L628.30,434.57 L628.80,437.45 L629.30,439.99 L629.80,442.18 L630.30,444.05 L630.80,445.61 L631.30,446.90 L631.80,447.95 L632.30,448.81 L632.80,449.51 L633.30,450.08 L633.80,450.54 L634.30,450.93 L634.80,451.25 L635.30,451.52 L635.80,451.75 L636.30,451.96 L636.80,452.14 L637.30,452.30 L637.80,452.44 L638.30,452.57 L638.80,452.69 L639.30,452.80 L639.80,452.90 L640.30,452.99 L640.80,453.08 L641.30,453.16 L641.80,453.23 L642.30,453.30 L642.80,453.36 L643.30,453.42 L643.80,453.48 L644.30,453.53 L644.80,453.58 L645.30,453.63 L645.80,453.68 L646.30,453.72 L646.80,453.76 L647.30,453.80 L647.80,453.84 L648.30,453.87 L648.80,453.90 L649.30,453.94 L649.80,453.97 L650.30,454.00 L650.80,454.03 L651.30,454.05 L651.80,454.08 L652.30,454.11 L652.80,454.13 L653.30,454.16 L653.80,454.18 L654.30,454.20 L654.80,454.23 L655.30,454.25 L655.80,454.27 L656.30,454.29 L656.80,454.31 L657.30,454.33 L657.80,454.35 L658.30,454.37 L658.80,454.39 L659.30,454.41 L659.80,454.42 L660.30,454.44 L660.80,454.46 L661.30,454.48 L661.80,454.49 L662.30,454.51 L662.80,454.52 L663.30,454.54 L663.80,454.56 L664.30,454.57 L664.80,454.59 L665.30,454.60 L665.80,454.62 L666.30,454.63 L666.80,454.65 L667.30,454.66 L667.80,454.68 L668.30,454.69 L668.80,454.70 L669.30,454.72 L669.80,454.73 L670.30,454.74 L670.80,454.76 L671.30,454.77 L671.80,454.78 L672.30,454.80 L672.80,454.81 L673.30,454.82 L673.80,454.84 L674.30,454.85 L674.80,454.86 L675.30,454.87 L675.80,454.89 L676.30,454.90 L676.80,454.91 L677.30,454.92 L677.80,454.94 L678.30,454.95 L678.80,454.96" fill="none" stroke="#2b35e6" stroke-width="1.3"/>
<path d="M599.3 423.3h0M612.9 440.2h0M572.7 417.7h0M519.6 448.8h0M491.9 451.8h0M610.7 434.4h0M555.6 448.6h0M592.7 391.2h0M534.3 448.6h0M545.9 452.0h0M567.5 428.1h0M495.3 444.3h0M593.8 403.5h0M640.4 434.0h0M595.3 412.2h0M487.5 448.7h0M559.1 437.1h0M673.1 449.1h0M576.1 401.3h0M608.5 441.7h0M525.6 450.6h0M485.7 451.1h0M616.1 447.3h0M501.7 457.0h0M651.8 451.0h0M622.9 407.8h0M531.3 449.8h0M494.4 448.4h0M633.4 367.2h0M624.9 394.7h0M501.0 446.8h0M573.2 411.5h0M663.8 452.5h0M622.5 419.2h0M487.0 455.7h0M641.7 440.3h0M500.1 448.5h0M516.7 455.7h0M650.1 448.7h0M555.4 446.1h0M595.2 403.7h0M512.6 452.5h0M637.9 408.1h0M605.7 441.9h0M565.0 433.1h0M666.2 457.1h0M635.4 376.4h0M496.4 449.5h0M671.8 451.6h0M548.6 441.7h0M601.1 436.0h0M600.2 426.2h0M544.1 442.2h0M557.1 448.4h0M616.3 434.5h0M639.8 425.6h0M539.2 452.1h0M565.9 436.4h0M597.4 420.8h0M492.9 443.9h0M644.8 448.9h0M594.6 399.3h0M537.4 453.3h0M616.3 435.4h0M660.2 451.5h0M591.1 389.8h0M637.9 413.3h0M663.7 458.3h0M529.7 445.9h0M574.1 408.4h0M524.5 450.1h0M636.8 403.0h0M573.1 421.5h0M633.1 373.7h0M529.5 443.5h0M654.7 447.8h0M585.0 365.1h0M521.1 451.1h0M521.7 452.7h0M554.5 451.3h0M593.2 395.5h0M513.4 453.0h0M493.4 454.0h0M505.2 450.6h0M606.3 439.2h0M599.5 422.9h0M551.0 446.7h0M491.2 450.5h0M675.0 456.4h0M593.7 398.5h0" stroke="#999" stroke-width="1" stroke-linecap="round" fill="none" opacity="0.8"/>
<rect x="481.8" y="331.5" width="197.99999999999994" height="136.7" fill="none" stroke="#222" stroke-width="1.5"/>
<path d="M516.00,468.2 v2.2 M559.80,468.2 v2.2 M603.60,468.2 v2.2 M647.40,468.2 v2.2 M494.10,468.2 v1.54 M537.90,468.2 v1.54 M581.70,468.2 v1.54 M625.50,468.2 v1.54 M669.30,468.2 v1.54 " stroke="#222" stroke-width="1.1" fill="none"/>
<text x="516.0" y="482.2" font-size="10.2" font-weight="bold" fill="#111" text-anchor="middle" >140</text>
<text x="559.8" y="482.2" font-size="10.2" font-weight="bold" fill="#111" text-anchor="middle" >136</text>
<text x="603.6" y="482.2" font-size="10.2" font-weight="bold" fill="#111" text-anchor="middle" >132</text>
<text x="647.4" y="482.2" font-size="10.2" font-weight="bold" fill="#111" text-anchor="middle" >128</text>
<text x="581.5" y="497" font-size="13.9" font-weight="bold" fill="#111" text-anchor="middle" >Binding Energy (eV)</text>
<text x="489.6" y="346.5" font-size="10.3" font-weight="bold" fill="#111" text-anchor="start" >P 2p</text>
<text x="545.8" y="371.9" font-size="8.8" font-weight="bold" fill="#111" text-anchor="start" textLength="33.6" lengthAdjust="spacingAndGlyphs">133.7 eV</text>
<text x="596.1" y="392.9" font-size="8.8" font-weight="bold" fill="#111" text-anchor="start" textLength="32.7" lengthAdjust="spacingAndGlyphs">130.1 eV</text>
<text x="635" y="360.8" font-size="8.8" font-weight="bold" fill="#111" text-anchor="start" textLength="33" lengthAdjust="spacingAndGlyphs">129.2 eV</text>
<text transform="translate(474,401) rotate(-90)" font-size="14.3" font-weight="bold" fill="#111" text-anchor="middle">Intensity (a.u.)</text>
<text x="461.1" y="350.4" font-size="35" fill="#000" stroke="#000" stroke-width="0.7">i</text>
</svg></body></html>
